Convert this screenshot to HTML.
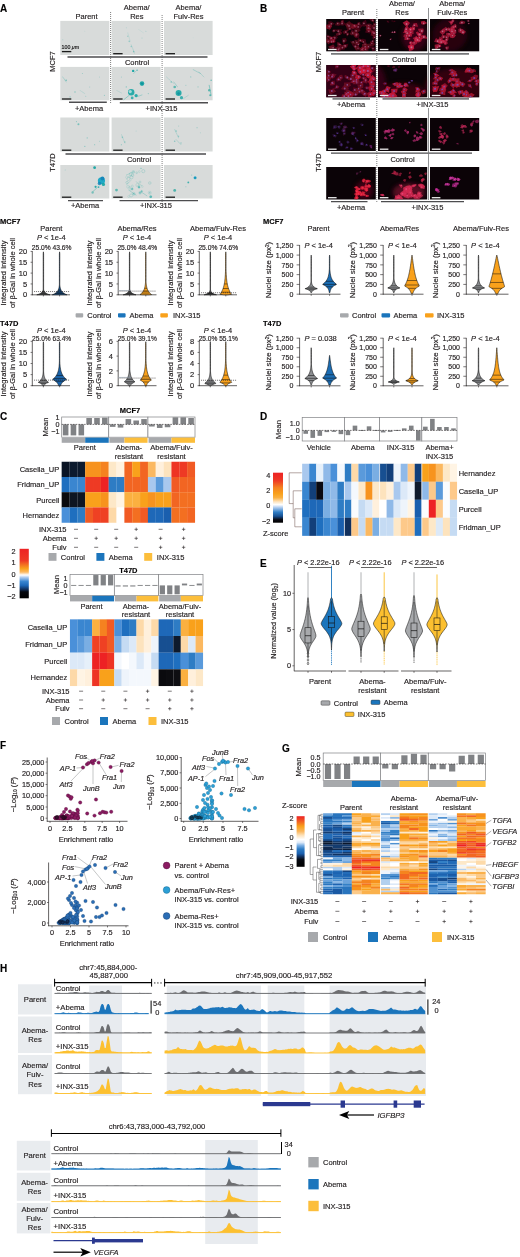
<!DOCTYPE html>
<html><head><meta charset="utf-8"><title>Figure</title>
<style>html,body{margin:0;padding:0;background:#fff}svg{display:block}text{font-family:'Liberation Sans', sans-serif;stroke:#231f20;stroke-width:0.16px}</style>
</head><body>
<svg width="520" height="1257" viewBox="0 0 520 1257">
<defs>
<filter id="b5" x="-5%" y="-5%" width="110%" height="110%"><feGaussianBlur stdDeviation="0.45"/></filter>
<filter id="b30" x="-5%" y="-5%" width="110%" height="110%"><feGaussianBlur stdDeviation="2.2"/></filter>
<filter id="b7" x="-5%" y="-5%" width="110%" height="110%"><feGaussianBlur stdDeviation="0.6"/></filter>
<clipPath id="cb00"><rect x="326.2" y="19" width="49.6" height="32.3"/></clipPath>
<clipPath id="cb01"><rect x="378" y="19" width="49.2" height="32.3"/></clipPath>
<clipPath id="cb02"><rect x="430" y="19" width="49.2" height="32.3"/></clipPath>
<clipPath id="cb10"><rect x="326.2" y="65" width="49.6" height="32.3"/></clipPath>
<clipPath id="cb11"><rect x="378" y="65" width="49.2" height="32.3"/></clipPath>
<clipPath id="cb12"><rect x="430" y="65" width="49.2" height="32.3"/></clipPath>
<clipPath id="cb20"><rect x="326.2" y="118" width="49.6" height="33"/></clipPath>
<clipPath id="cb21"><rect x="378" y="118" width="49.2" height="33"/></clipPath>
<clipPath id="cb22"><rect x="430" y="118" width="49.2" height="33"/></clipPath>
<clipPath id="cb30"><rect x="326.2" y="167" width="49.6" height="32.5"/></clipPath>
<clipPath id="cb31"><rect x="378" y="167" width="49.2" height="32.5"/></clipPath>
<clipPath id="cb32"><rect x="430" y="167" width="49.2" height="32.5"/></clipPath>
<clipPath id="cball"><rect x="326.2" y="19" width="49.6" height="32.3"/><rect x="378" y="19" width="49.2" height="32.3"/><rect x="430" y="19" width="49.2" height="32.3"/><rect x="326.2" y="65" width="49.6" height="32.3"/><rect x="378" y="65" width="49.2" height="32.3"/><rect x="430" y="65" width="49.2" height="32.3"/><rect x="326.2" y="118" width="49.6" height="33"/><rect x="378" y="118" width="49.2" height="33"/><rect x="430" y="118" width="49.2" height="33"/><rect x="326.2" y="167" width="49.6" height="32.5"/><rect x="378" y="167" width="49.2" height="32.5"/><rect x="430" y="167" width="49.2" height="32.5"/></clipPath>
<linearGradient id="gC" x1="0" y1="0" x2="0" y2="1"><stop offset="0" stop-color="#ed2224"/><stop offset="0.24" stop-color="#ee3a24"/><stop offset="0.32" stop-color="#f36f21"/><stop offset="0.4" stop-color="#f9a11b"/><stop offset="0.47" stop-color="#fbb860"/><stop offset="0.53" stop-color="#ffffff"/><stop offset="0.58" stop-color="#a9c8ee"/><stop offset="0.66" stop-color="#3a86d0"/><stop offset="0.74" stop-color="#1e68b8"/><stop offset="0.82" stop-color="#12305c"/><stop offset="0.87" stop-color="#05080f"/><stop offset="1" stop-color="#000000"/></linearGradient>
<linearGradient id="gD" x1="0" y1="0" x2="0" y2="1"><stop offset="0" stop-color="#ed2224"/><stop offset="0.16" stop-color="#ee3a24"/><stop offset="0.3" stop-color="#f58220"/><stop offset="0.42" stop-color="#f9a11b"/><stop offset="0.5" stop-color="#fbb040"/><stop offset="0.58" stop-color="#fde3bd"/><stop offset="0.64" stop-color="#ffffff"/><stop offset="0.7" stop-color="#a9c8ee"/><stop offset="0.79" stop-color="#2e7cc4"/><stop offset="0.87" stop-color="#174f91"/><stop offset="0.94" stop-color="#0a0a12"/><stop offset="1" stop-color="#000000"/></linearGradient>
<linearGradient id="gG" x1="0" y1="0" x2="0" y2="1"><stop offset="0" stop-color="#ed2224"/><stop offset="0.08" stop-color="#f05023"/><stop offset="0.2" stop-color="#f9a11b"/><stop offset="0.3" stop-color="#fbb860"/><stop offset="0.38" stop-color="#fde3bd"/><stop offset="0.46" stop-color="#ffffff"/><stop offset="0.52" stop-color="#dce9f8"/><stop offset="0.58" stop-color="#7aaee3"/><stop offset="0.65" stop-color="#2e7cc4"/><stop offset="0.74" stop-color="#1a5fae"/><stop offset="0.8" stop-color="#12305c"/><stop offset="0.86" stop-color="#05080f"/><stop offset="1" stop-color="#000000"/></linearGradient></defs>
<rect width="520" height="1257" fill="#fff"/>
<text x="0" y="12" font-size="10" fill="#000" font-weight="bold">A</text>
<text x="86.6" y="18.5" font-size="7.5" fill="#231f20" text-anchor="middle">Parent</text>
<text x="136.8" y="9.5" font-size="7.5" fill="#231f20" text-anchor="middle">Abema/</text>
<text x="136.8" y="18.5" font-size="7.5" fill="#231f20" text-anchor="middle">Res</text>
<text x="188.5" y="9.5" font-size="7.5" fill="#231f20" text-anchor="middle">Abema/</text>
<text x="188.5" y="18.5" font-size="7.5" fill="#231f20" text-anchor="middle">Fulv-Res</text>
<g>
<rect x="60.3" y="20.9" width="49" height="34.1" fill="#d8dbda"/>
<rect x="111.6" y="20.9" width="49" height="34.1" fill="#d8dbda"/>
<rect x="164" y="20.9" width="48.6" height="34.1" fill="#d8dbda"/>
<rect x="60.3" y="66.9" width="49" height="33.4" fill="#d8dbda"/>
<rect x="111.6" y="66.9" width="49" height="33.4" fill="#d8dbda"/>
<rect x="164" y="66.9" width="48.6" height="33.4" fill="#d8dbda"/>
<rect x="60.3" y="117.5" width="49" height="34" fill="#d8dbda"/>
<rect x="111.6" y="117.5" width="49" height="34" fill="#d8dbda"/>
<rect x="164" y="117.5" width="48.6" height="34" fill="#d8dbda"/>
<rect x="60.3" y="165" width="49" height="33.5" fill="#d8dbda"/>
<rect x="111.6" y="165" width="49" height="33.5" fill="#d8dbda"/>
<rect x="164" y="165" width="48.6" height="33.5" fill="#d8dbda"/>
</g>
<g filter="url(#b5)">
<circle cx="62.75" cy="39.66" r="0.5" fill="#2aa9a0" opacity="0.3"/>
<circle cx="84.8" cy="31.13" r="0.4" fill="#2aa9a0" opacity="0.2"/>
<circle cx="127.77" cy="36.24" r="0.7" fill="#2aa9a0" opacity="0.35"/>
<circle cx="129.24" cy="41.36" r="0.8" fill="#2aa9a0" opacity="0.4"/>
<circle cx="131.2" cy="46.48" r="0.7" fill="#2aa9a0" opacity="0.4"/>
<circle cx="133.65" cy="51.59" r="0.8" fill="#2aa9a0" opacity="0.45"/>
<circle cx="145.9" cy="31.13" r="0.5" fill="#2aa9a0" opacity="0.3"/>
<circle cx="141.98" cy="37.95" r="0.5" fill="#2aa9a0" opacity="0.25"/>
<circle cx="126.3" cy="27.72" r="0.5" fill="#2aa9a0" opacity="0.25"/>
<circle cx="193.16" cy="37.95" r="0.4" fill="#2aa9a0" opacity="0.15"/>
<circle cx="66.18" cy="80.26" r="0.8" fill="#2aa9a0" opacity="0.6"/>
<circle cx="75" cy="91.95" r="0.7" fill="#2aa9a0" opacity="0.5"/>
<circle cx="82.35" cy="73.58" r="0.5" fill="#2aa9a0" opacity="0.4"/>
<circle cx="89.7" cy="86.94" r="0.5" fill="#2aa9a0" opacity="0.35"/>
<circle cx="99.5" cy="76.92" r="0.5" fill="#2aa9a0" opacity="0.3"/>
<circle cx="70.1" cy="96.96" r="0.6" fill="#2aa9a0" opacity="0.45"/>
<circle cx="104.4" cy="95.29" r="0.6" fill="#2aa9a0" opacity="0.4"/>
<circle cx="85.78" cy="96.29" r="0.5" fill="#2aa9a0" opacity="0.35"/>
<circle cx="133.16" cy="70.91" r="1.2" fill="#17a5a4" opacity="0.95"/>
<circle cx="137.08" cy="70.24" r="0.7" fill="#17a5a4" opacity="0.7"/>
<circle cx="141.98" cy="83.6" r="2.3" fill="#17a5a4" opacity="0.95"/>
<circle cx="141.98" cy="83.6" r="1.2" fill="#0f8c9c" opacity="0.8"/>
<circle cx="131.2" cy="92.28" r="3.2" fill="#17a5a4" opacity="0.9"/>
<circle cx="130.22" cy="91.62" r="1.6" fill="#d8eeee" opacity="0.7"/>
<circle cx="136.1" cy="95.62" r="1.6" fill="#17a5a4" opacity="0.9"/>
<circle cx="132.18" cy="97.96" r="1.4" fill="#17a5a4" opacity="0.8"/>
<circle cx="126.3" cy="86.94" r="0.6" fill="#2aa9a0" opacity="0.5"/>
<circle cx="148.35" cy="93.62" r="0.6" fill="#2aa9a0" opacity="0.4"/>
<circle cx="121.4" cy="76.92" r="0.5" fill="#2aa9a0" opacity="0.4"/>
<circle cx="178.58" cy="92.95" r="3" fill="#17a5a4" opacity="0.9"/>
<circle cx="178.58" cy="93.62" r="1.4" fill="#0f8c9c" opacity="0.7"/>
<circle cx="174.69" cy="86.94" r="1.3" fill="#2aa9a0" opacity="0.7"/>
<circle cx="181.5" cy="97.63" r="1.6" fill="#17a5a4" opacity="0.8"/>
<circle cx="171.29" cy="81.93" r="0.8" fill="#2aa9a0" opacity="0.5"/>
<circle cx="209.2" cy="90.28" r="1.2" fill="#2aa9a0" opacity="0.7"/>
<circle cx="210.17" cy="95.29" r="1" fill="#2aa9a0" opacity="0.7"/>
<circle cx="211.14" cy="80.26" r="0.8" fill="#2aa9a0" opacity="0.6"/>
<circle cx="190.73" cy="76.92" r="0.6" fill="#2aa9a0" opacity="0.4"/>
<circle cx="198.02" cy="86.94" r="0.6" fill="#2aa9a0" opacity="0.4"/>
<circle cx="185.87" cy="85.27" r="0.6" fill="#2aa9a0" opacity="0.35"/>
<circle cx="78.43" cy="124.3" r="1" fill="#2aa9a0" opacity="0.55"/>
<circle cx="76.47" cy="121.58" r="0.6" fill="#2aa9a0" opacity="0.4"/>
<circle cx="87.25" cy="137.9" r="0.7" fill="#2aa9a0" opacity="0.4"/>
<circle cx="84.8" cy="146.4" r="0.7" fill="#2aa9a0" opacity="0.4"/>
<circle cx="94.6" cy="144.7" r="0.6" fill="#2aa9a0" opacity="0.35"/>
<circle cx="99.5" cy="141.3" r="0.5" fill="#2aa9a0" opacity="0.3"/>
<circle cx="122.38" cy="137.22" r="0.8" fill="#2aa9a0" opacity="0.4"/>
<circle cx="124.83" cy="141.98" r="0.8" fill="#2aa9a0" opacity="0.4"/>
<circle cx="121.4" cy="144.7" r="0.6" fill="#2aa9a0" opacity="0.35"/>
<circle cx="136.1" cy="131.1" r="0.5" fill="#2aa9a0" opacity="0.2"/>
<circle cx="176.15" cy="131.1" r="0.8" fill="#2aa9a0" opacity="0.4"/>
<circle cx="178.58" cy="136.2" r="0.7" fill="#2aa9a0" opacity="0.4"/>
<circle cx="174.69" cy="141.3" r="0.8" fill="#2aa9a0" opacity="0.45"/>
<circle cx="181.01" cy="143" r="0.7" fill="#2aa9a0" opacity="0.4"/>
<circle cx="197.05" cy="127.7" r="0.6" fill="#2aa9a0" opacity="0.35"/>
<circle cx="178.58" cy="126" r="0.6" fill="#2aa9a0" opacity="0.3"/>
<circle cx="200.45" cy="132.8" r="0.5" fill="#2aa9a0" opacity="0.25"/>
<circle cx="101.46" cy="180.75" r="3.6" fill="#19a6c4" opacity="0.95"/>
<circle cx="102.44" cy="178.4" r="2" fill="#1283b8" opacity="0.9"/>
<circle cx="99.5" cy="183.43" r="1.8" fill="#1283b8" opacity="0.8"/>
<circle cx="103.42" cy="184.43" r="1.6" fill="#17a5a4" opacity="0.9"/>
<circle cx="94.6" cy="167.68" r="1.4" fill="#17a5a4" opacity="0.95"/>
<circle cx="95.58" cy="186.78" r="1.1" fill="#17a5a4" opacity="0.9"/>
<circle cx="98.52" cy="187.11" r="0.9" fill="#17a5a4" opacity="0.8"/>
<circle cx="92.64" cy="192.47" r="1.2" fill="#2aa9a0" opacity="0.5"/>
<circle cx="65.2" cy="170.03" r="0.5" fill="#2aa9a0" opacity="0.3"/>
<circle cx="116.5" cy="190.12" r="1.4" fill="#2aa9a0" opacity="0.7"/>
<circle cx="141" cy="168.35" r="0.7" fill="#2aa9a0" opacity="0.5"/>
<circle cx="137.38" cy="185.03" r="1.54" fill="none" stroke="#2aa9a0" stroke-width="0.45" opacity="0.34"/>
<circle cx="138.74" cy="185.77" r="0.95" fill="none" stroke="#2aa9a0" stroke-width="0.45" opacity="0.35"/>
<circle cx="141.73" cy="191.28" r="0.77" fill="#17a5a4" opacity="0.46"/>
<circle cx="141.73" cy="191.28" r="0.87" fill="none" stroke="#2aa9a0" stroke-width="0.45" opacity="0.42"/>
<circle cx="143.29" cy="171.15" r="1.59" fill="none" stroke="#2aa9a0" stroke-width="0.45" opacity="0.46"/>
<circle cx="142.32" cy="186.52" r="0.93" fill="none" stroke="#2aa9a0" stroke-width="0.45" opacity="0.22"/>
<circle cx="139.25" cy="171.62" r="0.95" fill="none" stroke="#2aa9a0" stroke-width="0.45" opacity="0.28"/>
<circle cx="127.04" cy="182.46" r="1.15" fill="none" stroke="#2aa9a0" stroke-width="0.45" opacity="0.43"/>
<circle cx="139.02" cy="187.18" r="1.05" fill="#17a5a4" opacity="0.58"/>
<circle cx="139.02" cy="187.18" r="1.17" fill="none" stroke="#2aa9a0" stroke-width="0.45" opacity="0.29"/>
<circle cx="150.74" cy="196.71" r="1.29" fill="#17a5a4" opacity="0.6"/>
<circle cx="150.74" cy="196.71" r="1.05" fill="none" stroke="#2aa9a0" stroke-width="0.45" opacity="0.28"/>
<circle cx="133.38" cy="171.91" r="1.41" fill="none" stroke="#2aa9a0" stroke-width="0.45" opacity="0.32"/>
<circle cx="149.77" cy="192.73" r="0.7" fill="#17a5a4" opacity="0.42"/>
<circle cx="149.77" cy="192.73" r="1.53" fill="none" stroke="#2aa9a0" stroke-width="0.45" opacity="0.34"/>
<circle cx="128.09" cy="186.89" r="1.42" fill="none" stroke="#2aa9a0" stroke-width="0.45" opacity="0.29"/>
<circle cx="128.44" cy="178.94" r="1.57" fill="none" stroke="#2aa9a0" stroke-width="0.45" opacity="0.41"/>
<circle cx="129.19" cy="176.63" r="0.88" fill="none" stroke="#2aa9a0" stroke-width="0.45" opacity="0.23"/>
<circle cx="140" cy="182.02" r="0.95" fill="none" stroke="#2aa9a0" stroke-width="0.45" opacity="0.4"/>
<circle cx="129.51" cy="187.28" r="0.89" fill="none" stroke="#2aa9a0" stroke-width="0.45" opacity="0.33"/>
<circle cx="131.52" cy="177.26" r="1.58" fill="none" stroke="#2aa9a0" stroke-width="0.45" opacity="0.42"/>
<circle cx="133.75" cy="193.74" r="0.85" fill="#17a5a4" opacity="0.49"/>
<circle cx="133.75" cy="193.74" r="1.48" fill="none" stroke="#2aa9a0" stroke-width="0.45" opacity="0.38"/>
<circle cx="128.76" cy="196.54" r="0.97" fill="none" stroke="#2aa9a0" stroke-width="0.45" opacity="0.28"/>
<circle cx="133.56" cy="171.99" r="0.87" fill="none" stroke="#2aa9a0" stroke-width="0.45" opacity="0.37"/>
<circle cx="132.25" cy="186.14" r="1.1" fill="none" stroke="#2aa9a0" stroke-width="0.45" opacity="0.33"/>
<circle cx="149.8" cy="182.99" r="1.26" fill="none" stroke="#2aa9a0" stroke-width="0.45" opacity="0.44"/>
<circle cx="130.78" cy="174.16" r="1.53" fill="none" stroke="#2aa9a0" stroke-width="0.45" opacity="0.42"/>
<circle cx="132.41" cy="175.11" r="1.39" fill="none" stroke="#2aa9a0" stroke-width="0.45" opacity="0.46"/>
<circle cx="131.12" cy="195.49" r="1.51" fill="none" stroke="#2aa9a0" stroke-width="0.45" opacity="0.37"/>
<circle cx="136.63" cy="172.81" r="0.83" fill="none" stroke="#2aa9a0" stroke-width="0.45" opacity="0.46"/>
<circle cx="132.14" cy="188.91" r="0.88" fill="#17a5a4" opacity="0.64"/>
<circle cx="132.14" cy="188.91" r="1.28" fill="none" stroke="#2aa9a0" stroke-width="0.45" opacity="0.29"/>
<circle cx="130.6" cy="189.33" r="0.86" fill="none" stroke="#2aa9a0" stroke-width="0.45" opacity="0.28"/>
<circle cx="140" cy="192.87" r="1.13" fill="#17a5a4" opacity="0.45"/>
<circle cx="140" cy="192.87" r="1.53" fill="none" stroke="#2aa9a0" stroke-width="0.45" opacity="0.27"/>
<circle cx="126.71" cy="177.24" r="1.16" fill="none" stroke="#2aa9a0" stroke-width="0.45" opacity="0.24"/>
<circle cx="195.1" cy="177.73" r="1.5" fill="#19a6c4" opacity="0.95"/>
<circle cx="195.1" cy="177.73" r="0.8" fill="#1283b8" opacity="0.9"/>
<circle cx="188.3" cy="182.42" r="0.9" fill="#17a5a4" opacity="0.8"/>
<circle cx="174.69" cy="190.46" r="1.4" fill="#2aa9a0" opacity="0.8"/>
<circle cx="191.7" cy="175.05" r="0.6" fill="#2aa9a0" opacity="0.4"/>
<circle cx="185.87" cy="186.78" r="0.5" fill="#2aa9a0" opacity="0.4"/>
<line x1="129.24" y1="95.29" x2="123.85" y2="99.63" stroke="#2aa9a0" stroke-width="0.8" opacity="0.5" stroke-linecap="round"/>
<line x1="136.1" y1="96.96" x2="141.98" y2="94.96" stroke="#2aa9a0" stroke-width="0.7" opacity="0.45" stroke-linecap="round"/>
<line x1="133.65" y1="73.58" x2="136.1" y2="70.91" stroke="#2aa9a0" stroke-width="0.6" opacity="0.4" stroke-linecap="round"/>
<line x1="116.5" y1="90.28" x2="121.4" y2="92.95" stroke="#2aa9a0" stroke-width="0.5" opacity="0.3" stroke-linecap="round"/>
<line x1="193.16" y1="69.57" x2="200.45" y2="73.58" stroke="#2aa9a0" stroke-width="0.7" opacity="0.4" stroke-linecap="round"/>
<line x1="198.99" y1="71.91" x2="203.85" y2="76.92" stroke="#2aa9a0" stroke-width="0.6" opacity="0.35" stroke-linecap="round"/>
<line x1="209.2" y1="85.27" x2="211.14" y2="95.29" stroke="#2aa9a0" stroke-width="0.9" opacity="0.5" stroke-linecap="round"/>
<line x1="166.43" y1="76.92" x2="173.72" y2="83.6" stroke="#2aa9a0" stroke-width="0.5" opacity="0.3" stroke-linecap="round"/>
<line x1="177.61" y1="86.94" x2="173.72" y2="81.93" stroke="#2aa9a0" stroke-width="0.7" opacity="0.4" stroke-linecap="round"/>
<line x1="183.44" y1="98.63" x2="188.3" y2="95.29" stroke="#2aa9a0" stroke-width="0.6" opacity="0.35" stroke-linecap="round"/>
<line x1="62.75" y1="76.92" x2="66.18" y2="81.93" stroke="#2aa9a0" stroke-width="0.6" opacity="0.4" stroke-linecap="round"/>
<line x1="79.9" y1="90.28" x2="84.8" y2="93.62" stroke="#2aa9a0" stroke-width="0.5" opacity="0.3" stroke-linecap="round"/>
<line x1="127.77" y1="32.84" x2="130.22" y2="41.36" stroke="#2aa9a0" stroke-width="0.5" opacity="0.22" stroke-linecap="round"/>
<line x1="131.2" y1="44.77" x2="134.63" y2="53.3" stroke="#2aa9a0" stroke-width="0.6" opacity="0.28" stroke-linecap="round"/>
<line x1="138.55" y1="29.42" x2="143.45" y2="32.84" stroke="#2aa9a0" stroke-width="0.4" opacity="0.18" stroke-linecap="round"/>
<line x1="174.69" y1="129.4" x2="178.58" y2="137.9" stroke="#2aa9a0" stroke-width="0.6" opacity="0.35" stroke-linecap="round"/>
<line x1="176.15" y1="139.6" x2="181.01" y2="144.7" stroke="#2aa9a0" stroke-width="0.6" opacity="0.35" stroke-linecap="round"/>
<line x1="121.4" y1="134.5" x2="124.83" y2="143" stroke="#2aa9a0" stroke-width="0.6" opacity="0.3" stroke-linecap="round"/>
<line x1="126.3" y1="175.05" x2="133.65" y2="171.7" stroke="#2aa9a0" stroke-width="0.6" opacity="0.35" stroke-linecap="round"/>
<line x1="136.1" y1="181.75" x2="141.98" y2="185.77" stroke="#2aa9a0" stroke-width="0.6" opacity="0.35" stroke-linecap="round"/>
<line x1="128.75" y1="190.12" x2="136.1" y2="195.15" stroke="#2aa9a0" stroke-width="0.7" opacity="0.4" stroke-linecap="round"/>
<line x1="141" y1="191.8" x2="146.88" y2="195.82" stroke="#2aa9a0" stroke-width="0.7" opacity="0.4" stroke-linecap="round"/>
<line x1="131.2" y1="180.07" x2="126.3" y2="185.1" stroke="#2aa9a0" stroke-width="0.6" opacity="0.3" stroke-linecap="round"/>
<line x1="92.64" y1="191.8" x2="97.05" y2="187.78" stroke="#2aa9a0" stroke-width="0.8" opacity="0.5" stroke-linecap="round"/>
</g>
<line x1="61.9" y1="51.6" x2="71.3" y2="51.6" stroke="#1a1a1a" stroke-width="1.3"/>
<line x1="113.2" y1="53.7" x2="122.6" y2="53.7" stroke="#1a1a1a" stroke-width="1.3"/>
<line x1="165.6" y1="53.7" x2="175" y2="53.7" stroke="#1a1a1a" stroke-width="1.3"/>
<line x1="61.9" y1="99" x2="71.3" y2="99" stroke="#1a1a1a" stroke-width="1.3"/>
<line x1="113.2" y1="99" x2="122.6" y2="99" stroke="#1a1a1a" stroke-width="1.3"/>
<line x1="165.6" y1="99" x2="175" y2="99" stroke="#1a1a1a" stroke-width="1.3"/>
<line x1="61.9" y1="150.2" x2="71.3" y2="150.2" stroke="#1a1a1a" stroke-width="1.3"/>
<line x1="113.2" y1="150.2" x2="122.6" y2="150.2" stroke="#1a1a1a" stroke-width="1.3"/>
<line x1="165.6" y1="150.2" x2="175" y2="150.2" stroke="#1a1a1a" stroke-width="1.3"/>
<line x1="61.9" y1="197.2" x2="71.3" y2="197.2" stroke="#1a1a1a" stroke-width="1.3"/>
<line x1="113.2" y1="197.2" x2="122.6" y2="197.2" stroke="#1a1a1a" stroke-width="1.3"/>
<line x1="165.6" y1="197.2" x2="175" y2="197.2" stroke="#1a1a1a" stroke-width="1.3"/>
<text x="61.5" y="49" font-size="5.3" fill="#111">100 <tspan font-style="italic">μ</tspan>m</text>
<line x1="110.6" y1="12" x2="110.6" y2="104" stroke="#333" stroke-width="0.7" stroke-dasharray="0.9 1.1"/>
<line x1="162.1" y1="15" x2="162.1" y2="203" stroke="#333" stroke-width="0.7" stroke-dasharray="0.9 1.1"/>
<line x1="67.5" y1="57" x2="207.5" y2="57" stroke="#4d4d4f" stroke-width="1.5"/>
<line x1="69" y1="102.3" x2="106.8" y2="102.3" stroke="#4d4d4f" stroke-width="1.4"/>
<line x1="119.8" y1="102.7" x2="208" y2="102.7" stroke="#4d4d4f" stroke-width="1.4"/>
<line x1="65.5" y1="154" x2="206" y2="154" stroke="#4d4d4f" stroke-width="1.4"/>
<line x1="68" y1="200.7" x2="103" y2="200.7" stroke="#4d4d4f" stroke-width="1.3"/>
<line x1="119.5" y1="200.7" x2="198" y2="200.7" stroke="#4d4d4f" stroke-width="1.3"/>
<text x="137" y="65" font-size="7.5" fill="#231f20" text-anchor="middle">Control</text>
<text x="89" y="111" font-size="7.5" fill="#231f20" text-anchor="middle">+Abema</text>
<text x="161.5" y="111" font-size="7.5" fill="#231f20" text-anchor="middle">+INX-315</text>
<text x="139" y="161.8" font-size="7.5" fill="#231f20" text-anchor="middle">Control</text>
<text x="85" y="208" font-size="7.5" fill="#231f20" text-anchor="middle">+Abema</text>
<text x="156" y="208" font-size="7.5" fill="#231f20" text-anchor="middle">+INX-315</text>
<text x="55" y="61.5" font-size="7.5" fill="#231f20" text-anchor="middle" transform="rotate(-90 55 61.5)">MCF7</text>
<text x="55" y="162.5" font-size="7.5" fill="#231f20" text-anchor="middle" transform="rotate(-90 55 162.5)">T47D</text>
<text x="260" y="12" font-size="10" fill="#000" font-weight="bold">B</text>
<text x="353" y="15.2" font-size="7.5" fill="#231f20" text-anchor="middle">Parent</text>
<text x="402" y="6.3" font-size="7.5" fill="#231f20" text-anchor="middle">Abema/</text>
<text x="402" y="15.2" font-size="7.5" fill="#231f20" text-anchor="middle">Res</text>
<text x="452.3" y="6.3" font-size="7.5" fill="#231f20" text-anchor="middle">Abema/</text>
<text x="452.3" y="15.2" font-size="7.5" fill="#231f20" text-anchor="middle">Fulv-Res</text>
<rect x="326.2" y="19" width="49.6" height="32.3" fill="#0b0307"/>
<rect x="378" y="19" width="49.2" height="32.3" fill="#0b0307"/>
<rect x="430" y="19" width="49.2" height="32.3" fill="#0b0307"/>
<rect x="326.2" y="65" width="49.6" height="32.3" fill="#0b0307"/>
<rect x="378" y="65" width="49.2" height="32.3" fill="#0b0307"/>
<rect x="430" y="65" width="49.2" height="32.3" fill="#0b0307"/>
<rect x="326.2" y="118" width="49.6" height="33" fill="#0b0307"/>
<rect x="378" y="118" width="49.2" height="33" fill="#0b0307"/>
<rect x="430" y="118" width="49.2" height="33" fill="#0b0307"/>
<rect x="326.2" y="167" width="49.6" height="32.5" fill="#0b0307"/>
<rect x="378" y="167" width="49.2" height="32.5" fill="#0b0307"/>
<rect x="430" y="167" width="49.2" height="32.5" fill="#0b0307"/>
<g filter="url(#b30)" clip-path="url(#cball)"><ellipse cx="414.41" cy="35.96" rx="12.79" ry="15.34" fill="#4a081a" opacity="0.7"/><ellipse cx="449.68" cy="35.15" rx="17.22" ry="16.15" fill="#3c0615" opacity="0.6"/><ellipse cx="351" cy="81.15" rx="34.72" ry="25.84" fill="#42071a" opacity="0.7"/><ellipse cx="402.6" cy="92.45" rx="22.14" ry="9.69" fill="#520919" opacity="0.6"/><ellipse cx="454.6" cy="86" rx="29.52" ry="17.76" fill="#480817" opacity="0.65"/><ellipse cx="363.9" cy="190.4" rx="8.93" ry="9.75" fill="#6a0a20" opacity="0.55"/><ellipse cx="408.75" cy="192.19" rx="15.99" ry="8.94" fill="#7a1230" opacity="0.7"/></g>
<g filter="url(#b7)">
<g clip-path="url(#cb00)">
<polygon points="354.5,39.56 357.9,40.62 358.56,41.36 360.73,43.99 357.33,44.14 354.75,45.23 354.61,42.49" fill="#6e0b20" opacity="0.69"/>
<circle cx="356.79" cy="42.65" r="0.93" fill="#b0688a" opacity="0.7"/>
<polygon points="332.62,39.14 332.47,41.81 328.53,39.47 328.84,36.76 331.47,37.15" fill="#6e0b20" opacity="0.71"/>
<circle cx="330.73" cy="39.01" r="0.82" fill="#b0688a" opacity="0.7"/>
<polygon points="371.71,28.02 371.24,31.2 367.93,31.33 367.39,29.12 369.08,26.36" fill="#6e0b20" opacity="0.54"/>
<circle cx="369.73" cy="28.85" r="0.8" fill="#b0688a" opacity="0.7"/>
<polygon points="340.65,45.06 342.96,48.45 340.7,49.68 337.54,52.18 335.3,48.87 338.48,44.57" fill="#6e0b20" opacity="0.58"/>
<circle cx="339.3" cy="48.49" r="0.97" fill="#b0688a" opacity="0.7"/>
<polygon points="365.88,19.81 366.78,23.06 365.38,26.78 361.7,26.32 361.59,22.84 363.13,21.59" fill="#6e0b20" opacity="0.52"/>
<circle cx="363.91" cy="23.36" r="0.91" fill="#b0688a" opacity="0.7"/>
<polygon points="372.85,24.64 373.41,22.43 375.54,23.13 377.57,23.5 376.88,25.62 374.36,26.2 371.74,26.39" fill="#6e0b20" opacity="0.64"/>
<circle cx="374.82" cy="24.64" r="0.7" fill="#b0688a" opacity="0.7"/>
<polygon points="349.38,27.27 347.34,27.26 344.12,24.13 346.07,22.98 349.38,20.96 351.75,23.14" fill="#6e0b20" opacity="0.62"/>
<circle cx="347.69" cy="24.76" r="0.94" fill="#b0688a" opacity="0.7"/>
<polygon points="369.53,23.5 371.94,24.53 371.34,26.88 368.75,27.55 366.93,26.83 364.94,25.54 367.24,23.8" fill="#6e0b20" opacity="0.71"/>
<circle cx="368.6" cy="25.49" r="0.84" fill="#b0688a" opacity="0.7"/>
<polygon points="327.69,38.8 325.67,37.36 325.57,36.13 327.65,34.54 329.11,35.56 330.21,36.88 329.38,37.84" fill="#6e0b20" opacity="0.53"/>
<circle cx="328.03" cy="36.4" r="0.77" fill="#b0688a" opacity="0.7"/>
<polygon points="344.33,44.33 347.11,45.09 346.05,47.46 342.81,48.36 341.31,45.35" fill="#6e0b20" opacity="0.51"/>
<circle cx="344.23" cy="45.86" r="0.77" fill="#b0688a" opacity="0.7"/>
<polygon points="358.55,22.88 360.14,23.5 362.44,25.84 360.11,28.77 357.63,28.82 356.4,27.12 354.63,25.71" fill="#6e0b20" opacity="0.58"/>
<circle cx="358.06" cy="26.89" r="0.9" fill="#b0688a" opacity="0.7"/>
<polygon points="366.32,48.8 364.78,46.65 365.91,44.07 370.2,43.5 371.59,44.99 370.11,47.64 369.04,48.95" fill="#6e0b20" opacity="0.63"/>
<circle cx="368.22" cy="46.56" r="0.9" fill="#b0688a" opacity="0.7"/>
<polygon points="353.17,33.52 353.81,29.44 357.6,27.94 360.83,30 357.52,33.11" fill="#6e0b20" opacity="0.66"/>
<circle cx="356.1" cy="30.84" r="0.96" fill="#b0688a" opacity="0.7"/>
<polygon points="332.18,38.17 333.98,35.46 335.87,35.59 338.12,37.27 336.15,39.79 332.25,40.71" fill="#6e0b20" opacity="0.51"/>
<circle cx="334.78" cy="37.87" r="0.91" fill="#b0688a" opacity="0.7"/>
<polygon points="373.1,42.37 375.52,43.9 373.24,46.38 369.13,45.79 370.06,44.03 369.99,41.51" fill="#6e0b20" opacity="0.64"/>
<circle cx="371.86" cy="43.43" r="0.76" fill="#b0688a" opacity="0.7"/>
<polygon points="346.9,40.88 343.14,44.31 342.21,41.21 342.3,38.51 345.96,37.98" fill="#6e0b20" opacity="0.64"/>
<circle cx="343.84" cy="40.92" r="0.93" fill="#b0688a" opacity="0.7"/>
<polygon points="348.71,29.78 347.08,32.58 343.97,34.5 342.41,31.66 344.6,30.15" fill="#6e0b20" opacity="0.65"/>
<circle cx="345.78" cy="32.15" r="0.95" fill="#b0688a" opacity="0.7"/>
<polygon points="356.45,33.74 351.85,35.62 349.7,34.28 351.85,29.36 354.1,31.95" fill="#6e0b20" opacity="0.69"/>
<circle cx="352.64" cy="32.98" r="0.85" fill="#b0688a" opacity="0.7"/>
<polygon points="371.98,40.18 374.28,39.33 374.37,41.57 373.23,43.96 370.96,42.63 370.99,41.21" fill="#6e0b20" opacity="0.59"/>
<circle cx="372.61" cy="41.31" r="0.73" fill="#b0688a" opacity="0.7"/>
<polygon points="333.05,40.14 332.93,41.93 330.94,43.17 328.57,41.15 329.88,39.52 331.91,38.93" fill="#6e0b20" opacity="0.67"/>
<circle cx="331.56" cy="40.56" r="0.84" fill="#b0688a" opacity="0.7"/>
<polygon points="340.64,32.39 337.42,32.52 335.49,30.17 337.95,28.89 342.35,29.58" fill="#6e0b20" opacity="0.53"/>
<circle cx="338.37" cy="31.27" r="0.91" fill="#b0688a" opacity="0.7"/>
<polygon points="344.29,44.22 348.5,43.69 347.63,46.25 346.52,48.01 344.28,47.87 342.68,45.34" fill="#6e0b20" opacity="0.59"/>
<circle cx="345.29" cy="45.92" r="0.97" fill="#b0688a" opacity="0.7"/>
<polygon points="355.09,43.98 357.36,42.32 358.65,43.15 359.64,44.3 358.54,46.7 356.98,45.3" fill="#6e0b20" opacity="0.61"/>
<circle cx="358.28" cy="44.47" r="0.82" fill="#b0688a" opacity="0.7"/>
<polygon points="345.09,32.29 349.43,32.79 349.07,34.58 346.97,36.62 346.23,34.33" fill="#6e0b20" opacity="0.7"/>
<circle cx="347.51" cy="34.26" r="0.72" fill="#b0688a" opacity="0.7"/>
<polygon points="340.71,21.64 341.16,20.41 343.49,19.55 343.84,21.21 343.73,22.59 342.04,23.59" fill="#6e0b20" opacity="0.71"/>
<circle cx="342.16" cy="21.64" r="0.7" fill="#b0688a" opacity="0.7"/>
<polygon points="347.31,28.63 347.92,27.81 349.81,25.38 351.59,26.76 353.02,29.23 350.51,29.78 346.94,31.28" fill="#6e0b20" opacity="0.63"/>
<circle cx="349.74" cy="28.7" r="0.91" fill="#b0688a" opacity="0.7"/>
<polygon points="339.88,44.58 338.83,45.55 337.01,45.79 337.08,44.09 336.9,41.68 340.01,42.71" fill="#6e0b20" opacity="0.59"/>
<circle cx="338.5" cy="44.11" r="0.72" fill="#b0688a" opacity="0.7"/>
<polygon points="340.69,21.9 342.17,20.68 345.24,23.19 343.41,25.79 338.61,24.91" fill="#6e0b20" opacity="0.57"/>
<circle cx="342.11" cy="23.44" r="0.85" fill="#b0688a" opacity="0.7"/>
<polygon points="337.96,21.41 340.46,22.68 339.26,25.89 334.64,25.26 336.11,22.46" fill="#6e0b20" opacity="0.61"/>
<circle cx="337.71" cy="23.6" r="0.78" fill="#b0688a" opacity="0.7"/>
<polygon points="361.81,48.74 361.96,44.07 367.17,43.81 368.15,47.22 365.09,49.94" fill="#6e0b20" opacity="0.71"/>
<circle cx="365.24" cy="46.89" r="0.96" fill="#b0688a" opacity="0.7"/>
<polygon points="339.35,46.09 337.66,44.37 338.67,42.45 341.39,44.17 343.34,46.33" fill="#6e0b20" opacity="0.68"/>
<circle cx="339.9" cy="44.48" r="0.8" fill="#b0688a" opacity="0.7"/>
<polygon points="371.6,21.59 369.08,19.1 372.88,18.97 374.46,20.1 373.63,22.61" fill="#6e0b20" opacity="0.71"/>
<circle cx="372.67" cy="20.24" r="0.85" fill="#b0688a" opacity="0.7"/>
<polygon points="344.55,49.76 341.34,49.95 340.77,47.72 339.82,45.35 343.56,46.37 346.05,46.87" fill="#6e0b20" opacity="0.55"/>
<circle cx="342.41" cy="47.66" r="0.83" fill="#b0688a" opacity="0.7"/>
<polygon points="345.53,25.08 348.51,23.83 352.49,23.24 352.81,28.1 349.48,28.55 346.6,28.8" fill="#6e0b20" opacity="0.61"/>
<circle cx="349.02" cy="25.88" r="0.94" fill="#b0688a" opacity="0.7"/>
<polygon points="333.27,39.29 335.27,41.64 333.2,43.44 330.11,42.67 329.03,39.84" fill="#6e0b20" opacity="0.68"/>
<circle cx="331.61" cy="41.87" r="0.96" fill="#b0688a" opacity="0.7"/>
<polygon points="354.8,32.25 359.09,33.17 359.57,35.69 358.67,37.9 356.03,38.21 353.56,36.56 354.56,35.2" fill="#6e0b20" opacity="0.52"/>
<circle cx="356.16" cy="35.61" r="0.84" fill="#b0688a" opacity="0.7"/>
<polygon points="362.91,42.98 360.27,41.68 362.63,38.62 366.1,39.79 365.78,43.1" fill="#6e0b20" opacity="0.55"/>
<circle cx="363.37" cy="41.9" r="0.78" fill="#b0688a" opacity="0.7"/>
<polygon points="341.15,49.35 340.19,51.7 338.07,52.41 336.25,50.18 336.62,46.63 340.37,46.31" fill="#6e0b20" opacity="0.56"/>
<circle cx="338.34" cy="49.44" r="0.85" fill="#b0688a" opacity="0.7"/>
<polygon points="366.73,44.78 364.49,46.3 362.41,44.34 364.23,42.45 366.58,42.53" fill="#6e0b20" opacity="0.63"/>
<circle cx="365.01" cy="44.12" r="0.71" fill="#b0688a" opacity="0.7"/>
<polygon points="334.06,46.88 331.72,48.53 329.73,49.13 328.16,46.23 330.9,45.64 333.5,44.69" fill="#6e0b20" opacity="0.71"/>
<circle cx="331.1" cy="47.18" r="0.79" fill="#b0688a" opacity="0.7"/>
<polygon points="355.8,45.83 357.17,45.63 359.35,46.69 361.07,48.63 358.76,50.06 356.68,50.65 354.61,49.18" fill="#6e0b20" opacity="0.62"/>
<circle cx="357.96" cy="48.33" r="0.76" fill="#b0688a" opacity="0.7"/>
<polygon points="369.69,33.51 365.17,32.6 365.98,30.06 369.69,28.83 372.06,30.5" fill="#6e0b20" opacity="0.58"/>
<circle cx="368.75" cy="31.06" r="0.93" fill="#b0688a" opacity="0.7"/>
<polygon points="371.45,46.37 375.48,47.2 375.07,48.32 375.66,50.42 372.15,51.13 371.85,49.52 369.85,47.58" fill="#6e0b20" opacity="0.52"/>
<circle cx="372.99" cy="48.49" r="0.71" fill="#b0688a" opacity="0.7"/>
<polygon points="374.48,30.76 370.94,27.9 371.81,25.08 375.46,26.21 375.49,29.04" fill="#6e0b20" opacity="0.67"/>
<circle cx="374.06" cy="27.91" r="0.91" fill="#b0688a" opacity="0.7"/>
<polygon points="340.54,35.05 339.13,35.16 336.53,36.36 335.54,33.57 338.21,32.84 339.36,30.96 342.51,32.65" fill="#6e0b20" opacity="0.71"/>
<circle cx="339.23" cy="33.95" r="0.8" fill="#b0688a" opacity="0.7"/>
<polygon points="351.7,27.49 353.11,25.33 355.07,23.58 356.51,25.41 357.73,26.67 357.05,29.57 355.26,28.71" fill="#6e0b20" opacity="0.56"/>
<circle cx="355.13" cy="26.39" r="0.82" fill="#b0688a" opacity="0.7"/>
<polygon points="360.12,24.4 359.09,25.16 356.16,24.92 357.06,22.89 358.77,21.63 360.44,22.34" fill="#6e0b20" opacity="0.64"/>
<circle cx="358.64" cy="23.9" r="0.74" fill="#b0688a" opacity="0.7"/>
<polygon points="331.1,21.34 334.85,23.7 333.02,24.65 330.63,26.17 328.59,25.05 328.03,21.5" fill="#6e0b20" opacity="0.56"/>
<circle cx="331.31" cy="23.82" r="0.89" fill="#b0688a" opacity="0.7"/>
<polygon points="352.17,41.37 353.78,40.67 355.03,42.36 355.1,44.34 352.14,44.52 350.1,41.6" fill="#6e0b20" opacity="0.62"/>
<circle cx="353.12" cy="41.94" r="0.73" fill="#b0688a" opacity="0.7"/>
<polygon points="333.19,43.94 335.21,46.57 337.17,47.8 334.38,49.59 330.6,48.96 329.07,46.71" fill="#6e0b20" opacity="0.57"/>
<circle cx="333.1" cy="47.68" r="0.86" fill="#b0688a" opacity="0.7"/>
<polygon points="332.27,30.02 333.54,29.07 335.68,29.22 337.43,30.19 335.04,31.84 333.86,32.5 332.19,31.94" fill="#6e0b20" opacity="0.54"/>
<circle cx="333.94" cy="30.75" r="0.84" fill="#b0688a" opacity="0.7"/>
<polygon points="351.72,44.29 355.78,44.75 359.26,46.32 356.47,49.66 353.83,47.4" fill="#6e0b20" opacity="0.59"/>
<circle cx="355.33" cy="46.56" r="0.96" fill="#b0688a" opacity="0.7"/>
<polygon points="363.57,41.55 360.96,41.76 358.1,42.06 357.61,39.04 358.59,38.28 361.74,39.17 362.77,40.28" fill="#8c0f28" opacity="0.55"/>
<circle cx="360.3" cy="40.53" r="0.82" fill="#b0688a" opacity="0.7"/>
<polygon points="361.86,46.95 364.34,47.11 366.53,49.24 362.28,50.94 360.21,49.32" fill="#8c0f28" opacity="0.53"/>
<circle cx="362.84" cy="48.57" r="0.8" fill="#b0688a" opacity="0.7"/>
<polygon points="364.08,51.17 360.15,52.11 359.37,48.84 361.96,46.84 364.31,49.37" fill="#8c0f28" opacity="0.51"/>
<circle cx="362.07" cy="49.54" r="0.76" fill="#b0688a" opacity="0.7"/>
<polygon points="375.33,34.23 373.44,33.74 370.85,33.38 370.82,31.87 371.58,29.95 373.09,30.22 374.58,31.99" fill="#8c0f28" opacity="0.67"/>
<circle cx="373.02" cy="32.18" r="0.85" fill="#b0688a" opacity="0.7"/>
<polygon points="358.72,34.7 355.94,37.68 353.49,35.3 353.52,33.77 355.97,32.67 358.66,32.88" fill="#8c0f28" opacity="0.51"/>
<circle cx="356.51" cy="34.43" r="0.96" fill="#b0688a" opacity="0.7"/>
<polygon points="375.39,38.34 372.75,39.1 372.47,37.42 373.68,34.67 375.77,36.7" fill="#8c0f28" opacity="0.6"/>
<circle cx="374.58" cy="37.43" r="0.69" fill="#b0688a" opacity="0.7"/>
<polygon points="364.29,49.25 365.24,47.12 367.11,46.36 368.34,48.71 368.6,50.49 366.29,51.3 363.41,50.49" fill="#8c0f28" opacity="0.52"/>
<circle cx="365.63" cy="49.32" r="0.76" fill="#b0688a" opacity="0.7"/>
<polygon points="368.08,31.45 365.57,29.31 366.31,25.03 369.94,26.26 371.55,29.72" fill="#8c0f28" opacity="0.64"/>
<circle cx="368.43" cy="28.14" r="0.96" fill="#b0688a" opacity="0.7"/>
<polygon points="351.67,23.59 355.44,24.48 357.85,25.19 356.25,27.43 352.96,29.41 351.16,27.15" fill="#8c0f28" opacity="0.65"/>
<circle cx="354.29" cy="25.77" r="0.83" fill="#b0688a" opacity="0.7"/>
<polygon points="372.96,36.2 370.45,35.29 371.88,32.58 373.73,30.19 375.44,30.86 377.5,33.72 376.23,35.49" fill="#8c0f28" opacity="0.57"/>
<circle cx="374.1" cy="33.23" r="0.92" fill="#b0688a" opacity="0.7"/>
<polygon points="335.01,38.72 335.55,42.07 333.23,42.92 332.14,41.78 332.04,39.21" fill="#a01230" opacity="0.69"/>
<circle cx="333.43" cy="41.23" r="0.76" fill="#b0688a" opacity="0.7"/>
<polygon points="325.42,39.8 327.66,38.1 329.27,40.16 331.11,40.84 330.13,42.15 328.86,44.41 325.95,41.99" fill="#a01230" opacity="0.59"/>
<circle cx="328.22" cy="41.39" r="0.81" fill="#b0688a" opacity="0.7"/>
<polygon points="328.9,35.67 331.58,36.73 335.2,36.69 333.09,38.18 332.26,39.39 330.7,39.43 329.96,38.51" fill="#a01230" opacity="0.62"/>
<circle cx="331.28" cy="38.2" r="0.83" fill="#b0688a" opacity="0.7"/>
<polygon points="327.54,24.39 330.85,24.49 332.17,26.14 329.94,29.69 326.17,28.58 324.93,25.44" fill="#a01230" opacity="0.73"/>
<circle cx="329.27" cy="26.47" r="0.95" fill="#b0688a" opacity="0.7"/>
</g>
<g clip-path="url(#cb01)">
<polygon points="415.8,32.35 417.57,31.41 420.12,33.69 420.93,35.46 418.63,36.78 416.9,34.71" fill="#c81a40" opacity="0.73"/>
<circle cx="418.59" cy="34.32" r="0.73" fill="#c88aa6" opacity="0.7"/>
<polygon points="419.29,38.17 422.06,38.15 421.23,41.56 418.88,42.41 415.96,42.46 415.15,39.61" fill="#c81a40" opacity="0.7"/>
<circle cx="419" cy="40.57" r="0.83" fill="#c88aa6" opacity="0.7"/>
<polygon points="424.27,20.82 427.08,23.11 424.08,24.78 421.4,24.13 420.73,21.42" fill="#c81a40" opacity="0.79"/>
<circle cx="423.69" cy="23.4" r="0.83" fill="#c88aa6" opacity="0.7"/>
<polygon points="407.67,35.15 409.74,36.16 407.89,37.14 405.89,38.09 403.36,36.86 403.84,34.55 406.72,33.78" fill="#c81a40" opacity="0.61"/>
<circle cx="406.49" cy="35.9" r="0.69" fill="#c88aa6" opacity="0.7"/>
<polygon points="408.39,37.47 410.89,39.04 407.75,39.93 404.47,40.07 404.63,37.43 407.17,36.7" fill="#c81a40" opacity="0.71"/>
<circle cx="407.53" cy="38.66" r="0.81" fill="#c88aa6" opacity="0.7"/>
<polygon points="411.83,27.21 413.07,24.13 413.75,23.27 416.9,22.95 418.08,26.74 414.83,26.52" fill="#c81a40" opacity="0.63"/>
<circle cx="414.31" cy="25.27" r="0.84" fill="#c88aa6" opacity="0.7"/>
<polygon points="415.63,42.33 413.84,40.86 414.74,38.44 418.67,38.78 417.66,41.56" fill="#c81a40" opacity="0.71"/>
<circle cx="415.95" cy="40.23" r="0.68" fill="#c88aa6" opacity="0.7"/>
<polygon points="413.18,49.97 409,51.35 408.65,47.16 411.31,43.89 414.33,45.56" fill="#c81a40" opacity="0.78"/>
<circle cx="411.42" cy="47.85" r="0.97" fill="#c88aa6" opacity="0.7"/>
<polygon points="407.05,35.17 404.15,32.86 405.28,31.59 408.12,31.23 411.52,32.67 409.15,36.31" fill="#c81a40" opacity="0.6"/>
<circle cx="407.34" cy="33.28" r="1" fill="#c88aa6" opacity="0.7"/>
<polygon points="408.11,31.87 406.1,32.68 402.67,32.98 405.15,29.87 406.9,30.28" fill="#c81a40" opacity="0.63"/>
<circle cx="405.89" cy="31.65" r="0.79" fill="#c88aa6" opacity="0.7"/>
<polygon points="411.29,27.12 412.37,29.25 411.56,30.63 408.83,30.09 408.72,28.55" fill="#c81a40" opacity="0.84"/>
<circle cx="410.57" cy="29.28" r="0.68" fill="#c88aa6" opacity="0.7"/>
<polygon points="413.87,26.66 415.17,27.13 414.88,28.7 415.01,30.16 413.41,29.93 411.76,29.55 412,27.29" fill="#c81a40" opacity="0.81"/>
<circle cx="413.7" cy="28.78" r="0.68" fill="#c88aa6" opacity="0.7"/>
<polygon points="410.61,35.19 408.69,34.86 408.67,32.67 409.43,30.59 410.55,31.07 413.19,31.52 413.92,33.61" fill="#c81a40" opacity="0.63"/>
<circle cx="410.73" cy="32.57" r="0.77" fill="#c88aa6" opacity="0.7"/>
<polygon points="412.66,37.93 415.1,37.01 416.15,35.67 418.1,37.53 418.76,39.55 417.36,41.08 414.39,39.97" fill="#c81a40" opacity="0.74"/>
<circle cx="416.36" cy="38.47" r="0.96" fill="#c88aa6" opacity="0.7"/>
<polygon points="408.66,28.99 410.43,27.21 413.05,28.54 413.96,31.26 412.17,31.9 409.51,32.71 406.93,31.04" fill="#c81a40" opacity="0.66"/>
<circle cx="410.46" cy="29.79" r="0.83" fill="#c88aa6" opacity="0.7"/>
<polygon points="407.4,25.85 408.81,28.04 407.44,31.14 403.95,32.09 404.58,28.87 405.28,26.88" fill="#c81a40" opacity="0.75"/>
<circle cx="406.17" cy="29.17" r="0.88" fill="#c88aa6" opacity="0.7"/>
<polygon points="407.29,33.81 410.6,33.31 412.17,35.07 411.59,36.8 408.88,36.75 407.46,35.81" fill="#c81a40" opacity="0.72"/>
<circle cx="409.3" cy="35.68" r="0.72" fill="#c88aa6" opacity="0.7"/>
<polygon points="417.49,33.32 420.56,32.71 421.52,33.87 421.84,36.67 418.8,36.14 417.65,34.86" fill="#c81a40" opacity="0.77"/>
<circle cx="419.62" cy="34.45" r="1" fill="#c88aa6" opacity="0.7"/>
<polygon points="404.58,24.99 402.59,22.76 406.86,20.14 410.03,22.88 408.32,25.16 406.49,26.8" fill="#c81a40" opacity="0.81"/>
<circle cx="406.57" cy="23.95" r="0.93" fill="#c88aa6" opacity="0.7"/>
<polygon points="420.06,39.11 417.99,38.14 418.04,36.43 419.78,35.76 421.25,38.07" fill="#c81a40" opacity="0.7"/>
<circle cx="419.44" cy="37.64" r="0.66" fill="#c88aa6" opacity="0.7"/>
<polygon points="411.24,41.07 412.17,41.88 412.31,44.2 410.72,45.01 408.97,43.57 409.31,41.82" fill="#c81a40" opacity="0.71"/>
<circle cx="410.58" cy="42.84" r="0.75" fill="#c88aa6" opacity="0.7"/>
<polygon points="418.83,31.74 417.98,28.75 423.24,28.61 423.83,30.77 422.53,33.86" fill="#c81a40" opacity="0.63"/>
<circle cx="421.83" cy="30.95" r="1" fill="#c88aa6" opacity="0.7"/>
<polygon points="414.41,48.47 411.49,49.48 408.27,47.86 407.57,45.76 410.92,44.56 413.22,45.67" fill="#c81a40" opacity="0.85"/>
<circle cx="411.48" cy="47.16" r="0.97" fill="#c88aa6" opacity="0.7"/>
<polygon points="417.94,41.17 415.72,41.36 415.19,38.67 416.61,36.56 419.53,38.76 420.52,39.95" fill="#c81a40" opacity="0.66"/>
<circle cx="417.52" cy="39.88" r="0.85" fill="#c88aa6" opacity="0.7"/>
<polygon points="427.8,38.75 423.85,38.39 420.41,39.47 421.19,35.96 422.78,35.06 425.37,35.27" fill="#c81a40" opacity="0.71"/>
<circle cx="423.81" cy="36.92" r="1.02" fill="#c88aa6" opacity="0.7"/>
<polygon points="416.15,40.51 417.35,43.47 414.04,45.49 410.6,42.68 413.43,41.48" fill="#c81a40" opacity="0.67"/>
<circle cx="414.09" cy="42.87" r="0.71" fill="#c88aa6" opacity="0.7"/>
<polygon points="392.53,31.41 393.32,31.84 393.29,33.1 392.04,32.95 390.44,32.48 391.53,31.88" fill="#7a1030" opacity="0.65"/>
<circle cx="392.33" cy="32.19" r="0.6" fill="#c88aa6" opacity="0.7"/>
<polygon points="389.74,39.6 389.89,38.73 391.89,37.89 391.8,39.18 391.02,40.5" fill="#7a1030" opacity="0.59"/>
<circle cx="390.35" cy="39.32" r="0.6" fill="#c88aa6" opacity="0.7"/>
<polygon points="396.06,33.09 394.53,33.02 393.05,32.53 394.31,31.58 395.23,31.54" fill="#7a1030" opacity="0.7"/>
<circle cx="394.38" cy="32.38" r="0.6" fill="#c88aa6" opacity="0.7"/>
<polygon points="394.64,32.89 393.83,33.52 393.18,32.35 393.55,31.82 394.5,31.09 395.62,31.31 395.7,32.9" fill="#7a1030" opacity="0.54"/>
<circle cx="394.55" cy="31.94" r="0.6" fill="#c88aa6" opacity="0.7"/>
<polygon points="393.83,20.84 394.85,20.66 395.73,21.47 394.66,22.02 393.06,22.18" fill="#6a0c24" opacity="0.54"/>
<polygon points="392.5,20.47 393.21,20.58 392.75,21.61 392.08,21.82 391.46,21.15 391.44,20.44" fill="#6a0c24" opacity="0.54"/>
<polygon points="386.34,20.82 388.35,20.66 388.8,21.62 389.54,22.14 388.25,22.72 387.7,22.57 387.12,21.92" fill="#6a0c24" opacity="0.58"/>
<polygon points="379.12,34.73 380.85,34.84 381.65,35.73 380.67,36.6 379.28,36.61" fill="#8a1030" opacity="0.62"/>
<circle cx="380.53" cy="35.7" r="0.6" fill="#c88aa6" opacity="0.7"/>
</g>
<g clip-path="url(#cb02)">
<polygon points="439.8,36.56 442.31,38.97 442.14,41.04 440.46,42.95 436.59,41.59 438.72,38.85" fill="#b81a3e" opacity="0.73"/>
<circle cx="440.2" cy="40.1" r="0.8" fill="#c88aa6" opacity="0.7"/>
<polygon points="441.36,36.15 442.3,34.57 444.96,35.54 445.11,36.57 444.6,38 443.06,38.56 440.93,39.56" fill="#b81a3e" opacity="0.68"/>
<circle cx="443.57" cy="36.93" r="0.8" fill="#c88aa6" opacity="0.7"/>
<polygon points="441.47,43.36 437.73,42.64 434.02,41.68 435.99,38.07 439.24,39.91" fill="#b81a3e" opacity="0.7"/>
<circle cx="437.61" cy="41.13" r="0.89" fill="#c88aa6" opacity="0.7"/>
<polygon points="434.71,46.91 434.67,44.66 438.37,43.97 440.88,45.89 438.44,47.72 435.81,49.96" fill="#b81a3e" opacity="0.76"/>
<circle cx="437.31" cy="47.07" r="0.8" fill="#c88aa6" opacity="0.7"/>
<polygon points="446.79,41.96 448.2,42.96 445.92,45.02 444.35,44.66 443.32,42.45 443.6,40.79" fill="#b81a3e" opacity="0.79"/>
<circle cx="445.16" cy="43" r="0.67" fill="#c88aa6" opacity="0.7"/>
<polygon points="446.07,40.35 445.28,41.19 445.28,44.17 443.57,43.29 442.14,41.54 441.43,39.96 443.46,39.88" fill="#b81a3e" opacity="0.72"/>
<circle cx="443.92" cy="41.48" r="0.74" fill="#c88aa6" opacity="0.7"/>
<polygon points="439.69,47.51 436.89,46.87 437.5,45.18 439.11,44.39 440.93,45.11 441.35,46.82" fill="#b81a3e" opacity="0.75"/>
<circle cx="439.36" cy="46.1" r="0.82" fill="#c88aa6" opacity="0.7"/>
<polygon points="446.59,46.52 449.12,46.56 448.33,49.46 446.53,50.1 445.23,47.95 445.15,47.04" fill="#b81a3e" opacity="0.59"/>
<circle cx="446.78" cy="48" r="0.67" fill="#c88aa6" opacity="0.7"/>
<polygon points="451.57,33.05 454.16,34.31 456.03,35.33 454.63,37.35 452.92,38.16 450.02,37.53 449.81,34.24" fill="#c01c40" opacity="0.79"/>
<circle cx="452.46" cy="35.58" r="0.7" fill="#c88aa6" opacity="0.7"/>
<polygon points="446.53,42.42 444.32,42.34 444.73,39.72 445.69,38.4 448.59,38.28 448.31,40.05" fill="#c01c40" opacity="0.7"/>
<circle cx="446.53" cy="39.71" r="0.77" fill="#c88aa6" opacity="0.7"/>
<polygon points="439.39,32.04 440.67,30.66 443.39,28.14 444.73,30.33 445.22,32.75 442.43,35.01" fill="#c01c40" opacity="0.71"/>
<circle cx="442.61" cy="31.3" r="0.9" fill="#c88aa6" opacity="0.7"/>
<polygon points="448.22,27.31 451.44,28.43 452.22,30.38 448.92,30.68 446.59,29.49" fill="#c01c40" opacity="0.56"/>
<circle cx="449.07" cy="29.25" r="0.72" fill="#c88aa6" opacity="0.7"/>
<polygon points="443.36,28.94 445.39,26.7 448.55,28.4 449.19,30.38 446.43,31.39 443.52,32.16" fill="#c01c40" opacity="0.59"/>
<circle cx="446.32" cy="29.31" r="0.88" fill="#c88aa6" opacity="0.7"/>
<polygon points="446.14,35.24 446.27,32.7 449.34,32.98 452.02,33.82 448.86,36.72" fill="#c01c40" opacity="0.71"/>
<circle cx="449.09" cy="34" r="0.67" fill="#c88aa6" opacity="0.7"/>
<polygon points="452.6,26 456.67,25.69 454.91,27.7 454.02,30.54 450.78,28.89 450.42,26.73" fill="#c01c40" opacity="0.78"/>
<circle cx="453.39" cy="27" r="0.79" fill="#c88aa6" opacity="0.7"/>
<polygon points="445.24,42.09 442.26,43.11 439.55,40.94 442.44,39.31 444.64,40.84" fill="#c01c40" opacity="0.76"/>
<circle cx="443.07" cy="41.38" r="0.81" fill="#c88aa6" opacity="0.7"/>
<polygon points="440.21,40.27 444.31,40.37 444.09,42.74 440.8,44.59 437.19,42.76" fill="#c01c40" opacity="0.71"/>
<circle cx="441.19" cy="42.1" r="0.84" fill="#c88aa6" opacity="0.7"/>
<polygon points="450.86,32.21 453.65,30.82 455.57,32.59 455.8,33.99 454.15,34.96 451.22,33.65" fill="#c01c40" opacity="0.62"/>
<circle cx="453.87" cy="33.09" r="0.65" fill="#c88aa6" opacity="0.7"/>
<polygon points="445.09,38.09 444.76,37.27 444.68,35.14 448.28,35.82 449.83,36.14 448.04,38.45 447.17,39.31" fill="#c01c40" opacity="0.59"/>
<circle cx="446.64" cy="37.2" r="0.71" fill="#c88aa6" opacity="0.7"/>
<polygon points="449.89,22.93 448.08,21.46 451.56,20.96 453.2,22.04 452.35,23.38 451.11,25.7" fill="#b81a3e" opacity="0.76"/>
<circle cx="451.34" cy="22.42" r="0.78" fill="#c88aa6" opacity="0.7"/>
<polygon points="464.84,23.43 462.14,24.24 459.17,23.92 459.62,21.77 461.8,20.49 465.41,21.86" fill="#b81a3e" opacity="0.63"/>
<circle cx="461.91" cy="22.61" r="0.88" fill="#c88aa6" opacity="0.7"/>
<polygon points="454.29,28.4 456.34,30.37 456.34,33.35 453.86,32.59 453.18,30.26" fill="#b81a3e" opacity="0.67"/>
<circle cx="455.22" cy="30.78" r="0.7" fill="#c88aa6" opacity="0.7"/>
<polygon points="459.63,30.36 462.61,29.12 465.94,31.74 463.64,34.57 460.92,33.31" fill="#b81a3e" opacity="0.78"/>
<circle cx="462.95" cy="32.26" r="0.9" fill="#c88aa6" opacity="0.7"/>
<polygon points="449.19,29.93 451.43,27.46 453.04,27.46 454.49,31.31 452.53,32.24 449.31,31.9" fill="#b81a3e" opacity="0.68"/>
<circle cx="451.87" cy="30.22" r="0.85" fill="#c88aa6" opacity="0.7"/>
<polygon points="461.01,33.11 458.34,32.28 458.27,29.26 460.6,27.7 462.24,29.74" fill="#b81a3e" opacity="0.6"/>
<circle cx="460.53" cy="30.11" r="0.82" fill="#c88aa6" opacity="0.7"/>
<polygon points="455.71,23.98 456.42,24.94 456.42,26.43 456.7,28.45 453.45,27.5 452.05,25.77 453.89,24.52" fill="#b81a3e" opacity="0.65"/>
<circle cx="455.41" cy="26.28" r="0.67" fill="#c88aa6" opacity="0.7"/>
<polygon points="454.98,31 453.16,33 450.83,33.42 449.02,30.65 450.58,29.54 452.38,29.73" fill="#b81a3e" opacity="0.79"/>
<circle cx="452.06" cy="31.44" r="0.79" fill="#c88aa6" opacity="0.7"/>
<polygon points="453.44,22.24 452.2,23.91 449.98,22.47 451.45,20.5 452.5,19.28 453.98,19.57 454.46,21.05" fill="#b81a3e" opacity="0.73"/>
<circle cx="452.85" cy="21.01" r="0.66" fill="#c88aa6" opacity="0.7"/>
<polygon points="467.5,22.99 468.66,22.71 470.28,22.97 469.45,24.25 468.17,24.56" fill="#7a1030" opacity="0.49"/>
<circle cx="468.75" cy="23.48" r="0.6" fill="#c88aa6" opacity="0.7"/>
<polygon points="469.17,19.67 469.54,20.22 469.99,21.5 468.45,22.02 467.25,21.78 466.45,20.44 467.61,19.72" fill="#7a1030" opacity="0.52"/>
<circle cx="468.29" cy="20.96" r="0.6" fill="#c88aa6" opacity="0.7"/>
</g>
<g clip-path="url(#cb10)">
<polygon points="363.19,87.98 358.52,88.38 357.06,84.83 360.14,84.48 363.45,84.1" fill="#8a0e2a" opacity="0.54"/>
<circle cx="360.64" cy="85.75" r="0.8" fill="#9a68c0" opacity="0.7"/>
<polygon points="369.15,70.3 370.23,69.76 373.25,71.2 372.46,73.37 371.46,75.13 368.13,74.7 366.89,72.95" fill="#8a0e2a" opacity="0.52"/>
<circle cx="370.55" cy="72.46" r="0.76" fill="#9a68c0" opacity="0.7"/>
<polygon points="346.45,86.15 349.29,88.12 346.96,91.26 344.2,90.15 340.82,89.09 342.29,87 343.83,85.27" fill="#8a0e2a" opacity="0.53"/>
<circle cx="344.69" cy="88.46" r="0.94" fill="#9a68c0" opacity="0.7"/>
<polygon points="363.52,80.51 362.23,78.95 361.07,78.03 363.03,76.4 364.25,76.4 367.27,77.53 366.3,80.06" fill="#8a0e2a" opacity="0.68"/>
<circle cx="363.76" cy="78.26" r="0.73" fill="#9a68c0" opacity="0.7"/>
<polygon points="364.3,87.8 366.18,86.07 369.73,86.64 369.53,89.68 366.14,89.18" fill="#8a0e2a" opacity="0.53"/>
<circle cx="366.91" cy="87.98" r="0.81" fill="#9a68c0" opacity="0.7"/>
<polygon points="332.04,80.22 334.08,82.69 335.02,83.46 333.77,84.57 332.2,85.6 329.8,84.41 331.42,82.26" fill="#8a0e2a" opacity="0.53"/>
<circle cx="332.92" cy="83.35" r="0.88" fill="#9a68c0" opacity="0.7"/>
<polygon points="350.01,74.76 353.69,72.37 355.65,74.44 354.91,77.06 350.46,76.69" fill="#8a0e2a" opacity="0.6"/>
<circle cx="352.64" cy="75.36" r="0.96" fill="#9a68c0" opacity="0.7"/>
<polygon points="345.81,78.79 344.4,77.1 344.84,74.85 348.06,76.29 349.76,77.29 348.27,78.99" fill="#8a0e2a" opacity="0.63"/>
<circle cx="347.31" cy="77.47" r="0.92" fill="#9a68c0" opacity="0.7"/>
<polygon points="366.35,96.58 364.32,95.88 362.37,95.01 362.33,94.08 363.73,93.53 366.53,93.31" fill="#8a0e2a" opacity="0.52"/>
<circle cx="363.97" cy="94.44" r="0.7" fill="#9a68c0" opacity="0.7"/>
<polygon points="365.69,97.01 363.66,95.14 360.68,93.52 363.12,91.92 364.83,91.48 366.97,92.48 367.44,94.26" fill="#8a0e2a" opacity="0.6"/>
<circle cx="364.72" cy="93.64" r="0.95" fill="#9a68c0" opacity="0.7"/>
<polygon points="362.66,72.14 360.99,73 360.49,71.46 360.88,69.66 361.77,69.22 364.69,70.1 364.11,72.16" fill="#8a0e2a" opacity="0.58"/>
<circle cx="361.97" cy="70.79" r="0.7" fill="#9a68c0" opacity="0.7"/>
<polygon points="358.49,89.42 360.33,89.59 362.98,90.98 364.28,92.56 359.99,93.48 356.79,93.37 355.26,91.07" fill="#8a0e2a" opacity="0.57"/>
<circle cx="359.55" cy="91.48" r="0.96" fill="#9a68c0" opacity="0.7"/>
<polygon points="333.92,88.97 335.28,86.78 336.29,84.38 339.55,86.54 338.2,88.47" fill="#8a0e2a" opacity="0.66"/>
<circle cx="336.77" cy="86.97" r="0.83" fill="#9a68c0" opacity="0.7"/>
<polygon points="361.17,75.18 360.87,72.05 364.76,72.6 367.15,75.36 363.79,76.58" fill="#8a0e2a" opacity="0.67"/>
<circle cx="363.19" cy="74.59" r="0.95" fill="#9a68c0" opacity="0.7"/>
<polygon points="352.33,83.33 349.6,82.41 352.23,80.23 354.44,79.71 355,81.74" fill="#8a0e2a" opacity="0.71"/>
<circle cx="353.08" cy="81.51" r="0.78" fill="#9a68c0" opacity="0.7"/>
<polygon points="338.22,67.96 335.25,68.51 334.92,65.53 338.64,63.76 338.8,66.32" fill="#8a0e2a" opacity="0.61"/>
<circle cx="337.15" cy="66.49" r="0.69" fill="#9a68c0" opacity="0.7"/>
<polygon points="368.25,86.57 370.4,83.01 373.83,84.1 373.74,86.88 371.82,87.83" fill="#8a0e2a" opacity="0.55"/>
<circle cx="372.16" cy="85.73" r="0.9" fill="#9a68c0" opacity="0.7"/>
<polygon points="360.87,63.84 365.56,64.94 365.18,68.59 363.53,70.94 361.46,69.01 358.26,67.35" fill="#8a0e2a" opacity="0.51"/>
<circle cx="362.24" cy="67.52" r="0.97" fill="#9a68c0" opacity="0.7"/>
<polygon points="333.38,87.95 336.11,91.54 334.09,92.86 330.23,94.85 328.98,92.18 328.26,89.14 331.26,89.39" fill="#8a0e2a" opacity="0.64"/>
<circle cx="331.78" cy="91" r="0.95" fill="#9a68c0" opacity="0.7"/>
<polygon points="357.25,80.22 356.46,82.29 353.89,84.67 351.98,82.53 352.04,79.4 354.87,78.95" fill="#8a0e2a" opacity="0.66"/>
<circle cx="354.02" cy="81.24" r="0.88" fill="#9a68c0" opacity="0.7"/>
<polygon points="366.32,67.9 366.98,65.94 368.65,65.09 370.96,65.16 369.23,68.5" fill="#8a0e2a" opacity="0.59"/>
<circle cx="368.37" cy="66.38" r="0.7" fill="#9a68c0" opacity="0.7"/>
<polygon points="357.08,88.21 358.56,90.76 356.24,91.65 354.03,91.03 352.04,91.23 353.16,89.41 353.29,87.14" fill="#8a0e2a" opacity="0.56"/>
<circle cx="354.8" cy="89.92" r="0.86" fill="#9a68c0" opacity="0.7"/>
<polygon points="368.35,81.71 366.65,83.64 363.31,82.13 364.01,78.44 366.48,79.25" fill="#8a0e2a" opacity="0.64"/>
<circle cx="365.65" cy="80.72" r="0.78" fill="#9a68c0" opacity="0.7"/>
<polygon points="366.25,68.19 361.59,70.07 358.28,67.61 359.95,66.1 361.65,63.66 365.84,65.98" fill="#8a0e2a" opacity="0.65"/>
<circle cx="362.24" cy="66.87" r="0.91" fill="#9a68c0" opacity="0.7"/>
<polygon points="362.4,66.81 363.34,68.44 363.42,70.42 360.88,70.62 360.16,69.54 359.65,68.3 359.62,66.84" fill="#8a0e2a" opacity="0.54"/>
<circle cx="360.96" cy="68.56" r="0.69" fill="#9a68c0" opacity="0.7"/>
<polygon points="330.96,77.15 328.85,78.89 328.91,80.25 326.29,79.3 325.31,77.95 325.22,76.13 328.17,75.12" fill="#8a0e2a" opacity="0.7"/>
<circle cx="327.84" cy="77.91" r="0.8" fill="#9a68c0" opacity="0.7"/>
<polygon points="354.48,80.28 350.28,80.4 347.39,79.54 349.34,77.87 351.55,76.28 354.84,77.01" fill="#8a0e2a" opacity="0.66"/>
<circle cx="350.86" cy="79.07" r="0.95" fill="#9a68c0" opacity="0.7"/>
<polygon points="357.86,95.02 355.31,96.18 351.96,94.74 353.33,90.94 358.81,92.24" fill="#8a0e2a" opacity="0.64"/>
<circle cx="355.7" cy="94.47" r="0.98" fill="#9a68c0" opacity="0.7"/>
<polygon points="329.96,73.51 327.97,75.22 325.06,71.79 327.5,69.47 329.56,70.71 331.4,71.7" fill="#8a0e2a" opacity="0.52"/>
<circle cx="328.84" cy="71.67" r="0.9" fill="#9a68c0" opacity="0.7"/>
<polygon points="356.29,71.4 357.27,73.29 356.83,75.33 355.08,74.94 352.54,75.04 354.34,72.74" fill="#8a0e2a" opacity="0.67"/>
<circle cx="355.3" cy="73.64" r="0.7" fill="#9a68c0" opacity="0.7"/>
<polygon points="335.01,82.08 334.91,84.92 331.96,85.6 329.91,85.54 330.72,82.28 332.04,81.55 334.37,80.5" fill="#8a0e2a" opacity="0.57"/>
<circle cx="332.18" cy="82.81" r="0.92" fill="#9a68c0" opacity="0.7"/>
<polygon points="358.43,84.81 354.15,84.3 354.07,81.21 358.87,78.64 360.4,82.67" fill="#8a0e2a" opacity="0.52"/>
<circle cx="356.78" cy="82.45" r="0.93" fill="#9a68c0" opacity="0.7"/>
<polygon points="342.3,74.63 343.31,78.27 341.27,79.67 337.28,79.43 338.92,76.91 339.53,75.01" fill="#8a0e2a" opacity="0.54"/>
<circle cx="340.76" cy="77.74" r="0.79" fill="#9a68c0" opacity="0.7"/>
<polygon points="336.9,74.47 334.18,76.98 332.27,76.52 330.2,75.68 331.4,73.62 333.73,73.39" fill="#8a0e2a" opacity="0.55"/>
<circle cx="332.79" cy="75.26" r="0.89" fill="#9a68c0" opacity="0.7"/>
<polygon points="349.99,82.24 351.13,85.71 348.19,87.35 343.96,86.58 343.99,82.52" fill="#8a0e2a" opacity="0.56"/>
<circle cx="347.28" cy="84.86" r="0.85" fill="#9a68c0" opacity="0.7"/>
<polygon points="355.27,75.16 353.01,74.17 351.03,73.21 352.67,70.55 354.76,69.97 355.9,71.69 357.36,73.3" fill="#8a0e2a" opacity="0.69"/>
<circle cx="354.43" cy="72.58" r="0.73" fill="#9a68c0" opacity="0.7"/>
<polygon points="374.25,88.23 372.63,89.6 369.77,86.64 369.44,84.32 372.84,81.9 375.07,84.62" fill="#8a0e2a" opacity="0.52"/>
<circle cx="371.71" cy="85.45" r="0.98" fill="#9a68c0" opacity="0.7"/>
<polygon points="358.3,90.57 360.69,88.3 363.09,89.4 365.4,91.8 362.3,93.2 360.78,91.64" fill="#8a0e2a" opacity="0.72"/>
<circle cx="362" cy="90.7" r="0.77" fill="#9a68c0" opacity="0.7"/>
<polygon points="329.9,75.95 328.62,77.14 326.2,78.06 325.93,75.64 327.36,73.53 331.31,73.93" fill="#8a0e2a" opacity="0.55"/>
<circle cx="328.64" cy="75.67" r="0.85" fill="#9a68c0" opacity="0.7"/>
<polygon points="359.81,89.98 357.31,91.39 356.41,88.19 358.26,87.01 361.37,87.05 360.31,88.83" fill="#8a0e2a" opacity="0.5"/>
<circle cx="358.61" cy="88.81" r="0.75" fill="#9a68c0" opacity="0.7"/>
<polygon points="326.04,79.99 325.71,77.96 328.66,76.38 331.34,78.36 330.32,80.5 327.22,82.19" fill="#8a0e2a" opacity="0.61"/>
<circle cx="328.68" cy="79.75" r="0.85" fill="#9a68c0" opacity="0.7"/>
<polygon points="333.35,73.95 335.32,76.98 332.57,78.78 330.23,77.83 330.95,75.48" fill="#8a0e2a" opacity="0.67"/>
<circle cx="332.04" cy="76.67" r="0.84" fill="#9a68c0" opacity="0.7"/>
<polygon points="351.56,94.34 348.18,96.3 345.05,94.88 345.22,91.72 348.15,89.62 350.52,90.81" fill="#8a0e2a" opacity="0.62"/>
<circle cx="348.11" cy="92.75" r="0.88" fill="#9a68c0" opacity="0.7"/>
<polygon points="360.58,81.35 364.25,80.52 363.41,83.1 362.61,85.43 359.33,84.36" fill="#8a0e2a" opacity="0.66"/>
<circle cx="361.41" cy="82.58" r="0.79" fill="#9a68c0" opacity="0.7"/>
<polygon points="336.82,81.65 336.06,79.23 338.11,77.12 339.98,76.29 340.57,79.29 341.49,81.31 339.16,80.95" fill="#8a0e2a" opacity="0.58"/>
<circle cx="338.56" cy="79.39" r="0.95" fill="#9a68c0" opacity="0.7"/>
<polygon points="375.76,85.07 374.73,86.99 372.67,88.88 370.57,87.16 371.32,84.05 374.14,82.94" fill="#8a0e2a" opacity="0.66"/>
<circle cx="373.29" cy="86.36" r="0.82" fill="#9a68c0" opacity="0.7"/>
<polygon points="375.08,69.57 373.8,72.14 368.6,69.54 370.48,67.36 373.81,66.65" fill="#8a0e2a" opacity="0.52"/>
<circle cx="372.18" cy="68.36" r="0.99" fill="#9a68c0" opacity="0.7"/>
<polygon points="354.52,80.49 355.14,78.32 359.1,78.62 358.33,82.94 355.29,82.35" fill="#8a0e2a" opacity="0.69"/>
<circle cx="356.36" cy="80.89" r="0.85" fill="#9a68c0" opacity="0.7"/>
<polygon points="367.5,80.44 365.88,81.17 363.92,81.24 364.56,80 365.04,78.18 366.44,78.45 367.67,79.36" fill="#8a0e2a" opacity="0.64"/>
<circle cx="365.68" cy="80" r="0.7" fill="#9a68c0" opacity="0.7"/>
<polygon points="354.47,79.81 354.42,78.47 356.89,77.24 358.16,79.78 356.58,81.6" fill="#8a0e2a" opacity="0.66"/>
<circle cx="356.55" cy="79.68" r="0.75" fill="#9a68c0" opacity="0.7"/>
<polygon points="366.16,68.51 364.48,65.5 366.44,64.49 368.93,64.68 370.59,65.12 370.42,68.53 368.87,69.9" fill="#d81838" opacity="0.66"/>
<circle cx="367.77" cy="66.16" r="0.92" fill="#9a68c0" opacity="0.7"/>
<polygon points="365.62,72.12 364.04,68.48 366.95,68.18 370.09,68.08 372.55,71.39 370.83,72.81 366.99,72.57" fill="#d81838" opacity="0.8"/>
<circle cx="367.86" cy="70.88" r="1.03" fill="#9a68c0" opacity="0.7"/>
<polygon points="355.77,74.5 359,74.97 361.04,76.72 360.35,78.59 357.65,79.19 354.87,77.87" fill="#d81838" opacity="0.75"/>
<circle cx="358.7" cy="76.89" r="0.81" fill="#9a68c0" opacity="0.7"/>
<polygon points="361.08,73.5 359.99,71.64 362.9,68.61 364.47,68.8 366,70.5 365.81,73.53" fill="#d81838" opacity="0.9"/>
<circle cx="363.79" cy="70.56" r="0.95" fill="#9a68c0" opacity="0.7"/>
<polygon points="352.74,69.4 349.79,66.54 352.34,64.87 356.92,64.2 355.21,67.25" fill="#d81838" opacity="0.83"/>
<circle cx="353.3" cy="66.63" r="1" fill="#9a68c0" opacity="0.7"/>
<polygon points="353.8,70.74 356.46,71.91 355.31,73.99 353.07,74.96 351.79,71.33" fill="#d81838" opacity="0.65"/>
<circle cx="354.12" cy="72.54" r="0.9" fill="#9a68c0" opacity="0.7"/>
<polygon points="367.68,66.77 363.21,68.04 361.98,66.62 362.95,64.13 365.64,63.12" fill="#d81838" opacity="0.71"/>
<circle cx="363.52" cy="66.11" r="0.89" fill="#9a68c0" opacity="0.7"/>
<polygon points="357.45,70.18 357.69,69.03 361.67,69.57 363.43,71.2 362.16,72.72 360.57,75.15 357.74,72.18" fill="#d81838" opacity="0.68"/>
<circle cx="360.19" cy="71.75" r="0.89" fill="#9a68c0" opacity="0.7"/>
<polygon points="364.74,75.13 366.2,72.39 370.47,73.01 371.23,76.46 368.39,78.62" fill="#d81838" opacity="0.79"/>
<circle cx="367.89" cy="75.15" r="0.91" fill="#9a68c0" opacity="0.7"/>
<polygon points="356.93,67.16 358.84,64.24 363.5,67.48 362.59,70.63 357.91,70.64" fill="#d81838" opacity="0.68"/>
<circle cx="359.83" cy="67.79" r="1.02" fill="#9a68c0" opacity="0.7"/>
<polygon points="352.6,69.86 352.76,67.96 353.8,67.24 357.47,67.38 356.38,69.57 354.01,70.3" fill="#d81838" opacity="0.84"/>
<circle cx="354.13" cy="69.1" r="0.8" fill="#9a68c0" opacity="0.7"/>
<polygon points="367.16,92.9 370.4,91.39 372.91,92.75 374.07,95.35 370.76,96.64 368.07,97.42" fill="#c81636" opacity="0.68"/>
<circle cx="370.42" cy="94.13" r="0.92" fill="#9a68c0" opacity="0.7"/>
<polygon points="374.46,76.98 375.46,78.78 373,79.92 369.05,80.72 369.55,77.83 372.57,74.66" fill="#c81636" opacity="0.84"/>
<circle cx="372.62" cy="78.3" r="0.93" fill="#9a68c0" opacity="0.7"/>
<polygon points="374.53,85.14 369.59,84.82 367.78,81.45 370.28,79.09 375.05,82.22" fill="#c81636" opacity="0.68"/>
<circle cx="371.49" cy="82.19" r="0.91" fill="#9a68c0" opacity="0.7"/>
<polygon points="373.4,89.38 377.73,91.04 375.58,93.76 373.85,96.2 370.42,93.73" fill="#c81636" opacity="0.78"/>
<circle cx="373.99" cy="92.99" r="0.86" fill="#9a68c0" opacity="0.7"/>
<polygon points="374.6,80.86 372.67,81.05 371.25,80.68 371.02,77.59 373.87,76.6 376.89,77.79 376.51,80.27" fill="#c81636" opacity="0.6"/>
<circle cx="373.8" cy="79.42" r="0.8" fill="#9a68c0" opacity="0.7"/>
<polygon points="371.73,91.06 369.62,91.86 368.16,87.35 371.31,85.62 373.87,87.33 374.96,90.6" fill="#c81636" opacity="0.7"/>
<circle cx="371.7" cy="88.82" r="0.86" fill="#9a68c0" opacity="0.7"/>
<polygon points="345.96,94.06 347.13,96.02 345.77,97.37 344.47,98.35 342.39,97.81 341.38,97.02 342.03,94.54" fill="#b01432" opacity="0.56"/>
<circle cx="344.23" cy="96.25" r="0.91" fill="#9a68c0" opacity="0.7"/>
<polygon points="347.04,92.82 350.39,93.54 348.21,95.21 346.01,95.85 344.49,94.53 344.45,91.59" fill="#b01432" opacity="0.64"/>
<circle cx="346.48" cy="94.23" r="0.9" fill="#9a68c0" opacity="0.7"/>
<polygon points="348.59,93.93 349.14,91.35 352.2,91.4 353.59,93.47 353.81,94.93 352.33,97.11 347.96,96.36" fill="#b01432" opacity="0.74"/>
<circle cx="350.54" cy="94.41" r="0.78" fill="#9a68c0" opacity="0.7"/>
<polygon points="347.61,99.75 346.81,96.79 345.61,93.77 348.62,94.5 350.02,95.65 350.65,98.86" fill="#b01432" opacity="0.71"/>
<circle cx="348.36" cy="96.08" r="0.86" fill="#9a68c0" opacity="0.7"/>
</g>
<g clip-path="url(#cb11)">
<polygon points="394.34,98.36 391.28,97.21 390.37,95.81 389.83,93.24 393.92,91.7 395.83,93.92 397.5,96.22" fill="#cc1a3a" opacity="0.8"/>
<circle cx="393.11" cy="94.82" r="1.02" fill="#6a5ad8" opacity="0.7"/>
<polygon points="393.91,88.81 397.65,88.74 397.04,92.73 394.52,92.42 391.54,94.04 391.1,88.94" fill="#cc1a3a" opacity="0.79"/>
<circle cx="394.07" cy="91.05" r="0.94" fill="#6a5ad8" opacity="0.7"/>
<polygon points="390.74,87.35 389.1,90.19 389.28,92.67 385.3,91.08 385.45,88.3 386.76,85.97" fill="#cc1a3a" opacity="0.82"/>
<circle cx="387.3" cy="89.28" r="0.95" fill="#6a5ad8" opacity="0.7"/>
<polygon points="416.54,92.86 417.55,91.66 418.93,90.85 420.91,93.07 420.9,94.69 418.5,97.07 415.27,95.5" fill="#cc1a3a" opacity="0.71"/>
<circle cx="418.33" cy="93.4" r="0.83" fill="#6a5ad8" opacity="0.7"/>
<polygon points="418.18,87.15 419.99,88.95 420.54,90.34 415.42,92.75 415.83,89.59 415.34,87.37" fill="#cc1a3a" opacity="0.81"/>
<circle cx="417.57" cy="89.08" r="0.96" fill="#6a5ad8" opacity="0.7"/>
<polygon points="417.49,92.52 419.3,94.08 420.69,95.12 419.67,96.7 417.17,97.37 415.58,96.06 415.37,93.64" fill="#cc1a3a" opacity="0.82"/>
<circle cx="418.08" cy="94.94" r="0.78" fill="#6a5ad8" opacity="0.7"/>
<polygon points="425.82,92.95 422.48,94.19 420.77,91.21 423.35,89.64 425.48,89.6" fill="#cc1a3a" opacity="0.63"/>
<circle cx="423.73" cy="91.38" r="0.8" fill="#6a5ad8" opacity="0.7"/>
<polygon points="392.11,99.35 387.95,98.76 388.3,96.38 388.49,95.2 388.99,93.78 392.04,95.21 392.62,96.03" fill="#cc1a3a" opacity="0.68"/>
<circle cx="390.32" cy="96.21" r="0.92" fill="#6a5ad8" opacity="0.7"/>
<polygon points="386.52,94.89 387.07,97.89 385.09,99.07 381.66,98.16 381.12,95.53 383.81,94.33" fill="#cc1a3a" opacity="0.67"/>
<circle cx="384.32" cy="96.64" r="0.9" fill="#6a5ad8" opacity="0.7"/>
<polygon points="390.53,97.88 391,94.83 392.3,93.86 394.32,93.29 394.71,95.38 393.37,97.7" fill="#cc1a3a" opacity="0.88"/>
<circle cx="392.7" cy="95.64" r="0.97" fill="#6a5ad8" opacity="0.7"/>
<polygon points="388.93,94.29 390.71,95.96 389.53,96.97 387.69,98.82 385.75,96.04 383.6,94.45 386.65,92.65" fill="#cc1a3a" opacity="0.68"/>
<circle cx="388.01" cy="95.68" r="1" fill="#6a5ad8" opacity="0.7"/>
<polygon points="386.5,89.08 386.12,92.95 383.16,94.99 381.6,90.92 383.28,89.82" fill="#cc1a3a" opacity="0.74"/>
<circle cx="384.4" cy="91.22" r="0.93" fill="#6a5ad8" opacity="0.7"/>
<polygon points="404.5,93.35 405.84,94.31 405.89,97.81 402,98.33 402.05,94.29" fill="#cc1a3a" opacity="0.79"/>
<circle cx="404.02" cy="94.83" r="1" fill="#6a5ad8" opacity="0.7"/>
<polygon points="389.54,92.93 392.92,93.82 392.13,96.69 388.5,97.17 388.1,94.81" fill="#cc1a3a" opacity="0.72"/>
<circle cx="389.59" cy="94.85" r="0.73" fill="#6a5ad8" opacity="0.7"/>
<polygon points="400.8,91.75 401.89,90.56 403.99,90 405.09,90.78 406.69,93.52 405.76,94.45 402.47,94.18" fill="#cc1a3a" opacity="0.76"/>
<circle cx="403.81" cy="91.75" r="0.74" fill="#6a5ad8" opacity="0.7"/>
<polygon points="379.24,90.89 383.53,90.63 384.99,93.71 382.95,95.71 378.76,93.59" fill="#cc1a3a" opacity="0.83"/>
<circle cx="381.77" cy="93.09" r="0.78" fill="#6a5ad8" opacity="0.7"/>
<polygon points="407.66,89.24 406.44,91.72 403.84,90.77 402.49,89.86 402.81,88.08 404.81,87.27" fill="#d01c40" opacity="0.73"/>
<circle cx="404.25" cy="89.36" r="0.72" fill="#6a5ad8" opacity="0.7"/>
<polygon points="404.35,82.76 406.8,82.78 408.25,85.16 408.72,86.61 404.95,86.81 404.09,85.47 404,84.72" fill="#d01c40" opacity="0.75"/>
<circle cx="406.08" cy="84.63" r="0.75" fill="#6a5ad8" opacity="0.7"/>
<polygon points="394.79,86.23 392.39,84.24 392.6,83.13 395.6,82.61 397.69,81.92 397.71,84.67" fill="#d01c40" opacity="0.73"/>
<circle cx="394.86" cy="83.81" r="0.71" fill="#6a5ad8" opacity="0.7"/>
<polygon points="406.55,85.49 405.99,86.77 404,86.56 403.03,85.84 403.5,85.04 403.93,83.99 405.8,83.56" fill="#d01c40" opacity="0.63"/>
<circle cx="404.55" cy="85.41" r="0.63" fill="#6a5ad8" opacity="0.7"/>
<polygon points="398.11,87.59 399.07,85.09 401.09,84.69 403.25,85.56 403.08,87.09 401.35,87.55" fill="#d01c40" opacity="0.83"/>
<circle cx="401.08" cy="86.34" r="0.68" fill="#6a5ad8" opacity="0.7"/>
<polygon points="397.8,84.21 399.61,85.9 399.68,87.92 396.73,88.62 395.68,85.29" fill="#d01c40" opacity="0.64"/>
<circle cx="397.78" cy="86.41" r="0.67" fill="#6a5ad8" opacity="0.7"/>
<polygon points="396.84,85.64 397.31,83.04 399.61,82.42 401.65,83.38 400.86,85.21 399.35,86.59" fill="#d01c40" opacity="0.67"/>
<circle cx="399.89" cy="84.45" r="0.64" fill="#6a5ad8" opacity="0.7"/>
<polygon points="393.56,68.94 396.76,68.18 397.53,69.82 396.21,72 392.83,70.95" fill="#7a2a70" opacity="0.61"/>
<circle cx="395.17" cy="70.22" r="0.6" fill="#5a4ad8" opacity="0.7"/>
<polygon points="387.26,84.2 384.51,85.52 382.49,83.43 384.49,82.03 387.03,82.66" fill="#8a1030" opacity="0.59"/>
<circle cx="385.17" cy="83.45" r="0.6" fill="#5a4ad8" opacity="0.7"/>
<polygon points="408.65,81.48 409.64,81.55 410.87,82.77 409.17,83.58 407.7,83.03" fill="#6a3a9a" opacity="0.62"/>
<circle cx="409.07" cy="82.56" r="0.6" fill="#6a5ad8" opacity="0.7"/>
<polygon points="412.58,79.93 413.01,80.72 412.53,81.19 412.31,81.63 411.17,81.36 410.54,80.79 410.87,80.05" fill="#6a3a9a" opacity="0.64"/>
<circle cx="411.96" cy="80.8" r="0.6" fill="#6a5ad8" opacity="0.7"/>
<polygon points="389.82,67.17 388.28,66.98 386.68,66.22 388.07,64.89 389.55,65.54" fill="#7a0e28" opacity="0.47"/>
<polygon points="398.38,66.01 399.87,65.73 400.43,65.88 399.72,67.36 399.04,68.52 398.58,67.93 397.49,66.94" fill="#7a0e28" opacity="0.46"/>
<polygon points="392.35,66.69 393.57,65.49 394.22,65.77 395.66,67.01 394.48,67.89 392.65,68.2 391.97,67.88" fill="#7a0e28" opacity="0.58"/>
</g>
<g clip-path="url(#cb12)">
<polygon points="441.78,94.46 438.66,93.41 441.31,90.41 445.37,91.48 445.32,95.13" fill="#c01836" opacity="0.69"/>
<circle cx="442.23" cy="92.88" r="0.93" fill="#6a5ad8" opacity="0.7"/>
<polygon points="437.21,91.94 432.16,90.45 432.64,88.1 435.89,85.32 436.1,88.92" fill="#c01836" opacity="0.64"/>
<circle cx="434.52" cy="88.96" r="0.94" fill="#6a5ad8" opacity="0.7"/>
<polygon points="446.48,87.61 444.07,88.7 441.38,85.5 443.18,83.91 445.02,83.04 447.83,85.76" fill="#c01836" opacity="0.63"/>
<circle cx="444.8" cy="85.95" r="0.8" fill="#6a5ad8" opacity="0.7"/>
<polygon points="438.13,76.88 440.11,76.43 443.16,78.03 441.28,80.73 438.77,79.22" fill="#c01836" opacity="0.82"/>
<circle cx="440.3" cy="78.4" r="0.75" fill="#6a5ad8" opacity="0.7"/>
<polygon points="438.6,81.13 437.45,82.69 434.1,81.51 435.04,79.45 436.64,78.06 439.06,78.33 441.07,79.51" fill="#c01836" opacity="0.61"/>
<circle cx="437.57" cy="79.9" r="0.84" fill="#6a5ad8" opacity="0.7"/>
<polygon points="437.23,82.22 438.16,84.27 436.24,85.45 433.89,84.01 435.48,82.15" fill="#c01836" opacity="0.62"/>
<circle cx="436.28" cy="83.54" r="0.75" fill="#6a5ad8" opacity="0.7"/>
<polygon points="438.12,89.26 437.22,91.43 432.95,92.3 433.2,88.29 431.93,86.54 435.87,86.41 439.27,86.02" fill="#c01836" opacity="0.83"/>
<circle cx="435.1" cy="88.68" r="1.02" fill="#6a5ad8" opacity="0.7"/>
<polygon points="442.83,91.66 442.64,88.23 441.38,86.77 445.19,85.86 446,87.76 446.24,89.79 445.69,91.82" fill="#c01836" opacity="0.69"/>
<circle cx="444.16" cy="88.57" r="0.84" fill="#6a5ad8" opacity="0.7"/>
<polygon points="432.98,79.36 434.03,77.28 434.98,74.45 436.13,75.59 437.64,77.34 437.06,78.31 435.96,79.41" fill="#c01836" opacity="0.69"/>
<circle cx="435.68" cy="77.48" r="0.76" fill="#6a5ad8" opacity="0.7"/>
<polygon points="436.24,73.17 439.64,75.39 436.84,76.9 434.39,75.29 433.26,73" fill="#c01836" opacity="0.84"/>
<circle cx="435.63" cy="74.49" r="0.8" fill="#6a5ad8" opacity="0.7"/>
<polygon points="432.5,84.69 432.38,82.56 435.53,80.85 436.25,83.14 435.53,84.61" fill="#c01836" opacity="0.69"/>
<circle cx="434.73" cy="83.22" r="0.76" fill="#6a5ad8" opacity="0.7"/>
<polygon points="445.99,85.47 446.28,87.08 443.41,90.01 441.7,88.62 441.37,84.65" fill="#c01836" opacity="0.73"/>
<circle cx="444.17" cy="87.1" r="1.03" fill="#6a5ad8" opacity="0.7"/>
<polygon points="439.82,87.67 444.95,87.05 445.48,89.4 443.12,91.97 438.91,90.75" fill="#c01836" opacity="0.66"/>
<circle cx="442.14" cy="89.45" r="0.91" fill="#6a5ad8" opacity="0.7"/>
<polygon points="454.93,81.56 454.73,78.46 459.49,78.33 459.38,81.38 457.84,82.88 456.25,84.13" fill="#bc1834" opacity="0.78"/>
<circle cx="457.11" cy="81.36" r="0.96" fill="#6a5ad8" opacity="0.7"/>
<polygon points="468.78,80.11 470.51,79.48 472.97,79.49 471.39,81.79 470.15,82.35 467.02,81.4" fill="#bc1834" opacity="0.66"/>
<circle cx="469.87" cy="80.52" r="0.71" fill="#6a5ad8" opacity="0.7"/>
<polygon points="450.61,94.15 451.1,93.03 451.09,91.94 453.35,91.47 454.62,91.8 454.46,93.37 453.3,95.39" fill="#bc1834" opacity="0.68"/>
<circle cx="452.86" cy="92.88" r="0.7" fill="#6a5ad8" opacity="0.7"/>
<polygon points="454.53,89.82 455.38,91.11 457.24,93.26 453.3,93.1 450.63,93.65 451.66,90.36 453.08,88.13" fill="#bc1834" opacity="0.81"/>
<circle cx="453.58" cy="90.93" r="0.92" fill="#6a5ad8" opacity="0.7"/>
<polygon points="466.18,93.91 468.14,96.61 465.26,97.32 462.02,95.96 462.21,93.55 461.23,91.59 465.79,91.56" fill="#bc1834" opacity="0.82"/>
<circle cx="464.08" cy="94" r="1.02" fill="#6a5ad8" opacity="0.7"/>
<polygon points="449.97,90.95 451.71,90.28 454.58,91.86 453.8,93.71 451.12,95.34 449.49,93.55 447.14,92.12" fill="#bc1834" opacity="0.85"/>
<circle cx="450.74" cy="92.08" r="0.8" fill="#6a5ad8" opacity="0.7"/>
<polygon points="470.68,84.05 471.41,85.68 472.1,88.47 469.78,87.36 468.43,86.81 467.85,85.33 467.66,84.18" fill="#bc1834" opacity="0.6"/>
<circle cx="470.15" cy="85.92" r="0.77" fill="#6a5ad8" opacity="0.7"/>
<polygon points="473.96,72.12 472.74,72.99 471.74,70.9 471.39,69.58 473.33,68.64 475.73,69.74 476.07,72.24" fill="#bc1834" opacity="0.62"/>
<circle cx="473.03" cy="70.87" r="0.74" fill="#6a5ad8" opacity="0.7"/>
<polygon points="459.27,85.9 456.7,88.03 454.74,86.38 453.13,84.75 456.17,82.58 458.78,83.24" fill="#bc1834" opacity="0.75"/>
<circle cx="456.2" cy="84.95" r="0.9" fill="#6a5ad8" opacity="0.7"/>
<polygon points="454.24,73.38 456.72,72.86 457.62,74.97 457.14,76.49 455.09,76.49 453.53,76.19" fill="#bc1834" opacity="0.69"/>
<circle cx="456.3" cy="75.15" r="0.84" fill="#6a5ad8" opacity="0.7"/>
<polygon points="469.53,72.01 465.92,72.65 464.45,72.34 465.36,69.72 467.54,67.25 469.72,69.51 470.48,71.52" fill="#bc1834" opacity="0.8"/>
<circle cx="467.63" cy="70.64" r="0.8" fill="#6a5ad8" opacity="0.7"/>
<polygon points="471.19,92.64 474.78,94.73 472.52,96.91 470.97,98.56 469.93,98.92 466.46,98.19 468.19,95.12" fill="#bc1834" opacity="0.75"/>
<circle cx="470.5" cy="96.73" r="0.99" fill="#6a5ad8" opacity="0.7"/>
<polygon points="455.73,86.74 454.4,83.8 457.22,80.58 460.52,84.35 460.08,87.3" fill="#bc1834" opacity="0.65"/>
<circle cx="457.61" cy="84.7" r="1" fill="#6a5ad8" opacity="0.7"/>
<polygon points="465.26,93.85 463.99,91.88 465.9,89.69 467.66,90.96 468.13,92.79 467.08,94.73" fill="#bc1834" opacity="0.82"/>
<circle cx="466.74" cy="92.33" r="0.89" fill="#6a5ad8" opacity="0.7"/>
<polygon points="471.93,73.35 468.33,72.48 465.43,71.02 466.61,68.45 469.9,67.48 471.89,68.88 473.62,71.99" fill="#bc1834" opacity="0.74"/>
<circle cx="469.45" cy="70.62" r="0.97" fill="#6a5ad8" opacity="0.7"/>
<polygon points="452.38,81.27 450.64,80.26 449.85,78.26 453.15,77.66 454.6,77.5 456.09,79.04 455.11,81.61" fill="#bc1834" opacity="0.81"/>
<circle cx="453.06" cy="79.03" r="0.81" fill="#6a5ad8" opacity="0.7"/>
<polygon points="461.65,82.95 460.79,84.9 459.48,83.83 458.4,82.41 459.64,80.59 461.14,81.82" fill="#bc1834" opacity="0.61"/>
<circle cx="460.53" cy="82.5" r="0.69" fill="#6a5ad8" opacity="0.7"/>
<polygon points="480.29,81.38 479.04,83.02 476.19,82.82 474.37,81.86 474.43,81.06 475.63,79.92 478.4,79.15" fill="#bc1834" opacity="0.78"/>
<circle cx="476.39" cy="81.04" r="0.75" fill="#6a5ad8" opacity="0.7"/>
<polygon points="465.63,84.06 463.04,87.37 460.63,85.66 457.55,83.11 462.6,81.78" fill="#bc1834" opacity="0.69"/>
<circle cx="462.34" cy="84.35" r="1.04" fill="#6a5ad8" opacity="0.7"/>
<polygon points="454.79,74.45 448.5,74.93 450.54,72.26 451.7,68.78 456.8,71.68" fill="#bc1834" opacity="0.72"/>
<circle cx="452.37" cy="72.61" r="1" fill="#6a5ad8" opacity="0.7"/>
<polygon points="462.96,93.01 459.18,95.06 457.34,91.46 459.6,90.58 463.22,89.97" fill="#bc1834" opacity="0.79"/>
<circle cx="460.44" cy="91.78" r="0.9" fill="#6a5ad8" opacity="0.7"/>
<polygon points="477.19,85.91 475.2,84.97 475.08,83.49 477.56,82.31 478.44,83.63" fill="#bc1834" opacity="0.71"/>
<circle cx="476.9" cy="83.86" r="0.79" fill="#6a5ad8" opacity="0.7"/>
<polygon points="448.69,79.36 450.32,77.02 451.94,80.48 451.38,81.8 448.15,83.55 447.32,81.04" fill="#bc1834" opacity="0.79"/>
<circle cx="449.71" cy="80.83" r="0.91" fill="#6a5ad8" opacity="0.7"/>
<polygon points="452.49,97.37 452.65,94.95 454.97,93.58 455.7,95.48 454.97,97.28" fill="#bc1834" opacity="0.76"/>
<circle cx="454.42" cy="95.67" r="0.79" fill="#6a5ad8" opacity="0.7"/>
<polygon points="478.33,75.51 476.71,79.6 474.76,79.67 471.18,80.62 470.47,77.19 472.65,76.39 475.02,74.48" fill="#bc1834" opacity="0.6"/>
<circle cx="474.24" cy="78.04" r="1.05" fill="#6a5ad8" opacity="0.7"/>
<polygon points="469.4,94.07 469.25,96.52 466.01,96.94 464.71,95.58 465.51,93.84 466.25,92.26 468.48,91.81" fill="#bc1834" opacity="0.7"/>
<circle cx="466.61" cy="94.73" r="0.73" fill="#6a5ad8" opacity="0.7"/>
<polygon points="454.28,84.21 455.55,85.63 453.45,88.45 451.59,86.78 450.16,85.41 450.99,82.37" fill="#bc1834" opacity="0.73"/>
<circle cx="453" cy="84.89" r="0.89" fill="#6a5ad8" opacity="0.7"/>
<polygon points="456.05,73.94 454.63,76.43 451.61,76.98 451.15,73.87 453.21,72.03" fill="#bc1834" opacity="0.73"/>
<circle cx="453.58" cy="75.24" r="0.75" fill="#6a5ad8" opacity="0.7"/>
<polygon points="438.25,67.55 440.16,66.39 440.68,68.05 439.92,68.88 439.56,70.88 437.65,69.04 437.79,68.07" fill="#a01430" opacity="0.53"/>
<circle cx="438.79" cy="68.22" r="0.6" fill="#6a5ad8" opacity="0.7"/>
<polygon points="449.41,71.43 448.35,70.28 449.78,69.42 451.6,68.71 452.5,69.68 451.69,71.12 451.23,71.52" fill="#a01430" opacity="0.67"/>
<circle cx="450.22" cy="70.15" r="0.61" fill="#6a5ad8" opacity="0.7"/>
<polygon points="438.19,70.13 438.76,71.02 437.92,72.82 435.17,73.17 435.62,71.55 435.83,70.08" fill="#a01430" opacity="0.56"/>
<circle cx="436.61" cy="71.08" r="0.6" fill="#6a5ad8" opacity="0.7"/>
<polygon points="438.51,69.05 437.61,69.8 436.45,69.73 435.18,69.96 435.34,67.82 436.58,66.9 438.86,67.78" fill="#a01430" opacity="0.66"/>
<circle cx="437.33" cy="68.63" r="0.6" fill="#6a5ad8" opacity="0.7"/>
</g>
<g clip-path="url(#cb20)">
<polygon points="359.97,123.76 361.8,123.46 363.87,124.3 363.39,125.69 362.22,126.05 361.24,126.13" fill="#46205e" opacity="0.47"/>
<circle cx="362.43" cy="125" r="0.6" fill="#5a48c0" opacity="0.7"/>
<polygon points="352.02,150.1 349.95,150.15 349.93,147.58 351.3,147.27 353.55,148.28" fill="#46205e" opacity="0.54"/>
<circle cx="351.17" cy="148.49" r="0.6" fill="#5a48c0" opacity="0.7"/>
<polygon points="367.33,144.13 368.16,146.12 365.21,146.35 365.29,144.75 366.16,143.48" fill="#46205e" opacity="0.55"/>
<circle cx="366.68" cy="144.69" r="0.6" fill="#5a48c0" opacity="0.7"/>
<polygon points="336.93,128.04 334.78,128.64 332.76,128.73 333.19,126.61 333.71,125.21 336.7,125.33" fill="#46205e" opacity="0.57"/>
<circle cx="334.68" cy="126.99" r="0.61" fill="#5a48c0" opacity="0.7"/>
<polygon points="333.27,136.83 332.35,134.32 334.95,134.46 336.86,135.77 335.45,137.44" fill="#46205e" opacity="0.57"/>
<circle cx="334.64" cy="135.5" r="0.6" fill="#5a48c0" opacity="0.7"/>
<polygon points="347.28,148.84 345.05,148.75 345.38,146.94 346.5,146.15 348.26,146.41 348.52,147.68" fill="#46205e" opacity="0.48"/>
<circle cx="347.03" cy="147.38" r="0.6" fill="#5a48c0" opacity="0.7"/>
<polygon points="354.84,138.02 355.87,136.62 356.37,137.63 357.33,138.95 356.34,140.02 355.03,139.27" fill="#46205e" opacity="0.58"/>
<circle cx="355.56" cy="138.13" r="0.6" fill="#5a48c0" opacity="0.7"/>
<polygon points="336.33,131.84 338.32,132.37 339.53,133.32 337.23,134.13 335.86,133.47" fill="#46205e" opacity="0.51"/>
<circle cx="337.35" cy="133.3" r="0.6" fill="#5a48c0" opacity="0.7"/>
<polygon points="347.47,140.61 349.3,141.22 349.64,142.75 347.56,143.93 346.57,142.68 346.18,141.71" fill="#46205e" opacity="0.46"/>
<circle cx="347.94" cy="142.05" r="0.6" fill="#5a48c0" opacity="0.7"/>
<polygon points="340.02,128.7 338.55,128.5 336.9,126.5 338.12,125.83 340.09,125.51 340.63,126.6" fill="#46205e" opacity="0.59"/>
<circle cx="338.85" cy="126.84" r="0.63" fill="#5a48c0" opacity="0.7"/>
<polygon points="361.05,141.77 363.12,142.02 363.36,143.67 362.01,145.3 360.55,144.87 360.13,143.17" fill="#46205e" opacity="0.56"/>
<circle cx="361.47" cy="143.49" r="0.6" fill="#5a48c0" opacity="0.7"/>
<polygon points="343.28,144.57 342.11,146 340.32,145.47 339.21,145.1 340.08,143.26 341.17,142.52 342.66,143.72" fill="#46205e" opacity="0.55"/>
<circle cx="341.46" cy="144.05" r="0.6" fill="#5a48c0" opacity="0.7"/>
<polygon points="361.78,142.81 363.46,142.77 363.62,144.09 364.14,145.62 361.52,145.07 360.51,145.14 360.46,143.09" fill="#46205e" opacity="0.6"/>
<circle cx="362.01" cy="144.07" r="0.6" fill="#5a48c0" opacity="0.7"/>
<polygon points="338.71,141.29 340.71,140.46 340.89,142.57 339.89,143.6 338.41,142.39" fill="#46205e" opacity="0.48"/>
<circle cx="339.33" cy="141.84" r="0.6" fill="#5a48c0" opacity="0.7"/>
<polygon points="355.47,128.21 353.67,129.1 352.93,128.59 352.18,127.53 352.99,127.09 353.84,126.65 354.78,127.04" fill="#46205e" opacity="0.57"/>
<circle cx="353.69" cy="127.98" r="0.6" fill="#5a48c0" opacity="0.7"/>
<polygon points="353.08,135.33 351.77,134.86 350.68,133.2 352.8,133.01 353.6,132.81 354.2,134.41 354.44,136.02" fill="#46205e" opacity="0.59"/>
<circle cx="352.78" cy="134.21" r="0.6" fill="#5a48c0" opacity="0.7"/>
<polygon points="359.39,141.03 358.01,141.6 356.85,142.72 355.85,140.89 355.66,139.54 357.65,138.83 358.07,139.71" fill="#46205e" opacity="0.58"/>
<circle cx="357.51" cy="140.59" r="0.6" fill="#5a48c0" opacity="0.7"/>
<polygon points="342.67,145.85 341.8,146.68 340.36,146.28 339.28,145.16 340.27,144.35 341.21,143.84 342.8,144.39" fill="#46205e" opacity="0.43"/>
<circle cx="341.36" cy="145.02" r="0.6" fill="#5a48c0" opacity="0.7"/>
<polygon points="363.99,134.53 366.16,133.49 366.64,134.98 366.81,136.24 365.14,135.74" fill="#46205e" opacity="0.52"/>
<circle cx="365.73" cy="135.42" r="0.6" fill="#5a48c0" opacity="0.7"/>
<polygon points="341.14,130.67 342.5,128.17 344.55,128.56 345.13,130.25 344.84,131 343.81,132.46 342.26,132.27" fill="#46205e" opacity="0.52"/>
<circle cx="344.04" cy="130.51" r="0.64" fill="#5a48c0" opacity="0.7"/>
<polygon points="345.81,131.55 343.55,132.18 342.25,130.43 343.68,128.96 345.66,129.33" fill="#702458" opacity="0.42"/>
<circle cx="343.77" cy="130.97" r="0.6" fill="#5a48c0" opacity="0.7"/>
<polygon points="342.87,126.22 344.58,125.5 346.6,125.64 347.57,127.79 344.92,128.86 343.28,129.12" fill="#702458" opacity="0.5"/>
<circle cx="345.03" cy="127.2" r="0.6" fill="#5a48c0" opacity="0.7"/>
<polygon points="340.61,125.19 339.24,122.99 342.29,122.29 342.81,123.42 342.29,124.42" fill="#702458" opacity="0.41"/>
<circle cx="341.37" cy="123.74" r="0.6" fill="#5a48c0" opacity="0.7"/>
<polygon points="351.7,134.71 350.73,133.62 351.78,131.62 352.73,131.7 355.36,131.75 355.39,133.53 353.77,133.64" fill="#702458" opacity="0.54"/>
<circle cx="352.93" cy="132.91" r="0.63" fill="#5a48c0" opacity="0.7"/>
<polygon points="343.48,132.42 345.08,132.04 346.04,133.67 345.71,134.24 343.77,135.53 342.82,135.31 342.99,133.51" fill="#702458" opacity="0.41"/>
<circle cx="344.12" cy="133.61" r="0.6" fill="#5a48c0" opacity="0.7"/>
<polygon points="370.67,147.02 369.56,146.42 369.54,144.65 371.86,145.36 372.24,146.76" fill="#8a2a8a" opacity="0.6"/>
<polygon points="370.93,146.52 372.04,147.21 372.25,148.41 370.54,148.01 370.29,147.5" fill="#8a2a8a" opacity="0.68"/>
</g>
<g clip-path="url(#cb21)">
<polygon points="387.37,132.93 387.41,130.78 388.17,128.89 390.95,129.89 389.73,132.8" fill="#b82c72" opacity="0.8"/>
<polygon points="391.93,139.3 390.21,138.95 390.94,137.15 392.13,137.08 393.72,137.59" fill="#b82c72" opacity="0.83"/>
<polygon points="386.53,139.62 385.66,138.91 384.41,138.9 384.09,137.15 385.64,136.2 386.9,137.8 387.63,138.39" fill="#b82c72" opacity="0.76"/>
<polygon points="392.33,128.32 394.16,129.2 394.93,129.54 394.42,131.06 391.92,131.69 390.64,130.4" fill="#b82c72" opacity="0.81"/>
<polygon points="388.26,135.82 389.44,134.8 390.63,133.65 391.36,135.11 391.29,135.87 390.63,136.91 389.89,136.45" fill="#b82c72" opacity="0.84"/>
<polygon points="388.87,131.8 386.56,132.16 385.36,132.01 384.48,131.85 384.75,129.84 386.31,130.12 388.34,130.07" fill="#b82c72" opacity="0.83"/>
<polygon points="388.12,132.23 386.33,132.1 384.66,131.23 385.92,130.19 388,130.47" fill="#b82c72" opacity="0.77"/>
<polygon points="391.53,133.52 393.17,132.62 394.41,134.04 393.86,135.3 391.01,134.96" fill="#b82c72" opacity="0.63"/>
<polygon points="385.95,133.13 384.52,134.07 383.89,132.54 383.41,130.75 384.81,131.18 387.17,131.16 386.49,132.77" fill="#b82c72" opacity="0.64"/>
<polygon points="409.04,131.33 409.01,132.38 407.9,134.43 406.64,133.62 406.59,132.23 407.46,130.86" fill="#b82c72" opacity="0.72"/>
<polygon points="403.93,130.24 405.92,129.01 406.6,130.6 406.94,131.27 406.01,132.1 404.62,131.44" fill="#b82c72" opacity="0.66"/>
<polygon points="408.05,131.27 409.14,131.69 408.72,132.87 407,132.97 406.51,132.37 407.03,131.61" fill="#b82c72" opacity="0.58"/>
<polygon points="415.65,137.01 413.97,137.45 413.46,135.84 414.33,134.38 415.77,134.83 416.04,135.39" fill="#b82c72" opacity="0.8"/>
<polygon points="419.28,137.41 419.8,139.28 417.68,140.93 416.15,140.7 415.85,137.75 416.86,136.3" fill="#b82c72" opacity="0.8"/>
<polygon points="414.53,139.04 415.41,139.55 416.32,140.36 415.6,141.5 413.17,141.8 412.36,140.39 413.46,139.75" fill="#b82c72" opacity="0.68"/>
<polygon points="421.08,135.31 420.1,134.57 419.01,133.48 421.24,132.11 423.02,133.28 422.48,134.79" fill="#b82c72" opacity="0.74"/>
<polygon points="421.47,136.64 421.06,137.81 419.92,138.57 419.05,137.96 418.89,137.04 419.26,136.2 419.92,135.75" fill="#b82c72" opacity="0.82"/>
<polygon points="416.24,133.26 415.96,132.11 415.79,131.12 417.97,131.68 418.25,132.16 418.38,133.71 417.31,133.54" fill="#b82c72" opacity="0.71"/>
<polygon points="422.62,138.09 420.36,138.96 419.5,137.31 420.22,136.41 421.68,136.42" fill="#b82c72" opacity="0.63"/>
<polygon points="424.93,130 424.39,130.99 423.47,131.78 422.26,131.18 422.22,130.01 422.37,128.5 423.92,128.82" fill="#b82c72" opacity="0.78"/>
<polygon points="421.84,127.46 422.99,128.64 422.99,130.08 421.67,129.78 420.34,128.74" fill="#b82c72" opacity="0.75"/>
<polygon points="421.73,123.51 422.03,124.13 422.87,124.94 421.69,126.2 420.19,125.39 420.29,124.43" fill="#b82c72" opacity="0.62"/>
<polygon points="409.02,123.37 408.99,122.64 409.01,121.99 410.34,121.84 410.58,122.44 410.35,123.26" fill="#b82c72" opacity="0.6"/>
</g>
<g clip-path="url(#cb22)">
<polygon points="439.2,136.8 441.41,134.9 442.85,134.93 444.16,137.35 442.31,137.99 441.08,137.91" fill="#c02858" opacity="0.84"/>
<polygon points="440.73,128.8 439.68,128.48 438.92,127.07 440.75,125.81 441.71,127.05 442.16,128.46" fill="#c02858" opacity="0.7"/>
<polygon points="445.72,136.58 446.29,135.65 448.48,135.85 447.89,136.74 447.86,137.88 446.64,138.96 445.67,137.26" fill="#c02858" opacity="0.64"/>
<polygon points="441.82,131.83 439.43,132.72 438.37,131.49 438.53,130.03 440.35,130.48" fill="#c02858" opacity="0.68"/>
<polygon points="438.06,138.02 438.58,137 439.55,136.54 441.92,137.58 439.62,138.8 438.87,138.66" fill="#c02858" opacity="0.74"/>
<polygon points="448.03,135.42 448.49,136.26 448.63,137.83 446.37,136.7 445.45,136.01 446.73,133.91" fill="#c02858" opacity="0.69"/>
<polygon points="441.19,135.3 439.58,134.8 439.07,133.6 441.4,132.97 442.51,132.75 442.28,134.63" fill="#c02858" opacity="0.73"/>
<polygon points="440.74,136.54 440.98,135.53 441.47,134.22 442.53,134.67 443.24,135.5 442.74,136.05" fill="#c02858" opacity="0.67"/>
<polygon points="443.76,135.25 443.02,133.46 443.76,132.72 444.92,132.05 445.71,133.07 445.81,133.91 444.99,134.64" fill="#c02858" opacity="0.7"/>
<polygon points="444.5,139.2 446.08,139.23 446.91,140.77 446.02,141.23 444.6,142.37 442.74,140.73" fill="#c02858" opacity="0.84"/>
<polygon points="438.03,140.91 438.96,139.71 441.39,140.94 442.19,141.47 440.89,143.18 439.6,142.23" fill="#c02858" opacity="0.76"/>
<polygon points="440.73,136.02 443.83,135.4 444.13,136.74 443.62,138.43 442.13,139.08 440.98,136.98" fill="#c02858" opacity="0.69"/>
<polygon points="442.55,141.57 444.82,141.17 445.34,143.03 443.72,144.67 441.95,142.53" fill="#c02858" opacity="0.63"/>
<polygon points="467.39,127.32 465.12,127.78 462.67,127.1 463.51,125.04 465.41,125.04" fill="#c02858" opacity="0.79"/>
<polygon points="463.78,131.51 464.8,132.06 464.32,133.27 462.73,133.81 462.43,132.32" fill="#c02858" opacity="0.68"/>
<polygon points="460.56,125.5 462.11,123.98 464.23,125.86 462.4,127.86 460.84,126.55" fill="#c02858" opacity="0.61"/>
<polygon points="471.19,129.52 472.46,129.68 473.17,130.99 471.65,132.27 470.12,131.3 469.6,130.08 469.96,129.67" fill="#c02858" opacity="0.58"/>
<polygon points="463.95,129.81 464.01,131.02 463.86,131.86 462.14,131.48 461.11,130.59 461.89,130.36 463.08,129.31" fill="#c02858" opacity="0.64"/>
<polygon points="463.44,127.38 463,128.39 460.64,128.07 460.11,127.26 461.9,126.18 463.51,125.43 463.77,126.92" fill="#c02858" opacity="0.75"/>
<polygon points="469.54,129.96 471.59,130.2 472.73,131.57 471.93,132.24 469.75,132.89 469.28,132.07 469.62,131.19" fill="#c02858" opacity="0.58"/>
<polygon points="471.15,125.98 469.89,124.06 471.89,122.32 473.98,122.69 472.47,124.63" fill="#c02858" opacity="0.74"/>
<polygon points="472.97,125.86 471.58,126.65 470.33,125.56 470.1,124.81 471.78,124.41 472.81,124.36" fill="#b82c72" opacity="0.68"/>
<polygon points="475.78,122.99 474.81,121.83 475.46,120.2 477.88,119.6 479.1,121.09 478.69,122.36 477.69,123.2" fill="#b82c72" opacity="0.61"/>
<polygon points="472.71,120.97 474.22,120.11 474.48,121.23 474.04,122.26 472.09,122.26" fill="#b82c72" opacity="0.66"/>
<polygon points="457.36,144.33 456.87,144.23 455.98,143.45 456.98,143.27 458.12,142.67 458.54,143.66 458.74,144.4" fill="#b82c72" opacity="0.57"/>
</g>
<g clip-path="url(#cb30)">
<polygon points="365.31,191.14 365.29,189.96 366.4,188.84 368.29,190.84 366.42,191.25" fill="#e41e3a" opacity="0.81"/>
<circle cx="366.53" cy="190.62" r="0.6" fill="#f04a66" opacity="0.7"/>
<polygon points="356.72,192.52 355.13,190.66 355.6,189.55 357.96,188.97 357.87,191.59" fill="#e41e3a" opacity="0.92"/>
<circle cx="356.29" cy="190.83" r="0.6" fill="#f04a66" opacity="0.7"/>
<polygon points="355.83,195.72 355.99,193.05 355.31,191.45 358.5,192.06 359.48,192.63 360.17,193.92 358.38,195.4" fill="#e41e3a" opacity="0.84"/>
<circle cx="357.66" cy="193.19" r="0.69" fill="#f04a66" opacity="0.7"/>
<polygon points="356.39,196.75 358.79,197.2 358.2,198.67 356.13,199.38 355.83,198.02" fill="#e41e3a" opacity="0.87"/>
<circle cx="356.73" cy="197.77" r="0.6" fill="#f04a66" opacity="0.7"/>
<polygon points="363.7,194.14 361.46,193.18 362.08,191.14 364.9,191.69 365.52,193.1" fill="#e41e3a" opacity="0.76"/>
<circle cx="363.43" cy="193.09" r="0.6" fill="#f04a66" opacity="0.7"/>
<polygon points="364.21,190.56 365.85,189.65 366.33,188.34 367.82,189.3 368.4,189.76 367.89,191.09 366.53,191.64" fill="#e41e3a" opacity="0.78"/>
<circle cx="366.6" cy="189.84" r="0.6" fill="#f04a66" opacity="0.7"/>
<polygon points="361.68,192.29 361.83,193.14 360.49,193.83 359.05,193.71 358.28,191.22 360.49,190.63" fill="#e41e3a" opacity="0.73"/>
<circle cx="360.43" cy="192.63" r="0.6" fill="#f04a66" opacity="0.7"/>
<polygon points="360.85,188.52 360.2,190.09 359.13,190.24 357.56,189.94 357.24,188.19 358.08,187.7 359.44,188.14" fill="#e41e3a" opacity="0.91"/>
<circle cx="359.15" cy="188.94" r="0.6" fill="#f04a66" opacity="0.7"/>
<polygon points="356.09,199.92 354.02,198.17 355.59,195.77 358.11,196.23 357.85,198.26" fill="#e41e3a" opacity="0.87"/>
<circle cx="356.57" cy="197.81" r="0.6" fill="#f04a66" opacity="0.7"/>
<polygon points="356.51,188.52 358.6,190.51 359.49,192.48 356.56,194.26 355.46,191.43" fill="#e41e3a" opacity="0.86"/>
<circle cx="356.87" cy="191.39" r="0.73" fill="#f04a66" opacity="0.7"/>
<polygon points="363.39,194.74 362.26,196.34 359.74,195.97 360.11,194.45 360.76,193.2 362.77,192.41" fill="#e41e3a" opacity="0.84"/>
<circle cx="361.61" cy="194.3" r="0.7" fill="#f04a66" opacity="0.7"/>
<polygon points="361.43,195.09 358.67,195.12 357.29,194.59 356.33,192.46 359.32,191.09 360.41,192.66" fill="#e41e3a" opacity="0.89"/>
<circle cx="358.4" cy="193.82" r="0.73" fill="#f04a66" opacity="0.7"/>
<polygon points="358.46,187.01 357.95,189.52 355.32,188.59 353.99,187.52 356.18,186.04" fill="#e41e3a" opacity="0.88"/>
<circle cx="356.16" cy="187.31" r="0.6" fill="#f04a66" opacity="0.7"/>
<polygon points="364.91,195.64 366.25,194.7 368.73,194.89 368.65,196.72 366.29,197.04" fill="#e41e3a" opacity="0.8"/>
<circle cx="366.45" cy="195.76" r="0.6" fill="#f04a66" opacity="0.7"/>
<polygon points="353.93,194.01 355.59,192.81 357.24,192.83 358.95,194.1 357.74,195.36 356.05,196.24" fill="#e41e3a" opacity="0.79"/>
<circle cx="356.65" cy="194.17" r="0.6" fill="#f04a66" opacity="0.7"/>
<polygon points="362.3,194.02 363.95,193.6 365.99,194.54 364.48,196 362.74,195.46" fill="#e41e3a" opacity="0.88"/>
<circle cx="363.91" cy="194.77" r="0.6" fill="#f04a66" opacity="0.7"/>
<polygon points="364.04,186.94 364.63,185.41 365.51,183.76 367.66,185.2 367.02,186.7 366.56,187.62" fill="#e41e3a" opacity="0.67"/>
<circle cx="365.98" cy="186.29" r="0.7" fill="#f04a66" opacity="0.7"/>
<polygon points="368.79,179.86 370.26,180.14 371.12,181.26 369.54,182.56 367.57,182.4 366.42,181.76 365.65,179.9" fill="#e41e3a" opacity="0.72"/>
<circle cx="368.17" cy="181.1" r="0.62" fill="#f04a66" opacity="0.7"/>
<polygon points="365.52,186.89 368.6,187.83 367.7,189.55 366.76,189.92 364.42,190.31 363.85,188.28" fill="#e41e3a" opacity="0.88"/>
<circle cx="366.07" cy="188.82" r="0.6" fill="#f04a66" opacity="0.7"/>
<polygon points="368.47,183.84 370.7,185.24 371.01,186.95 369.61,187.84 368.15,186.68 367.92,185.63" fill="#e41e3a" opacity="0.94"/>
<circle cx="369.41" cy="185.83" r="0.62" fill="#f04a66" opacity="0.7"/>
<polygon points="362.32,179.43 363.9,178.47 365.43,179.27 364.79,181.51 364.5,182.51 363.04,182.4 361.77,181.03" fill="#e41e3a" opacity="0.81"/>
<circle cx="363.47" cy="181.08" r="0.65" fill="#f04a66" opacity="0.7"/>
<polygon points="365.03,187.57 363.2,189.84 361.67,189.71 360.64,188.91 360.11,186.95 361.27,186.1 363.18,187.12" fill="#e41e3a" opacity="0.71"/>
<circle cx="362.35" cy="187.83" r="0.62" fill="#f04a66" opacity="0.7"/>
<polygon points="360.6,188.31 361.7,186.71 362.58,185.79 364.47,186.79 364.1,187.86 364.38,189.3 362.35,189.32" fill="#e41e3a" opacity="0.72"/>
<circle cx="362.7" cy="187.74" r="0.6" fill="#f04a66" opacity="0.7"/>
<polygon points="368.96,188.07 366.77,187.35 365.87,185.65 368.27,184.72 370.21,186.06" fill="#e41e3a" opacity="0.69"/>
<circle cx="367.94" cy="186.35" r="0.6" fill="#f04a66" opacity="0.7"/>
<polygon points="364.18,180.2 367.53,179.67 368.59,180.34 367.77,181.9 367.15,183.75 364.9,183.15 365.49,181.57" fill="#e41e3a" opacity="0.68"/>
<circle cx="366.94" cy="181.67" r="0.65" fill="#f04a66" opacity="0.7"/>
<polygon points="359.34,172.6 359.71,171.62 360.57,171.09 361.37,171.48 360.51,172.41" fill="#7a2660" opacity="0.66"/>
<polygon points="357.4,172.58 358.65,172.6 358.24,173.44 358.08,174.22 356.64,174.79 356.05,174.4 355.9,172.78" fill="#7a2660" opacity="0.5"/>
</g>
<g clip-path="url(#cb31)">
<polygon points="400.27,198.02 398.15,199.72 395.5,200.78 394.14,199.66 394.92,197.17 395.44,195.33 397.79,196.83" fill="#d22850" opacity="0.79"/>
<circle cx="397.02" cy="197.86" r="0.79" fill="#e85080" opacity="0.7"/>
<polygon points="413.38,193.73 414.31,195.57 411.22,198.04 408.11,195.93 409.97,193.32" fill="#d22850" opacity="0.63"/>
<circle cx="411.37" cy="195.22" r="0.84" fill="#e85080" opacity="0.7"/>
<polygon points="420.15,196.44 419.83,197.42 419.69,200.07 415.58,199.58 413.54,198.36 415.25,194.75 417.86,194.84" fill="#d22850" opacity="0.66"/>
<circle cx="417.04" cy="197.27" r="0.86" fill="#e85080" opacity="0.7"/>
<polygon points="407.12,194 404.6,193.87 403.76,190.53 405.47,189.64 407.82,189.64 408.72,190.53 409.2,191.99" fill="#d22850" opacity="0.82"/>
<circle cx="406.35" cy="190.85" r="0.81" fill="#e85080" opacity="0.7"/>
<polygon points="410.76,190.66 407.83,188.68 408.11,186.74 408.71,184.39 411.75,185.88 412.01,187.58" fill="#d22850" opacity="0.66"/>
<circle cx="409.97" cy="187.06" r="0.88" fill="#e85080" opacity="0.7"/>
<polygon points="407.92,185.45 412.65,187.45 411.28,192.15 406.37,191.13 406.38,188.95" fill="#d22850" opacity="0.8"/>
<circle cx="409.02" cy="189.01" r="0.98" fill="#e85080" opacity="0.7"/>
<polygon points="407.54,196.36 403.98,195.7 401.53,193.63 403.06,192.02 405.32,193.35" fill="#d22850" opacity="0.71"/>
<circle cx="404.27" cy="194.55" r="0.85" fill="#e85080" opacity="0.7"/>
<polygon points="401.7,184.58 402.75,186.11 401.4,188.16 400.09,186.68 398.68,184.45" fill="#d22850" opacity="0.7"/>
<circle cx="401.21" cy="185.54" r="0.76" fill="#e85080" opacity="0.7"/>
<polygon points="407.74,189.01 410.83,188.73 412.65,190.4 411.62,193.5 410.16,194 407.57,193.63 406.42,190.49" fill="#d22850" opacity="0.69"/>
<circle cx="410.15" cy="191.41" r="0.84" fill="#e85080" opacity="0.7"/>
<polygon points="406.9,192.9 406.1,194.15 403.92,195.26 401.06,192.75 403.7,191.84 404.65,190.44" fill="#d22850" opacity="0.71"/>
<circle cx="404.03" cy="192.76" r="0.73" fill="#e85080" opacity="0.7"/>
<polygon points="404.04,189.33 406.85,188.7 409.82,188.67 409.63,191 407.36,192.9 404.94,192.3 402.14,191.73" fill="#d22850" opacity="0.67"/>
<circle cx="406.26" cy="190.17" r="0.97" fill="#e85080" opacity="0.7"/>
<polygon points="398.24,194.36 401.35,195.96 403.39,199.17 399.75,199.48 397.37,198.35" fill="#d22850" opacity="0.87"/>
<circle cx="399.41" cy="197.28" r="0.88" fill="#e85080" opacity="0.7"/>
<polygon points="406.45,194.06 404.85,196.79 403.21,196.19 400.54,194.63 401.86,191.97 403.49,192.58 405.05,192.8" fill="#d22850" opacity="0.8"/>
<circle cx="404.02" cy="193.72" r="0.75" fill="#e85080" opacity="0.7"/>
<polygon points="398.03,199.01 396.36,199.35 394.94,196.08 398.46,194.82 401.25,196.14" fill="#d22850" opacity="0.75"/>
<circle cx="397.98" cy="197.32" r="0.8" fill="#e85080" opacity="0.7"/>
<polygon points="406.45,192.59 406.17,194.26 406.12,196.64 402.92,195.86 402.07,194.11 404,191.16" fill="#d22850" opacity="0.68"/>
<circle cx="404.51" cy="193.72" r="0.87" fill="#e85080" opacity="0.7"/>
<polygon points="417.73,184.44 420.19,183.38 423.79,185.08 422.03,187.31 420.01,187.17 418.4,186.34" fill="#d22850" opacity="0.7"/>
<circle cx="420.19" cy="185.31" r="0.76" fill="#e85080" opacity="0.7"/>
<polygon points="407.7,191.12 411.27,190.3 412.71,192.38 413.49,193.29 411.83,195.25 407.86,194.95 407.85,192.88" fill="#d22850" opacity="0.77"/>
<circle cx="410.15" cy="192.74" r="0.78" fill="#e85080" opacity="0.7"/>
<polygon points="411.7,185.06 413.36,184.48 416.46,183.92 416.24,185.74 415.05,186.51 413.58,187.33 411.14,186.8" fill="#d22850" opacity="0.89"/>
<circle cx="414" cy="185.73" r="0.66" fill="#e85080" opacity="0.7"/>
<polygon points="418.54,185.48 421.62,183.54 423.9,184.87 425.22,186.81 423.85,187.79 420.41,188.43 419.96,187.35" fill="#d22850" opacity="0.69"/>
<circle cx="421.71" cy="186.23" r="0.7" fill="#e85080" opacity="0.7"/>
<polygon points="405.21,195.11 406.58,193.98 408.79,194.17 410.97,196.8 408.25,198.38 403.6,196.92" fill="#d22850" opacity="0.81"/>
<circle cx="407.24" cy="195.61" r="0.88" fill="#e85080" opacity="0.7"/>
<polygon points="417.37,197.37 413.56,197.42 410.95,196.19 413.81,194.41 416,193.81" fill="#d22850" opacity="0.87"/>
<circle cx="414.43" cy="195.51" r="0.76" fill="#e85080" opacity="0.7"/>
<polygon points="405.2,190.7 405.17,193.68 405.36,195.09 402.11,196.23 400.57,194.8 399.83,193.31 401.82,191.54" fill="#d22850" opacity="0.86"/>
<circle cx="402.4" cy="193.81" r="0.96" fill="#e85080" opacity="0.7"/>
<polygon points="420.25,184.43 421.94,184.23 425.05,186.49 424.48,189.2 421.15,188.55 420.37,187.38" fill="#d22850" opacity="0.69"/>
<circle cx="421.83" cy="187.16" r="0.79" fill="#e85080" opacity="0.7"/>
<polygon points="417.12,196.6 417.59,194.93 418.66,193.01 421.55,193.9 423.22,195.84 420.61,198" fill="#d22850" opacity="0.67"/>
<circle cx="420.09" cy="195.23" r="0.74" fill="#e85080" opacity="0.7"/>
<polygon points="403.6,190.91 403.05,187.74 407.28,185.52 409.71,186.97 408.75,190.13 407.12,191.36" fill="#d22850" opacity="0.88"/>
<circle cx="406.18" cy="189.1" r="1.01" fill="#e85080" opacity="0.7"/>
<polygon points="420.35,194.38 420.36,196.71 416.79,194.94 416.95,193.94 417.69,191.74 419.15,191.52 421.88,192.64" fill="#d22850" opacity="0.84"/>
<circle cx="419.16" cy="193.83" r="0.76" fill="#e85080" opacity="0.7"/>
<polygon points="409.02,172.47 409.91,171.44 410.85,172.27 410.23,173.63 409.33,173.9 408.77,173.2" fill="#b82246" opacity="0.68"/>
<polygon points="400.33,174.14 398.83,173.55 400.25,172.46 401.72,172.98 402.35,174.16" fill="#b82246" opacity="0.56"/>
<polygon points="398.96,174.39 400.35,173.32 401.06,174.38 400.9,176.16 398.54,175.97" fill="#b82246" opacity="0.58"/>
<polygon points="396.06,175.4 393.47,174.03 395.67,172.35 398.31,172.49 398.6,175.27" fill="#b82246" opacity="0.75"/>
<polygon points="396.45,171.79 395.43,173.58 393.38,172.79 393.5,171.38 395.16,171.1" fill="#b82246" opacity="0.62"/>
<polygon points="410.76,175.42 411.82,177.52 409.57,178.98 408.19,177 408.62,175.88" fill="#b82246" opacity="0.72"/>
<polygon points="393.58,171.92 393.62,170.03 395.46,171.32 396.4,172.89 394.55,172.86" fill="#b82246" opacity="0.6"/>
<polygon points="392.4,172.68 394.12,172.33 395.45,172.97 394.73,174.37 393.24,174.18 391.09,173.85" fill="#b82246" opacity="0.79"/>
<polygon points="403.18,179.94 404.14,178.92 406.38,179.44 405.09,181.95 402.97,180.74" fill="#b82246" opacity="0.61"/>
<polygon points="423.69,178.21 425.48,179.04 424.15,180.7 422.75,181.44 421.29,179.83 421.56,178.84" fill="#c02448" opacity="0.6"/>
<polygon points="423.44,185.16 424.9,186.18 423.68,186.81 421.4,186.9 422.35,185.21" fill="#c02448" opacity="0.65"/>
<polygon points="418.91,176.38 418.94,175.47 420.68,174.21 421.33,174.23 422.85,175.17 422.53,176.8 421.05,176.65" fill="#c02448" opacity="0.62"/>
<polygon points="420.68,180.73 420.91,179.8 422.46,178.66 423.18,180.06 422.9,181.35 422.95,182.43 421.25,182.11" fill="#c02448" opacity="0.69"/>
<polygon points="423.07,180.42 421.57,180.85 420.76,179.66 422.01,178.78 423.21,177.65 424.21,179.4" fill="#c02448" opacity="0.76"/>
<polygon points="424.3,173.01 426.23,172.36 426.83,173.43 426.28,174.44 425.33,175.62 424.5,173.95" fill="#c02448" opacity="0.65"/>
<polygon points="384.05,194.53 383.14,196 381.6,196.11 380.35,195.59 380.06,194.19 382.11,193.66" fill="#e03060" opacity="0.77"/>
<polygon points="383.24,196.47 381.99,195.73 381.47,194.58 383.07,194.26 383.92,194.4 384.67,195.5" fill="#e03060" opacity="0.7"/>
</g>
<g clip-path="url(#cb32)">
<polygon points="457.46,185.46 456.13,187.52 451.85,186.84 452.54,183.46 455.77,183.17" fill="#c82c98" opacity="0.67"/>
<circle cx="454.75" cy="185.58" r="0.66" fill="#e060c0" opacity="0.7"/>
<polygon points="449.86,178.19 449.21,177.04 451.53,176.76 452.78,176.54 454.49,177.67 453.24,179.14 451.55,178.93" fill="#c82c98" opacity="0.87"/>
<circle cx="451.59" cy="177.76" r="0.61" fill="#e060c0" opacity="0.7"/>
<polygon points="455.2,180.66 454.19,179.05 454.79,178.4 455.49,177.83 456.65,178.5 456.91,179.58" fill="#c82c98" opacity="0.7"/>
<circle cx="455.54" cy="178.63" r="0.6" fill="#e060c0" opacity="0.7"/>
<polygon points="454.11,178.31 454.97,177.22 456.9,179.2 455.96,180.1 455.23,180.96 452.37,180.43 452.91,178.85" fill="#c82c98" opacity="0.75"/>
<circle cx="454.55" cy="179.37" r="0.6" fill="#e060c0" opacity="0.7"/>
<polygon points="447.52,182.84 450.27,184.05 449.09,185.79 446.56,185.42 446.58,183.61" fill="#c82c98" opacity="0.81"/>
<circle cx="447.47" cy="184.03" r="0.6" fill="#e060c0" opacity="0.7"/>
<polygon points="456.52,185.22 454.82,183.91 454.55,182.42 457.43,182.29 459.14,182.85 458.62,184.53" fill="#c82c98" opacity="0.67"/>
<circle cx="457.08" cy="183.5" r="0.6" fill="#e060c0" opacity="0.7"/>
<polygon points="456.55,179.48 457.48,177.49 459.6,178.38 460.64,179.26 459.17,180.94 457.41,181.07" fill="#c82c98" opacity="0.89"/>
<circle cx="458.38" cy="179.05" r="0.6" fill="#e060c0" opacity="0.7"/>
<polygon points="447.09,184.1 446.24,185.7 444.26,185.17 445.27,183.18 446.61,183.07" fill="#c82c98" opacity="0.8"/>
<circle cx="445.83" cy="184.1" r="0.6" fill="#e060c0" opacity="0.7"/>
<polygon points="451.59,179.93 448.78,179.89 449,178.5 449.29,177.21 450.37,176.23 451.27,177.45 451.81,178.14" fill="#c82c98" opacity="0.73"/>
<circle cx="450.37" cy="178.14" r="0.6" fill="#e060c0" opacity="0.7"/>
<polygon points="437.19,190.35 439.03,190.9 440.15,191.52 439.29,192.45 437.31,193.03 437.56,191.62" fill="#c82c98" opacity="0.7"/>
<polygon points="435.38,188.35 437.91,188.77 437.52,189.89 437.46,190.9 437.21,192.11 435.59,190.75 435.03,189.88" fill="#c82c98" opacity="0.77"/>
<polygon points="435.44,190.89 435.48,188.79 436.86,187.97 438.15,189.19 439.79,189.78 438.55,190.96 437.42,191.2" fill="#c82c98" opacity="0.84"/>
</g>
</g>
<line x1="328" y1="49.5" x2="336.6" y2="49.5" stroke="#ececec" stroke-width="1.3"/>
<line x1="379.8" y1="49.5" x2="388.4" y2="49.5" stroke="#ececec" stroke-width="1.3"/>
<line x1="431.8" y1="49.5" x2="440.4" y2="49.5" stroke="#ececec" stroke-width="1.3"/>
<line x1="328" y1="95.5" x2="336.6" y2="95.5" stroke="#ececec" stroke-width="1.3"/>
<line x1="379.8" y1="95.5" x2="388.4" y2="95.5" stroke="#ececec" stroke-width="1.3"/>
<line x1="431.8" y1="95.5" x2="440.4" y2="95.5" stroke="#ececec" stroke-width="1.3"/>
<line x1="328" y1="149.2" x2="336.6" y2="149.2" stroke="#ececec" stroke-width="1.3"/>
<line x1="379.8" y1="149.2" x2="388.4" y2="149.2" stroke="#ececec" stroke-width="1.3"/>
<line x1="431.8" y1="149.2" x2="440.4" y2="149.2" stroke="#ececec" stroke-width="1.3"/>
<line x1="328" y1="197.7" x2="336.6" y2="197.7" stroke="#ececec" stroke-width="1.3"/>
<line x1="379.8" y1="197.7" x2="388.4" y2="197.7" stroke="#ececec" stroke-width="1.3"/>
<line x1="431.8" y1="197.7" x2="440.4" y2="197.7" stroke="#ececec" stroke-width="1.3"/>
<line x1="331" y1="53.8" x2="469" y2="53.8" stroke="#77787b" stroke-width="1.7"/>
<line x1="332.5" y1="98.8" x2="370" y2="98.8" stroke="#77787b" stroke-width="1.7"/>
<line x1="382.5" y1="98.8" x2="469" y2="98.8" stroke="#77787b" stroke-width="1.7"/>
<line x1="331" y1="153.2" x2="472" y2="153.2" stroke="#4d4d4f" stroke-width="1.2"/>
<line x1="331" y1="201.6" x2="367.5" y2="201.6" stroke="#4d4d4f" stroke-width="1.2"/>
<line x1="381" y1="201.6" x2="464" y2="201.6" stroke="#4d4d4f" stroke-width="1.2"/>
<line x1="376.8" y1="9" x2="376.8" y2="203" stroke="#333" stroke-width="0.7" stroke-dasharray="0.9 1.1"/>
<line x1="428.5" y1="8" x2="428.5" y2="100" stroke="#77787b" stroke-width="0.8"/>
<line x1="428.5" y1="108" x2="428.5" y2="200" stroke="#77787b" stroke-width="0.8"/>
<text x="404" y="61.8" font-size="7.5" fill="#231f20" text-anchor="middle">Control</text>
<text x="351" y="107.3" font-size="7.5" fill="#231f20" text-anchor="middle">+Abema</text>
<text x="432.5" y="107.3" font-size="7.5" fill="#231f20" text-anchor="middle">+INX-315</text>
<text x="402.5" y="162" font-size="7.5" fill="#231f20" text-anchor="middle">Control</text>
<text x="351" y="209.5" font-size="7.5" fill="#231f20" text-anchor="middle">+Abema</text>
<text x="427.5" y="209.5" font-size="7.5" fill="#231f20" text-anchor="middle">+INX-315</text>
<text x="320.8" y="62" font-size="7.5" fill="#231f20" text-anchor="middle" transform="rotate(-90 320.8 62)">MCF7</text>
<text x="320.8" y="162.6" font-size="7.5" fill="#231f20" text-anchor="middle" transform="rotate(-90 320.8 162.6)">T47D</text>
<text x="0" y="224" font-size="7.5" fill="#000" font-weight="bold">MCF7</text>
<text x="0" y="326.3" font-size="7.5" fill="#000" font-weight="bold">T47D</text>
<text x="51.3" y="231.3" font-size="7.5" fill="#231f20" text-anchor="middle">Parent</text>
<text x="51.3" y="239.6" font-size="7.5" fill="#231f20" text-anchor="middle"><tspan font-style="italic">P</tspan> &lt; 1e-4</text>
<text x="51.6" y="249.9" font-size="6.7" fill="#231f20" text-anchor="middle">25.0% 43.6%</text>
<line x1="32.3" y1="251.1" x2="32.3" y2="295.15" stroke="#231f20" stroke-width="0.7"/>
<line x1="30.6" y1="251.4" x2="32.3" y2="251.4" stroke="#231f20" stroke-width="0.6"/>
<text x="27.1" y="254.05" font-size="7.5" fill="#231f20" text-anchor="end">20</text>
<line x1="30.6" y1="262.25" x2="32.3" y2="262.25" stroke="#231f20" stroke-width="0.6"/>
<text x="27.1" y="264.9" font-size="7.5" fill="#231f20" text-anchor="end">15</text>
<line x1="30.6" y1="273.1" x2="32.3" y2="273.1" stroke="#231f20" stroke-width="0.6"/>
<text x="27.1" y="275.75" font-size="7.5" fill="#231f20" text-anchor="end">10</text>
<line x1="30.6" y1="283.95" x2="32.3" y2="283.95" stroke="#231f20" stroke-width="0.6"/>
<text x="27.1" y="286.6" font-size="7.5" fill="#231f20" text-anchor="end">5</text>
<line x1="30.6" y1="294.8" x2="32.3" y2="294.8" stroke="#231f20" stroke-width="0.6"/>
<text x="27.1" y="297.45" font-size="7.5" fill="#231f20" text-anchor="end">0</text>
<line x1="31.95" y1="294.8" x2="70" y2="294.8" stroke="#231f20" stroke-width="0.7"/>
<line x1="43.4" y1="294.8" x2="43.4" y2="296.4" stroke="#231f20" stroke-width="0.6"/>
<line x1="59.6" y1="294.8" x2="59.6" y2="296.4" stroke="#231f20" stroke-width="0.6"/>
<text x="6" y="273" font-size="7.7" fill="#231f20" text-anchor="middle" transform="rotate(-90 6 273)">Integrated intensity</text>
<text x="15" y="273" font-size="7.5" fill="#231f20" text-anchor="middle" transform="rotate(-90 15 273)">of β-Gal in whole cell</text>
<text x="137" y="231.3" font-size="7.5" fill="#231f20" text-anchor="middle">Abema/Res</text>
<text x="137" y="239.6" font-size="7.5" fill="#231f20" text-anchor="middle"><tspan font-style="italic">P</tspan> &lt; 1e-4</text>
<text x="137.3" y="249.9" font-size="6.7" fill="#231f20" text-anchor="middle">25.0% 48.4%</text>
<line x1="118.2" y1="251.1" x2="118.2" y2="295.15" stroke="#231f20" stroke-width="0.7"/>
<line x1="116.5" y1="251.4" x2="118.2" y2="251.4" stroke="#231f20" stroke-width="0.6"/>
<text x="113" y="254.05" font-size="7.5" fill="#231f20" text-anchor="end">20</text>
<line x1="116.5" y1="262.25" x2="118.2" y2="262.25" stroke="#231f20" stroke-width="0.6"/>
<text x="113" y="264.9" font-size="7.5" fill="#231f20" text-anchor="end">15</text>
<line x1="116.5" y1="273.1" x2="118.2" y2="273.1" stroke="#231f20" stroke-width="0.6"/>
<text x="113" y="275.75" font-size="7.5" fill="#231f20" text-anchor="end">10</text>
<line x1="116.5" y1="283.95" x2="118.2" y2="283.95" stroke="#231f20" stroke-width="0.6"/>
<text x="113" y="286.6" font-size="7.5" fill="#231f20" text-anchor="end">5</text>
<line x1="116.5" y1="294.8" x2="118.2" y2="294.8" stroke="#231f20" stroke-width="0.6"/>
<text x="113" y="297.45" font-size="7.5" fill="#231f20" text-anchor="end">0</text>
<line x1="117.85" y1="294.8" x2="156.5" y2="294.8" stroke="#231f20" stroke-width="0.7"/>
<line x1="129.6" y1="294.8" x2="129.6" y2="296.4" stroke="#231f20" stroke-width="0.6"/>
<line x1="145.8" y1="294.8" x2="145.8" y2="296.4" stroke="#231f20" stroke-width="0.6"/>
<text x="91.9" y="273" font-size="7.7" fill="#231f20" text-anchor="middle" transform="rotate(-90 91.9 273)">Integrated intensity</text>
<text x="100.9" y="273" font-size="7.5" fill="#231f20" text-anchor="middle" transform="rotate(-90 100.9 273)">of β-Gal in whole cell</text>
<text x="218" y="231.3" font-size="7.5" fill="#231f20" text-anchor="middle">Abema/Fulv-Res</text>
<text x="218" y="239.6" font-size="7.5" fill="#231f20" text-anchor="middle"><tspan font-style="italic">P</tspan> &lt; 1e-4</text>
<text x="218.3" y="249.9" font-size="6.7" fill="#231f20" text-anchor="middle">25.0% 74.6%</text>
<line x1="199.3" y1="251.1" x2="199.3" y2="295.15" stroke="#231f20" stroke-width="0.7"/>
<line x1="197.6" y1="251.4" x2="199.3" y2="251.4" stroke="#231f20" stroke-width="0.6"/>
<text x="194.1" y="254.05" font-size="7.5" fill="#231f20" text-anchor="end">20</text>
<line x1="197.6" y1="262.25" x2="199.3" y2="262.25" stroke="#231f20" stroke-width="0.6"/>
<text x="194.1" y="264.9" font-size="7.5" fill="#231f20" text-anchor="end">15</text>
<line x1="197.6" y1="273.1" x2="199.3" y2="273.1" stroke="#231f20" stroke-width="0.6"/>
<text x="194.1" y="275.75" font-size="7.5" fill="#231f20" text-anchor="end">10</text>
<line x1="197.6" y1="283.95" x2="199.3" y2="283.95" stroke="#231f20" stroke-width="0.6"/>
<text x="194.1" y="286.6" font-size="7.5" fill="#231f20" text-anchor="end">5</text>
<line x1="197.6" y1="294.8" x2="199.3" y2="294.8" stroke="#231f20" stroke-width="0.6"/>
<text x="194.1" y="297.45" font-size="7.5" fill="#231f20" text-anchor="end">0</text>
<line x1="198.95" y1="294.8" x2="237" y2="294.8" stroke="#231f20" stroke-width="0.7"/>
<line x1="210.3" y1="294.8" x2="210.3" y2="296.4" stroke="#231f20" stroke-width="0.6"/>
<line x1="225.8" y1="294.8" x2="225.8" y2="296.4" stroke="#231f20" stroke-width="0.6"/>
<text x="173" y="273" font-size="7.7" fill="#231f20" text-anchor="middle" transform="rotate(-90 173 273)">Integrated intensity</text>
<text x="182" y="273" font-size="7.5" fill="#231f20" text-anchor="middle" transform="rotate(-90 182 273)">of β-Gal in whole cell</text>
<path d="M36.8 294.8 L37.05 294.74 L37.61 294.59 L38.38 294.36 L39.23 294.05 L40.08 293.68 L40.85 293.25 L41.52 292.76 L42.06 292.2 L42.48 291.59 L42.79 290.91 L43.01 290.19 L43.16 289.4 L43.18 288.57 L43.18 287.68 L43.18 286.74 L43.18 285.74 L43.18 284.7 L43.18 283.61 L43.18 282.46 L43.18 281.27 L43.18 280.03 L43.18 278.74 L43.18 277.4 L43.18 276.01 L43.18 274.58 L43.18 273.1 L43.18 271.57 L43.18 270 L43.18 268.39 L43.18 266.72 L43.18 265.02 L43.18 263.27 L43.18 261.47 L43.18 259.63 L43.18 257.75 L43.18 255.82 L43.18 253.85 L43.4 251.83 L43.4 251.83 L43.62 253.85 L43.62 255.82 L43.62 257.75 L43.62 259.63 L43.62 261.47 L43.62 263.27 L43.62 265.02 L43.62 266.72 L43.62 268.39 L43.62 270 L43.62 271.57 L43.62 273.1 L43.62 274.58 L43.62 276.01 L43.62 277.4 L43.62 278.74 L43.62 280.03 L43.62 281.27 L43.62 282.46 L43.62 283.61 L43.62 284.7 L43.62 285.74 L43.62 286.74 L43.62 287.68 L43.62 288.57 L43.64 289.4 L43.79 290.19 L44.01 290.91 L44.32 291.59 L44.74 292.2 L45.28 292.76 L45.95 293.25 L46.72 293.68 L47.57 294.05 L48.42 294.36 L49.19 294.59 L49.75 294.74 L50 294.8Z" fill="#58595b" stroke="#0d0d0d" stroke-width="0.55" stroke-linejoin="round"/>
<line x1="39.53" y1="293.93" x2="47.27" y2="293.93" stroke="#0d0d0d" stroke-width="0.5"/>
<line x1="41.13" y1="293.06" x2="45.67" y2="293.06" stroke="#0d0d0d" stroke-width="0.5"/>
<line x1="42.38" y1="291.76" x2="44.42" y2="291.76" stroke="#0d0d0d" stroke-width="0.5"/>
<path d="M52.3 294.8 L52.45 294.74 L52.82 294.59 L53.33 294.36 L53.94 294.05 L54.61 293.68 L55.3 293.25 L55.97 292.76 L56.6 292.2 L57.16 291.59 L57.66 290.91 L58.09 290.19 L58.44 289.4 L58.73 288.57 L58.96 287.68 L59.13 286.74 L59.27 285.74 L59.37 284.7 L59.38 283.61 L59.38 282.46 L59.38 281.27 L59.38 280.03 L59.38 278.74 L59.38 277.4 L59.38 276.01 L59.38 274.58 L59.38 273.1 L59.38 271.57 L59.38 270 L59.38 268.39 L59.38 266.72 L59.38 265.02 L59.38 263.27 L59.38 261.47 L59.38 259.63 L59.38 257.75 L59.38 255.82 L59.38 253.85 L59.6 251.83 L59.6 251.83 L59.82 253.85 L59.82 255.82 L59.82 257.75 L59.82 259.63 L59.82 261.47 L59.82 263.27 L59.82 265.02 L59.82 266.72 L59.82 268.39 L59.82 270 L59.82 271.57 L59.82 273.1 L59.82 274.58 L59.82 276.01 L59.82 277.4 L59.82 278.74 L59.82 280.03 L59.82 281.27 L59.82 282.46 L59.82 283.61 L59.83 284.7 L59.93 285.74 L60.07 286.74 L60.24 287.68 L60.47 288.57 L60.76 289.4 L61.11 290.19 L61.54 290.91 L62.04 291.59 L62.6 292.2 L63.23 292.76 L63.9 293.25 L64.59 293.68 L65.26 294.05 L65.87 294.36 L66.38 294.59 L66.75 294.74 L66.9 294.8Z" fill="#174f86" stroke="#0d0d0d" stroke-width="0.55" stroke-linejoin="round"/>
<line x1="54.92" y1="293.5" x2="64.28" y2="293.5" stroke="#0d0d0d" stroke-width="0.5"/>
<line x1="56.6" y1="292.2" x2="62.6" y2="292.2" stroke="#0d0d0d" stroke-width="0.5"/>
<line x1="58.17" y1="290.03" x2="61.03" y2="290.03" stroke="#0d0d0d" stroke-width="0.5"/>
<line x1="34" y1="291.55" x2="69.5" y2="291.55" stroke="#231f20" stroke-width="0.6" stroke-dasharray="1.1 0.9"/>
<path d="M123.2 294.8 L123.42 294.74 L123.94 294.59 L124.65 294.36 L125.44 294.05 L126.23 293.68 L126.98 293.25 L127.63 292.76 L128.17 292.2 L128.6 291.59 L128.92 290.91 L129.15 290.19 L129.31 289.4 L129.38 288.57 L129.38 287.68 L129.38 286.74 L129.38 285.74 L129.38 284.7 L129.38 283.61 L129.38 282.46 L129.38 281.27 L129.38 280.03 L129.38 278.74 L129.38 277.4 L129.38 276.01 L129.38 274.58 L129.38 273.1 L129.38 271.57 L129.38 270 L129.38 268.39 L129.38 266.72 L129.38 265.02 L129.38 263.27 L129.38 261.47 L129.38 259.63 L129.38 257.75 L129.38 255.82 L129.38 253.85 L129.6 251.83 L129.6 251.83 L129.82 253.85 L129.82 255.82 L129.82 257.75 L129.82 259.63 L129.82 261.47 L129.82 263.27 L129.82 265.02 L129.82 266.72 L129.82 268.39 L129.82 270 L129.82 271.57 L129.82 273.1 L129.82 274.58 L129.82 276.01 L129.82 277.4 L129.82 278.74 L129.82 280.03 L129.82 281.27 L129.82 282.46 L129.82 283.61 L129.82 284.7 L129.82 285.74 L129.82 286.74 L129.82 287.68 L129.82 288.57 L129.89 289.4 L130.05 290.19 L130.28 290.91 L130.6 291.59 L131.03 292.2 L131.57 292.76 L132.22 293.25 L132.97 293.68 L133.76 294.05 L134.55 294.36 L135.26 294.59 L135.78 294.74 L136 294.8Z" fill="#58595b" stroke="#0d0d0d" stroke-width="0.55" stroke-linejoin="round"/>
<line x1="125.72" y1="293.93" x2="133.48" y2="293.93" stroke="#0d0d0d" stroke-width="0.5"/>
<line x1="127.25" y1="293.06" x2="131.95" y2="293.06" stroke="#0d0d0d" stroke-width="0.5"/>
<line x1="128.49" y1="291.76" x2="130.71" y2="291.76" stroke="#0d0d0d" stroke-width="0.5"/>
<path d="M142.82 294.8 L142.2 294.74 L140.04 294.59 L140.31 294.36 L140.7 294.05 L141.14 293.68 L141.6 293.25 L142.08 292.76 L142.55 292.2 L143 291.59 L143.42 290.91 L143.8 290.19 L144.15 289.4 L144.45 288.57 L144.71 287.68 L144.94 286.74 L145.12 285.74 L145.27 284.7 L145.4 283.61 L145.49 282.46 L145.57 281.27 L145.58 280.03 L145.58 278.74 L145.58 277.4 L145.58 276.01 L145.58 274.58 L145.58 273.1 L145.58 271.57 L145.58 270 L145.58 268.39 L145.58 266.72 L145.58 265.02 L145.58 263.27 L145.58 261.47 L145.58 259.63 L145.58 257.75 L145.58 255.82 L145.58 253.85 L145.8 251.83 L145.8 251.83 L146.02 253.85 L146.02 255.82 L146.02 257.75 L146.02 259.63 L146.02 261.47 L146.02 263.27 L146.02 265.02 L146.02 266.72 L146.02 268.39 L146.02 270 L146.02 271.57 L146.02 273.1 L146.02 274.58 L146.02 276.01 L146.02 277.4 L146.02 278.74 L146.02 280.03 L146.03 281.27 L146.11 282.46 L146.2 283.61 L146.33 284.7 L146.48 285.74 L146.66 286.74 L146.89 287.68 L147.15 288.57 L147.45 289.4 L147.8 290.19 L148.18 290.91 L148.6 291.59 L149.05 292.2 L149.52 292.76 L150 293.25 L150.46 293.68 L150.9 294.05 L151.29 294.36 L151.56 294.59 L149.4 294.74 L148.78 294.8Z" fill="#f9a11b" stroke="#0d0d0d" stroke-width="0.55" stroke-linejoin="round"/>
<line x1="141.79" y1="293.06" x2="149.81" y2="293.06" stroke="#0d0d0d" stroke-width="0.5"/>
<line x1="143.3" y1="291.11" x2="148.3" y2="291.11" stroke="#0d0d0d" stroke-width="0.5"/>
<line x1="144.54" y1="288.29" x2="147.06" y2="288.29" stroke="#0d0d0d" stroke-width="0.5"/>
<line x1="118.2" y1="290.57" x2="131" y2="290.57" stroke="#9aa7b5" stroke-width="0.6"/>
<line x1="119.5" y1="291.11" x2="156" y2="291.11" stroke="#231f20" stroke-width="0.6" stroke-dasharray="1.1 0.9"/>
<path d="M204.1 294.8 L204.35 294.74 L204.92 294.59 L205.67 294.36 L206.51 294.05 L207.33 293.68 L208.06 293.25 L208.69 292.76 L209.18 292.2 L209.55 291.59 L209.82 290.91 L210 290.19 L210.08 289.4 L210.08 288.57 L210.08 287.68 L210.08 286.74 L210.08 285.74 L210.08 284.7 L210.08 283.61 L210.08 282.46 L210.08 281.27 L210.08 280.03 L210.08 278.74 L210.08 277.4 L210.08 276.01 L210.08 274.58 L210.08 273.1 L210.08 271.57 L210.08 270 L210.08 268.39 L210.08 266.72 L210.08 265.02 L210.08 263.27 L210.08 261.47 L210.08 259.63 L210.08 257.75 L210.08 255.82 L210.08 253.85 L210.3 251.83 L210.3 251.83 L210.52 253.85 L210.52 255.82 L210.52 257.75 L210.52 259.63 L210.52 261.47 L210.52 263.27 L210.52 265.02 L210.52 266.72 L210.52 268.39 L210.52 270 L210.52 271.57 L210.52 273.1 L210.52 274.58 L210.52 276.01 L210.52 277.4 L210.52 278.74 L210.52 280.03 L210.52 281.27 L210.52 282.46 L210.52 283.61 L210.52 284.7 L210.52 285.74 L210.52 286.74 L210.52 287.68 L210.52 288.57 L210.52 289.4 L210.6 290.19 L210.78 290.91 L211.05 291.59 L211.42 292.2 L211.91 292.76 L212.54 293.25 L213.27 293.68 L214.09 294.05 L214.93 294.36 L215.68 294.59 L216.25 294.74 L216.5 294.8Z" fill="#58595b" stroke="#0d0d0d" stroke-width="0.55" stroke-linejoin="round"/>
<line x1="206.26" y1="294.15" x2="214.34" y2="294.15" stroke="#0d0d0d" stroke-width="0.5"/>
<line x1="207.67" y1="293.5" x2="212.93" y2="293.5" stroke="#0d0d0d" stroke-width="0.5"/>
<line x1="208.81" y1="292.63" x2="211.79" y2="292.63" stroke="#0d0d0d" stroke-width="0.5"/>
<path d="M223.67 294.8 L223.34 294.74 L222.3 294.59 L220.01 294.36 L220.23 294.05 L220.48 293.68 L220.77 293.25 L221.08 292.76 L221.4 292.2 L221.74 291.59 L222.07 290.91 L222.4 290.19 L222.73 289.4 L223.04 288.57 L223.34 287.68 L223.62 286.74 L223.88 285.74 L224.12 284.7 L224.34 283.61 L224.54 282.46 L224.72 281.27 L224.87 280.03 L225.02 278.74 L225.14 277.4 L225.25 276.01 L225.34 274.58 L225.42 273.1 L225.49 271.57 L225.54 270 L225.58 268.39 L225.58 266.72 L225.58 265.02 L225.58 263.27 L225.58 261.47 L225.58 259.63 L225.58 257.75 L225.58 255.82 L225.58 253.85 L225.8 251.83 L225.8 251.83 L226.02 253.85 L226.02 255.82 L226.02 257.75 L226.02 259.63 L226.02 261.47 L226.02 263.27 L226.02 265.02 L226.02 266.72 L226.02 268.39 L226.06 270 L226.11 271.57 L226.18 273.1 L226.26 274.58 L226.35 276.01 L226.46 277.4 L226.58 278.74 L226.73 280.03 L226.88 281.27 L227.06 282.46 L227.26 283.61 L227.48 284.7 L227.72 285.74 L227.98 286.74 L228.26 287.68 L228.56 288.57 L228.87 289.4 L229.2 290.19 L229.53 290.91 L229.86 291.59 L230.2 292.2 L230.52 292.76 L230.83 293.25 L231.12 293.68 L231.37 294.05 L231.59 294.36 L229.3 294.59 L228.26 294.74 L227.93 294.8Z" fill="#f9a11b" stroke="#0d0d0d" stroke-width="0.55" stroke-linejoin="round"/>
<line x1="221.41" y1="292.2" x2="230.19" y2="292.2" stroke="#0d0d0d" stroke-width="0.5"/>
<line x1="223.06" y1="288.51" x2="228.54" y2="288.51" stroke="#0d0d0d" stroke-width="0.5"/>
<line x1="224.27" y1="283.95" x2="227.33" y2="283.95" stroke="#0d0d0d" stroke-width="0.5"/>
<line x1="201" y1="292.74" x2="236.5" y2="292.74" stroke="#231f20" stroke-width="0.6" stroke-dasharray="1.1 0.9"/>
<rect x="75.6" y="313.2" width="7.6" height="4.2" fill="#a7a9ac" rx="0.8"/>
<text x="87.3" y="317.9" font-size="7.5" fill="#231f20">Control</text>
<rect x="118" y="313.2" width="7.6" height="4.2" fill="#1b75bc" rx="0.8"/>
<text x="129.6" y="317.9" font-size="7.5" fill="#231f20">Abema</text>
<rect x="160.3" y="313.2" width="7.6" height="4.2" fill="#f9a11b" rx="0.8"/>
<text x="173" y="317.9" font-size="7.5" fill="#231f20">INX-315</text>
<text x="51.3" y="332.6" font-size="7.5" fill="#231f20" text-anchor="middle"><tspan font-style="italic">P</tspan> &lt; 1e-4</text>
<text x="51.6" y="340.6" font-size="6.6" fill="#231f20" text-anchor="middle">25.0% 63.4%</text>
<line x1="32.3" y1="341" x2="32.3" y2="386.05" stroke="#231f20" stroke-width="0.7"/>
<line x1="30.6" y1="341.3" x2="32.3" y2="341.3" stroke="#231f20" stroke-width="0.6"/>
<text x="27.1" y="343.95" font-size="7.5" fill="#231f20" text-anchor="end">20</text>
<line x1="30.6" y1="352.4" x2="32.3" y2="352.4" stroke="#231f20" stroke-width="0.6"/>
<text x="27.1" y="355.05" font-size="7.5" fill="#231f20" text-anchor="end">15</text>
<line x1="30.6" y1="363.5" x2="32.3" y2="363.5" stroke="#231f20" stroke-width="0.6"/>
<text x="27.1" y="366.15" font-size="7.5" fill="#231f20" text-anchor="end">10</text>
<line x1="30.6" y1="374.6" x2="32.3" y2="374.6" stroke="#231f20" stroke-width="0.6"/>
<text x="27.1" y="377.25" font-size="7.5" fill="#231f20" text-anchor="end">5</text>
<line x1="30.6" y1="385.7" x2="32.3" y2="385.7" stroke="#231f20" stroke-width="0.6"/>
<text x="27.1" y="388.35" font-size="7.5" fill="#231f20" text-anchor="end">0</text>
<line x1="31.95" y1="385.7" x2="70" y2="385.7" stroke="#231f20" stroke-width="0.7"/>
<line x1="43.4" y1="385.7" x2="43.4" y2="387.3" stroke="#231f20" stroke-width="0.6"/>
<line x1="59.6" y1="385.7" x2="59.6" y2="387.3" stroke="#231f20" stroke-width="0.6"/>
<text x="6" y="364" font-size="7.7" fill="#231f20" text-anchor="middle" transform="rotate(-90 6 364)">Integrated intensity</text>
<text x="15" y="364" font-size="7.5" fill="#231f20" text-anchor="middle" transform="rotate(-90 15 364)">of β-Gal in whole cell</text>
<text x="137" y="332.6" font-size="7.5" fill="#231f20" text-anchor="middle"><tspan font-style="italic">P</tspan> &lt; 1e-4</text>
<text x="137.3" y="340.6" font-size="6.6" fill="#231f20" text-anchor="middle">25.0% 39.1%</text>
<line x1="118.2" y1="341" x2="118.2" y2="386.05" stroke="#231f20" stroke-width="0.7"/>
<line x1="116.5" y1="341.3" x2="118.2" y2="341.3" stroke="#231f20" stroke-width="0.6"/>
<text x="113" y="343.95" font-size="7.5" fill="#231f20" text-anchor="end">6</text>
<line x1="116.5" y1="356.1" x2="118.2" y2="356.1" stroke="#231f20" stroke-width="0.6"/>
<text x="113" y="358.75" font-size="7.5" fill="#231f20" text-anchor="end">4</text>
<line x1="116.5" y1="370.9" x2="118.2" y2="370.9" stroke="#231f20" stroke-width="0.6"/>
<text x="113" y="373.55" font-size="7.5" fill="#231f20" text-anchor="end">2</text>
<line x1="116.5" y1="385.7" x2="118.2" y2="385.7" stroke="#231f20" stroke-width="0.6"/>
<text x="113" y="388.35" font-size="7.5" fill="#231f20" text-anchor="end">0</text>
<line x1="117.85" y1="385.7" x2="156.5" y2="385.7" stroke="#231f20" stroke-width="0.7"/>
<line x1="129.6" y1="385.7" x2="129.6" y2="387.3" stroke="#231f20" stroke-width="0.6"/>
<line x1="145.8" y1="385.7" x2="145.8" y2="387.3" stroke="#231f20" stroke-width="0.6"/>
<text x="91.9" y="364" font-size="7.7" fill="#231f20" text-anchor="middle" transform="rotate(-90 91.9 364)">Integrated intensity</text>
<text x="100.9" y="364" font-size="7.5" fill="#231f20" text-anchor="middle" transform="rotate(-90 100.9 364)">of β-Gal in whole cell</text>
<text x="218" y="332.6" font-size="7.5" fill="#231f20" text-anchor="middle"><tspan font-style="italic">P</tspan> &lt; 1e-4</text>
<text x="218.3" y="340.6" font-size="6.6" fill="#231f20" text-anchor="middle">25.0% 55.1%</text>
<line x1="199.3" y1="341" x2="199.3" y2="386.05" stroke="#231f20" stroke-width="0.7"/>
<line x1="197.6" y1="341.3" x2="199.3" y2="341.3" stroke="#231f20" stroke-width="0.6"/>
<text x="194.1" y="343.95" font-size="7.5" fill="#231f20" text-anchor="end">8</text>
<line x1="197.6" y1="352.4" x2="199.3" y2="352.4" stroke="#231f20" stroke-width="0.6"/>
<text x="194.1" y="355.05" font-size="7.5" fill="#231f20" text-anchor="end">6</text>
<line x1="197.6" y1="363.5" x2="199.3" y2="363.5" stroke="#231f20" stroke-width="0.6"/>
<text x="194.1" y="366.15" font-size="7.5" fill="#231f20" text-anchor="end">4</text>
<line x1="197.6" y1="374.6" x2="199.3" y2="374.6" stroke="#231f20" stroke-width="0.6"/>
<text x="194.1" y="377.25" font-size="7.5" fill="#231f20" text-anchor="end">2</text>
<line x1="197.6" y1="385.7" x2="199.3" y2="385.7" stroke="#231f20" stroke-width="0.6"/>
<text x="194.1" y="388.35" font-size="7.5" fill="#231f20" text-anchor="end">0</text>
<line x1="198.95" y1="385.7" x2="237" y2="385.7" stroke="#231f20" stroke-width="0.7"/>
<line x1="210.3" y1="385.7" x2="210.3" y2="387.3" stroke="#231f20" stroke-width="0.6"/>
<line x1="225.8" y1="385.7" x2="225.8" y2="387.3" stroke="#231f20" stroke-width="0.6"/>
<text x="173" y="364" font-size="7.7" fill="#231f20" text-anchor="middle" transform="rotate(-90 173 364)">Integrated intensity</text>
<text x="182" y="364" font-size="7.5" fill="#231f20" text-anchor="middle" transform="rotate(-90 182 364)">of β-Gal in whole cell</text>
<path d="M42.79 385.7 L42.76 385.64 L42.7 385.48 L42.58 385.24 L42.4 384.94 L42.13 384.56 L41.71 384.11 L41.06 383.61 L40.02 383.04 L38.34 382.41 L39.12 381.72 L39.97 380.98 L40.71 380.18 L41.32 379.32 L41.81 378.41 L42.21 377.45 L42.52 376.44 L42.77 375.37 L42.95 374.25 L43.08 373.08 L43.18 371.86 L43.18 370.59 L43.18 369.27 L43.18 367.9 L43.18 366.48 L43.18 365.01 L43.18 363.5 L43.18 361.94 L43.18 360.33 L43.18 358.68 L43.18 356.98 L43.18 355.23 L43.18 353.44 L43.18 351.6 L43.18 349.72 L43.18 347.79 L43.18 345.82 L43.18 343.8 L43.4 341.74 L43.4 341.74 L43.62 343.8 L43.62 345.82 L43.62 347.79 L43.62 349.72 L43.62 351.6 L43.62 353.44 L43.62 355.23 L43.62 356.98 L43.62 358.68 L43.62 360.33 L43.62 361.94 L43.62 363.5 L43.62 365.01 L43.62 366.48 L43.62 367.9 L43.62 369.27 L43.62 370.59 L43.62 371.86 L43.72 373.08 L43.85 374.25 L44.03 375.37 L44.28 376.44 L44.59 377.45 L44.99 378.41 L45.48 379.32 L46.09 380.18 L46.83 380.98 L47.68 381.72 L48.46 382.41 L46.78 383.04 L45.74 383.61 L45.09 384.11 L44.67 384.56 L44.4 384.94 L44.22 385.24 L44.1 385.48 L44.04 385.64 L44.01 385.7Z" fill="#8c8e91" stroke="#0d0d0d" stroke-width="0.55" stroke-linejoin="round"/>
<line x1="40.85" y1="383.48" x2="45.95" y2="383.48" stroke="#0d0d0d" stroke-width="0.5"/>
<line x1="38.54" y1="382.15" x2="48.26" y2="382.15" stroke="#0d0d0d" stroke-width="0.5"/>
<line x1="40.55" y1="380.37" x2="46.25" y2="380.37" stroke="#0d0d0d" stroke-width="0.5"/>
<path d="M58.63 385.7 L58.61 385.64 L58.55 385.48 L58.47 385.24 L58.35 384.94 L58.19 384.56 L57.98 384.11 L57.69 383.61 L57.31 383.04 L56.79 382.41 L56.1 381.72 L55.15 380.98 L53.84 380.18 L52.62 379.32 L53.76 378.41 L54.76 377.45 L55.64 376.44 L56.39 375.37 L57.02 374.25 L57.55 373.08 L57.98 371.86 L58.34 370.59 L58.63 369.27 L58.86 367.9 L59.04 366.48 L59.18 365.01 L59.29 363.5 L59.37 361.94 L59.38 360.33 L59.38 358.68 L59.38 356.98 L59.38 355.23 L59.38 353.44 L59.38 351.6 L59.38 349.72 L59.38 347.79 L59.38 345.82 L59.38 343.8 L59.6 341.74 L59.6 341.74 L59.82 343.8 L59.82 345.82 L59.82 347.79 L59.82 349.72 L59.82 351.6 L59.82 353.44 L59.82 355.23 L59.82 356.98 L59.82 358.68 L59.82 360.33 L59.83 361.94 L59.91 363.5 L60.02 365.01 L60.16 366.48 L60.34 367.9 L60.57 369.27 L60.86 370.59 L61.22 371.86 L61.65 373.08 L62.18 374.25 L62.81 375.37 L63.56 376.44 L64.44 377.45 L65.44 378.41 L66.58 379.32 L65.36 380.18 L64.05 380.98 L63.1 381.72 L62.41 382.41 L61.89 383.04 L61.51 383.61 L61.22 384.11 L61.01 384.56 L60.85 384.94 L60.73 385.24 L60.65 385.48 L60.59 385.64 L60.57 385.7Z" fill="#1b63a8" stroke="#0d0d0d" stroke-width="0.55" stroke-linejoin="round"/>
<line x1="55.53" y1="381.26" x2="63.67" y2="381.26" stroke="#0d0d0d" stroke-width="0.5"/>
<line x1="53.55" y1="378.6" x2="65.65" y2="378.6" stroke="#0d0d0d" stroke-width="0.5"/>
<line x1="56.31" y1="375.49" x2="62.89" y2="375.49" stroke="#0d0d0d" stroke-width="0.5"/>
<line x1="34" y1="380.15" x2="69.5" y2="380.15" stroke="#231f20" stroke-width="0.6" stroke-dasharray="1.1 0.9"/>
<path d="M128.84 385.7 L128.82 385.64 L128.75 385.48 L128.63 385.24 L128.45 384.93 L128.19 384.56 L127.81 384.11 L127.25 383.6 L126.4 383.03 L125.1 382.41 L124.38 381.72 L125.25 380.97 L126.03 380.17 L126.71 379.31 L127.29 378.4 L127.77 377.44 L128.18 376.42 L128.51 375.35 L128.77 374.23 L128.98 373.06 L129.14 371.83 L129.26 370.56 L129.36 369.24 L129.38 367.87 L129.38 366.45 L129.38 364.98 L129.38 363.46 L129.38 361.9 L129.38 360.29 L129.38 358.63 L129.38 356.93 L129.38 355.18 L129.38 353.38 L129.38 351.54 L129.38 349.66 L129.38 347.73 L129.38 345.75 L129.38 343.73 L129.6 341.67 L129.6 341.67 L129.82 343.73 L129.82 345.75 L129.82 347.73 L129.82 349.66 L129.82 351.54 L129.82 353.38 L129.82 355.18 L129.82 356.93 L129.82 358.63 L129.82 360.29 L129.82 361.9 L129.82 363.46 L129.82 364.98 L129.82 366.45 L129.82 367.87 L129.84 369.24 L129.94 370.56 L130.06 371.83 L130.22 373.06 L130.43 374.23 L130.69 375.35 L131.02 376.42 L131.43 377.44 L131.91 378.4 L132.49 379.31 L133.17 380.17 L133.95 380.97 L134.82 381.72 L134.1 382.41 L132.8 383.03 L131.95 383.6 L131.39 384.11 L131.01 384.56 L130.75 384.93 L130.57 385.24 L130.45 385.48 L130.38 385.64 L130.36 385.7Z" fill="#8c8e91" stroke="#0d0d0d" stroke-width="0.55" stroke-linejoin="round"/>
<line x1="126.53" y1="383.11" x2="132.67" y2="383.11" stroke="#0d0d0d" stroke-width="0.5"/>
<line x1="124.49" y1="381.63" x2="134.71" y2="381.63" stroke="#0d0d0d" stroke-width="0.5"/>
<line x1="126.64" y1="379.41" x2="132.56" y2="379.41" stroke="#0d0d0d" stroke-width="0.5"/>
<path d="M145.14 385.7 L145.13 385.64 L145.08 385.48 L145.02 385.24 L144.92 384.93 L144.78 384.56 L144.59 384.11 L144.32 383.6 L143.96 383.03 L143.46 382.41 L142.74 381.72 L141.72 380.97 L140.24 380.17 L140.9 379.31 L141.56 378.4 L142.16 377.44 L142.71 376.42 L143.19 375.35 L143.62 374.23 L143.99 373.06 L144.31 371.83 L144.58 370.56 L144.81 369.24 L145.01 367.87 L145.17 366.45 L145.3 364.98 L145.41 363.46 L145.49 361.9 L145.56 360.29 L145.58 358.63 L145.58 356.93 L145.58 355.18 L145.58 353.38 L145.58 351.54 L145.58 349.66 L145.58 347.73 L145.58 345.75 L145.58 343.73 L145.8 341.67 L145.8 341.67 L146.02 343.73 L146.02 345.75 L146.02 347.73 L146.02 349.66 L146.02 351.54 L146.02 353.38 L146.02 355.18 L146.02 356.93 L146.02 358.63 L146.04 360.29 L146.11 361.9 L146.19 363.46 L146.3 364.98 L146.43 366.45 L146.59 367.87 L146.79 369.24 L147.02 370.56 L147.29 371.83 L147.61 373.06 L147.98 374.23 L148.41 375.35 L148.89 376.42 L149.44 377.44 L150.04 378.4 L150.7 379.31 L151.36 380.17 L149.88 380.97 L148.86 381.72 L148.14 382.41 L147.64 383.03 L147.28 383.6 L147.01 384.11 L146.82 384.56 L146.68 384.93 L146.58 385.24 L146.52 385.48 L146.47 385.64 L146.46 385.7Z" fill="#f9a11b" stroke="#0d0d0d" stroke-width="0.55" stroke-linejoin="round"/>
<line x1="143.06" y1="382" x2="148.54" y2="382" stroke="#0d0d0d" stroke-width="0.5"/>
<line x1="140.82" y1="379.41" x2="150.78" y2="379.41" stroke="#0d0d0d" stroke-width="0.5"/>
<line x1="142.87" y1="376.08" x2="148.73" y2="376.08" stroke="#0d0d0d" stroke-width="0.5"/>
<line x1="118.2" y1="377.41" x2="131" y2="377.41" stroke="#9aa7b5" stroke-width="0.6"/>
<line x1="119.5" y1="378.08" x2="156" y2="378.08" stroke="#231f20" stroke-width="0.6" stroke-dasharray="1.1 0.9"/>
<path d="M209.49 385.7 L209.44 385.64 L209.31 385.48 L209.07 385.24 L208.68 384.93 L208.02 384.55 L206.89 384.11 L204.91 383.6 L205 383.03 L205.85 382.4 L206.63 381.71 L207.31 380.96 L207.91 380.16 L208.42 379.3 L208.84 378.39 L209.18 377.42 L209.46 376.4 L209.67 375.33 L209.84 374.2 L209.97 373.03 L210.06 371.8 L210.08 370.53 L210.08 369.2 L210.08 367.83 L210.08 366.41 L210.08 364.93 L210.08 363.42 L210.08 361.85 L210.08 360.24 L210.08 358.58 L210.08 356.87 L210.08 355.12 L210.08 353.32 L210.08 351.47 L210.08 349.58 L210.08 347.65 L210.08 345.67 L210.08 343.65 L210.3 341.58 L210.3 341.58 L210.52 343.65 L210.52 345.67 L210.52 347.65 L210.52 349.58 L210.52 351.47 L210.52 353.32 L210.52 355.12 L210.52 356.87 L210.52 358.58 L210.52 360.24 L210.52 361.85 L210.52 363.42 L210.52 364.93 L210.52 366.41 L210.52 367.83 L210.52 369.2 L210.52 370.53 L210.54 371.8 L210.63 373.03 L210.76 374.2 L210.93 375.33 L211.14 376.4 L211.42 377.42 L211.76 378.39 L212.18 379.3 L212.69 380.16 L213.29 380.96 L213.97 381.71 L214.75 382.4 L215.6 383.03 L215.69 383.6 L213.71 384.11 L212.58 384.55 L211.92 384.93 L211.53 385.24 L211.29 385.48 L211.16 385.64 L211.11 385.7Z" fill="#8c8e91" stroke="#0d0d0d" stroke-width="0.55" stroke-linejoin="round"/>
<line x1="206.66" y1="384.03" x2="213.94" y2="384.03" stroke="#0d0d0d" stroke-width="0.5"/>
<line x1="205.16" y1="382.93" x2="215.44" y2="382.93" stroke="#0d0d0d" stroke-width="0.5"/>
<line x1="207.3" y1="380.98" x2="213.3" y2="380.98" stroke="#0d0d0d" stroke-width="0.5"/>
<path d="M224.99 385.7 L224.96 385.64 L224.87 385.48 L224.73 385.24 L224.51 384.93 L224.18 384.55 L223.69 384.11 L222.93 383.6 L221.76 383.03 L219.9 382.4 L220.35 381.71 L220.9 380.96 L221.44 380.16 L221.95 379.3 L222.42 378.39 L222.86 377.42 L223.26 376.4 L223.63 375.33 L223.95 374.2 L224.24 373.03 L224.49 371.8 L224.71 370.53 L224.9 369.2 L225.06 367.83 L225.2 366.41 L225.31 364.93 L225.41 363.42 L225.49 361.85 L225.55 360.24 L225.58 358.58 L225.58 356.87 L225.58 355.12 L225.58 353.32 L225.58 351.47 L225.58 349.58 L225.58 347.65 L225.58 345.67 L225.58 343.65 L225.8 341.58 L225.8 341.58 L226.02 343.65 L226.02 345.67 L226.02 347.65 L226.02 349.58 L226.02 351.47 L226.02 353.32 L226.02 355.12 L226.02 356.87 L226.02 358.58 L226.05 360.24 L226.11 361.85 L226.19 363.42 L226.29 364.93 L226.4 366.41 L226.54 367.83 L226.7 369.2 L226.89 370.53 L227.11 371.8 L227.36 373.03 L227.65 374.2 L227.97 375.33 L228.34 376.4 L228.74 377.42 L229.18 378.39 L229.65 379.3 L230.16 380.16 L230.7 380.96 L231.25 381.71 L231.7 382.4 L229.84 383.03 L228.67 383.6 L227.91 384.11 L227.42 384.55 L227.09 384.93 L226.87 385.24 L226.73 385.48 L226.64 385.64 L226.61 385.7Z" fill="#f9a11b" stroke="#0d0d0d" stroke-width="0.55" stroke-linejoin="round"/>
<line x1="221.5" y1="382.93" x2="230.1" y2="382.93" stroke="#0d0d0d" stroke-width="0.5"/>
<line x1="221.78" y1="379.59" x2="229.82" y2="379.59" stroke="#0d0d0d" stroke-width="0.5"/>
<line x1="223.68" y1="375.15" x2="227.92" y2="375.15" stroke="#0d0d0d" stroke-width="0.5"/>
<line x1="201" y1="380.26" x2="236.5" y2="380.26" stroke="#231f20" stroke-width="0.6" stroke-dasharray="1.1 0.9"/>
<text x="263" y="224" font-size="7.5" fill="#000" font-weight="bold">MCF7</text>
<text x="263" y="326.3" font-size="7.5" fill="#000" font-weight="bold">T47D</text>
<text x="318.5" y="231.3" font-size="7.5" fill="#231f20" text-anchor="middle">Parent</text>
<text x="304.4" y="247.7" font-size="7.5" fill="#231f20"><tspan font-style="italic">P</tspan> &lt; 1e-4</text>
<line x1="299.6" y1="245" x2="299.6" y2="294.55" stroke="#231f20" stroke-width="0.7"/>
<line x1="296.6" y1="245.3" x2="299.6" y2="245.3" stroke="#231f20" stroke-width="0.6"/>
<text x="293.3" y="247.95" font-size="7" fill="#231f20" text-anchor="end">1,250</text>
<line x1="296.6" y1="255.08" x2="299.6" y2="255.08" stroke="#231f20" stroke-width="0.6"/>
<text x="293.3" y="257.73" font-size="7" fill="#231f20" text-anchor="end">1,000</text>
<line x1="296.6" y1="264.86" x2="299.6" y2="264.86" stroke="#231f20" stroke-width="0.6"/>
<text x="293.3" y="267.51" font-size="7" fill="#231f20" text-anchor="end">750</text>
<line x1="296.6" y1="274.64" x2="299.6" y2="274.64" stroke="#231f20" stroke-width="0.6"/>
<text x="293.3" y="277.29" font-size="7" fill="#231f20" text-anchor="end">500</text>
<line x1="296.6" y1="284.42" x2="299.6" y2="284.42" stroke="#231f20" stroke-width="0.6"/>
<text x="293.3" y="287.07" font-size="7" fill="#231f20" text-anchor="end">250</text>
<line x1="296.6" y1="294.2" x2="299.6" y2="294.2" stroke="#231f20" stroke-width="0.6"/>
<text x="293.3" y="296.85" font-size="7" fill="#231f20" text-anchor="end">0</text>
<line x1="299.25" y1="294.2" x2="340.5" y2="294.2" stroke="#231f20" stroke-width="0.7"/>
<line x1="311.2" y1="294.2" x2="311.2" y2="295.8" stroke="#231f20" stroke-width="0.6"/>
<line x1="329.6" y1="294.2" x2="329.6" y2="295.8" stroke="#231f20" stroke-width="0.6"/>
<text x="271.3" y="270.05" font-size="7.9" fill="#231f20" text-anchor="middle" transform="rotate(-90 271.3 270.05)">Nuclei size (px<tspan font-size="4.8" dy="-2.8">2</tspan><tspan dy="2.8">)</tspan></text>
<text x="399.5" y="231.3" font-size="7.5" fill="#231f20" text-anchor="middle">Abema/Res</text>
<text x="388" y="247.7" font-size="7.5" fill="#231f20"><tspan font-style="italic">P</tspan> &lt; 1e-4</text>
<line x1="383.2" y1="245" x2="383.2" y2="294.55" stroke="#231f20" stroke-width="0.7"/>
<line x1="380.2" y1="245.3" x2="383.2" y2="245.3" stroke="#231f20" stroke-width="0.6"/>
<text x="376.9" y="247.95" font-size="7" fill="#231f20" text-anchor="end">1,250</text>
<line x1="380.2" y1="255.08" x2="383.2" y2="255.08" stroke="#231f20" stroke-width="0.6"/>
<text x="376.9" y="257.73" font-size="7" fill="#231f20" text-anchor="end">1,000</text>
<line x1="380.2" y1="264.86" x2="383.2" y2="264.86" stroke="#231f20" stroke-width="0.6"/>
<text x="376.9" y="267.51" font-size="7" fill="#231f20" text-anchor="end">750</text>
<line x1="380.2" y1="274.64" x2="383.2" y2="274.64" stroke="#231f20" stroke-width="0.6"/>
<text x="376.9" y="277.29" font-size="7" fill="#231f20" text-anchor="end">500</text>
<line x1="380.2" y1="284.42" x2="383.2" y2="284.42" stroke="#231f20" stroke-width="0.6"/>
<text x="376.9" y="287.07" font-size="7" fill="#231f20" text-anchor="end">250</text>
<line x1="380.2" y1="294.2" x2="383.2" y2="294.2" stroke="#231f20" stroke-width="0.6"/>
<text x="376.9" y="296.85" font-size="7" fill="#231f20" text-anchor="end">0</text>
<line x1="382.85" y1="294.2" x2="423.5" y2="294.2" stroke="#231f20" stroke-width="0.7"/>
<line x1="393.8" y1="294.2" x2="393.8" y2="295.8" stroke="#231f20" stroke-width="0.6"/>
<line x1="412" y1="294.2" x2="412" y2="295.8" stroke="#231f20" stroke-width="0.6"/>
<text x="354.9" y="270.05" font-size="7.9" fill="#231f20" text-anchor="middle" transform="rotate(-90 354.9 270.05)">Nuclei size (px<tspan font-size="4.8" dy="-2.8">2</tspan><tspan dy="2.8">)</tspan></text>
<text x="481" y="231.3" font-size="7.5" fill="#231f20" text-anchor="middle">Abema/Fulv-Res</text>
<text x="471.1" y="247.7" font-size="7.5" fill="#231f20"><tspan font-style="italic">P</tspan> &lt; 1e-4</text>
<line x1="466.3" y1="245" x2="466.3" y2="294.55" stroke="#231f20" stroke-width="0.7"/>
<line x1="463.3" y1="245.3" x2="466.3" y2="245.3" stroke="#231f20" stroke-width="0.6"/>
<text x="460" y="247.95" font-size="7" fill="#231f20" text-anchor="end">1,250</text>
<line x1="463.3" y1="255.08" x2="466.3" y2="255.08" stroke="#231f20" stroke-width="0.6"/>
<text x="460" y="257.73" font-size="7" fill="#231f20" text-anchor="end">1,000</text>
<line x1="463.3" y1="264.86" x2="466.3" y2="264.86" stroke="#231f20" stroke-width="0.6"/>
<text x="460" y="267.51" font-size="7" fill="#231f20" text-anchor="end">750</text>
<line x1="463.3" y1="274.64" x2="466.3" y2="274.64" stroke="#231f20" stroke-width="0.6"/>
<text x="460" y="277.29" font-size="7" fill="#231f20" text-anchor="end">500</text>
<line x1="463.3" y1="284.42" x2="466.3" y2="284.42" stroke="#231f20" stroke-width="0.6"/>
<text x="460" y="287.07" font-size="7" fill="#231f20" text-anchor="end">250</text>
<line x1="463.3" y1="294.2" x2="466.3" y2="294.2" stroke="#231f20" stroke-width="0.6"/>
<text x="460" y="296.85" font-size="7" fill="#231f20" text-anchor="end">0</text>
<line x1="465.95" y1="294.2" x2="508.5" y2="294.2" stroke="#231f20" stroke-width="0.7"/>
<line x1="478.5" y1="294.2" x2="478.5" y2="295.8" stroke="#231f20" stroke-width="0.6"/>
<line x1="496.8" y1="294.2" x2="496.8" y2="295.8" stroke="#231f20" stroke-width="0.6"/>
<text x="438" y="270.05" font-size="7.9" fill="#231f20" text-anchor="middle" transform="rotate(-90 438 270.05)">Nuclei size (px<tspan font-size="4.8" dy="-2.8">2</tspan><tspan dy="2.8">)</tspan></text>
<text x="304.4" y="340.6" font-size="7.5" fill="#231f20"><tspan font-style="italic">P</tspan> = 0.038</text>
<line x1="299.6" y1="337.9" x2="299.6" y2="386.15" stroke="#231f20" stroke-width="0.7"/>
<line x1="296.6" y1="338.2" x2="299.6" y2="338.2" stroke="#231f20" stroke-width="0.6"/>
<text x="293.3" y="340.85" font-size="7" fill="#231f20" text-anchor="end">1,250</text>
<line x1="296.6" y1="347.72" x2="299.6" y2="347.72" stroke="#231f20" stroke-width="0.6"/>
<text x="293.3" y="350.37" font-size="7" fill="#231f20" text-anchor="end">1,000</text>
<line x1="296.6" y1="357.24" x2="299.6" y2="357.24" stroke="#231f20" stroke-width="0.6"/>
<text x="293.3" y="359.89" font-size="7" fill="#231f20" text-anchor="end">750</text>
<line x1="296.6" y1="366.76" x2="299.6" y2="366.76" stroke="#231f20" stroke-width="0.6"/>
<text x="293.3" y="369.41" font-size="7" fill="#231f20" text-anchor="end">500</text>
<line x1="296.6" y1="376.28" x2="299.6" y2="376.28" stroke="#231f20" stroke-width="0.6"/>
<text x="293.3" y="378.93" font-size="7" fill="#231f20" text-anchor="end">250</text>
<line x1="296.6" y1="385.8" x2="299.6" y2="385.8" stroke="#231f20" stroke-width="0.6"/>
<text x="293.3" y="388.45" font-size="7" fill="#231f20" text-anchor="end">0</text>
<line x1="299.25" y1="385.8" x2="340.5" y2="385.8" stroke="#231f20" stroke-width="0.7"/>
<line x1="311.2" y1="385.8" x2="311.2" y2="387.4" stroke="#231f20" stroke-width="0.6"/>
<line x1="329.6" y1="385.8" x2="329.6" y2="387.4" stroke="#231f20" stroke-width="0.6"/>
<text x="271.3" y="362.3" font-size="7.9" fill="#231f20" text-anchor="middle" transform="rotate(-90 271.3 362.3)">Nuclei size (px<tspan font-size="4.8" dy="-2.8">2</tspan><tspan dy="2.8">)</tspan></text>
<text x="388" y="340.6" font-size="7.5" fill="#231f20"><tspan font-style="italic">P</tspan> &lt; 1e-4</text>
<line x1="383.2" y1="337.9" x2="383.2" y2="386.15" stroke="#231f20" stroke-width="0.7"/>
<line x1="380.2" y1="338.2" x2="383.2" y2="338.2" stroke="#231f20" stroke-width="0.6"/>
<text x="376.9" y="340.85" font-size="7" fill="#231f20" text-anchor="end">1,250</text>
<line x1="380.2" y1="347.72" x2="383.2" y2="347.72" stroke="#231f20" stroke-width="0.6"/>
<text x="376.9" y="350.37" font-size="7" fill="#231f20" text-anchor="end">1,000</text>
<line x1="380.2" y1="357.24" x2="383.2" y2="357.24" stroke="#231f20" stroke-width="0.6"/>
<text x="376.9" y="359.89" font-size="7" fill="#231f20" text-anchor="end">750</text>
<line x1="380.2" y1="366.76" x2="383.2" y2="366.76" stroke="#231f20" stroke-width="0.6"/>
<text x="376.9" y="369.41" font-size="7" fill="#231f20" text-anchor="end">500</text>
<line x1="380.2" y1="376.28" x2="383.2" y2="376.28" stroke="#231f20" stroke-width="0.6"/>
<text x="376.9" y="378.93" font-size="7" fill="#231f20" text-anchor="end">250</text>
<line x1="380.2" y1="385.8" x2="383.2" y2="385.8" stroke="#231f20" stroke-width="0.6"/>
<text x="376.9" y="388.45" font-size="7" fill="#231f20" text-anchor="end">0</text>
<line x1="382.85" y1="385.8" x2="423.5" y2="385.8" stroke="#231f20" stroke-width="0.7"/>
<line x1="393.8" y1="385.8" x2="393.8" y2="387.4" stroke="#231f20" stroke-width="0.6"/>
<line x1="412" y1="385.8" x2="412" y2="387.4" stroke="#231f20" stroke-width="0.6"/>
<text x="354.9" y="362.3" font-size="7.9" fill="#231f20" text-anchor="middle" transform="rotate(-90 354.9 362.3)">Nuclei size (px<tspan font-size="4.8" dy="-2.8">2</tspan><tspan dy="2.8">)</tspan></text>
<text x="471.1" y="340.6" font-size="7.5" fill="#231f20"><tspan font-style="italic">P</tspan> &lt; 1e-4</text>
<line x1="466.3" y1="337.9" x2="466.3" y2="386.15" stroke="#231f20" stroke-width="0.7"/>
<line x1="463.3" y1="338.2" x2="466.3" y2="338.2" stroke="#231f20" stroke-width="0.6"/>
<text x="460" y="340.85" font-size="7" fill="#231f20" text-anchor="end">1,250</text>
<line x1="463.3" y1="347.72" x2="466.3" y2="347.72" stroke="#231f20" stroke-width="0.6"/>
<text x="460" y="350.37" font-size="7" fill="#231f20" text-anchor="end">1,000</text>
<line x1="463.3" y1="357.24" x2="466.3" y2="357.24" stroke="#231f20" stroke-width="0.6"/>
<text x="460" y="359.89" font-size="7" fill="#231f20" text-anchor="end">750</text>
<line x1="463.3" y1="366.76" x2="466.3" y2="366.76" stroke="#231f20" stroke-width="0.6"/>
<text x="460" y="369.41" font-size="7" fill="#231f20" text-anchor="end">500</text>
<line x1="463.3" y1="376.28" x2="466.3" y2="376.28" stroke="#231f20" stroke-width="0.6"/>
<text x="460" y="378.93" font-size="7" fill="#231f20" text-anchor="end">250</text>
<line x1="463.3" y1="385.8" x2="466.3" y2="385.8" stroke="#231f20" stroke-width="0.6"/>
<text x="460" y="388.45" font-size="7" fill="#231f20" text-anchor="end">0</text>
<line x1="465.95" y1="385.8" x2="508.5" y2="385.8" stroke="#231f20" stroke-width="0.7"/>
<line x1="478.5" y1="385.8" x2="478.5" y2="387.4" stroke="#231f20" stroke-width="0.6"/>
<line x1="496.8" y1="385.8" x2="496.8" y2="387.4" stroke="#231f20" stroke-width="0.6"/>
<text x="438" y="362.3" font-size="7.9" fill="#231f20" text-anchor="middle" transform="rotate(-90 438 362.3)">Nuclei size (px<tspan font-size="4.8" dy="-2.8">2</tspan><tspan dy="2.8">)</tspan></text>
<path d="M310.84 292.64 L310.82 292.58 L310.79 292.45 L310.72 292.25 L310.62 291.98 L310.46 291.66 L310.23 291.28 L309.87 290.85 L309.3 290.36 L308.38 289.83 L306.88 289.24 L305.24 288.6 L306.86 287.92 L308.11 287.19 L309.05 286.41 L309.73 285.59 L310.22 284.72 L310.56 283.81 L310.79 282.85 L310.94 281.85 L310.98 280.81 L310.98 279.72 L310.98 278.59 L310.98 277.42 L310.98 276.21 L310.98 274.96 L310.98 273.67 L310.98 272.33 L310.98 270.96 L310.98 269.55 L310.98 268.1 L310.98 266.6 L310.98 265.07 L310.98 263.5 L310.98 261.89 L310.98 260.25 L310.98 258.56 L310.98 256.84 L311.2 255.08 L311.2 255.08 L311.42 256.84 L311.42 258.56 L311.42 260.25 L311.42 261.89 L311.42 263.5 L311.42 265.07 L311.42 266.6 L311.42 268.1 L311.42 269.55 L311.42 270.96 L311.42 272.33 L311.42 273.67 L311.42 274.96 L311.42 276.21 L311.42 277.42 L311.42 278.59 L311.42 279.72 L311.42 280.81 L311.46 281.85 L311.61 282.85 L311.84 283.81 L312.18 284.72 L312.67 285.59 L313.35 286.41 L314.29 287.19 L315.54 287.92 L317.16 288.6 L315.52 289.24 L314.02 289.83 L313.1 290.36 L312.53 290.85 L312.17 291.28 L311.94 291.66 L311.78 291.98 L311.68 292.25 L311.61 292.45 L311.58 292.58 L311.56 292.64Z" fill="#8c8e91" stroke="#0d0d0d" stroke-width="0.55" stroke-linejoin="round"/>
<line x1="308.53" y1="289.9" x2="313.87" y2="289.9" stroke="#0d0d0d" stroke-width="0.5"/>
<line x1="304.9" y1="288.72" x2="317.5" y2="288.72" stroke="#0d0d0d" stroke-width="0.5"/>
<line x1="308.16" y1="287.16" x2="314.24" y2="287.16" stroke="#0d0d0d" stroke-width="0.5"/>
<path d="M329.24 292.64 L329.23 292.58 L329.22 292.45 L329.19 292.25 L329.15 291.98 L329.09 291.66 L329.01 291.28 L328.91 290.85 L328.78 290.36 L328.6 289.83 L328.36 289.24 L328.04 288.6 L327.59 287.92 L326.98 287.19 L326.12 286.41 L324.9 285.59 L323.15 284.72 L323.28 283.81 L324.45 282.85 L325.44 281.85 L326.27 280.81 L326.95 279.72 L327.52 278.59 L327.98 277.42 L328.35 276.21 L328.64 274.96 L328.87 273.67 L329.05 272.33 L329.19 270.96 L329.3 269.55 L329.38 268.1 L329.38 266.6 L329.38 265.07 L329.38 263.5 L329.38 261.89 L329.38 260.25 L329.38 258.56 L329.38 256.84 L329.6 255.08 L329.6 255.08 L329.82 256.84 L329.82 258.56 L329.82 260.25 L329.82 261.89 L329.82 263.5 L329.82 265.07 L329.82 266.6 L329.82 268.1 L329.9 269.55 L330.01 270.96 L330.15 272.33 L330.33 273.67 L330.56 274.96 L330.85 276.21 L331.22 277.42 L331.68 278.59 L332.25 279.72 L332.93 280.81 L333.76 281.85 L334.75 282.85 L335.92 283.81 L336.05 284.72 L334.3 285.59 L333.08 286.41 L332.22 287.19 L331.61 287.92 L331.16 288.6 L330.84 289.24 L330.6 289.83 L330.42 290.36 L330.29 290.85 L330.19 291.28 L330.11 291.66 L330.05 291.98 L330.01 292.25 L329.98 292.45 L329.97 292.58 L329.96 292.64Z" fill="#1b6db4" stroke="#0d0d0d" stroke-width="0.55" stroke-linejoin="round"/>
<line x1="326.54" y1="286.77" x2="332.66" y2="286.77" stroke="#0d0d0d" stroke-width="0.5"/>
<line x1="322.4" y1="284.42" x2="336.8" y2="284.42" stroke="#0d0d0d" stroke-width="0.5"/>
<line x1="325.9" y1="281.29" x2="333.3" y2="281.29" stroke="#0d0d0d" stroke-width="0.5"/>
<path d="M393.5 292.64 L393.49 292.58 L393.46 292.45 L393.42 292.25 L393.35 291.98 L393.24 291.66 L393.09 291.28 L392.86 290.85 L392.52 290.36 L392 289.83 L391.18 289.24 L389.87 288.6 L387.84 287.92 L389.16 287.19 L390.24 286.41 L391.11 285.59 L391.8 284.72 L392.33 283.81 L392.74 282.85 L393.05 281.85 L393.27 280.81 L393.44 279.72 L393.55 278.59 L393.58 277.42 L393.58 276.21 L393.58 274.96 L393.58 273.67 L393.58 272.33 L393.58 270.96 L393.58 269.55 L393.58 268.1 L393.58 266.6 L393.58 265.07 L393.58 263.5 L393.58 261.89 L393.58 260.25 L393.58 258.56 L393.58 256.84 L393.8 255.08 L393.8 255.08 L394.02 256.84 L394.02 258.56 L394.02 260.25 L394.02 261.89 L394.02 263.5 L394.02 265.07 L394.02 266.6 L394.02 268.1 L394.02 269.55 L394.02 270.96 L394.02 272.33 L394.02 273.67 L394.02 274.96 L394.02 276.21 L394.02 277.42 L394.05 278.59 L394.16 279.72 L394.33 280.81 L394.55 281.85 L394.86 282.85 L395.27 283.81 L395.8 284.72 L396.49 285.59 L397.36 286.41 L398.44 287.19 L399.76 287.92 L397.73 288.6 L396.42 289.24 L395.6 289.83 L395.08 290.36 L394.74 290.85 L394.51 291.28 L394.36 291.66 L394.25 291.98 L394.18 292.25 L394.14 292.45 L394.11 292.58 L394.1 292.64Z" fill="#8c8e91" stroke="#0d0d0d" stroke-width="0.55" stroke-linejoin="round"/>
<line x1="391.59" y1="289.51" x2="396.01" y2="289.51" stroke="#0d0d0d" stroke-width="0.5"/>
<line x1="387.8" y1="287.94" x2="399.8" y2="287.94" stroke="#0d0d0d" stroke-width="0.5"/>
<line x1="390.92" y1="285.79" x2="396.68" y2="285.79" stroke="#0d0d0d" stroke-width="0.5"/>
<path d="M411.08 293.42 L411.07 293.36 L411.03 293.23 L410.97 293.02 L410.89 292.75 L410.78 292.42 L410.64 292.04 L410.45 291.59 L410.22 291.1 L409.92 290.55 L409.54 289.95 L409.04 289.3 L408.39 288.6 L407.53 287.86 L406.41 287.06 L404.9 286.22 L404.81 285.34 L405.36 284.41 L405.87 283.43 L406.35 282.41 L406.81 281.34 L407.23 280.23 L407.62 279.08 L407.99 277.89 L408.34 276.65 L408.66 275.37 L408.97 274.05 L409.26 272.69 L409.54 271.29 L409.8 269.85 L410.06 268.37 L410.3 266.84 L410.54 265.28 L410.78 263.68 L411.02 262.04 L411.25 260.36 L411.48 258.64 L411.72 256.88 L412 255.08 L412 255.08 L412.28 256.88 L412.52 258.64 L412.75 260.36 L412.98 262.04 L413.22 263.68 L413.46 265.28 L413.7 266.84 L413.94 268.37 L414.2 269.85 L414.46 271.29 L414.74 272.69 L415.03 274.05 L415.34 275.37 L415.66 276.65 L416.01 277.89 L416.38 279.08 L416.77 280.23 L417.19 281.34 L417.65 282.41 L418.13 283.43 L418.64 284.41 L419.19 285.34 L419.1 286.22 L417.59 287.06 L416.47 287.86 L415.61 288.6 L414.96 289.3 L414.46 289.95 L414.08 290.55 L413.78 291.1 L413.55 291.59 L413.36 292.04 L413.22 292.42 L413.11 292.75 L413.03 293.02 L412.97 293.23 L412.93 293.36 L412.92 293.42Z" fill="#f9a11b" stroke="#0d0d0d" stroke-width="0.55" stroke-linejoin="round"/>
<line x1="408.1" y1="288.33" x2="415.9" y2="288.33" stroke="#0d0d0d" stroke-width="0.5"/>
<line x1="405.01" y1="285.01" x2="418.99" y2="285.01" stroke="#0d0d0d" stroke-width="0.5"/>
<line x1="407.13" y1="280.51" x2="416.87" y2="280.51" stroke="#0d0d0d" stroke-width="0.5"/>
<path d="M478.2 292.64 L478.19 292.58 L478.16 292.45 L478.12 292.25 L478.05 291.98 L477.94 291.66 L477.79 291.28 L477.56 290.85 L477.22 290.36 L476.7 289.83 L475.88 289.24 L474.57 288.6 L472.54 287.92 L473.86 287.19 L474.94 286.41 L475.81 285.59 L476.5 284.72 L477.03 283.81 L477.44 282.85 L477.75 281.85 L477.97 280.81 L478.14 279.72 L478.25 278.59 L478.28 277.42 L478.28 276.21 L478.28 274.96 L478.28 273.67 L478.28 272.33 L478.28 270.96 L478.28 269.55 L478.28 268.1 L478.28 266.6 L478.28 265.07 L478.28 263.5 L478.28 261.89 L478.28 260.25 L478.28 258.56 L478.28 256.84 L478.5 255.08 L478.5 255.08 L478.72 256.84 L478.72 258.56 L478.72 260.25 L478.72 261.89 L478.72 263.5 L478.72 265.07 L478.72 266.6 L478.72 268.1 L478.72 269.55 L478.72 270.96 L478.72 272.33 L478.72 273.67 L478.72 274.96 L478.72 276.21 L478.72 277.42 L478.75 278.59 L478.86 279.72 L479.03 280.81 L479.25 281.85 L479.56 282.85 L479.97 283.81 L480.5 284.72 L481.19 285.59 L482.06 286.41 L483.14 287.19 L484.46 287.92 L482.43 288.6 L481.12 289.24 L480.3 289.83 L479.78 290.36 L479.44 290.85 L479.21 291.28 L479.06 291.66 L478.95 291.98 L478.88 292.25 L478.84 292.45 L478.81 292.58 L478.8 292.64Z" fill="#8c8e91" stroke="#0d0d0d" stroke-width="0.55" stroke-linejoin="round"/>
<line x1="476.29" y1="289.51" x2="480.71" y2="289.51" stroke="#0d0d0d" stroke-width="0.5"/>
<line x1="472.5" y1="287.94" x2="484.5" y2="287.94" stroke="#0d0d0d" stroke-width="0.5"/>
<line x1="475.62" y1="285.79" x2="481.38" y2="285.79" stroke="#0d0d0d" stroke-width="0.5"/>
<path d="M495.72 293.81 L495.7 293.75 L495.66 293.62 L495.59 293.41 L495.49 293.14 L495.36 292.8 L495.19 292.41 L494.97 291.97 L494.69 291.46 L494.33 290.91 L493.87 290.31 L493.27 289.65 L492.49 288.95 L491.46 288.19 L490.1 287.39 L488.88 286.54 L489.19 285.65 L489.51 284.7 L489.83 283.72 L490.16 282.69 L490.49 281.61 L490.82 280.49 L491.15 279.33 L491.48 278.12 L491.81 276.87 L492.15 275.58 L492.48 274.25 L492.82 272.87 L493.16 271.46 L493.5 270 L493.84 268.5 L494.18 266.96 L494.53 265.38 L494.87 263.77 L495.22 262.11 L495.58 260.41 L495.94 258.67 L496.3 256.9 L496.8 255.08 L496.8 255.08 L497.3 256.9 L497.66 258.67 L498.02 260.41 L498.38 262.11 L498.73 263.77 L499.07 265.38 L499.42 266.96 L499.76 268.5 L500.1 270 L500.44 271.46 L500.78 272.87 L501.12 274.25 L501.45 275.58 L501.79 276.87 L502.12 278.12 L502.45 279.33 L502.78 280.49 L503.11 281.61 L503.44 282.69 L503.77 283.72 L504.09 284.7 L504.41 285.65 L504.72 286.54 L503.5 287.39 L502.14 288.19 L501.11 288.95 L500.33 289.65 L499.73 290.31 L499.27 290.91 L498.91 291.46 L498.63 291.97 L498.41 292.41 L498.24 292.8 L498.11 293.14 L498.01 293.41 L497.94 293.62 L497.9 293.75 L497.88 293.81Z" fill="#f9a11b" stroke="#0d0d0d" stroke-width="0.55" stroke-linejoin="round"/>
<line x1="491.67" y1="288.33" x2="501.93" y2="288.33" stroke="#0d0d0d" stroke-width="0.5"/>
<line x1="490.23" y1="282.46" x2="503.37" y2="282.46" stroke="#0d0d0d" stroke-width="0.5"/>
<line x1="492.58" y1="273.86" x2="501.02" y2="273.86" stroke="#0d0d0d" stroke-width="0.5"/>
<rect x="340" y="313.2" width="8.6" height="4.2" fill="#a7a9ac" rx="0.8"/>
<text x="352" y="317.9" font-size="7.5" fill="#231f20">Control</text>
<rect x="381.5" y="313.2" width="8.6" height="4.2" fill="#1b75bc" rx="0.8"/>
<text x="393.5" y="317.9" font-size="7.5" fill="#231f20">Abema</text>
<rect x="425" y="313.2" width="8.6" height="4.2" fill="#f9a11b" rx="0.8"/>
<text x="437" y="317.9" font-size="7.5" fill="#231f20">INX-315</text>
<path d="M310.76 384.66 L310.74 384.6 L310.72 384.47 L310.67 384.28 L310.61 384.02 L310.52 383.7 L310.4 383.33 L310.24 382.9 L310.02 382.42 L309.71 381.89 L309.28 381.32 L308.68 380.69 L307.81 380.02 L306.56 379.3 L304.84 378.54 L305.96 377.73 L306.93 376.87 L307.75 375.97 L308.45 375.03 L309.02 374.05 L309.5 373.02 L309.88 371.96 L310.19 370.85 L310.43 369.7 L310.62 368.51 L310.77 367.27 L310.88 366 L310.97 364.69 L310.98 363.34 L310.98 361.95 L310.98 360.52 L310.98 359.05 L310.98 357.55 L310.98 356 L310.98 354.42 L310.98 352.8 L310.98 351.15 L310.98 349.45 L311.2 347.72 L311.2 347.72 L311.42 349.45 L311.42 351.15 L311.42 352.8 L311.42 354.42 L311.42 356 L311.42 357.55 L311.42 359.05 L311.42 360.52 L311.42 361.95 L311.42 363.34 L311.43 364.69 L311.52 366 L311.63 367.27 L311.78 368.51 L311.97 369.7 L312.21 370.85 L312.52 371.96 L312.9 373.02 L313.38 374.05 L313.95 375.03 L314.65 375.97 L315.47 376.87 L316.44 377.73 L317.56 378.54 L315.84 379.3 L314.59 380.02 L313.72 380.69 L313.12 381.32 L312.69 381.89 L312.38 382.42 L312.16 382.9 L312 383.33 L311.88 383.7 L311.79 384.02 L311.73 384.28 L311.68 384.47 L311.66 384.6 L311.64 384.66Z" fill="#8c8e91" stroke="#0d0d0d" stroke-width="0.55" stroke-linejoin="round"/>
<line x1="308.42" y1="380.47" x2="313.98" y2="380.47" stroke="#0d0d0d" stroke-width="0.5"/>
<line x1="305.08" y1="378.37" x2="317.32" y2="378.37" stroke="#0d0d0d" stroke-width="0.5"/>
<line x1="308.11" y1="375.52" x2="314.29" y2="375.52" stroke="#0d0d0d" stroke-width="0.5"/>
<path d="M328.86 385.04 L328.85 385 L328.83 384.89 L328.78 384.73 L328.73 384.52 L328.65 384.27 L328.55 383.97 L328.43 383.62 L328.27 383.24 L328.07 382.82 L327.82 382.35 L327.5 381.85 L327.09 381.31 L326.57 380.73 L325.89 380.12 L325 379.46 L323.84 378.78 L322.72 378.06 L323.38 377.3 L324 376.51 L324.57 375.68 L325.09 374.82 L325.56 373.93 L326 373.01 L326.39 372.05 L326.75 371.06 L327.07 370.04 L327.37 368.98 L327.64 367.9 L327.88 366.78 L328.11 365.63 L328.32 364.45 L328.52 363.24 L328.7 362 L328.87 360.73 L329.04 359.42 L329.2 358.09 L329.36 356.73 L329.6 355.34 L329.6 355.34 L329.84 356.73 L330 358.09 L330.16 359.42 L330.33 360.73 L330.5 362 L330.68 363.24 L330.88 364.45 L331.09 365.63 L331.32 366.78 L331.56 367.9 L331.83 368.98 L332.13 370.04 L332.45 371.06 L332.81 372.05 L333.2 373.01 L333.64 373.93 L334.11 374.82 L334.63 375.68 L335.2 376.51 L335.82 377.3 L336.48 378.06 L335.36 378.78 L334.2 379.46 L333.31 380.12 L332.63 380.73 L332.11 381.31 L331.7 381.85 L331.38 382.35 L331.13 382.82 L330.93 383.24 L330.77 383.62 L330.65 383.97 L330.55 384.27 L330.47 384.52 L330.42 384.73 L330.37 384.89 L330.35 385 L330.34 385.04Z" fill="#1b6db4" stroke="#0d0d0d" stroke-width="0.55" stroke-linejoin="round"/>
<line x1="326.68" y1="380.85" x2="332.52" y2="380.85" stroke="#0d0d0d" stroke-width="0.5"/>
<line x1="322.6" y1="378.18" x2="336.6" y2="378.18" stroke="#0d0d0d" stroke-width="0.5"/>
<line x1="325.13" y1="374.76" x2="334.07" y2="374.76" stroke="#0d0d0d" stroke-width="0.5"/>
<path d="M393.26 384.28 L393.22 384.22 L393.14 384.09 L392.99 383.9 L392.74 383.64 L392.32 383.33 L391.63 382.96 L390.41 382.54 L388.24 382.06 L389.4 381.54 L390.84 380.97 L391.87 380.35 L392.58 379.69 L393.05 378.97 L393.36 378.22 L393.55 377.42 L393.58 376.57 L393.58 375.68 L393.58 374.75 L393.58 373.78 L393.58 372.76 L393.58 371.71 L393.58 370.61 L393.58 369.47 L393.58 368.29 L393.58 367.07 L393.58 365.81 L393.58 364.52 L393.58 363.18 L393.58 361.8 L393.58 360.39 L393.58 358.94 L393.58 357.45 L393.58 355.92 L393.58 354.35 L393.58 352.75 L393.58 351.11 L393.58 349.43 L393.8 347.72 L393.8 347.72 L394.02 349.43 L394.02 351.11 L394.02 352.75 L394.02 354.35 L394.02 355.92 L394.02 357.45 L394.02 358.94 L394.02 360.39 L394.02 361.8 L394.02 363.18 L394.02 364.52 L394.02 365.81 L394.02 367.07 L394.02 368.29 L394.02 369.47 L394.02 370.61 L394.02 371.71 L394.02 372.76 L394.02 373.78 L394.02 374.75 L394.02 375.68 L394.02 376.57 L394.05 377.42 L394.24 378.22 L394.55 378.97 L395.02 379.69 L395.73 380.35 L396.76 380.97 L398.2 381.54 L399.36 382.06 L397.19 382.54 L395.97 382.96 L395.28 383.33 L394.86 383.64 L394.61 383.9 L394.46 384.09 L394.38 384.22 L394.34 384.28Z" fill="#8c8e91" stroke="#0d0d0d" stroke-width="0.55" stroke-linejoin="round"/>
<line x1="390.51" y1="382.56" x2="397.09" y2="382.56" stroke="#0d0d0d" stroke-width="0.5"/>
<line x1="388.54" y1="381.8" x2="399.06" y2="381.8" stroke="#0d0d0d" stroke-width="0.5"/>
<line x1="391.08" y1="380.85" x2="396.52" y2="380.85" stroke="#0d0d0d" stroke-width="0.5"/>
<path d="M411.46 384.66 L411.44 384.6 L411.39 384.47 L411.3 384.28 L411.17 384.02 L410.98 383.7 L410.7 383.33 L410.28 382.9 L409.65 382.42 L408.67 381.89 L407.14 381.32 L405.81 380.69 L407.28 380.02 L408.47 379.3 L409.41 378.54 L410.13 377.73 L410.68 376.87 L411.08 375.97 L411.37 375.03 L411.58 374.05 L411.72 373.02 L411.78 371.96 L411.78 370.85 L411.78 369.7 L411.78 368.51 L411.78 367.27 L411.78 366 L411.78 364.69 L411.78 363.34 L411.78 361.95 L411.78 360.52 L411.78 359.05 L411.78 357.55 L411.78 356 L411.78 354.42 L411.78 352.8 L411.78 351.15 L411.78 349.45 L412 347.72 L412 347.72 L412.22 349.45 L412.22 351.15 L412.22 352.8 L412.22 354.42 L412.22 356 L412.22 357.55 L412.22 359.05 L412.22 360.52 L412.22 361.95 L412.22 363.34 L412.22 364.69 L412.22 366 L412.22 367.27 L412.22 368.51 L412.22 369.7 L412.22 370.85 L412.22 371.96 L412.28 373.02 L412.42 374.05 L412.63 375.03 L412.92 375.97 L413.32 376.87 L413.87 377.73 L414.59 378.54 L415.53 379.3 L416.72 380.02 L418.19 380.69 L416.86 381.32 L415.33 381.89 L414.35 382.42 L413.72 382.9 L413.3 383.33 L413.02 383.7 L412.83 384.02 L412.7 384.28 L412.61 384.47 L412.56 384.6 L412.54 384.66Z" fill="#f9a11b" stroke="#0d0d0d" stroke-width="0.55" stroke-linejoin="round"/>
<line x1="409.25" y1="382.18" x2="414.75" y2="382.18" stroke="#0d0d0d" stroke-width="0.5"/>
<line x1="405.89" y1="380.66" x2="418.11" y2="380.66" stroke="#0d0d0d" stroke-width="0.5"/>
<line x1="409.38" y1="378.56" x2="414.62" y2="378.56" stroke="#0d0d0d" stroke-width="0.5"/>
<path d="M477.78 384.66 L477.76 384.6 L477.7 384.47 L477.61 384.28 L477.46 384.02 L477.25 383.7 L476.94 383.33 L476.5 382.9 L475.86 382.42 L474.91 381.89 L473.47 381.32 L472.2 380.69 L473.32 380.02 L474.3 379.3 L475.14 378.54 L475.85 377.73 L476.43 376.87 L476.91 375.97 L477.29 375.03 L477.59 374.05 L477.83 373.02 L478.01 371.96 L478.14 370.85 L478.25 369.7 L478.28 368.51 L478.28 367.27 L478.28 366 L478.28 364.69 L478.28 363.34 L478.28 361.95 L478.28 360.52 L478.28 359.05 L478.28 357.55 L478.28 356 L478.28 354.42 L478.28 352.8 L478.28 351.15 L478.28 349.45 L478.5 347.72 L478.5 347.72 L478.72 349.45 L478.72 351.15 L478.72 352.8 L478.72 354.42 L478.72 356 L478.72 357.55 L478.72 359.05 L478.72 360.52 L478.72 361.95 L478.72 363.34 L478.72 364.69 L478.72 366 L478.72 367.27 L478.72 368.51 L478.75 369.7 L478.86 370.85 L478.99 371.96 L479.17 373.02 L479.41 374.05 L479.71 375.03 L480.09 375.97 L480.57 376.87 L481.15 377.73 L481.86 378.54 L482.7 379.3 L483.68 380.02 L484.8 380.69 L483.53 381.32 L482.09 381.89 L481.14 382.42 L480.5 382.9 L480.06 383.33 L479.75 383.7 L479.54 384.02 L479.39 384.28 L479.3 384.47 L479.24 384.6 L479.22 384.66Z" fill="#8c8e91" stroke="#0d0d0d" stroke-width="0.55" stroke-linejoin="round"/>
<line x1="475.47" y1="382.18" x2="481.53" y2="382.18" stroke="#0d0d0d" stroke-width="0.5"/>
<line x1="472.26" y1="380.66" x2="484.74" y2="380.66" stroke="#0d0d0d" stroke-width="0.5"/>
<line x1="475.47" y1="378.18" x2="481.53" y2="378.18" stroke="#0d0d0d" stroke-width="0.5"/>
<path d="M496.08 385.42 L496.07 385.37 L496.02 385.23 L495.95 385.03 L495.84 384.76 L495.7 384.44 L495.5 384.06 L495.23 383.62 L494.85 383.14 L494.33 382.6 L493.61 382.01 L492.58 381.37 L491.1 380.68 L489.53 379.95 L490.23 379.17 L490.88 378.34 L491.48 377.47 L492.03 376.56 L492.53 375.6 L492.98 374.59 L493.38 373.55 L493.74 372.46 L494.06 371.32 L494.35 370.15 L494.61 368.93 L494.84 367.68 L495.05 366.38 L495.24 365.04 L495.41 363.66 L495.58 362.24 L495.73 360.78 L495.87 359.29 L496.01 357.75 L496.14 356.17 L496.27 354.56 L496.4 352.91 L496.53 351.22 L496.58 349.49 L496.8 347.72 L496.8 347.72 L497.02 349.49 L497.07 351.22 L497.2 352.91 L497.33 354.56 L497.46 356.17 L497.59 357.75 L497.73 359.29 L497.87 360.78 L498.02 362.24 L498.19 363.66 L498.36 365.04 L498.55 366.38 L498.76 367.68 L498.99 368.93 L499.25 370.15 L499.54 371.32 L499.86 372.46 L500.22 373.55 L500.62 374.59 L501.07 375.6 L501.57 376.56 L502.12 377.47 L502.72 378.34 L503.37 379.17 L504.07 379.95 L502.5 380.68 L501.02 381.37 L499.99 382.01 L499.27 382.6 L498.75 383.14 L498.37 383.62 L498.1 384.06 L497.9 384.44 L497.76 384.76 L497.65 385.03 L497.58 385.23 L497.53 385.37 L497.52 385.42Z" fill="#f9a11b" stroke="#0d0d0d" stroke-width="0.55" stroke-linejoin="round"/>
<line x1="493.58" y1="381.99" x2="500.02" y2="381.99" stroke="#0d0d0d" stroke-width="0.5"/>
<line x1="490.1" y1="379.33" x2="503.5" y2="379.33" stroke="#0d0d0d" stroke-width="0.5"/>
<line x1="492.74" y1="375.14" x2="500.86" y2="375.14" stroke="#0d0d0d" stroke-width="0.5"/>
<text x="0" y="419.5" font-size="10" fill="#000" font-weight="bold">C</text>
<text x="130" y="413.3" font-size="7.5" fill="#000" text-anchor="middle" font-weight="bold">MCF7</text>
<rect x="61.7" y="417" width="47.05" height="20.2" fill="#fff" stroke="#808285" stroke-width="0.7"/>
<rect x="62.82" y="424.4" width="5.6" height="11" fill="#808285"/>
<rect x="70.66" y="424.4" width="5.6" height="11" fill="#808285"/>
<rect x="78.5" y="424.4" width="5.6" height="11" fill="#808285"/>
<rect x="86.34" y="418.01" width="5.6" height="6.39" fill="#808285"/>
<rect x="94.19" y="418.01" width="5.6" height="6.39" fill="#808285"/>
<rect x="102.03" y="417.65" width="5.6" height="6.74" fill="#808285"/>
<line x1="61.7" y1="424.4" x2="108.75" y2="424.4" stroke="#231f20" stroke-width="0.6" stroke-dasharray="1.6 1.2"/>
<rect x="108.75" y="417" width="39.21" height="20.2" fill="#fff" stroke="#808285" stroke-width="0.7"/>
<rect x="109.87" y="424.4" width="5.6" height="2.48" fill="#808285"/>
<rect x="117.71" y="424.4" width="5.6" height="3.19" fill="#808285"/>
<rect x="125.55" y="419.07" width="5.6" height="5.32" fill="#808285"/>
<rect x="133.39" y="420.5" width="5.6" height="3.91" fill="#808285"/>
<rect x="141.23" y="419.07" width="5.6" height="5.32" fill="#808285"/>
<line x1="108.75" y1="424.4" x2="147.95" y2="424.4" stroke="#231f20" stroke-width="0.6" stroke-dasharray="1.6 1.2"/>
<rect x="147.95" y="417" width="47.05" height="20.2" fill="#fff" stroke="#808285" stroke-width="0.7"/>
<rect x="149.07" y="424.4" width="5.6" height="2.13" fill="#808285"/>
<rect x="156.91" y="424.4" width="5.6" height="3.55" fill="#808285"/>
<rect x="164.76" y="424.4" width="5.6" height="2.84" fill="#808285"/>
<rect x="172.6" y="417.3" width="5.6" height="7.1" fill="#808285"/>
<rect x="180.44" y="417.3" width="5.6" height="7.1" fill="#808285"/>
<rect x="188.28" y="418.01" width="5.6" height="6.39" fill="#808285"/>
<line x1="147.95" y1="424.4" x2="195" y2="424.4" stroke="#231f20" stroke-width="0.6" stroke-dasharray="1.6 1.2"/>
<rect x="61.7" y="437.6" width="23.52" height="5.2" fill="#a7a9ac"/>
<rect x="85.22" y="437.6" width="23.52" height="5.2" fill="#1b75bc"/>
<rect x="109.35" y="437.6" width="15.08" height="5.2" fill="#a7a9ac"/>
<rect x="124.43" y="437.6" width="23.12" height="5.2" fill="#fcbe3b"/>
<rect x="148.55" y="437.6" width="22.92" height="5.2" fill="#a7a9ac"/>
<rect x="171.48" y="437.6" width="23.52" height="5.2" fill="#fcbe3b"/>
<text x="48" y="427" font-size="7.5" fill="#231f20" text-anchor="middle" transform="rotate(-90 48 427)">Mean</text>
<text x="59.5" y="420.2" font-size="7.2" fill="#231f20" text-anchor="end">1</text>
<text x="59.5" y="427" font-size="7.2" fill="#231f20" text-anchor="end">0</text>
<text x="59.5" y="434.2" font-size="7.2" fill="#231f20" text-anchor="end">−1</text>
<text x="84.8" y="450.2" font-size="7.5" fill="#231f20" text-anchor="middle">Parent</text>
<text x="129" y="450.2" font-size="7.5" fill="#231f20" text-anchor="middle">Abema-</text>
<text x="129" y="459" font-size="7.5" fill="#231f20" text-anchor="middle">resistant</text>
<text x="171.5" y="450.2" font-size="7.5" fill="#231f20" text-anchor="middle">Abema/Fulv-</text>
<text x="171.5" y="459" font-size="7.5" fill="#231f20" text-anchor="middle">resistant</text>
<rect x="61.65" y="461.75" width="7.94" height="15.33" fill="#0a1424"/>
<rect x="69.49" y="461.75" width="7.94" height="15.33" fill="#0c1a2e"/>
<rect x="77.33" y="461.75" width="7.94" height="15.33" fill="#0c1a2e"/>
<rect x="85.17" y="461.75" width="7.94" height="15.33" fill="#f7931e"/>
<rect x="93.01" y="461.75" width="7.94" height="15.33" fill="#f7931e"/>
<rect x="100.86" y="461.75" width="7.94" height="15.33" fill="#f58220"/>
<rect x="108.7" y="461.75" width="7.94" height="15.33" fill="#fde8c8"/>
<rect x="116.54" y="461.75" width="7.94" height="15.33" fill="#fff2e0"/>
<rect x="124.38" y="461.75" width="7.94" height="15.33" fill="#f26522"/>
<rect x="132.22" y="461.75" width="7.94" height="15.33" fill="#f9a11b"/>
<rect x="140.06" y="461.75" width="7.94" height="15.33" fill="#f26522"/>
<rect x="147.9" y="461.75" width="7.94" height="15.33" fill="#fbb860"/>
<rect x="155.74" y="461.75" width="7.94" height="15.33" fill="#fff0dc"/>
<rect x="163.59" y="461.75" width="7.94" height="15.33" fill="#fde3bd"/>
<rect x="171.43" y="461.75" width="7.94" height="15.33" fill="#ee3424"/>
<rect x="179.27" y="461.75" width="7.94" height="15.33" fill="#ee3a24"/>
<rect x="187.11" y="461.75" width="7.94" height="15.33" fill="#f15a24"/>
<rect x="61.65" y="476.98" width="7.94" height="15.33" fill="#1f6fbf"/>
<rect x="69.49" y="476.98" width="7.94" height="15.33" fill="#3a86d0"/>
<rect x="77.33" y="476.98" width="7.94" height="15.33" fill="#3a86d0"/>
<rect x="85.17" y="476.98" width="7.94" height="15.33" fill="#ee3a24"/>
<rect x="93.01" y="476.98" width="7.94" height="15.33" fill="#ee3a24"/>
<rect x="100.86" y="476.98" width="7.94" height="15.33" fill="#ed2224"/>
<rect x="108.7" y="476.98" width="7.94" height="15.33" fill="#2e7cc4"/>
<rect x="116.54" y="476.98" width="7.94" height="15.33" fill="#2e7cc4"/>
<rect x="124.38" y="476.98" width="7.94" height="15.33" fill="#f26522"/>
<rect x="132.22" y="476.98" width="7.94" height="15.33" fill="#f26522"/>
<rect x="140.06" y="476.98" width="7.94" height="15.33" fill="#f26522"/>
<rect x="147.9" y="476.98" width="7.94" height="15.33" fill="#a9c8ee"/>
<rect x="155.74" y="476.98" width="7.94" height="15.33" fill="#5a9adb"/>
<rect x="163.59" y="476.98" width="7.94" height="15.33" fill="#a9c8ee"/>
<rect x="171.43" y="476.98" width="7.94" height="15.33" fill="#f15a24"/>
<rect x="179.27" y="476.98" width="7.94" height="15.33" fill="#f26522"/>
<rect x="187.11" y="476.98" width="7.94" height="15.33" fill="#f26522"/>
<rect x="61.65" y="492.2" width="7.94" height="15.33" fill="#0a0a0e"/>
<rect x="69.49" y="492.2" width="7.94" height="15.33" fill="#0e1622"/>
<rect x="77.33" y="492.2" width="7.94" height="15.33" fill="#0e1622"/>
<rect x="85.17" y="492.2" width="7.94" height="15.33" fill="#f9a11b"/>
<rect x="93.01" y="492.2" width="7.94" height="15.33" fill="#f9a11b"/>
<rect x="100.86" y="492.2" width="7.94" height="15.33" fill="#f7931e"/>
<rect x="108.7" y="492.2" width="7.94" height="15.33" fill="#fde8c8"/>
<rect x="116.54" y="492.2" width="7.94" height="15.33" fill="#fff4e4"/>
<rect x="124.38" y="492.2" width="7.94" height="15.33" fill="#fbb040"/>
<rect x="132.22" y="492.2" width="7.94" height="15.33" fill="#fbb040"/>
<rect x="140.06" y="492.2" width="7.94" height="15.33" fill="#f9a11b"/>
<rect x="147.9" y="492.2" width="7.94" height="15.33" fill="#f7931e"/>
<rect x="155.74" y="492.2" width="7.94" height="15.33" fill="#f9a11b"/>
<rect x="163.59" y="492.2" width="7.94" height="15.33" fill="#f9a11b"/>
<rect x="171.43" y="492.2" width="7.94" height="15.33" fill="#f26522"/>
<rect x="179.27" y="492.2" width="7.94" height="15.33" fill="#f36f21"/>
<rect x="187.11" y="492.2" width="7.94" height="15.33" fill="#f36f21"/>
<rect x="61.65" y="507.43" width="7.94" height="15.33" fill="#4a90d9"/>
<rect x="69.49" y="507.43" width="7.94" height="15.33" fill="#1f6fbf"/>
<rect x="77.33" y="507.43" width="7.94" height="15.33" fill="#2e7cc4"/>
<rect x="85.17" y="507.43" width="7.94" height="15.33" fill="#f15a24"/>
<rect x="93.01" y="507.43" width="7.94" height="15.33" fill="#ef4123"/>
<rect x="100.86" y="507.43" width="7.94" height="15.33" fill="#ef4123"/>
<rect x="108.7" y="507.43" width="7.94" height="15.33" fill="#fdd9a8"/>
<rect x="116.54" y="507.43" width="7.94" height="15.33" fill="#ffffff"/>
<rect x="124.38" y="507.43" width="7.94" height="15.33" fill="#f15a24"/>
<rect x="132.22" y="507.43" width="7.94" height="15.33" fill="#f36f21"/>
<rect x="140.06" y="507.43" width="7.94" height="15.33" fill="#f15a24"/>
<rect x="147.9" y="507.43" width="7.94" height="15.33" fill="#1e68b8"/>
<rect x="155.74" y="507.43" width="7.94" height="15.33" fill="#1e68b8"/>
<rect x="163.59" y="507.43" width="7.94" height="15.33" fill="#1a5fae"/>
<rect x="171.43" y="507.43" width="7.94" height="15.33" fill="#f36f21"/>
<rect x="179.27" y="507.43" width="7.94" height="15.33" fill="#f36f21"/>
<rect x="187.11" y="507.43" width="7.94" height="15.33" fill="#f26522"/>
<text x="59.3" y="472.11" font-size="7.5" fill="#231f20" text-anchor="end">Casella_UP</text>
<text x="59.3" y="487.34" font-size="7.5" fill="#231f20" text-anchor="end">Fridman_UP</text>
<text x="59.3" y="502.56" font-size="7.5" fill="#231f20" text-anchor="end">Purcell</text>
<text x="59.3" y="517.79" font-size="7.5" fill="#231f20" text-anchor="end">Hernandez</text>
<text x="66.5" y="531.9" font-size="7.5" fill="#231f20" text-anchor="end">INX-315</text>
<line x1="74" y1="529.3" x2="78" y2="529.3" stroke="#231f20" stroke-width="0.6"/>
<line x1="94.2" y1="529.3" x2="98.2" y2="529.3" stroke="#231f20" stroke-width="0.6"/>
<line x1="114.2" y1="529.3" x2="118.2" y2="529.3" stroke="#231f20" stroke-width="0.6"/>
<line x1="134.5" y1="529.3" x2="137.9" y2="529.3" stroke="#231f20" stroke-width="0.6"/>
<line x1="136.2" y1="527.6" x2="136.2" y2="531" stroke="#231f20" stroke-width="0.6"/>
<line x1="158.6" y1="529.3" x2="162.6" y2="529.3" stroke="#231f20" stroke-width="0.6"/>
<line x1="181.9" y1="529.3" x2="185.3" y2="529.3" stroke="#231f20" stroke-width="0.6"/>
<line x1="183.6" y1="527.6" x2="183.6" y2="531" stroke="#231f20" stroke-width="0.6"/>
<text x="66.5" y="540.9" font-size="7.5" fill="#231f20" text-anchor="end">Abema</text>
<line x1="74" y1="538.3" x2="78" y2="538.3" stroke="#231f20" stroke-width="0.6"/>
<line x1="94.5" y1="538.3" x2="97.9" y2="538.3" stroke="#231f20" stroke-width="0.6"/>
<line x1="96.2" y1="536.6" x2="96.2" y2="540" stroke="#231f20" stroke-width="0.6"/>
<line x1="114.5" y1="538.3" x2="117.9" y2="538.3" stroke="#231f20" stroke-width="0.6"/>
<line x1="116.2" y1="536.6" x2="116.2" y2="540" stroke="#231f20" stroke-width="0.6"/>
<line x1="134.5" y1="538.3" x2="137.9" y2="538.3" stroke="#231f20" stroke-width="0.6"/>
<line x1="136.2" y1="536.6" x2="136.2" y2="540" stroke="#231f20" stroke-width="0.6"/>
<line x1="158.9" y1="538.3" x2="162.3" y2="538.3" stroke="#231f20" stroke-width="0.6"/>
<line x1="160.6" y1="536.6" x2="160.6" y2="540" stroke="#231f20" stroke-width="0.6"/>
<line x1="181.9" y1="538.3" x2="185.3" y2="538.3" stroke="#231f20" stroke-width="0.6"/>
<line x1="183.6" y1="536.6" x2="183.6" y2="540" stroke="#231f20" stroke-width="0.6"/>
<text x="66.5" y="549.9" font-size="7.5" fill="#231f20" text-anchor="end">Fulv</text>
<line x1="74" y1="547.3" x2="78" y2="547.3" stroke="#231f20" stroke-width="0.6"/>
<line x1="94.2" y1="547.3" x2="98.2" y2="547.3" stroke="#231f20" stroke-width="0.6"/>
<line x1="114.2" y1="547.3" x2="118.2" y2="547.3" stroke="#231f20" stroke-width="0.6"/>
<line x1="134.2" y1="547.3" x2="138.2" y2="547.3" stroke="#231f20" stroke-width="0.6"/>
<line x1="158.9" y1="547.3" x2="162.3" y2="547.3" stroke="#231f20" stroke-width="0.6"/>
<line x1="160.6" y1="545.6" x2="160.6" y2="549" stroke="#231f20" stroke-width="0.6"/>
<line x1="181.9" y1="547.3" x2="185.3" y2="547.3" stroke="#231f20" stroke-width="0.6"/>
<line x1="183.6" y1="545.6" x2="183.6" y2="549" stroke="#231f20" stroke-width="0.6"/>
<rect x="48.5" y="553" width="8" height="7.8" fill="#a7a9ac"/>
<text x="60.8" y="559.8" font-size="7.5" fill="#231f20">Control</text>
<rect x="96.4" y="553" width="8" height="7.8" fill="#1b75bc"/>
<text x="108.8" y="559.8" font-size="7.5" fill="#231f20">Abema</text>
<rect x="144.2" y="553" width="8" height="7.8" fill="#fcbe3b"/>
<text x="156.8" y="559.8" font-size="7.5" fill="#231f20">INX-315</text>
<rect x="19.6" y="548.8" width="9.2" height="49.5" fill="url(#gC)"/>
<text x="15.5" y="553.8" font-size="7.3" fill="#231f20" text-anchor="end">2</text>
<text x="15.5" y="565.1" font-size="7.3" fill="#231f20" text-anchor="end">1</text>
<text x="15.5" y="576.6" font-size="7.3" fill="#231f20" text-anchor="end">0</text>
<text x="15.5" y="588.1" font-size="7.3" fill="#231f20" text-anchor="end">−1</text>
<text x="15.5" y="599.4" font-size="7.3" fill="#231f20" text-anchor="end">−2</text>
<rect x="70" y="574.6" width="44.33" height="20.8" fill="#fff" stroke="#808285" stroke-width="0.7"/>
<rect x="71.09" y="584.95" width="5.2" height="0.9" fill="#808285"/>
<rect x="78.48" y="584.95" width="5.2" height="0.9" fill="#808285"/>
<rect x="85.87" y="584.95" width="5.2" height="0.9" fill="#808285"/>
<rect x="93.26" y="575.04" width="5.2" height="10.36" fill="#808285"/>
<rect x="100.65" y="575.04" width="5.2" height="10.36" fill="#808285"/>
<rect x="108.04" y="575.04" width="5.2" height="10.36" fill="#808285"/>
<rect x="114.33" y="574.6" width="44.33" height="20.8" fill="#fff" stroke="#808285" stroke-width="0.7"/>
<rect x="115.43" y="585.4" width="5.2" height="1.11" fill="#808285"/>
<rect x="122.82" y="585.4" width="5.2" height="1.11" fill="#808285"/>
<rect x="130.21" y="585.4" width="5.2" height="1.11" fill="#808285"/>
<rect x="137.59" y="584.95" width="5.2" height="0.9" fill="#808285"/>
<rect x="144.98" y="584.95" width="5.2" height="0.9" fill="#808285"/>
<rect x="152.37" y="584.95" width="5.2" height="0.9" fill="#808285"/>
<rect x="158.67" y="574.6" width="44.33" height="20.8" fill="#fff" stroke="#808285" stroke-width="0.7"/>
<rect x="159.76" y="585.4" width="5.2" height="8.88" fill="#808285"/>
<rect x="167.15" y="585.4" width="5.2" height="8.88" fill="#808285"/>
<rect x="174.54" y="585.4" width="5.2" height="8.88" fill="#808285"/>
<rect x="181.93" y="583.55" width="5.2" height="1.85" fill="#808285"/>
<rect x="189.32" y="584.95" width="5.2" height="0.9" fill="#808285"/>
<rect x="196.71" y="583.55" width="5.2" height="1.85" fill="#808285"/>
<rect x="70" y="595.8" width="22.17" height="5.6" fill="#a7a9ac"/>
<rect x="92.17" y="595.8" width="21.87" height="5.6" fill="#1b75bc"/>
<rect x="114.83" y="595.8" width="21.67" height="5.6" fill="#a7a9ac"/>
<rect x="136.5" y="595.8" width="21.87" height="5.6" fill="#fcbe3b"/>
<rect x="159.17" y="595.8" width="21.67" height="5.6" fill="#a7a9ac"/>
<rect x="180.83" y="595.8" width="22.17" height="5.6" fill="#fcbe3b"/>
<text x="128.3" y="573.3" font-size="7.5" fill="#000" text-anchor="middle" font-weight="bold">T47D</text>
<text x="58.6" y="584.5" font-size="7.5" fill="#231f20" text-anchor="middle" transform="rotate(-90 58.6 584.5)">Mean</text>
<text x="67.6" y="580.6" font-size="7.2" fill="#231f20" text-anchor="end">1</text>
<text x="67.6" y="588" font-size="7.2" fill="#231f20" text-anchor="end">0</text>
<text x="67.6" y="595.4" font-size="7.2" fill="#231f20" text-anchor="end">−1</text>
<text x="91.5" y="608.5" font-size="7.5" fill="#231f20" text-anchor="middle">Parent</text>
<text x="136" y="608.5" font-size="7.5" fill="#231f20" text-anchor="middle">Abema-</text>
<text x="136" y="617" font-size="7.5" fill="#231f20" text-anchor="middle">resistant</text>
<text x="180" y="608.5" font-size="7.5" fill="#231f20" text-anchor="middle">Abema/Fulv-</text>
<text x="180" y="617" font-size="7.5" fill="#231f20" text-anchor="middle">resistant</text>
<rect x="69.95" y="619.35" width="7.49" height="16.75" fill="#4a90d9"/>
<rect x="77.34" y="619.35" width="7.49" height="16.75" fill="#3a86d0"/>
<rect x="84.73" y="619.35" width="7.49" height="16.75" fill="#3a86d0"/>
<rect x="92.12" y="619.35" width="7.49" height="16.75" fill="#fbb040"/>
<rect x="99.51" y="619.35" width="7.49" height="16.75" fill="#f58220"/>
<rect x="106.89" y="619.35" width="7.49" height="16.75" fill="#f15a24"/>
<rect x="114.28" y="619.35" width="7.49" height="16.75" fill="#4a90d9"/>
<rect x="121.67" y="619.35" width="7.49" height="16.75" fill="#1f6fbf"/>
<rect x="129.06" y="619.35" width="7.49" height="16.75" fill="#2e7cc4"/>
<rect x="136.45" y="619.35" width="7.49" height="16.75" fill="#fdd9a8"/>
<rect x="143.84" y="619.35" width="7.49" height="16.75" fill="#fff0dc"/>
<rect x="151.23" y="619.35" width="7.49" height="16.75" fill="#fdd9a8"/>
<rect x="158.62" y="619.35" width="7.49" height="16.75" fill="#1e68b8"/>
<rect x="166.01" y="619.35" width="7.49" height="16.75" fill="#1e68b8"/>
<rect x="173.39" y="619.35" width="7.49" height="16.75" fill="#2e7cc4"/>
<rect x="180.78" y="619.35" width="7.49" height="16.75" fill="#fbb040"/>
<rect x="188.17" y="619.35" width="7.49" height="16.75" fill="#f9a11b"/>
<rect x="195.56" y="619.35" width="7.49" height="16.75" fill="#f9a11b"/>
<rect x="69.95" y="636" width="7.49" height="16.75" fill="#4a90d9"/>
<rect x="77.34" y="636" width="7.49" height="16.75" fill="#5a9adb"/>
<rect x="84.73" y="636" width="7.49" height="16.75" fill="#7aaee3"/>
<rect x="92.12" y="636" width="7.49" height="16.75" fill="#ef4123"/>
<rect x="99.51" y="636" width="7.49" height="16.75" fill="#ef4123"/>
<rect x="106.89" y="636" width="7.49" height="16.75" fill="#f15a24"/>
<rect x="114.28" y="636" width="7.49" height="16.75" fill="#7aaee3"/>
<rect x="121.67" y="636" width="7.49" height="16.75" fill="#c5dbf3"/>
<rect x="129.06" y="636" width="7.49" height="16.75" fill="#dce9f8"/>
<rect x="136.45" y="636" width="7.49" height="16.75" fill="#fde3bd"/>
<rect x="143.84" y="636" width="7.49" height="16.75" fill="#fff0dc"/>
<rect x="151.23" y="636" width="7.49" height="16.75" fill="#eef4fb"/>
<rect x="158.62" y="636" width="7.49" height="16.75" fill="#174f91"/>
<rect x="166.01" y="636" width="7.49" height="16.75" fill="#174f91"/>
<rect x="173.39" y="636" width="7.49" height="16.75" fill="#0e1a2c"/>
<rect x="180.78" y="636" width="7.49" height="16.75" fill="#fdd9a8"/>
<rect x="188.17" y="636" width="7.49" height="16.75" fill="#dce9f8"/>
<rect x="195.56" y="636" width="7.49" height="16.75" fill="#fbb860"/>
<rect x="69.95" y="652.65" width="7.49" height="16.75" fill="#dce9f8"/>
<rect x="77.34" y="652.65" width="7.49" height="16.75" fill="#dce9f8"/>
<rect x="84.73" y="652.65" width="7.49" height="16.75" fill="#e6f0fa"/>
<rect x="92.12" y="652.65" width="7.49" height="16.75" fill="#ed2224"/>
<rect x="99.51" y="652.65" width="7.49" height="16.75" fill="#ed2224"/>
<rect x="106.89" y="652.65" width="7.49" height="16.75" fill="#ee3424"/>
<rect x="114.28" y="652.65" width="7.49" height="16.75" fill="#f4f8fd"/>
<rect x="121.67" y="652.65" width="7.49" height="16.75" fill="#ffffff"/>
<rect x="129.06" y="652.65" width="7.49" height="16.75" fill="#f4f8fd"/>
<rect x="136.45" y="652.65" width="7.49" height="16.75" fill="#dce9f8"/>
<rect x="143.84" y="652.65" width="7.49" height="16.75" fill="#f4f8fd"/>
<rect x="151.23" y="652.65" width="7.49" height="16.75" fill="#c5dbf3"/>
<rect x="158.62" y="652.65" width="7.49" height="16.75" fill="#1e68b8"/>
<rect x="166.01" y="652.65" width="7.49" height="16.75" fill="#1e68b8"/>
<rect x="173.39" y="652.65" width="7.49" height="16.75" fill="#1f6fbf"/>
<rect x="180.78" y="652.65" width="7.49" height="16.75" fill="#4a90d9"/>
<rect x="188.17" y="652.65" width="7.49" height="16.75" fill="#2e7cc4"/>
<rect x="195.56" y="652.65" width="7.49" height="16.75" fill="#5a9adb"/>
<rect x="69.95" y="669.3" width="7.49" height="16.75" fill="#fdd9a8"/>
<rect x="77.34" y="669.3" width="7.49" height="16.75" fill="#fff4e4"/>
<rect x="84.73" y="669.3" width="7.49" height="16.75" fill="#fff0dc"/>
<rect x="92.12" y="669.3" width="7.49" height="16.75" fill="#ee3424"/>
<rect x="99.51" y="669.3" width="7.49" height="16.75" fill="#f9a11b"/>
<rect x="106.89" y="669.3" width="7.49" height="16.75" fill="#f9a11b"/>
<rect x="114.28" y="669.3" width="7.49" height="16.75" fill="#c5dbf3"/>
<rect x="121.67" y="669.3" width="7.49" height="16.75" fill="#eef4fb"/>
<rect x="129.06" y="669.3" width="7.49" height="16.75" fill="#f4f8fd"/>
<rect x="136.45" y="669.3" width="7.49" height="16.75" fill="#f4f8fd"/>
<rect x="143.84" y="669.3" width="7.49" height="16.75" fill="#f4f8fd"/>
<rect x="151.23" y="669.3" width="7.49" height="16.75" fill="#fff4e4"/>
<rect x="158.62" y="669.3" width="7.49" height="16.75" fill="#0a0a0e"/>
<rect x="166.01" y="669.3" width="7.49" height="16.75" fill="#0c0c10"/>
<rect x="173.39" y="669.3" width="7.49" height="16.75" fill="#0e0e12"/>
<rect x="180.78" y="669.3" width="7.49" height="16.75" fill="#fbb040"/>
<rect x="188.17" y="669.3" width="7.49" height="16.75" fill="#fff0dc"/>
<rect x="195.56" y="669.3" width="7.49" height="16.75" fill="#fde8c8"/>
<text x="67.3" y="630.23" font-size="7.5" fill="#231f20" text-anchor="end">Casella_UP</text>
<text x="67.3" y="646.88" font-size="7.5" fill="#231f20" text-anchor="end">Fridman_UP</text>
<text x="67.3" y="663.53" font-size="7.5" fill="#231f20" text-anchor="end">Purcell</text>
<text x="67.3" y="680.18" font-size="7.5" fill="#231f20" text-anchor="end">Hernandez</text>
<text x="69.5" y="693.8" font-size="7.5" fill="#231f20" text-anchor="end">INX-315</text>
<line x1="79.08" y1="691.2" x2="83.08" y2="691.2" stroke="#231f20" stroke-width="0.6"/>
<line x1="101.25" y1="691.2" x2="105.25" y2="691.2" stroke="#231f20" stroke-width="0.6"/>
<line x1="123.42" y1="691.2" x2="127.42" y2="691.2" stroke="#231f20" stroke-width="0.6"/>
<line x1="145.88" y1="691.2" x2="149.28" y2="691.2" stroke="#231f20" stroke-width="0.6"/>
<line x1="147.58" y1="689.5" x2="147.58" y2="692.9" stroke="#231f20" stroke-width="0.6"/>
<line x1="167.75" y1="691.2" x2="171.75" y2="691.2" stroke="#231f20" stroke-width="0.6"/>
<line x1="190.22" y1="691.2" x2="193.62" y2="691.2" stroke="#231f20" stroke-width="0.6"/>
<line x1="191.92" y1="689.5" x2="191.92" y2="692.9" stroke="#231f20" stroke-width="0.6"/>
<text x="69.5" y="702.6" font-size="7.5" fill="#231f20" text-anchor="end">Abema</text>
<line x1="79.08" y1="700" x2="83.08" y2="700" stroke="#231f20" stroke-width="0.6"/>
<line x1="101.55" y1="700" x2="104.95" y2="700" stroke="#231f20" stroke-width="0.6"/>
<line x1="103.25" y1="698.3" x2="103.25" y2="701.7" stroke="#231f20" stroke-width="0.6"/>
<line x1="123.72" y1="700" x2="127.12" y2="700" stroke="#231f20" stroke-width="0.6"/>
<line x1="125.42" y1="698.3" x2="125.42" y2="701.7" stroke="#231f20" stroke-width="0.6"/>
<line x1="145.88" y1="700" x2="149.28" y2="700" stroke="#231f20" stroke-width="0.6"/>
<line x1="147.58" y1="698.3" x2="147.58" y2="701.7" stroke="#231f20" stroke-width="0.6"/>
<line x1="168.05" y1="700" x2="171.45" y2="700" stroke="#231f20" stroke-width="0.6"/>
<line x1="169.75" y1="698.3" x2="169.75" y2="701.7" stroke="#231f20" stroke-width="0.6"/>
<line x1="190.22" y1="700" x2="193.62" y2="700" stroke="#231f20" stroke-width="0.6"/>
<line x1="191.92" y1="698.3" x2="191.92" y2="701.7" stroke="#231f20" stroke-width="0.6"/>
<text x="69.5" y="711.3" font-size="7.5" fill="#231f20" text-anchor="end">Fulv</text>
<line x1="79.08" y1="708.7" x2="83.08" y2="708.7" stroke="#231f20" stroke-width="0.6"/>
<line x1="101.25" y1="708.7" x2="105.25" y2="708.7" stroke="#231f20" stroke-width="0.6"/>
<line x1="123.42" y1="708.7" x2="127.42" y2="708.7" stroke="#231f20" stroke-width="0.6"/>
<line x1="145.58" y1="708.7" x2="149.58" y2="708.7" stroke="#231f20" stroke-width="0.6"/>
<line x1="168.05" y1="708.7" x2="171.45" y2="708.7" stroke="#231f20" stroke-width="0.6"/>
<line x1="169.75" y1="707" x2="169.75" y2="710.4" stroke="#231f20" stroke-width="0.6"/>
<line x1="190.22" y1="708.7" x2="193.62" y2="708.7" stroke="#231f20" stroke-width="0.6"/>
<line x1="191.92" y1="707" x2="191.92" y2="710.4" stroke="#231f20" stroke-width="0.6"/>
<rect x="52" y="717" width="8" height="8" fill="#a7a9ac"/>
<text x="64.5" y="723.8" font-size="7.5" fill="#231f20">Control</text>
<rect x="100" y="717" width="8" height="8" fill="#1b75bc"/>
<text x="112.5" y="723.8" font-size="7.5" fill="#231f20">Abema</text>
<rect x="148.5" y="717" width="8" height="8" fill="#fcbe3b"/>
<text x="161" y="723.8" font-size="7.5" fill="#231f20">INX-315</text>
<text x="260" y="419.5" font-size="10" fill="#000" font-weight="bold">D</text>
<rect x="302.2" y="417.6" width="42.22" height="23.4" fill="#fff" stroke="#808285" stroke-width="0.7"/>
<rect x="303.42" y="430.4" width="4.6" height="3.4" fill="#808285"/>
<rect x="310.45" y="430.4" width="4.6" height="7.48" fill="#808285"/>
<rect x="317.49" y="430.4" width="4.6" height="5.44" fill="#808285"/>
<rect x="324.53" y="430.4" width="4.6" height="1.7" fill="#808285"/>
<rect x="331.56" y="430.4" width="4.6" height="1.5" fill="#808285"/>
<rect x="338.6" y="430.4" width="4.6" height="3.74" fill="#808285"/>
<line x1="302.2" y1="430.4" x2="344.42" y2="430.4" stroke="#231f20" stroke-width="0.6" stroke-dasharray="1.6 1.2"/>
<rect x="344.42" y="417.6" width="35.18" height="23.4" fill="#fff" stroke="#808285" stroke-width="0.7"/>
<rect x="345.64" y="430.4" width="4.6" height="4.76" fill="#808285"/>
<rect x="352.67" y="425.64" width="4.6" height="4.76" fill="#808285"/>
<rect x="359.71" y="429.95" width="4.6" height="0.9" fill="#808285"/>
<rect x="366.75" y="426.32" width="4.6" height="4.08" fill="#808285"/>
<rect x="373.78" y="429.95" width="4.6" height="0.9" fill="#808285"/>
<line x1="344.42" y1="430.4" x2="379.6" y2="430.4" stroke="#231f20" stroke-width="0.6" stroke-dasharray="1.6 1.2"/>
<rect x="379.6" y="417.6" width="42.22" height="23.4" fill="#fff" stroke="#808285" stroke-width="0.7"/>
<rect x="380.82" y="430.4" width="4.6" height="2.04" fill="#808285"/>
<rect x="387.85" y="430.4" width="4.6" height="1.5" fill="#808285"/>
<rect x="394.89" y="429.95" width="4.6" height="0.9" fill="#808285"/>
<rect x="401.93" y="428.36" width="4.6" height="2.04" fill="#808285"/>
<rect x="408.96" y="425.64" width="4.6" height="4.76" fill="#808285"/>
<rect x="416" y="430.4" width="4.6" height="10.2" fill="#808285"/>
<line x1="379.6" y1="430.4" x2="421.82" y2="430.4" stroke="#231f20" stroke-width="0.6" stroke-dasharray="1.6 1.2"/>
<rect x="421.82" y="417.6" width="35.18" height="23.4" fill="#fff" stroke="#808285" stroke-width="0.7"/>
<rect x="423.04" y="426.66" width="4.6" height="3.74" fill="#808285"/>
<rect x="430.07" y="418.84" width="4.6" height="11.56" fill="#808285"/>
<rect x="437.11" y="427" width="4.6" height="3.4" fill="#808285"/>
<rect x="444.15" y="427" width="4.6" height="3.4" fill="#808285"/>
<rect x="451.18" y="428.36" width="4.6" height="2.04" fill="#808285"/>
<line x1="421.82" y1="430.4" x2="457" y2="430.4" stroke="#231f20" stroke-width="0.6" stroke-dasharray="1.6 1.2"/>
<text x="281" y="429.5" font-size="7.5" fill="#231f20" text-anchor="middle" transform="rotate(-90 281 429.5)">Mean</text>
<text x="299.8" y="426.3" font-size="7.2" fill="#231f20" text-anchor="end">1.0</text>
<text x="299.8" y="433.1" font-size="7.2" fill="#231f20" text-anchor="end">0</text>
<text x="299.8" y="440" font-size="7.2" fill="#231f20" text-anchor="end">−1.0</text>
<text x="318.8" y="450" font-size="7.5" fill="#231f20" text-anchor="middle">Vehicle</text>
<text x="362.9" y="450" font-size="7.5" fill="#231f20" text-anchor="middle">Abema</text>
<text x="400.6" y="450" font-size="7.5" fill="#231f20" text-anchor="middle">INX-315</text>
<text x="439.5" y="450" font-size="7.5" fill="#231f20" text-anchor="middle">Abema+</text>
<text x="439.5" y="459" font-size="7.5" fill="#231f20" text-anchor="middle">INX-315</text>
<rect x="302.15" y="463.75" width="7.14" height="18.1" fill="#a9c8ee"/>
<rect x="309.19" y="463.75" width="7.14" height="18.1" fill="#3a86d0"/>
<rect x="316.22" y="463.75" width="7.14" height="18.1" fill="#e6f0fa"/>
<rect x="323.26" y="463.75" width="7.14" height="18.1" fill="#8fb9e8"/>
<rect x="330.3" y="463.75" width="7.14" height="18.1" fill="#4a90d9"/>
<rect x="337.33" y="463.75" width="7.14" height="18.1" fill="#f4f8fd"/>
<rect x="344.37" y="463.75" width="7.14" height="18.1" fill="#2e7cc4"/>
<rect x="351.4" y="463.75" width="7.14" height="18.1" fill="#fdd9a8"/>
<rect x="358.44" y="463.75" width="7.14" height="18.1" fill="#5a9adb"/>
<rect x="365.48" y="463.75" width="7.14" height="18.1" fill="#4a90d9"/>
<rect x="372.51" y="463.75" width="7.14" height="18.1" fill="#7aaee3"/>
<rect x="379.55" y="463.75" width="7.14" height="18.1" fill="#174f91"/>
<rect x="386.59" y="463.75" width="7.14" height="18.1" fill="#123f7a"/>
<rect x="393.62" y="463.75" width="7.14" height="18.1" fill="#eef4fb"/>
<rect x="400.66" y="463.75" width="7.14" height="18.1" fill="#8fb9e8"/>
<rect x="407.7" y="463.75" width="7.14" height="18.1" fill="#fdc98a"/>
<rect x="414.73" y="463.75" width="7.14" height="18.1" fill="#123f7a"/>
<rect x="421.77" y="463.75" width="7.14" height="18.1" fill="#f9a11b"/>
<rect x="428.8" y="463.75" width="7.14" height="18.1" fill="#f7931e"/>
<rect x="435.84" y="463.75" width="7.14" height="18.1" fill="#fbb860"/>
<rect x="442.88" y="463.75" width="7.14" height="18.1" fill="#fde8c8"/>
<rect x="449.91" y="463.75" width="7.14" height="18.1" fill="#fff4e4"/>
<rect x="302.15" y="481.75" width="7.14" height="18.1" fill="#3a86d0"/>
<rect x="309.19" y="481.75" width="7.14" height="18.1" fill="#123f7a"/>
<rect x="316.22" y="481.75" width="7.14" height="18.1" fill="#0a0a12"/>
<rect x="323.26" y="481.75" width="7.14" height="18.1" fill="#7aaee3"/>
<rect x="330.3" y="481.75" width="7.14" height="18.1" fill="#8fb9e8"/>
<rect x="337.33" y="481.75" width="7.14" height="18.1" fill="#2e7cc4"/>
<rect x="344.37" y="481.75" width="7.14" height="18.1" fill="#a9c8ee"/>
<rect x="351.4" y="481.75" width="7.14" height="18.1" fill="#f4f8fd"/>
<rect x="358.44" y="481.75" width="7.14" height="18.1" fill="#fde8c8"/>
<rect x="365.48" y="481.75" width="7.14" height="18.1" fill="#f7931e"/>
<rect x="372.51" y="481.75" width="7.14" height="18.1" fill="#fde8c8"/>
<rect x="379.55" y="481.75" width="7.14" height="18.1" fill="#fde3bd"/>
<rect x="386.59" y="481.75" width="7.14" height="18.1" fill="#fff0dc"/>
<rect x="393.62" y="481.75" width="7.14" height="18.1" fill="#a9c8ee"/>
<rect x="400.66" y="481.75" width="7.14" height="18.1" fill="#dce9f8"/>
<rect x="407.7" y="481.75" width="7.14" height="18.1" fill="#eef4fb"/>
<rect x="414.73" y="481.75" width="7.14" height="18.1" fill="#0e1a2c"/>
<rect x="421.77" y="481.75" width="7.14" height="18.1" fill="#8fb9e8"/>
<rect x="428.8" y="481.75" width="7.14" height="18.1" fill="#fdc98a"/>
<rect x="435.84" y="481.75" width="7.14" height="18.1" fill="#5a9adb"/>
<rect x="442.88" y="481.75" width="7.14" height="18.1" fill="#fafcfe"/>
<rect x="449.91" y="481.75" width="7.14" height="18.1" fill="#fdc98a"/>
<rect x="302.15" y="499.75" width="7.14" height="18.1" fill="#1f6fbf"/>
<rect x="309.19" y="499.75" width="7.14" height="18.1" fill="#1e68b8"/>
<rect x="316.22" y="499.75" width="7.14" height="18.1" fill="#1e68b8"/>
<rect x="323.26" y="499.75" width="7.14" height="18.1" fill="#7aaee3"/>
<rect x="330.3" y="499.75" width="7.14" height="18.1" fill="#8fb9e8"/>
<rect x="337.33" y="499.75" width="7.14" height="18.1" fill="#2e7cc4"/>
<rect x="344.37" y="499.75" width="7.14" height="18.1" fill="#2e7cc4"/>
<rect x="351.4" y="499.75" width="7.14" height="18.1" fill="#fafcfe"/>
<rect x="358.44" y="499.75" width="7.14" height="18.1" fill="#c5dbf3"/>
<rect x="365.48" y="499.75" width="7.14" height="18.1" fill="#dce9f8"/>
<rect x="372.51" y="499.75" width="7.14" height="18.1" fill="#fff0dc"/>
<rect x="379.55" y="499.75" width="7.14" height="18.1" fill="#ffffff"/>
<rect x="386.59" y="499.75" width="7.14" height="18.1" fill="#8fb9e8"/>
<rect x="393.62" y="499.75" width="7.14" height="18.1" fill="#dce9f8"/>
<rect x="400.66" y="499.75" width="7.14" height="18.1" fill="#eef4fb"/>
<rect x="407.7" y="499.75" width="7.14" height="18.1" fill="#fff4e4"/>
<rect x="414.73" y="499.75" width="7.14" height="18.1" fill="#1a5fae"/>
<rect x="421.77" y="499.75" width="7.14" height="18.1" fill="#fafcfe"/>
<rect x="428.8" y="499.75" width="7.14" height="18.1" fill="#ed2224"/>
<rect x="435.84" y="499.75" width="7.14" height="18.1" fill="#fdc98a"/>
<rect x="442.88" y="499.75" width="7.14" height="18.1" fill="#fafcfe"/>
<rect x="449.91" y="499.75" width="7.14" height="18.1" fill="#c5dbf3"/>
<rect x="302.15" y="517.75" width="7.14" height="18.1" fill="#3a86d0"/>
<rect x="309.19" y="517.75" width="7.14" height="18.1" fill="#123f7a"/>
<rect x="316.22" y="517.75" width="7.14" height="18.1" fill="#1f6fbf"/>
<rect x="323.26" y="517.75" width="7.14" height="18.1" fill="#3a86d0"/>
<rect x="330.3" y="517.75" width="7.14" height="18.1" fill="#4a90d9"/>
<rect x="337.33" y="517.75" width="7.14" height="18.1" fill="#1a5fae"/>
<rect x="344.37" y="517.75" width="7.14" height="18.1" fill="#12305c"/>
<rect x="351.4" y="517.75" width="7.14" height="18.1" fill="#fdc98a"/>
<rect x="358.44" y="517.75" width="7.14" height="18.1" fill="#c5dbf3"/>
<rect x="365.48" y="517.75" width="7.14" height="18.1" fill="#fbb860"/>
<rect x="372.51" y="517.75" width="7.14" height="18.1" fill="#7aaee3"/>
<rect x="379.55" y="517.75" width="7.14" height="18.1" fill="#c5dbf3"/>
<rect x="386.59" y="517.75" width="7.14" height="18.1" fill="#c5dbf3"/>
<rect x="393.62" y="517.75" width="7.14" height="18.1" fill="#fde8c8"/>
<rect x="400.66" y="517.75" width="7.14" height="18.1" fill="#fdc98a"/>
<rect x="407.7" y="517.75" width="7.14" height="18.1" fill="#fdc98a"/>
<rect x="414.73" y="517.75" width="7.14" height="18.1" fill="#1f6fbf"/>
<rect x="421.77" y="517.75" width="7.14" height="18.1" fill="#fdc98a"/>
<rect x="428.8" y="517.75" width="7.14" height="18.1" fill="#fde8c8"/>
<rect x="435.84" y="517.75" width="7.14" height="18.1" fill="#dce9f8"/>
<rect x="442.88" y="517.75" width="7.14" height="18.1" fill="#fde3bd"/>
<rect x="449.91" y="517.75" width="7.14" height="18.1" fill="#c5dbf3"/>
<line x1="344.42" y1="463.5" x2="344.42" y2="536" stroke="#fff" stroke-width="0.7"/>
<line x1="379.6" y1="463.5" x2="379.6" y2="536" stroke="#fff" stroke-width="0.7"/>
<line x1="421.82" y1="463.5" x2="421.82" y2="536" stroke="#fff" stroke-width="0.7"/>
<text x="458.7" y="475.5" font-size="7.5" fill="#231f20">Hernandez</text>
<text x="458.7" y="493.5" font-size="7.5" fill="#231f20">Casella_UP</text>
<text x="458.7" y="511.5" font-size="7.5" fill="#231f20">Purcell</text>
<text x="458.7" y="529.5" font-size="7.5" fill="#231f20">Fridman_UP</text>
<rect x="273" y="472.7" width="10" height="50" fill="url(#gD)"/>
<text x="270.3" y="477.8" font-size="7.3" fill="#231f20" text-anchor="end">4</text>
<text x="270.3" y="493.3" font-size="7.3" fill="#231f20" text-anchor="end">2</text>
<text x="270.3" y="508.4" font-size="7.3" fill="#231f20" text-anchor="end">0</text>
<text x="270.3" y="523.9" font-size="7.3" fill="#231f20" text-anchor="end">−2</text>
<text x="263" y="535.6" font-size="7.5" fill="#231f20">Z-score</text>
<path d="M301.7 472.8 H289.2 V503.6 H293.2 M293.2 490.8 V517.8 M293.2 490.8 H301.7 M293.2 517.8 H294.8 M294.8 508.8 V526.8 M294.8 508.8 H301.7 M294.8 526.8 H301.7" fill="none" stroke="#6b4f48" stroke-width="0.5"/>
<text x="260" y="566.5" font-size="10" fill="#000" font-weight="bold">E</text>
<line x1="294.2" y1="565" x2="294.2" y2="671.2" stroke="#231f20" stroke-width="0.7"/>
<line x1="292.4" y1="593.3" x2="294.2" y2="593.3" stroke="#231f20" stroke-width="0.6"/>
<text x="291" y="595.9" font-size="7.3" fill="#231f20" text-anchor="end">10</text>
<line x1="292.4" y1="629.55" x2="294.2" y2="629.55" stroke="#231f20" stroke-width="0.6"/>
<text x="291" y="632.15" font-size="7.3" fill="#231f20" text-anchor="end">5</text>
<line x1="292.4" y1="665.8" x2="294.2" y2="665.8" stroke="#231f20" stroke-width="0.6"/>
<text x="291" y="668.4" font-size="7.3" fill="#231f20" text-anchor="end">0</text>
<line x1="294.2" y1="671" x2="346" y2="671" stroke="#231f20" stroke-width="0.7"/>
<line x1="348.5" y1="671" x2="398.5" y2="671" stroke="#231f20" stroke-width="0.7"/>
<line x1="401" y1="671" x2="451.5" y2="671" stroke="#231f20" stroke-width="0.7"/>
<text x="276.3" y="621" font-size="7.3" fill="#231f20" text-anchor="middle" transform="rotate(-90 276.3 621)">Normalized value (log<tspan font-size="4.8" dy="1.6">2</tspan><tspan dy="-1.6">)</tspan></text>
<line x1="308" y1="671" x2="308" y2="672.8" stroke="#231f20" stroke-width="0.6"/>
<line x1="331.5" y1="671" x2="331.5" y2="672.8" stroke="#231f20" stroke-width="0.6"/>
<line x1="361" y1="671" x2="361" y2="672.8" stroke="#231f20" stroke-width="0.6"/>
<line x1="384.2" y1="671" x2="384.2" y2="672.8" stroke="#231f20" stroke-width="0.6"/>
<line x1="414" y1="671" x2="414" y2="672.8" stroke="#231f20" stroke-width="0.6"/>
<line x1="437" y1="671" x2="437" y2="672.8" stroke="#231f20" stroke-width="0.6"/>
<line x1="308" y1="572.27" x2="308" y2="598.15" stroke="#a7a9ac" stroke-width="0.9"/>
<line x1="308" y1="656.6" x2="308" y2="665.07" stroke="#444" stroke-width="0.8" stroke-dasharray="1.2 0.6"/>
<path d="M308 657.1 L307.82 655.61 L307.72 654.13 L307.56 652.64 L307.33 651.15 L307 649.67 L306.57 648.18 L306 646.7 L305.29 645.21 L304.44 643.72 L303.49 642.24 L302.47 640.75 L301.47 639.26 L300.62 637.78 L300.07 636.29 L300.16 634.81 L300.56 633.32 L301.04 631.83 L301.56 630.35 L302.08 628.86 L302.6 627.38 L303.1 625.89 L303.57 624.4 L304.03 622.92 L304.45 621.43 L304.84 619.94 L305.19 618.46 L305.52 616.97 L305.82 615.48 L306.08 614 L306.32 612.51 L306.54 611.03 L306.73 609.54 L306.9 608.05 L307.04 606.57 L307.18 605.08 L307.29 603.59 L307.39 602.11 L307.48 600.62 L307.55 599.14 L308 597.65 L308 597.65 L308.45 599.14 L308.52 600.62 L308.61 602.11 L308.71 603.59 L308.82 605.08 L308.96 606.57 L309.1 608.05 L309.27 609.54 L309.46 611.03 L309.68 612.51 L309.92 614 L310.18 615.48 L310.48 616.97 L310.81 618.46 L311.16 619.94 L311.55 621.43 L311.97 622.92 L312.43 624.4 L312.9 625.89 L313.4 627.38 L313.92 628.86 L314.44 630.35 L314.96 631.83 L315.44 633.32 L315.84 634.81 L315.93 636.29 L315.38 637.78 L314.53 639.26 L313.53 640.75 L312.51 642.24 L311.56 643.72 L310.71 645.21 L310 646.7 L309.43 648.18 L309 649.67 L308.67 651.15 L308.44 652.64 L308.28 654.13 L308.18 655.61 L308 657.1Z" fill="#a7a9ac" stroke="#111" stroke-width="0.55" stroke-linejoin="round"/>
<line x1="308" y1="605.62" x2="308" y2="627.74" stroke="#111" stroke-width="0.5"/>
<line x1="308" y1="642.96" x2="308" y2="652.75" stroke="#111" stroke-width="0.5"/>
<rect x="305" y="627.74" width="6" height="15.23" fill="none" stroke="#111" stroke-width="0.55"/>
<line x1="305" y1="635.71" x2="311" y2="635.71" stroke="#111" stroke-width="0.7"/>
<line x1="331.5" y1="565.75" x2="331.5" y2="598.15" stroke="#1b75bc" stroke-width="0.9"/>
<line x1="331.5" y1="649.35" x2="331.5" y2="665.07" stroke="#1b75bc" stroke-width="0.8" stroke-dasharray="1.2 0.6"/>
<path d="M331.5 649.85 L331.43 648.54 L331.39 647.24 L331.33 645.93 L331.25 644.63 L331.14 643.32 L330.98 642.02 L330.76 640.71 L330.47 639.41 L330.09 638.1 L329.62 636.8 L329.03 635.5 L328.31 634.19 L327.48 632.88 L326.53 631.58 L325.5 630.27 L324.42 628.97 L323.36 627.66 L322.38 626.36 L321.6 625.05 L321.14 623.75 L321.41 622.44 L322.06 621.14 L322.81 619.83 L323.59 618.53 L324.37 617.22 L325.12 615.92 L325.84 614.62 L326.5 613.31 L327.12 612 L327.67 610.7 L328.18 609.39 L328.63 608.09 L329.03 606.78 L329.38 605.48 L329.69 604.17 L329.97 602.87 L330.2 601.56 L330.4 600.26 L330.58 598.95 L331.5 597.65 L331.5 597.65 L332.42 598.95 L332.6 600.26 L332.8 601.56 L333.03 602.87 L333.31 604.17 L333.62 605.48 L333.97 606.78 L334.37 608.09 L334.82 609.39 L335.33 610.7 L335.88 612 L336.5 613.31 L337.16 614.62 L337.88 615.92 L338.63 617.22 L339.41 618.53 L340.19 619.83 L340.94 621.14 L341.59 622.44 L341.86 623.75 L341.4 625.05 L340.62 626.36 L339.64 627.66 L338.58 628.97 L337.5 630.27 L336.47 631.58 L335.52 632.88 L334.69 634.19 L333.97 635.5 L333.38 636.8 L332.91 638.1 L332.53 639.41 L332.24 640.71 L332.02 642.02 L331.86 643.32 L331.75 644.63 L331.67 645.93 L331.61 647.24 L331.57 648.54 L331.5 649.85Z" fill="#1b75bc" stroke="#111" stroke-width="0.55" stroke-linejoin="round"/>
<line x1="331.5" y1="600.55" x2="331.5" y2="616.5" stroke="#111" stroke-width="0.5"/>
<line x1="331.5" y1="627.74" x2="331.5" y2="641.15" stroke="#111" stroke-width="0.5"/>
<rect x="328.5" y="616.5" width="6" height="11.24" fill="none" stroke="#111" stroke-width="0.55"/>
<line x1="328.5" y1="623.02" x2="334.5" y2="623.02" stroke="#111" stroke-width="0.7"/>
<line x1="361" y1="572.27" x2="361" y2="594.52" stroke="#a7a9ac" stroke-width="0.9"/>
<line x1="361" y1="655.88" x2="361" y2="662.9" stroke="#444" stroke-width="0.8" stroke-dasharray="1.2 0.6"/>
<path d="M361 656.38 L360.89 654.82 L360.82 653.26 L360.73 651.7 L360.6 650.14 L360.41 648.58 L360.16 647.02 L359.82 645.46 L359.37 643.9 L358.81 642.35 L358.13 640.79 L357.32 639.23 L356.4 637.67 L355.39 636.11 L354.36 634.55 L353.35 632.99 L352.49 631.43 L351.87 629.88 L351.79 628.32 L352.27 626.76 L352.88 625.2 L353.53 623.64 L354.2 622.08 L354.85 620.52 L355.48 618.96 L356.08 617.41 L356.64 615.85 L357.15 614.29 L357.62 612.73 L358.05 611.17 L358.43 609.61 L358.77 608.05 L359.07 606.5 L359.34 604.94 L359.58 603.38 L359.79 601.82 L359.97 600.26 L360.12 598.7 L360.26 597.14 L360.37 595.58 L361 594.02 L361 594.02 L361.63 595.58 L361.74 597.14 L361.88 598.7 L362.03 600.26 L362.21 601.82 L362.42 603.38 L362.66 604.94 L362.93 606.5 L363.23 608.05 L363.57 609.61 L363.95 611.17 L364.38 612.73 L364.85 614.29 L365.36 615.85 L365.92 617.41 L366.52 618.96 L367.15 620.52 L367.8 622.08 L368.47 623.64 L369.12 625.2 L369.73 626.76 L370.21 628.32 L370.13 629.88 L369.51 631.43 L368.65 632.99 L367.64 634.55 L366.61 636.11 L365.6 637.67 L364.68 639.23 L363.87 640.79 L363.19 642.35 L362.63 643.9 L362.18 645.46 L361.84 647.02 L361.59 648.58 L361.4 650.14 L361.27 651.7 L361.18 653.26 L361.11 654.82 L361 656.38Z" fill="#a7a9ac" stroke="#111" stroke-width="0.55" stroke-linejoin="round"/>
<line x1="361" y1="600.55" x2="361" y2="621.21" stroke="#111" stroke-width="0.5"/>
<line x1="361" y1="636.44" x2="361" y2="650.57" stroke="#111" stroke-width="0.5"/>
<rect x="358" y="621.21" width="6" height="15.23" fill="none" stroke="#111" stroke-width="0.55"/>
<line x1="358" y1="628.82" x2="364" y2="628.82" stroke="#111" stroke-width="0.7"/>
<line x1="384.2" y1="572.27" x2="384.2" y2="597.42" stroke="#fbc02d" stroke-width="0.9"/>
<line x1="384.2" y1="650.8" x2="384.2" y2="665.07" stroke="#fbc02d" stroke-width="0.8" stroke-dasharray="1.2 0.6"/>
<path d="M384.2 651.3 L384.11 649.94 L384.07 648.58 L384.01 647.22 L383.92 645.86 L383.79 644.5 L383.62 643.14 L383.39 641.78 L383.09 640.42 L382.7 639.07 L382.21 637.71 L381.61 636.35 L380.89 634.99 L380.05 633.63 L379.1 632.27 L378.07 630.91 L376.98 629.55 L375.91 628.19 L374.9 626.83 L374.07 625.47 L373.51 624.11 L373.58 622.75 L374.22 621.39 L374.99 620.03 L375.81 618.67 L376.63 617.32 L377.43 615.96 L378.19 614.6 L378.9 613.24 L379.56 611.88 L380.15 610.52 L380.69 609.16 L381.17 607.8 L381.6 606.44 L381.97 605.08 L382.3 603.72 L382.59 602.36 L382.84 601 L383.05 599.64 L383.24 598.28 L384.2 596.92 L384.2 596.92 L385.16 598.28 L385.35 599.64 L385.56 601 L385.81 602.36 L386.1 603.72 L386.43 605.08 L386.8 606.44 L387.23 607.8 L387.71 609.16 L388.25 610.52 L388.84 611.88 L389.5 613.24 L390.21 614.6 L390.97 615.96 L391.77 617.32 L392.59 618.67 L393.41 620.03 L394.18 621.39 L394.82 622.75 L394.89 624.11 L394.33 625.47 L393.5 626.83 L392.49 628.19 L391.42 629.55 L390.33 630.91 L389.3 632.27 L388.35 633.63 L387.51 634.99 L386.79 636.35 L386.19 637.71 L385.7 639.07 L385.31 640.42 L385.01 641.78 L384.78 643.14 L384.61 644.5 L384.48 645.86 L384.39 647.22 L384.33 648.58 L384.29 649.94 L384.2 651.3Z" fill="#fcc030" stroke="#111" stroke-width="0.55" stroke-linejoin="round"/>
<line x1="384.2" y1="600.55" x2="384.2" y2="616.86" stroke="#111" stroke-width="0.5"/>
<line x1="384.2" y1="629.55" x2="384.2" y2="644.05" stroke="#111" stroke-width="0.5"/>
<rect x="381.2" y="616.86" width="6" height="12.69" fill="none" stroke="#111" stroke-width="0.55"/>
<line x1="381.2" y1="623.39" x2="387.2" y2="623.39" stroke="#111" stroke-width="0.7"/>
<line x1="414" y1="572.27" x2="414" y2="595.97" stroke="#a7a9ac" stroke-width="0.9"/>
<line x1="414" y1="656.6" x2="414" y2="662.9" stroke="#444" stroke-width="0.8" stroke-dasharray="1.2 0.6"/>
<path d="M414 657.1 L413.91 655.56 L413.86 654.02 L413.78 652.48 L413.67 650.94 L413.5 649.4 L413.26 647.86 L412.94 646.32 L412.52 644.77 L411.97 643.23 L411.29 641.69 L410.49 640.15 L409.57 638.61 L408.58 637.07 L407.56 635.53 L406.61 633.99 L405.85 632.45 L405.42 630.91 L405.68 629.37 L406.19 627.83 L406.77 626.29 L407.37 624.75 L407.98 623.21 L408.57 621.67 L409.13 620.12 L409.67 618.58 L410.16 617.04 L410.61 615.5 L411.03 613.96 L411.4 612.42 L411.74 610.88 L412.04 609.34 L412.3 607.8 L412.54 606.26 L412.75 604.72 L412.93 603.18 L413.09 601.64 L413.22 600.1 L413.34 598.56 L413.44 597.02 L414 595.47 L414 595.47 L414.56 597.02 L414.66 598.56 L414.78 600.1 L414.91 601.64 L415.07 603.18 L415.25 604.72 L415.46 606.26 L415.7 607.8 L415.96 609.34 L416.26 610.88 L416.6 612.42 L416.97 613.96 L417.39 615.5 L417.84 617.04 L418.33 618.58 L418.87 620.12 L419.43 621.67 L420.02 623.21 L420.63 624.75 L421.23 626.29 L421.81 627.83 L422.32 629.37 L422.58 630.91 L422.15 632.45 L421.39 633.99 L420.44 635.53 L419.42 637.07 L418.43 638.61 L417.51 640.15 L416.71 641.69 L416.03 643.23 L415.48 644.77 L415.06 646.32 L414.74 647.86 L414.5 649.4 L414.33 650.94 L414.22 652.48 L414.14 654.02 L414.09 655.56 L414 657.1Z" fill="#a7a9ac" stroke="#111" stroke-width="0.55" stroke-linejoin="round"/>
<line x1="414" y1="602" x2="414" y2="623.02" stroke="#111" stroke-width="0.5"/>
<line x1="414" y1="637.52" x2="414" y2="651.3" stroke="#111" stroke-width="0.5"/>
<rect x="411" y="623.02" width="6" height="14.5" fill="none" stroke="#111" stroke-width="0.55"/>
<line x1="411" y1="630.64" x2="417" y2="630.64" stroke="#111" stroke-width="0.7"/>
<line x1="437" y1="574.45" x2="437" y2="598.15" stroke="#fbc02d" stroke-width="0.9"/>
<line x1="437" y1="651.52" x2="437" y2="665.07" stroke="#fbc02d" stroke-width="0.8" stroke-dasharray="1.2 0.6"/>
<path d="M437 652.02 L436.93 650.67 L436.9 649.31 L436.84 647.95 L436.76 646.59 L436.65 645.23 L436.5 643.87 L436.28 642.51 L436 641.15 L435.64 639.79 L435.17 638.43 L434.59 637.07 L433.89 635.71 L433.07 634.35 L432.15 632.99 L431.13 631.63 L430.07 630.27 L429.02 628.92 L428.06 627.56 L427.29 626.2 L426.84 624.84 L427.11 623.48 L427.76 622.12 L428.51 620.76 L429.29 619.4 L430.06 618.04 L430.8 616.68 L431.51 615.32 L432.17 613.96 L432.77 612.6 L433.32 611.24 L433.81 609.88 L434.25 608.52 L434.64 607.17 L434.98 605.81 L435.28 604.45 L435.55 603.09 L435.77 601.73 L435.97 600.37 L436.13 599.01 L437 597.65 L437 597.65 L437.87 599.01 L438.03 600.37 L438.23 601.73 L438.45 603.09 L438.72 604.45 L439.02 605.81 L439.36 607.17 L439.75 608.52 L440.19 609.88 L440.68 611.24 L441.23 612.6 L441.83 613.96 L442.49 615.32 L443.2 616.68 L443.94 618.04 L444.71 619.4 L445.49 620.76 L446.24 622.12 L446.89 623.48 L447.16 624.84 L446.71 626.2 L445.94 627.56 L444.98 628.92 L443.93 630.27 L442.87 631.63 L441.85 632.99 L440.93 634.35 L440.11 635.71 L439.41 637.07 L438.83 638.43 L438.36 639.79 L438 641.15 L437.72 642.51 L437.5 643.87 L437.35 645.23 L437.24 646.59 L437.16 647.95 L437.1 649.31 L437.07 650.67 L437 652.02Z" fill="#fcc030" stroke="#111" stroke-width="0.55" stroke-linejoin="round"/>
<line x1="437" y1="601.27" x2="437" y2="617.95" stroke="#111" stroke-width="0.5"/>
<line x1="437" y1="630.64" x2="437" y2="644.77" stroke="#111" stroke-width="0.5"/>
<rect x="434" y="617.95" width="6" height="12.69" fill="none" stroke="#111" stroke-width="0.55"/>
<line x1="434" y1="624.47" x2="440" y2="624.47" stroke="#111" stroke-width="0.7"/>
<circle cx="308" cy="653.5" r="0.9" fill="none" stroke="#333" stroke-width="0.4"/>
<circle cx="308" cy="656.5" r="0.9" fill="none" stroke="#333" stroke-width="0.4"/>
<circle cx="308" cy="660" r="0.9" fill="none" stroke="#333" stroke-width="0.4"/>
<circle cx="308" cy="663.5" r="0.9" fill="none" stroke="#333" stroke-width="0.4"/>
<text x="297" y="564.5" font-size="7.4" fill="#231f20"><tspan font-style="italic">P</tspan> &lt; 2.22e-16</text>
<line x1="308" y1="567.5" x2="331.5" y2="567.5" stroke="#231f20" stroke-width="0.7"/>
<text x="349" y="564.5" font-size="7.4" fill="#231f20"><tspan font-style="italic">P</tspan> &lt; 2.22e-16</text>
<line x1="361" y1="567.5" x2="384.2" y2="567.5" stroke="#231f20" stroke-width="0.7"/>
<text x="401.5" y="564.5" font-size="7.4" fill="#231f20"><tspan font-style="italic">P</tspan> &lt; 2.22e-16</text>
<line x1="414" y1="567.5" x2="437" y2="567.5" stroke="#231f20" stroke-width="0.7"/>
<text x="320" y="683.5" font-size="7.5" fill="#231f20" text-anchor="middle">Parent</text>
<text x="372.5" y="683.5" font-size="7.5" fill="#231f20" text-anchor="middle">Abema-</text>
<text x="372.5" y="692.8" font-size="7.5" fill="#231f20" text-anchor="middle">resistant</text>
<text x="425.3" y="683.5" font-size="7.5" fill="#231f20" text-anchor="middle">Abema/Fulv-</text>
<text x="425.3" y="692.8" font-size="7.5" fill="#231f20" text-anchor="middle">resistant</text>
<rect x="321" y="700.8" width="9" height="4.4" fill="#a7a9ac" stroke="#333" stroke-width="0.45" rx="1"/>
<text x="333.8" y="705.7" font-size="7.5" fill="#231f20">Control</text>
<rect x="371" y="700.1" width="9" height="4.4" fill="#1b75bc" stroke="#333" stroke-width="0.45" rx="1"/>
<text x="383.8" y="705" font-size="7.5" fill="#231f20">Abema</text>
<rect x="345" y="712.1" width="9" height="4.4" fill="#fcc030" stroke="#333" stroke-width="0.45" rx="1"/>
<text x="357.8" y="717" font-size="7.5" fill="#231f20">INX-315</text>
<text x="0" y="749" font-size="10" fill="#000" font-weight="bold">F</text>
<line x1="47.2" y1="757.5" x2="47.2" y2="821.65" stroke="#231f20" stroke-width="0.7"/>
<line x1="46.85" y1="821.3" x2="127.5" y2="821.3" stroke="#231f20" stroke-width="0.7"/>
<line x1="45.6" y1="762" x2="47.2" y2="762" stroke="#231f20" stroke-width="0.6"/>
<text x="44.4" y="764.6" font-size="7.3" fill="#231f20" text-anchor="end">25,000</text>
<line x1="45.6" y1="773.2" x2="47.2" y2="773.2" stroke="#231f20" stroke-width="0.6"/>
<text x="44.4" y="775.8" font-size="7.3" fill="#231f20" text-anchor="end">20,000</text>
<line x1="45.6" y1="784.5" x2="47.2" y2="784.5" stroke="#231f20" stroke-width="0.6"/>
<text x="44.4" y="787.1" font-size="7.3" fill="#231f20" text-anchor="end">15,000</text>
<line x1="45.6" y1="795.7" x2="47.2" y2="795.7" stroke="#231f20" stroke-width="0.6"/>
<text x="44.4" y="798.3" font-size="7.3" fill="#231f20" text-anchor="end">10,000</text>
<line x1="45.6" y1="807" x2="47.2" y2="807" stroke="#231f20" stroke-width="0.6"/>
<text x="44.4" y="809.6" font-size="7.3" fill="#231f20" text-anchor="end">5,000</text>
<line x1="45.6" y1="818.2" x2="47.2" y2="818.2" stroke="#231f20" stroke-width="0.6"/>
<text x="44.4" y="820.8" font-size="7.3" fill="#231f20" text-anchor="end">0</text>
<line x1="50" y1="821.3" x2="50" y2="822.9" stroke="#231f20" stroke-width="0.6"/>
<text x="50" y="830.6" font-size="7.3" fill="#231f20" text-anchor="middle">0</text>
<line x1="67.4" y1="821.3" x2="67.4" y2="822.9" stroke="#231f20" stroke-width="0.6"/>
<text x="67.4" y="830.6" font-size="7.3" fill="#231f20" text-anchor="middle">2.5</text>
<line x1="84.8" y1="821.3" x2="84.8" y2="822.9" stroke="#231f20" stroke-width="0.6"/>
<text x="84.8" y="830.6" font-size="7.3" fill="#231f20" text-anchor="middle">5</text>
<line x1="102.2" y1="821.3" x2="102.2" y2="822.9" stroke="#231f20" stroke-width="0.6"/>
<text x="102.2" y="830.6" font-size="7.3" fill="#231f20" text-anchor="middle">7.5</text>
<line x1="119.6" y1="821.3" x2="119.6" y2="822.9" stroke="#231f20" stroke-width="0.6"/>
<text x="119.6" y="830.6" font-size="7.3" fill="#231f20" text-anchor="middle">10</text>
<text x="86" y="841.5" font-size="7.5" fill="#231f20" text-anchor="middle">Enrichment ratio</text>
<text x="15.5" y="794.5" font-size="7.8" fill="#231f20" text-anchor="middle" transform="rotate(-90 15.5 794.5)">−Log<tspan font-size="4.8" dy="1.6">10</tspan><tspan dy="-1.6"> (</tspan><tspan font-style="italic">P</tspan>)</text>
<line x1="76.5" y1="768" x2="82.5" y2="767.5" stroke="#8a8c8e" stroke-width="0.5"/>
<line x1="86.5" y1="757.5" x2="91" y2="761.2" stroke="#8a8c8e" stroke-width="0.5"/>
<line x1="100" y1="758" x2="95.2" y2="760.4" stroke="#8a8c8e" stroke-width="0.5"/>
<line x1="71" y1="781" x2="87" y2="764.5" stroke="#8a8c8e" stroke-width="0.5"/>
<line x1="93" y1="784" x2="93" y2="763.5" stroke="#8a8c8e" stroke-width="0.5"/>
<line x1="106" y1="774.5" x2="99" y2="763" stroke="#8a8c8e" stroke-width="0.5"/>
<line x1="118.5" y1="765.3" x2="111.5" y2="767" stroke="#8a8c8e" stroke-width="0.5"/>
<line x1="121.3" y1="782" x2="121.5" y2="772" stroke="#8a8c8e" stroke-width="0.5"/>
<circle cx="59.74" cy="818.09" r="1.7" fill="#8b1c62" stroke="#4f0f38" stroke-width="0.3"/>
<circle cx="68" cy="818.19" r="1.7" fill="#8b1c62" stroke="#4f0f38" stroke-width="0.3"/>
<circle cx="61.75" cy="816.73" r="1.7" fill="#8b1c62" stroke="#4f0f38" stroke-width="0.3"/>
<circle cx="62.93" cy="817.84" r="1.7" fill="#8b1c62" stroke="#4f0f38" stroke-width="0.3"/>
<circle cx="66.58" cy="817.04" r="1.7" fill="#8b1c62" stroke="#4f0f38" stroke-width="0.3"/>
<circle cx="75.7" cy="813.91" r="1.7" fill="#8b1c62" stroke="#4f0f38" stroke-width="0.3"/>
<circle cx="66.81" cy="816.43" r="1.7" fill="#8b1c62" stroke="#4f0f38" stroke-width="0.3"/>
<circle cx="66.19" cy="818.2" r="1.7" fill="#8b1c62" stroke="#4f0f38" stroke-width="0.3"/>
<circle cx="74.28" cy="814.66" r="1.7" fill="#8b1c62" stroke="#4f0f38" stroke-width="0.3"/>
<circle cx="74.33" cy="813.69" r="1.7" fill="#8b1c62" stroke="#4f0f38" stroke-width="0.3"/>
<circle cx="57.93" cy="817.73" r="1.7" fill="#8b1c62" stroke="#4f0f38" stroke-width="0.3"/>
<circle cx="63.03" cy="818.07" r="1.7" fill="#8b1c62" stroke="#4f0f38" stroke-width="0.3"/>
<circle cx="64.86" cy="817.95" r="1.7" fill="#8b1c62" stroke="#4f0f38" stroke-width="0.3"/>
<circle cx="67.08" cy="815.5" r="1.7" fill="#8b1c62" stroke="#4f0f38" stroke-width="0.3"/>
<circle cx="67.08" cy="815.78" r="1.7" fill="#8b1c62" stroke="#4f0f38" stroke-width="0.3"/>
<circle cx="67.53" cy="818.08" r="1.7" fill="#8b1c62" stroke="#4f0f38" stroke-width="0.3"/>
<circle cx="75.8" cy="817.67" r="1.7" fill="#8b1c62" stroke="#4f0f38" stroke-width="0.3"/>
<circle cx="71.28" cy="818.11" r="1.7" fill="#8b1c62" stroke="#4f0f38" stroke-width="0.3"/>
<circle cx="57.75" cy="817.76" r="1.7" fill="#8b1c62" stroke="#4f0f38" stroke-width="0.3"/>
<circle cx="55.3" cy="817.95" r="1.7" fill="#8b1c62" stroke="#4f0f38" stroke-width="0.3"/>
<circle cx="62.7" cy="817.63" r="1.7" fill="#8b1c62" stroke="#4f0f38" stroke-width="0.3"/>
<circle cx="62.43" cy="818.17" r="1.7" fill="#8b1c62" stroke="#4f0f38" stroke-width="0.3"/>
<circle cx="73.32" cy="816.98" r="1.7" fill="#8b1c62" stroke="#4f0f38" stroke-width="0.3"/>
<circle cx="65.35" cy="817.35" r="1.7" fill="#8b1c62" stroke="#4f0f38" stroke-width="0.3"/>
<circle cx="66.49" cy="815.47" r="1.7" fill="#8b1c62" stroke="#4f0f38" stroke-width="0.3"/>
<circle cx="64.87" cy="816.99" r="1.7" fill="#8b1c62" stroke="#4f0f38" stroke-width="0.3"/>
<circle cx="61.24" cy="816.92" r="1.7" fill="#8b1c62" stroke="#4f0f38" stroke-width="0.3"/>
<circle cx="65.24" cy="818.2" r="1.7" fill="#8b1c62" stroke="#4f0f38" stroke-width="0.3"/>
<circle cx="62.74" cy="818.2" r="1.7" fill="#8b1c62" stroke="#4f0f38" stroke-width="0.3"/>
<circle cx="68.49" cy="818.19" r="1.7" fill="#8b1c62" stroke="#4f0f38" stroke-width="0.3"/>
<circle cx="67.5" cy="816.68" r="1.7" fill="#8b1c62" stroke="#4f0f38" stroke-width="0.3"/>
<circle cx="60.25" cy="817.64" r="1.7" fill="#8b1c62" stroke="#4f0f38" stroke-width="0.3"/>
<circle cx="60.59" cy="817.83" r="1.7" fill="#8b1c62" stroke="#4f0f38" stroke-width="0.3"/>
<circle cx="62.02" cy="818.08" r="1.7" fill="#8b1c62" stroke="#4f0f38" stroke-width="0.3"/>
<circle cx="61.67" cy="818.1" r="1.7" fill="#8b1c62" stroke="#4f0f38" stroke-width="0.3"/>
<circle cx="59.99" cy="818.2" r="1.7" fill="#8b1c62" stroke="#4f0f38" stroke-width="0.3"/>
<circle cx="67.79" cy="817.92" r="1.7" fill="#8b1c62" stroke="#4f0f38" stroke-width="0.3"/>
<circle cx="55.32" cy="818.19" r="1.7" fill="#8b1c62" stroke="#4f0f38" stroke-width="0.3"/>
<circle cx="59.89" cy="817.74" r="1.7" fill="#8b1c62" stroke="#4f0f38" stroke-width="0.3"/>
<circle cx="59.65" cy="818.11" r="1.7" fill="#8b1c62" stroke="#4f0f38" stroke-width="0.3"/>
<circle cx="72.6" cy="813.77" r="1.7" fill="#8b1c62" stroke="#4f0f38" stroke-width="0.3"/>
<circle cx="60.29" cy="817.77" r="1.7" fill="#8b1c62" stroke="#4f0f38" stroke-width="0.3"/>
<circle cx="74.42" cy="817.92" r="1.7" fill="#8b1c62" stroke="#4f0f38" stroke-width="0.3"/>
<circle cx="58.24" cy="818.18" r="1.7" fill="#8b1c62" stroke="#4f0f38" stroke-width="0.3"/>
<circle cx="60.74" cy="817.44" r="1.7" fill="#8b1c62" stroke="#4f0f38" stroke-width="0.3"/>
<circle cx="74.98" cy="817.45" r="1.7" fill="#8b1c62" stroke="#4f0f38" stroke-width="0.3"/>
<circle cx="60.11" cy="817.56" r="1.7" fill="#8b1c62" stroke="#4f0f38" stroke-width="0.3"/>
<circle cx="61.45" cy="818" r="1.7" fill="#8b1c62" stroke="#4f0f38" stroke-width="0.3"/>
<circle cx="63.36" cy="816.56" r="1.7" fill="#8b1c62" stroke="#4f0f38" stroke-width="0.3"/>
<circle cx="77.4" cy="809.68" r="1.7" fill="#8b1c62" stroke="#4f0f38" stroke-width="0.3"/>
<circle cx="71.89" cy="815.15" r="1.7" fill="#8b1c62" stroke="#4f0f38" stroke-width="0.3"/>
<circle cx="77.84" cy="815.87" r="1.7" fill="#8b1c62" stroke="#4f0f38" stroke-width="0.3"/>
<circle cx="61.7" cy="818.14" r="1.7" fill="#8b1c62" stroke="#4f0f38" stroke-width="0.3"/>
<circle cx="56.91" cy="818.17" r="1.7" fill="#8b1c62" stroke="#4f0f38" stroke-width="0.3"/>
<circle cx="77.84" cy="818.2" r="1.7" fill="#8b1c62" stroke="#4f0f38" stroke-width="0.3"/>
<circle cx="68.24" cy="817.92" r="1.7" fill="#8b1c62" stroke="#4f0f38" stroke-width="0.3"/>
<circle cx="68.86" cy="817.6" r="1.7" fill="#8b1c62" stroke="#4f0f38" stroke-width="0.3"/>
<circle cx="77.84" cy="817.27" r="1.7" fill="#8b1c62" stroke="#4f0f38" stroke-width="0.3"/>
<circle cx="63.66" cy="817.99" r="1.7" fill="#8b1c62" stroke="#4f0f38" stroke-width="0.3"/>
<circle cx="59.22" cy="817.64" r="1.7" fill="#8b1c62" stroke="#4f0f38" stroke-width="0.3"/>
<circle cx="77.84" cy="818.19" r="1.7" fill="#8b1c62" stroke="#4f0f38" stroke-width="0.3"/>
<circle cx="61.76" cy="817.84" r="1.7" fill="#8b1c62" stroke="#4f0f38" stroke-width="0.3"/>
<circle cx="63.26" cy="817.09" r="1.7" fill="#8b1c62" stroke="#4f0f38" stroke-width="0.3"/>
<circle cx="64.77" cy="818.01" r="1.7" fill="#8b1c62" stroke="#4f0f38" stroke-width="0.3"/>
<circle cx="60.88" cy="817.81" r="1.7" fill="#8b1c62" stroke="#4f0f38" stroke-width="0.3"/>
<circle cx="63.02" cy="818.04" r="1.7" fill="#8b1c62" stroke="#4f0f38" stroke-width="0.3"/>
<circle cx="58.01" cy="817.89" r="1.7" fill="#8b1c62" stroke="#4f0f38" stroke-width="0.3"/>
<circle cx="63.42" cy="818.16" r="1.7" fill="#8b1c62" stroke="#4f0f38" stroke-width="0.3"/>
<circle cx="61.7" cy="817.34" r="1.7" fill="#8b1c62" stroke="#4f0f38" stroke-width="0.3"/>
<circle cx="59.55" cy="817.87" r="1.7" fill="#8b1c62" stroke="#4f0f38" stroke-width="0.3"/>
<circle cx="63.62" cy="817.76" r="1.7" fill="#8b1c62" stroke="#4f0f38" stroke-width="0.3"/>
<circle cx="68.96" cy="816.3" r="1.7" fill="#8b1c62" stroke="#4f0f38" stroke-width="0.3"/>
<circle cx="64.19" cy="817.63" r="1.7" fill="#8b1c62" stroke="#4f0f38" stroke-width="0.3"/>
<circle cx="67.14" cy="817.68" r="1.7" fill="#8b1c62" stroke="#4f0f38" stroke-width="0.3"/>
<circle cx="59.45" cy="817.41" r="1.7" fill="#8b1c62" stroke="#4f0f38" stroke-width="0.3"/>
<circle cx="56.07" cy="817.99" r="1.7" fill="#8b1c62" stroke="#4f0f38" stroke-width="0.3"/>
<circle cx="60.7" cy="818.19" r="1.7" fill="#8b1c62" stroke="#4f0f38" stroke-width="0.3"/>
<circle cx="77.84" cy="810.6" r="1.7" fill="#8b1c62" stroke="#4f0f38" stroke-width="0.3"/>
<circle cx="77.77" cy="813.23" r="1.7" fill="#8b1c62" stroke="#4f0f38" stroke-width="0.3"/>
<circle cx="65.51" cy="817.35" r="1.7" fill="#8b1c62" stroke="#4f0f38" stroke-width="0.3"/>
<circle cx="68" cy="795.5" r="1.7" fill="#8b1c62" stroke="#4f0f38" stroke-width="0.3"/>
<circle cx="69.5" cy="796.5" r="1.7" fill="#8b1c62" stroke="#4f0f38" stroke-width="0.3"/>
<circle cx="70.8" cy="798.8" r="1.7" fill="#8b1c62" stroke="#4f0f38" stroke-width="0.3"/>
<circle cx="71.5" cy="797.2" r="1.7" fill="#8b1c62" stroke="#4f0f38" stroke-width="0.3"/>
<circle cx="80.2" cy="802.5" r="1.7" fill="#8b1c62" stroke="#4f0f38" stroke-width="0.3"/>
<circle cx="96" cy="799.5" r="1.7" fill="#8b1c62" stroke="#4f0f38" stroke-width="0.3"/>
<circle cx="87.2" cy="813.5" r="1.7" fill="#8b1c62" stroke="#4f0f38" stroke-width="0.3"/>
<circle cx="94.5" cy="815.6" r="1.7" fill="#8b1c62" stroke="#4f0f38" stroke-width="0.3"/>
<circle cx="100" cy="813.2" r="1.7" fill="#8b1c62" stroke="#4f0f38" stroke-width="0.3"/>
<circle cx="102.6" cy="811.8" r="1.7" fill="#8b1c62" stroke="#4f0f38" stroke-width="0.3"/>
<circle cx="104.5" cy="812.3" r="1.7" fill="#8b1c62" stroke="#4f0f38" stroke-width="0.3"/>
<circle cx="106.3" cy="812.6" r="1.7" fill="#8b1c62" stroke="#4f0f38" stroke-width="0.3"/>
<circle cx="111.2" cy="811.8" r="1.7" fill="#8b1c62" stroke="#4f0f38" stroke-width="0.3"/>
<circle cx="76" cy="815.5" r="1.7" fill="#8b1c62" stroke="#4f0f38" stroke-width="0.3"/>
<circle cx="73" cy="813.2" r="1.7" fill="#8b1c62" stroke="#4f0f38" stroke-width="0.3"/>
<circle cx="70" cy="811.5" r="1.7" fill="#8b1c62" stroke="#4f0f38" stroke-width="0.3"/>
<circle cx="66" cy="809" r="1.7" fill="#8b1c62" stroke="#4f0f38" stroke-width="0.3"/>
<circle cx="64" cy="812" r="1.7" fill="#8b1c62" stroke="#4f0f38" stroke-width="0.3"/>
<circle cx="72" cy="816" r="1.7" fill="#8b1c62" stroke="#4f0f38" stroke-width="0.3"/>
<circle cx="75" cy="817.5" r="1.7" fill="#8b1c62" stroke="#4f0f38" stroke-width="0.3"/>
<circle cx="62" cy="815" r="1.7" fill="#8b1c62" stroke="#4f0f38" stroke-width="0.3"/>
<circle cx="83" cy="767.5" r="1.7" fill="#8b1c62" stroke="#4f0f38" stroke-width="0.3"/>
<circle cx="87" cy="764.2" r="1.7" fill="#8b1c62" stroke="#4f0f38" stroke-width="0.3"/>
<circle cx="88.6" cy="763" r="1.7" fill="#8b1c62" stroke="#4f0f38" stroke-width="0.3"/>
<circle cx="91.4" cy="762" r="1.7" fill="#8b1c62" stroke="#4f0f38" stroke-width="0.3"/>
<circle cx="93" cy="763.3" r="1.7" fill="#8b1c62" stroke="#4f0f38" stroke-width="0.3"/>
<circle cx="94.6" cy="760.4" r="1.7" fill="#8b1c62" stroke="#4f0f38" stroke-width="0.3"/>
<circle cx="92.2" cy="761" r="1.7" fill="#8b1c62" stroke="#4f0f38" stroke-width="0.3"/>
<circle cx="98.6" cy="762.6" r="1.7" fill="#8b1c62" stroke="#4f0f38" stroke-width="0.3"/>
<circle cx="110.6" cy="767" r="1.7" fill="#8b1c62" stroke="#4f0f38" stroke-width="0.3"/>
<circle cx="121.6" cy="771" r="1.7" fill="#8b1c62" stroke="#4f0f38" stroke-width="0.3"/>
<circle cx="56.31" cy="817.97" r="1.3" fill="#3a1030" stroke="#1a0a16" stroke-width="0.3"/>
<circle cx="63.81" cy="818.13" r="1.3" fill="#3a1030" stroke="#1a0a16" stroke-width="0.3"/>
<circle cx="57.16" cy="818.04" r="1.3" fill="#3a1030" stroke="#1a0a16" stroke-width="0.3"/>
<circle cx="64.84" cy="817.91" r="1.3" fill="#3a1030" stroke="#1a0a16" stroke-width="0.3"/>
<circle cx="56.49" cy="816.85" r="1.3" fill="#3a1030" stroke="#1a0a16" stroke-width="0.3"/>
<circle cx="57.45" cy="816.85" r="1.3" fill="#3a1030" stroke="#1a0a16" stroke-width="0.3"/>
<circle cx="62.83" cy="816.86" r="1.3" fill="#3a1030" stroke="#1a0a16" stroke-width="0.3"/>
<circle cx="65.54" cy="817.27" r="1.3" fill="#3a1030" stroke="#1a0a16" stroke-width="0.3"/>
<circle cx="64.05" cy="818.14" r="1.3" fill="#3a1030" stroke="#1a0a16" stroke-width="0.3"/>
<circle cx="63.74" cy="817.38" r="1.3" fill="#3a1030" stroke="#1a0a16" stroke-width="0.3"/>
<circle cx="63.23" cy="818.03" r="1.3" fill="#3a1030" stroke="#1a0a16" stroke-width="0.3"/>
<circle cx="63.56" cy="816.7" r="1.3" fill="#3a1030" stroke="#1a0a16" stroke-width="0.3"/>
<circle cx="56.86" cy="817.68" r="1.3" fill="#3a1030" stroke="#1a0a16" stroke-width="0.3"/>
<circle cx="61.76" cy="816.88" r="1.3" fill="#3a1030" stroke="#1a0a16" stroke-width="0.3"/>
<text x="75" y="758.7" font-size="7.3" fill="#231f20" font-style="italic">Fos</text>
<text x="99.8" y="758.7" font-size="7.3" fill="#231f20" font-style="italic">Fra2</text>
<text x="59.8" y="770.8" font-size="7.3" fill="#231f20" font-style="italic">AP-1</text>
<text x="119.5" y="766.8" font-size="7.3" fill="#231f20" font-style="italic">Fra2</text>
<text x="59.5" y="786.8" font-size="7.3" fill="#231f20" font-style="italic">Atf3</text>
<text x="83" y="790.6" font-size="7.3" fill="#231f20" font-style="italic">JunB</text>
<text x="102" y="779.8" font-size="7.3" fill="#231f20" font-style="italic">Fra1</text>
<text x="113" y="788.6" font-size="7.3" fill="#231f20" font-style="italic">Jun</text>
<line x1="181.2" y1="757" x2="181.2" y2="821.65" stroke="#231f20" stroke-width="0.7"/>
<line x1="180.85" y1="821.3" x2="258.5" y2="821.3" stroke="#231f20" stroke-width="0.7"/>
<line x1="179.6" y1="757.5" x2="181.2" y2="757.5" stroke="#231f20" stroke-width="0.6"/>
<text x="178.4" y="760.1" font-size="7.3" fill="#231f20" text-anchor="end">10,000</text>
<line x1="179.6" y1="772.8" x2="181.2" y2="772.8" stroke="#231f20" stroke-width="0.6"/>
<text x="178.4" y="775.4" font-size="7.3" fill="#231f20" text-anchor="end">7,500</text>
<line x1="179.6" y1="788" x2="181.2" y2="788" stroke="#231f20" stroke-width="0.6"/>
<text x="178.4" y="790.6" font-size="7.3" fill="#231f20" text-anchor="end">5,000</text>
<line x1="179.6" y1="803.3" x2="181.2" y2="803.3" stroke="#231f20" stroke-width="0.6"/>
<text x="178.4" y="805.9" font-size="7.3" fill="#231f20" text-anchor="end">2,500</text>
<line x1="179.6" y1="818.5" x2="181.2" y2="818.5" stroke="#231f20" stroke-width="0.6"/>
<text x="178.4" y="821.1" font-size="7.3" fill="#231f20" text-anchor="end">0</text>
<line x1="183.7" y1="821.3" x2="183.7" y2="822.9" stroke="#231f20" stroke-width="0.6"/>
<text x="183.7" y="830.6" font-size="7.3" fill="#231f20" text-anchor="middle">0</text>
<line x1="203.3" y1="821.3" x2="203.3" y2="822.9" stroke="#231f20" stroke-width="0.6"/>
<text x="203.3" y="830.6" font-size="7.3" fill="#231f20" text-anchor="middle">2.5</text>
<line x1="223" y1="821.3" x2="223" y2="822.9" stroke="#231f20" stroke-width="0.6"/>
<text x="223" y="830.6" font-size="7.3" fill="#231f20" text-anchor="middle">5</text>
<line x1="242.6" y1="821.3" x2="242.6" y2="822.9" stroke="#231f20" stroke-width="0.6"/>
<text x="242.6" y="830.6" font-size="7.3" fill="#231f20" text-anchor="middle">7.5</text>
<text x="216" y="841.5" font-size="7.5" fill="#231f20" text-anchor="middle">Enrichment ratio</text>
<text x="152.3" y="792" font-size="7.8" fill="#231f20" text-anchor="middle" transform="rotate(-90 152.3 792)">−Log<tspan font-size="4.8" dy="1.6">10</tspan><tspan dy="-1.6"> (</tspan><tspan font-style="italic">P</tspan>)</text>
<line x1="213.5" y1="758" x2="219" y2="763.5" stroke="#8a8c8e" stroke-width="0.5"/>
<line x1="222" y1="753.5" x2="223" y2="760.5" stroke="#8a8c8e" stroke-width="0.5"/>
<line x1="233" y1="761.5" x2="229" y2="762" stroke="#8a8c8e" stroke-width="0.5"/>
<line x1="206.5" y1="766.5" x2="214" y2="768" stroke="#8a8c8e" stroke-width="0.5"/>
<line x1="205.5" y1="776.5" x2="215" y2="769" stroke="#8a8c8e" stroke-width="0.5"/>
<line x1="226" y1="775" x2="225.5" y2="763.5" stroke="#8a8c8e" stroke-width="0.5"/>
<line x1="237.7" y1="786" x2="237.5" y2="767.5" stroke="#8a8c8e" stroke-width="0.5"/>
<line x1="252.5" y1="775" x2="248.8" y2="769.5" stroke="#8a8c8e" stroke-width="0.5"/>
<circle cx="196.95" cy="818.31" r="1.7" fill="#2b9fd6" stroke="#155f86" stroke-width="0.3"/>
<circle cx="207.03" cy="816.7" r="1.7" fill="#2b9fd6" stroke="#155f86" stroke-width="0.3"/>
<circle cx="197.89" cy="818.03" r="1.7" fill="#2b9fd6" stroke="#155f86" stroke-width="0.3"/>
<circle cx="199.28" cy="817.24" r="1.7" fill="#2b9fd6" stroke="#155f86" stroke-width="0.3"/>
<circle cx="211.96" cy="807.24" r="1.7" fill="#2b9fd6" stroke="#155f86" stroke-width="0.3"/>
<circle cx="191.24" cy="817.87" r="1.7" fill="#2b9fd6" stroke="#155f86" stroke-width="0.3"/>
<circle cx="205.24" cy="816.12" r="1.7" fill="#2b9fd6" stroke="#155f86" stroke-width="0.3"/>
<circle cx="211.96" cy="818.17" r="1.7" fill="#2b9fd6" stroke="#155f86" stroke-width="0.3"/>
<circle cx="211.96" cy="814.94" r="1.7" fill="#2b9fd6" stroke="#155f86" stroke-width="0.3"/>
<circle cx="203.87" cy="817.94" r="1.7" fill="#2b9fd6" stroke="#155f86" stroke-width="0.3"/>
<circle cx="193.55" cy="818.33" r="1.7" fill="#2b9fd6" stroke="#155f86" stroke-width="0.3"/>
<circle cx="192.6" cy="816.99" r="1.7" fill="#2b9fd6" stroke="#155f86" stroke-width="0.3"/>
<circle cx="193.79" cy="818.18" r="1.7" fill="#2b9fd6" stroke="#155f86" stroke-width="0.3"/>
<circle cx="211.96" cy="817.33" r="1.7" fill="#2b9fd6" stroke="#155f86" stroke-width="0.3"/>
<circle cx="199.93" cy="818.37" r="1.7" fill="#2b9fd6" stroke="#155f86" stroke-width="0.3"/>
<circle cx="198.03" cy="815.77" r="1.7" fill="#2b9fd6" stroke="#155f86" stroke-width="0.3"/>
<circle cx="199.72" cy="817.35" r="1.7" fill="#2b9fd6" stroke="#155f86" stroke-width="0.3"/>
<circle cx="201.69" cy="814.65" r="1.7" fill="#2b9fd6" stroke="#155f86" stroke-width="0.3"/>
<circle cx="209.21" cy="809.87" r="1.7" fill="#2b9fd6" stroke="#155f86" stroke-width="0.3"/>
<circle cx="211.96" cy="817.66" r="1.7" fill="#2b9fd6" stroke="#155f86" stroke-width="0.3"/>
<circle cx="192.15" cy="817.87" r="1.7" fill="#2b9fd6" stroke="#155f86" stroke-width="0.3"/>
<circle cx="196.91" cy="818.3" r="1.7" fill="#2b9fd6" stroke="#155f86" stroke-width="0.3"/>
<circle cx="191.45" cy="817.61" r="1.7" fill="#2b9fd6" stroke="#155f86" stroke-width="0.3"/>
<circle cx="208.16" cy="807.19" r="1.7" fill="#2b9fd6" stroke="#155f86" stroke-width="0.3"/>
<circle cx="196.86" cy="816.51" r="1.7" fill="#2b9fd6" stroke="#155f86" stroke-width="0.3"/>
<circle cx="207.04" cy="817.05" r="1.7" fill="#2b9fd6" stroke="#155f86" stroke-width="0.3"/>
<circle cx="203.56" cy="818.5" r="1.7" fill="#2b9fd6" stroke="#155f86" stroke-width="0.3"/>
<circle cx="197.16" cy="817.65" r="1.7" fill="#2b9fd6" stroke="#155f86" stroke-width="0.3"/>
<circle cx="193.74" cy="816.51" r="1.7" fill="#2b9fd6" stroke="#155f86" stroke-width="0.3"/>
<circle cx="197.69" cy="818.46" r="1.7" fill="#2b9fd6" stroke="#155f86" stroke-width="0.3"/>
<circle cx="193.93" cy="818.48" r="1.7" fill="#2b9fd6" stroke="#155f86" stroke-width="0.3"/>
<circle cx="194.86" cy="817" r="1.7" fill="#2b9fd6" stroke="#155f86" stroke-width="0.3"/>
<circle cx="194.25" cy="817.54" r="1.7" fill="#2b9fd6" stroke="#155f86" stroke-width="0.3"/>
<circle cx="206.14" cy="811.58" r="1.7" fill="#2b9fd6" stroke="#155f86" stroke-width="0.3"/>
<circle cx="200.81" cy="817" r="1.7" fill="#2b9fd6" stroke="#155f86" stroke-width="0.3"/>
<circle cx="195.09" cy="817.27" r="1.7" fill="#2b9fd6" stroke="#155f86" stroke-width="0.3"/>
<circle cx="201.32" cy="815.61" r="1.7" fill="#2b9fd6" stroke="#155f86" stroke-width="0.3"/>
<circle cx="202.34" cy="811.88" r="1.7" fill="#2b9fd6" stroke="#155f86" stroke-width="0.3"/>
<circle cx="202.58" cy="810.96" r="1.7" fill="#2b9fd6" stroke="#155f86" stroke-width="0.3"/>
<circle cx="194.99" cy="817.12" r="1.7" fill="#2b9fd6" stroke="#155f86" stroke-width="0.3"/>
<circle cx="203.16" cy="814.89" r="1.7" fill="#2b9fd6" stroke="#155f86" stroke-width="0.3"/>
<circle cx="199.6" cy="818.37" r="1.7" fill="#2b9fd6" stroke="#155f86" stroke-width="0.3"/>
<circle cx="208.53" cy="810.22" r="1.7" fill="#2b9fd6" stroke="#155f86" stroke-width="0.3"/>
<circle cx="198.17" cy="817.9" r="1.7" fill="#2b9fd6" stroke="#155f86" stroke-width="0.3"/>
<circle cx="200.39" cy="814.73" r="1.7" fill="#2b9fd6" stroke="#155f86" stroke-width="0.3"/>
<circle cx="197.9" cy="817.86" r="1.7" fill="#2b9fd6" stroke="#155f86" stroke-width="0.3"/>
<circle cx="202.64" cy="817.6" r="1.7" fill="#2b9fd6" stroke="#155f86" stroke-width="0.3"/>
<circle cx="205.72" cy="817.8" r="1.7" fill="#2b9fd6" stroke="#155f86" stroke-width="0.3"/>
<circle cx="211.96" cy="817.98" r="1.7" fill="#2b9fd6" stroke="#155f86" stroke-width="0.3"/>
<circle cx="195.02" cy="817.01" r="1.7" fill="#2b9fd6" stroke="#155f86" stroke-width="0.3"/>
<circle cx="211.96" cy="811.76" r="1.7" fill="#2b9fd6" stroke="#155f86" stroke-width="0.3"/>
<circle cx="194.58" cy="818.43" r="1.7" fill="#2b9fd6" stroke="#155f86" stroke-width="0.3"/>
<circle cx="201.1" cy="818.28" r="1.7" fill="#2b9fd6" stroke="#155f86" stroke-width="0.3"/>
<circle cx="190.99" cy="818.5" r="1.7" fill="#2b9fd6" stroke="#155f86" stroke-width="0.3"/>
<circle cx="211.79" cy="812.78" r="1.7" fill="#2b9fd6" stroke="#155f86" stroke-width="0.3"/>
<circle cx="203.27" cy="809.46" r="1.7" fill="#2b9fd6" stroke="#155f86" stroke-width="0.3"/>
<circle cx="203.83" cy="811.22" r="1.7" fill="#2b9fd6" stroke="#155f86" stroke-width="0.3"/>
<circle cx="199.85" cy="815.41" r="1.7" fill="#2b9fd6" stroke="#155f86" stroke-width="0.3"/>
<circle cx="204.61" cy="815.85" r="1.7" fill="#2b9fd6" stroke="#155f86" stroke-width="0.3"/>
<circle cx="199.74" cy="816.98" r="1.7" fill="#2b9fd6" stroke="#155f86" stroke-width="0.3"/>
<circle cx="192.22" cy="817.92" r="1.7" fill="#2b9fd6" stroke="#155f86" stroke-width="0.3"/>
<circle cx="198.85" cy="813.56" r="1.7" fill="#2b9fd6" stroke="#155f86" stroke-width="0.3"/>
<circle cx="211.96" cy="818.47" r="1.7" fill="#2b9fd6" stroke="#155f86" stroke-width="0.3"/>
<circle cx="198.27" cy="818.48" r="1.7" fill="#2b9fd6" stroke="#155f86" stroke-width="0.3"/>
<circle cx="208.47" cy="817.17" r="1.7" fill="#2b9fd6" stroke="#155f86" stroke-width="0.3"/>
<circle cx="211.96" cy="818.24" r="1.7" fill="#2b9fd6" stroke="#155f86" stroke-width="0.3"/>
<circle cx="211.96" cy="800.41" r="1.7" fill="#2b9fd6" stroke="#155f86" stroke-width="0.3"/>
<circle cx="211.96" cy="816.46" r="1.7" fill="#2b9fd6" stroke="#155f86" stroke-width="0.3"/>
<circle cx="210.09" cy="808.54" r="1.7" fill="#2b9fd6" stroke="#155f86" stroke-width="0.3"/>
<circle cx="200.12" cy="818.49" r="1.7" fill="#2b9fd6" stroke="#155f86" stroke-width="0.3"/>
<circle cx="195.06" cy="818.45" r="1.7" fill="#2b9fd6" stroke="#155f86" stroke-width="0.3"/>
<circle cx="200.2" cy="816.83" r="1.7" fill="#2b9fd6" stroke="#155f86" stroke-width="0.3"/>
<circle cx="197.86" cy="818.16" r="1.7" fill="#2b9fd6" stroke="#155f86" stroke-width="0.3"/>
<circle cx="198.65" cy="817.79" r="1.7" fill="#2b9fd6" stroke="#155f86" stroke-width="0.3"/>
<circle cx="205.04" cy="817.2" r="1.7" fill="#2b9fd6" stroke="#155f86" stroke-width="0.3"/>
<circle cx="201.21" cy="818.22" r="1.7" fill="#2b9fd6" stroke="#155f86" stroke-width="0.3"/>
<circle cx="204.79" cy="816.47" r="1.7" fill="#2b9fd6" stroke="#155f86" stroke-width="0.3"/>
<circle cx="196.29" cy="818.43" r="1.7" fill="#2b9fd6" stroke="#155f86" stroke-width="0.3"/>
<circle cx="198.99" cy="818.5" r="1.7" fill="#2b9fd6" stroke="#155f86" stroke-width="0.3"/>
<circle cx="195.55" cy="817.84" r="1.7" fill="#2b9fd6" stroke="#155f86" stroke-width="0.3"/>
<circle cx="199.3" cy="815.83" r="1.7" fill="#2b9fd6" stroke="#155f86" stroke-width="0.3"/>
<circle cx="193.36" cy="818.24" r="1.7" fill="#2b9fd6" stroke="#155f86" stroke-width="0.3"/>
<circle cx="196.99" cy="817.71" r="1.7" fill="#2b9fd6" stroke="#155f86" stroke-width="0.3"/>
<circle cx="192.46" cy="818.34" r="1.7" fill="#2b9fd6" stroke="#155f86" stroke-width="0.3"/>
<circle cx="204.54" cy="812.03" r="1.7" fill="#2b9fd6" stroke="#155f86" stroke-width="0.3"/>
<circle cx="195.16" cy="818.29" r="1.7" fill="#2b9fd6" stroke="#155f86" stroke-width="0.3"/>
<circle cx="196.7" cy="816.03" r="1.7" fill="#2b9fd6" stroke="#155f86" stroke-width="0.3"/>
<circle cx="202.85" cy="818.45" r="1.7" fill="#2b9fd6" stroke="#155f86" stroke-width="0.3"/>
<circle cx="207.54" cy="804.63" r="1.7" fill="#2b9fd6" stroke="#155f86" stroke-width="0.3"/>
<circle cx="198.97" cy="813.94" r="1.7" fill="#2b9fd6" stroke="#155f86" stroke-width="0.3"/>
<circle cx="195.32" cy="815.82" r="1.7" fill="#2b9fd6" stroke="#155f86" stroke-width="0.3"/>
<circle cx="194.62" cy="816.66" r="1.7" fill="#2b9fd6" stroke="#155f86" stroke-width="0.3"/>
<circle cx="194.24" cy="818.28" r="1.7" fill="#2b9fd6" stroke="#155f86" stroke-width="0.3"/>
<circle cx="190.45" cy="818.04" r="1.7" fill="#2b9fd6" stroke="#155f86" stroke-width="0.3"/>
<circle cx="211.96" cy="800.56" r="1.7" fill="#2b9fd6" stroke="#155f86" stroke-width="0.3"/>
<circle cx="197.74" cy="818.32" r="1.7" fill="#2b9fd6" stroke="#155f86" stroke-width="0.3"/>
<circle cx="208.19" cy="817.63" r="1.7" fill="#2b9fd6" stroke="#155f86" stroke-width="0.3"/>
<circle cx="190.79" cy="818.16" r="1.7" fill="#2b9fd6" stroke="#155f86" stroke-width="0.3"/>
<circle cx="204.99" cy="816.15" r="1.7" fill="#2b9fd6" stroke="#155f86" stroke-width="0.3"/>
<circle cx="190.72" cy="818.5" r="1.7" fill="#2b9fd6" stroke="#155f86" stroke-width="0.3"/>
<circle cx="198.76" cy="816.23" r="1.7" fill="#2b9fd6" stroke="#155f86" stroke-width="0.3"/>
<circle cx="195.06" cy="816.52" r="1.7" fill="#2b9fd6" stroke="#155f86" stroke-width="0.3"/>
<circle cx="211.96" cy="802.68" r="1.7" fill="#2b9fd6" stroke="#155f86" stroke-width="0.3"/>
<circle cx="195.41" cy="816.95" r="1.7" fill="#2b9fd6" stroke="#155f86" stroke-width="0.3"/>
<circle cx="197.44" cy="818.49" r="1.7" fill="#2b9fd6" stroke="#155f86" stroke-width="0.3"/>
<circle cx="205.5" cy="785" r="1.7" fill="#2b9fd6" stroke="#155f86" stroke-width="0.3"/>
<circle cx="207" cy="788" r="1.7" fill="#2b9fd6" stroke="#155f86" stroke-width="0.3"/>
<circle cx="210" cy="790" r="1.7" fill="#2b9fd6" stroke="#155f86" stroke-width="0.3"/>
<circle cx="213" cy="786" r="1.7" fill="#2b9fd6" stroke="#155f86" stroke-width="0.3"/>
<circle cx="208" cy="793" r="1.7" fill="#2b9fd6" stroke="#155f86" stroke-width="0.3"/>
<circle cx="204" cy="795" r="1.7" fill="#2b9fd6" stroke="#155f86" stroke-width="0.3"/>
<circle cx="221.5" cy="793.5" r="1.7" fill="#2b9fd6" stroke="#155f86" stroke-width="0.3"/>
<circle cx="231" cy="795" r="1.7" fill="#2b9fd6" stroke="#155f86" stroke-width="0.3"/>
<circle cx="203" cy="800" r="1.7" fill="#2b9fd6" stroke="#155f86" stroke-width="0.3"/>
<circle cx="205" cy="803" r="1.7" fill="#2b9fd6" stroke="#155f86" stroke-width="0.3"/>
<circle cx="197" cy="807" r="1.7" fill="#2b9fd6" stroke="#155f86" stroke-width="0.3"/>
<circle cx="212" cy="804" r="1.7" fill="#2b9fd6" stroke="#155f86" stroke-width="0.3"/>
<circle cx="213" cy="812" r="1.7" fill="#2b9fd6" stroke="#155f86" stroke-width="0.3"/>
<circle cx="218" cy="813" r="1.7" fill="#2b9fd6" stroke="#155f86" stroke-width="0.3"/>
<circle cx="210" cy="817" r="1.7" fill="#2b9fd6" stroke="#155f86" stroke-width="0.3"/>
<circle cx="222" cy="818" r="1.7" fill="#2b9fd6" stroke="#155f86" stroke-width="0.3"/>
<circle cx="244.5" cy="809" r="1.7" fill="#2b9fd6" stroke="#155f86" stroke-width="0.3"/>
<circle cx="249" cy="810.3" r="1.7" fill="#2b9fd6" stroke="#155f86" stroke-width="0.3"/>
<circle cx="255" cy="808" r="1.7" fill="#2b9fd6" stroke="#155f86" stroke-width="0.3"/>
<circle cx="206.3" cy="783.5" r="1.7" fill="#2b9fd6" stroke="#155f86" stroke-width="0.3"/>
<circle cx="209" cy="786.5" r="1.7" fill="#2b9fd6" stroke="#155f86" stroke-width="0.3"/>
<circle cx="214.5" cy="781" r="1.7" fill="#2b9fd6" stroke="#155f86" stroke-width="0.3"/>
<circle cx="211" cy="797" r="1.7" fill="#2b9fd6" stroke="#155f86" stroke-width="0.3"/>
<circle cx="207.5" cy="799" r="1.7" fill="#2b9fd6" stroke="#155f86" stroke-width="0.3"/>
<circle cx="204.5" cy="808" r="1.7" fill="#2b9fd6" stroke="#155f86" stroke-width="0.3"/>
<circle cx="216" cy="809" r="1.7" fill="#2b9fd6" stroke="#155f86" stroke-width="0.3"/>
<circle cx="219.5" cy="815.5" r="1.7" fill="#2b9fd6" stroke="#155f86" stroke-width="0.3"/>
<circle cx="208" cy="813" r="1.7" fill="#2b9fd6" stroke="#155f86" stroke-width="0.3"/>
<circle cx="215" cy="768.5" r="1.7" fill="#2b9fd6" stroke="#155f86" stroke-width="0.3"/>
<circle cx="219" cy="764" r="1.7" fill="#2b9fd6" stroke="#155f86" stroke-width="0.3"/>
<circle cx="222" cy="762" r="1.7" fill="#2b9fd6" stroke="#155f86" stroke-width="0.3"/>
<circle cx="224" cy="761.5" r="1.7" fill="#2b9fd6" stroke="#155f86" stroke-width="0.3"/>
<circle cx="225.5" cy="762.5" r="1.7" fill="#2b9fd6" stroke="#155f86" stroke-width="0.3"/>
<circle cx="223" cy="760.8" r="1.7" fill="#2b9fd6" stroke="#155f86" stroke-width="0.3"/>
<circle cx="228" cy="762" r="1.7" fill="#2b9fd6" stroke="#155f86" stroke-width="0.3"/>
<circle cx="237.5" cy="766" r="1.7" fill="#2b9fd6" stroke="#155f86" stroke-width="0.3"/>
<circle cx="248" cy="768.5" r="1.7" fill="#2b9fd6" stroke="#155f86" stroke-width="0.3"/>
<circle cx="195.15" cy="816.4" r="1.3" fill="#15405a" stroke="#0a1a26" stroke-width="0.3"/>
<circle cx="191.92" cy="817.25" r="1.3" fill="#15405a" stroke="#0a1a26" stroke-width="0.3"/>
<circle cx="191.98" cy="818.32" r="1.3" fill="#15405a" stroke="#0a1a26" stroke-width="0.3"/>
<circle cx="197.9" cy="817.97" r="1.3" fill="#15405a" stroke="#0a1a26" stroke-width="0.3"/>
<circle cx="191.3" cy="818.16" r="1.3" fill="#15405a" stroke="#0a1a26" stroke-width="0.3"/>
<circle cx="197.85" cy="817.21" r="1.3" fill="#15405a" stroke="#0a1a26" stroke-width="0.3"/>
<circle cx="190.89" cy="817.99" r="1.3" fill="#15405a" stroke="#0a1a26" stroke-width="0.3"/>
<circle cx="201.4" cy="818.02" r="1.3" fill="#15405a" stroke="#0a1a26" stroke-width="0.3"/>
<circle cx="196.95" cy="817.58" r="1.3" fill="#15405a" stroke="#0a1a26" stroke-width="0.3"/>
<circle cx="199.35" cy="817.17" r="1.3" fill="#15405a" stroke="#0a1a26" stroke-width="0.3"/>
<circle cx="199.43" cy="817.32" r="1.3" fill="#15405a" stroke="#0a1a26" stroke-width="0.3"/>
<circle cx="192.83" cy="818.11" r="1.3" fill="#15405a" stroke="#0a1a26" stroke-width="0.3"/>
<circle cx="191.63" cy="816.68" r="1.3" fill="#15405a" stroke="#0a1a26" stroke-width="0.3"/>
<circle cx="192" cy="818.45" r="1.3" fill="#15405a" stroke="#0a1a26" stroke-width="0.3"/>
<text x="212" y="754.6" font-size="7.3" fill="#231f20" font-style="italic">JunB</text>
<text x="202" y="760.8" font-size="7.3" fill="#231f20" font-style="italic">Fos</text>
<text x="233" y="762.8" font-size="7.3" fill="#231f20" font-style="italic">Fra2</text>
<text x="192" y="769.8" font-size="7.3" fill="#231f20" font-style="italic">Atf3</text>
<text x="188" y="780.6" font-size="7.3" fill="#231f20" font-style="italic">AP-1</text>
<text x="219" y="780.8" font-size="7.3" fill="#231f20" font-style="italic">Fra1</text>
<text x="230" y="791.8" font-size="7.3" fill="#231f20" font-style="italic">Fra2</text>
<text x="252" y="779.8" font-size="7.3" fill="#231f20" font-style="italic">Jun</text>
<line x1="48.6" y1="862.5" x2="48.6" y2="926.15" stroke="#231f20" stroke-width="0.7"/>
<line x1="48.25" y1="925.8" x2="128.5" y2="925.8" stroke="#231f20" stroke-width="0.7"/>
<line x1="47" y1="882" x2="48.6" y2="882" stroke="#231f20" stroke-width="0.6"/>
<text x="45.8" y="884.6" font-size="7.3" fill="#231f20" text-anchor="end">4,000</text>
<line x1="47" y1="902.5" x2="48.6" y2="902.5" stroke="#231f20" stroke-width="0.6"/>
<text x="45.8" y="905.1" font-size="7.3" fill="#231f20" text-anchor="end">2,000</text>
<line x1="47" y1="923" x2="48.6" y2="923" stroke="#231f20" stroke-width="0.6"/>
<text x="45.8" y="925.6" font-size="7.3" fill="#231f20" text-anchor="end">0</text>
<line x1="52" y1="925.8" x2="52" y2="927.4" stroke="#231f20" stroke-width="0.6"/>
<text x="52" y="935.1" font-size="7.3" fill="#231f20" text-anchor="middle">0</text>
<line x1="70.5" y1="925.8" x2="70.5" y2="927.4" stroke="#231f20" stroke-width="0.6"/>
<text x="70.5" y="935.1" font-size="7.3" fill="#231f20" text-anchor="middle">2.5</text>
<line x1="89" y1="925.8" x2="89" y2="927.4" stroke="#231f20" stroke-width="0.6"/>
<text x="89" y="935.1" font-size="7.3" fill="#231f20" text-anchor="middle">5</text>
<line x1="107.5" y1="925.8" x2="107.5" y2="927.4" stroke="#231f20" stroke-width="0.6"/>
<text x="107.5" y="935.1" font-size="7.3" fill="#231f20" text-anchor="middle">7.5</text>
<line x1="126" y1="925.8" x2="126" y2="927.4" stroke="#231f20" stroke-width="0.6"/>
<text x="126" y="935.1" font-size="7.3" fill="#231f20" text-anchor="middle">10</text>
<text x="87" y="945.8" font-size="7.5" fill="#231f20" text-anchor="middle">Enrichment ratio</text>
<text x="15.5" y="896" font-size="7.8" fill="#231f20" text-anchor="middle" transform="rotate(-90 15.5 896)">−Log<tspan font-size="4.8" dy="1.6">10</tspan><tspan dy="-1.6"> (</tspan><tspan font-style="italic">P</tspan>)</text>
<line x1="77.5" y1="857.5" x2="88.5" y2="865.5" stroke="#8a8c8e" stroke-width="0.5"/>
<line x1="92" y1="859" x2="89.5" y2="865.5" stroke="#8a8c8e" stroke-width="0.5"/>
<line x1="74.5" y1="866.5" x2="84" y2="868.5" stroke="#8a8c8e" stroke-width="0.5"/>
<line x1="113" y1="864" x2="106.5" y2="867.5" stroke="#8a8c8e" stroke-width="0.5"/>
<line x1="72.5" y1="876" x2="80.5" y2="875" stroke="#8a8c8e" stroke-width="0.5"/>
<line x1="87.5" y1="883.5" x2="84" y2="872.5" stroke="#8a8c8e" stroke-width="0.5"/>
<line x1="105.5" y1="884.5" x2="91" y2="867" stroke="#8a8c8e" stroke-width="0.5"/>
<line x1="121" y1="876" x2="116" y2="872.5" stroke="#8a8c8e" stroke-width="0.5"/>
<circle cx="67.17" cy="918.35" r="1.7" fill="#2a6db5" stroke="#173f6e" stroke-width="0.3"/>
<circle cx="71.76" cy="916.11" r="1.7" fill="#2a6db5" stroke="#173f6e" stroke-width="0.3"/>
<circle cx="75.59" cy="916.9" r="1.7" fill="#2a6db5" stroke="#173f6e" stroke-width="0.3"/>
<circle cx="66.99" cy="918.4" r="1.7" fill="#2a6db5" stroke="#173f6e" stroke-width="0.3"/>
<circle cx="74.62" cy="922.48" r="1.7" fill="#2a6db5" stroke="#173f6e" stroke-width="0.3"/>
<circle cx="68.51" cy="918.79" r="1.7" fill="#2a6db5" stroke="#173f6e" stroke-width="0.3"/>
<circle cx="61.83" cy="922.45" r="1.7" fill="#2a6db5" stroke="#173f6e" stroke-width="0.3"/>
<circle cx="59.86" cy="922.16" r="1.7" fill="#2a6db5" stroke="#173f6e" stroke-width="0.3"/>
<circle cx="65.37" cy="921.23" r="1.7" fill="#2a6db5" stroke="#173f6e" stroke-width="0.3"/>
<circle cx="63.41" cy="919.29" r="1.7" fill="#2a6db5" stroke="#173f6e" stroke-width="0.3"/>
<circle cx="64.72" cy="922.98" r="1.7" fill="#2a6db5" stroke="#173f6e" stroke-width="0.3"/>
<circle cx="64.28" cy="919.23" r="1.7" fill="#2a6db5" stroke="#173f6e" stroke-width="0.3"/>
<circle cx="77.16" cy="919.85" r="1.7" fill="#2a6db5" stroke="#173f6e" stroke-width="0.3"/>
<circle cx="77.16" cy="910.86" r="1.7" fill="#2a6db5" stroke="#173f6e" stroke-width="0.3"/>
<circle cx="76.03" cy="906.38" r="1.7" fill="#2a6db5" stroke="#173f6e" stroke-width="0.3"/>
<circle cx="64.18" cy="920.88" r="1.7" fill="#2a6db5" stroke="#173f6e" stroke-width="0.3"/>
<circle cx="63.51" cy="921.57" r="1.7" fill="#2a6db5" stroke="#173f6e" stroke-width="0.3"/>
<circle cx="63.79" cy="922.61" r="1.7" fill="#2a6db5" stroke="#173f6e" stroke-width="0.3"/>
<circle cx="77.16" cy="921.63" r="1.7" fill="#2a6db5" stroke="#173f6e" stroke-width="0.3"/>
<circle cx="62.42" cy="922.57" r="1.7" fill="#2a6db5" stroke="#173f6e" stroke-width="0.3"/>
<circle cx="77.16" cy="902.73" r="1.7" fill="#2a6db5" stroke="#173f6e" stroke-width="0.3"/>
<circle cx="66.04" cy="922.54" r="1.7" fill="#2a6db5" stroke="#173f6e" stroke-width="0.3"/>
<circle cx="66.81" cy="921.27" r="1.7" fill="#2a6db5" stroke="#173f6e" stroke-width="0.3"/>
<circle cx="59.89" cy="922.89" r="1.7" fill="#2a6db5" stroke="#173f6e" stroke-width="0.3"/>
<circle cx="64.39" cy="920.19" r="1.7" fill="#2a6db5" stroke="#173f6e" stroke-width="0.3"/>
<circle cx="64.92" cy="919.93" r="1.7" fill="#2a6db5" stroke="#173f6e" stroke-width="0.3"/>
<circle cx="68.43" cy="922.84" r="1.7" fill="#2a6db5" stroke="#173f6e" stroke-width="0.3"/>
<circle cx="74.55" cy="906.97" r="1.7" fill="#2a6db5" stroke="#173f6e" stroke-width="0.3"/>
<circle cx="60.44" cy="922.82" r="1.7" fill="#2a6db5" stroke="#173f6e" stroke-width="0.3"/>
<circle cx="59.69" cy="922.99" r="1.7" fill="#2a6db5" stroke="#173f6e" stroke-width="0.3"/>
<circle cx="65.08" cy="919.88" r="1.7" fill="#2a6db5" stroke="#173f6e" stroke-width="0.3"/>
<circle cx="66.47" cy="922.99" r="1.7" fill="#2a6db5" stroke="#173f6e" stroke-width="0.3"/>
<circle cx="65.67" cy="920.65" r="1.7" fill="#2a6db5" stroke="#173f6e" stroke-width="0.3"/>
<circle cx="64.69" cy="920.42" r="1.7" fill="#2a6db5" stroke="#173f6e" stroke-width="0.3"/>
<circle cx="75.95" cy="910.24" r="1.7" fill="#2a6db5" stroke="#173f6e" stroke-width="0.3"/>
<circle cx="68.5" cy="922.83" r="1.7" fill="#2a6db5" stroke="#173f6e" stroke-width="0.3"/>
<circle cx="66.61" cy="917.51" r="1.7" fill="#2a6db5" stroke="#173f6e" stroke-width="0.3"/>
<circle cx="77.16" cy="919.92" r="1.7" fill="#2a6db5" stroke="#173f6e" stroke-width="0.3"/>
<circle cx="67.92" cy="922.81" r="1.7" fill="#2a6db5" stroke="#173f6e" stroke-width="0.3"/>
<circle cx="68.59" cy="922.14" r="1.7" fill="#2a6db5" stroke="#173f6e" stroke-width="0.3"/>
<circle cx="65.28" cy="922.08" r="1.7" fill="#2a6db5" stroke="#173f6e" stroke-width="0.3"/>
<circle cx="63.85" cy="922.42" r="1.7" fill="#2a6db5" stroke="#173f6e" stroke-width="0.3"/>
<circle cx="77.16" cy="922.99" r="1.7" fill="#2a6db5" stroke="#173f6e" stroke-width="0.3"/>
<circle cx="69.65" cy="920.98" r="1.7" fill="#2a6db5" stroke="#173f6e" stroke-width="0.3"/>
<circle cx="61.08" cy="921.15" r="1.7" fill="#2a6db5" stroke="#173f6e" stroke-width="0.3"/>
<circle cx="58.6" cy="922.87" r="1.7" fill="#2a6db5" stroke="#173f6e" stroke-width="0.3"/>
<circle cx="69.35" cy="914.37" r="1.7" fill="#2a6db5" stroke="#173f6e" stroke-width="0.3"/>
<circle cx="69.81" cy="914.67" r="1.7" fill="#2a6db5" stroke="#173f6e" stroke-width="0.3"/>
<circle cx="62.79" cy="920.81" r="1.7" fill="#2a6db5" stroke="#173f6e" stroke-width="0.3"/>
<circle cx="65.06" cy="918.49" r="1.7" fill="#2a6db5" stroke="#173f6e" stroke-width="0.3"/>
<circle cx="77.03" cy="920.3" r="1.7" fill="#2a6db5" stroke="#173f6e" stroke-width="0.3"/>
<circle cx="65.07" cy="922.76" r="1.7" fill="#2a6db5" stroke="#173f6e" stroke-width="0.3"/>
<circle cx="64.28" cy="922.98" r="1.7" fill="#2a6db5" stroke="#173f6e" stroke-width="0.3"/>
<circle cx="68.86" cy="916.99" r="1.7" fill="#2a6db5" stroke="#173f6e" stroke-width="0.3"/>
<circle cx="77.16" cy="923" r="1.7" fill="#2a6db5" stroke="#173f6e" stroke-width="0.3"/>
<circle cx="62.26" cy="922.4" r="1.7" fill="#2a6db5" stroke="#173f6e" stroke-width="0.3"/>
<circle cx="62.84" cy="923" r="1.7" fill="#2a6db5" stroke="#173f6e" stroke-width="0.3"/>
<circle cx="74.37" cy="922.77" r="1.7" fill="#2a6db5" stroke="#173f6e" stroke-width="0.3"/>
<circle cx="63.75" cy="920.4" r="1.7" fill="#2a6db5" stroke="#173f6e" stroke-width="0.3"/>
<circle cx="77.16" cy="920.42" r="1.7" fill="#2a6db5" stroke="#173f6e" stroke-width="0.3"/>
<circle cx="61.85" cy="920.36" r="1.7" fill="#2a6db5" stroke="#173f6e" stroke-width="0.3"/>
<circle cx="65.06" cy="922.93" r="1.7" fill="#2a6db5" stroke="#173f6e" stroke-width="0.3"/>
<circle cx="62.34" cy="920.51" r="1.7" fill="#2a6db5" stroke="#173f6e" stroke-width="0.3"/>
<circle cx="62.74" cy="920.14" r="1.7" fill="#2a6db5" stroke="#173f6e" stroke-width="0.3"/>
<circle cx="63.8" cy="919.39" r="1.7" fill="#2a6db5" stroke="#173f6e" stroke-width="0.3"/>
<circle cx="67.11" cy="922.46" r="1.7" fill="#2a6db5" stroke="#173f6e" stroke-width="0.3"/>
<circle cx="61.25" cy="921.75" r="1.7" fill="#2a6db5" stroke="#173f6e" stroke-width="0.3"/>
<circle cx="77.09" cy="919.08" r="1.7" fill="#2a6db5" stroke="#173f6e" stroke-width="0.3"/>
<circle cx="68.46" cy="920.88" r="1.7" fill="#2a6db5" stroke="#173f6e" stroke-width="0.3"/>
<circle cx="73.15" cy="918.36" r="1.7" fill="#2a6db5" stroke="#173f6e" stroke-width="0.3"/>
<circle cx="73.03" cy="922.22" r="1.7" fill="#2a6db5" stroke="#173f6e" stroke-width="0.3"/>
<circle cx="77.16" cy="907.17" r="1.7" fill="#2a6db5" stroke="#173f6e" stroke-width="0.3"/>
<circle cx="68.93" cy="922.95" r="1.7" fill="#2a6db5" stroke="#173f6e" stroke-width="0.3"/>
<circle cx="68.5" cy="922.88" r="1.7" fill="#2a6db5" stroke="#173f6e" stroke-width="0.3"/>
<circle cx="69.43" cy="920.87" r="1.7" fill="#2a6db5" stroke="#173f6e" stroke-width="0.3"/>
<circle cx="65.71" cy="922.41" r="1.7" fill="#2a6db5" stroke="#173f6e" stroke-width="0.3"/>
<circle cx="73.98" cy="907.93" r="1.7" fill="#2a6db5" stroke="#173f6e" stroke-width="0.3"/>
<circle cx="64.97" cy="921.92" r="1.7" fill="#2a6db5" stroke="#173f6e" stroke-width="0.3"/>
<circle cx="72.19" cy="917.98" r="1.7" fill="#2a6db5" stroke="#173f6e" stroke-width="0.3"/>
<circle cx="66.68" cy="921.38" r="1.7" fill="#2a6db5" stroke="#173f6e" stroke-width="0.3"/>
<circle cx="68.25" cy="920.17" r="1.7" fill="#2a6db5" stroke="#173f6e" stroke-width="0.3"/>
<circle cx="61.13" cy="921.41" r="1.7" fill="#2a6db5" stroke="#173f6e" stroke-width="0.3"/>
<circle cx="75.72" cy="905.01" r="1.7" fill="#2a6db5" stroke="#173f6e" stroke-width="0.3"/>
<circle cx="65.86" cy="921.46" r="1.7" fill="#2a6db5" stroke="#173f6e" stroke-width="0.3"/>
<circle cx="77.16" cy="907.38" r="1.7" fill="#2a6db5" stroke="#173f6e" stroke-width="0.3"/>
<circle cx="71.89" cy="922.1" r="1.7" fill="#2a6db5" stroke="#173f6e" stroke-width="0.3"/>
<circle cx="67.77" cy="922.13" r="1.7" fill="#2a6db5" stroke="#173f6e" stroke-width="0.3"/>
<circle cx="77.16" cy="916.45" r="1.7" fill="#2a6db5" stroke="#173f6e" stroke-width="0.3"/>
<circle cx="63.3" cy="922.59" r="1.7" fill="#2a6db5" stroke="#173f6e" stroke-width="0.3"/>
<circle cx="69.24" cy="922.96" r="1.7" fill="#2a6db5" stroke="#173f6e" stroke-width="0.3"/>
<circle cx="65.08" cy="923" r="1.7" fill="#2a6db5" stroke="#173f6e" stroke-width="0.3"/>
<circle cx="74.35" cy="918.85" r="1.7" fill="#2a6db5" stroke="#173f6e" stroke-width="0.3"/>
<circle cx="77.16" cy="908.53" r="1.7" fill="#2a6db5" stroke="#173f6e" stroke-width="0.3"/>
<circle cx="77.16" cy="913.78" r="1.7" fill="#2a6db5" stroke="#173f6e" stroke-width="0.3"/>
<circle cx="65.25" cy="918.96" r="1.7" fill="#2a6db5" stroke="#173f6e" stroke-width="0.3"/>
<circle cx="64.96" cy="919.76" r="1.7" fill="#2a6db5" stroke="#173f6e" stroke-width="0.3"/>
<circle cx="68.93" cy="923" r="1.7" fill="#2a6db5" stroke="#173f6e" stroke-width="0.3"/>
<circle cx="73.01" cy="922.17" r="1.7" fill="#2a6db5" stroke="#173f6e" stroke-width="0.3"/>
<circle cx="65.29" cy="922.17" r="1.7" fill="#2a6db5" stroke="#173f6e" stroke-width="0.3"/>
<circle cx="72.57" cy="920.79" r="1.7" fill="#2a6db5" stroke="#173f6e" stroke-width="0.3"/>
<circle cx="70.21" cy="921.26" r="1.7" fill="#2a6db5" stroke="#173f6e" stroke-width="0.3"/>
<circle cx="67.28" cy="917.42" r="1.7" fill="#2a6db5" stroke="#173f6e" stroke-width="0.3"/>
<circle cx="74.27" cy="920.59" r="1.7" fill="#2a6db5" stroke="#173f6e" stroke-width="0.3"/>
<circle cx="77.16" cy="922.37" r="1.7" fill="#2a6db5" stroke="#173f6e" stroke-width="0.3"/>
<circle cx="66.38" cy="920.65" r="1.7" fill="#2a6db5" stroke="#173f6e" stroke-width="0.3"/>
<circle cx="68.31" cy="922.96" r="1.7" fill="#2a6db5" stroke="#173f6e" stroke-width="0.3"/>
<circle cx="62.89" cy="920.59" r="1.7" fill="#2a6db5" stroke="#173f6e" stroke-width="0.3"/>
<circle cx="68.29" cy="915.11" r="1.7" fill="#2a6db5" stroke="#173f6e" stroke-width="0.3"/>
<circle cx="72.05" cy="922.61" r="1.7" fill="#2a6db5" stroke="#173f6e" stroke-width="0.3"/>
<circle cx="60.91" cy="922.24" r="1.7" fill="#2a6db5" stroke="#173f6e" stroke-width="0.3"/>
<circle cx="73.5" cy="880" r="1.7" fill="#2a6db5" stroke="#173f6e" stroke-width="0.3"/>
<circle cx="80.5" cy="882" r="1.7" fill="#2a6db5" stroke="#173f6e" stroke-width="0.3"/>
<circle cx="76" cy="886" r="1.7" fill="#2a6db5" stroke="#173f6e" stroke-width="0.3"/>
<circle cx="72" cy="893" r="1.7" fill="#2a6db5" stroke="#173f6e" stroke-width="0.3"/>
<circle cx="70" cy="896" r="1.7" fill="#2a6db5" stroke="#173f6e" stroke-width="0.3"/>
<circle cx="74" cy="898" r="1.7" fill="#2a6db5" stroke="#173f6e" stroke-width="0.3"/>
<circle cx="69" cy="900" r="1.7" fill="#2a6db5" stroke="#173f6e" stroke-width="0.3"/>
<circle cx="75.5" cy="901.5" r="1.7" fill="#2a6db5" stroke="#173f6e" stroke-width="0.3"/>
<circle cx="72" cy="905" r="1.7" fill="#2a6db5" stroke="#173f6e" stroke-width="0.3"/>
<circle cx="79" cy="905.5" r="1.7" fill="#2a6db5" stroke="#173f6e" stroke-width="0.3"/>
<circle cx="85.5" cy="901" r="1.7" fill="#2a6db5" stroke="#173f6e" stroke-width="0.3"/>
<circle cx="93" cy="902" r="1.7" fill="#2a6db5" stroke="#173f6e" stroke-width="0.3"/>
<circle cx="97" cy="907.5" r="1.7" fill="#2a6db5" stroke="#173f6e" stroke-width="0.3"/>
<circle cx="115.5" cy="905" r="1.7" fill="#2a6db5" stroke="#173f6e" stroke-width="0.3"/>
<circle cx="123.5" cy="909" r="1.7" fill="#2a6db5" stroke="#173f6e" stroke-width="0.3"/>
<circle cx="106.5" cy="913" r="1.7" fill="#2a6db5" stroke="#173f6e" stroke-width="0.3"/>
<circle cx="102" cy="915.5" r="1.7" fill="#2a6db5" stroke="#173f6e" stroke-width="0.3"/>
<circle cx="99.5" cy="917" r="1.7" fill="#2a6db5" stroke="#173f6e" stroke-width="0.3"/>
<circle cx="96" cy="917" r="1.7" fill="#2a6db5" stroke="#173f6e" stroke-width="0.3"/>
<circle cx="83" cy="916" r="1.7" fill="#2a6db5" stroke="#173f6e" stroke-width="0.3"/>
<circle cx="84.5" cy="921" r="1.7" fill="#2a6db5" stroke="#173f6e" stroke-width="0.3"/>
<circle cx="91" cy="921.5" r="1.7" fill="#2a6db5" stroke="#173f6e" stroke-width="0.3"/>
<circle cx="78" cy="912" r="1.7" fill="#2a6db5" stroke="#173f6e" stroke-width="0.3"/>
<circle cx="76" cy="915" r="1.7" fill="#2a6db5" stroke="#173f6e" stroke-width="0.3"/>
<circle cx="73" cy="917" r="1.7" fill="#2a6db5" stroke="#173f6e" stroke-width="0.3"/>
<circle cx="70.5" cy="913" r="1.7" fill="#2a6db5" stroke="#173f6e" stroke-width="0.3"/>
<circle cx="67.5" cy="915.5" r="1.7" fill="#2a6db5" stroke="#173f6e" stroke-width="0.3"/>
<circle cx="71" cy="903" r="1.7" fill="#2a6db5" stroke="#173f6e" stroke-width="0.3"/>
<circle cx="68" cy="898.5" r="1.7" fill="#2a6db5" stroke="#173f6e" stroke-width="0.3"/>
<circle cx="81" cy="910" r="1.7" fill="#2a6db5" stroke="#173f6e" stroke-width="0.3"/>
<circle cx="81.5" cy="875" r="1.7" fill="#2a6db5" stroke="#173f6e" stroke-width="0.3"/>
<circle cx="83" cy="871.5" r="1.7" fill="#2a6db5" stroke="#173f6e" stroke-width="0.3"/>
<circle cx="85.5" cy="869.5" r="1.7" fill="#2a6db5" stroke="#173f6e" stroke-width="0.3"/>
<circle cx="88" cy="868" r="1.7" fill="#2a6db5" stroke="#173f6e" stroke-width="0.3"/>
<circle cx="89.5" cy="866.5" r="1.7" fill="#2a6db5" stroke="#173f6e" stroke-width="0.3"/>
<circle cx="87" cy="869" r="1.7" fill="#2a6db5" stroke="#173f6e" stroke-width="0.3"/>
<circle cx="95" cy="865" r="1.7" fill="#2a6db5" stroke="#173f6e" stroke-width="0.3"/>
<circle cx="105.5" cy="868" r="1.7" fill="#2a6db5" stroke="#173f6e" stroke-width="0.3"/>
<circle cx="115" cy="872" r="1.7" fill="#2a6db5" stroke="#173f6e" stroke-width="0.3"/>
<circle cx="62.34" cy="921.31" r="1.3" fill="#14305a" stroke="#0a1426" stroke-width="0.3"/>
<circle cx="68.09" cy="921.11" r="1.3" fill="#14305a" stroke="#0a1426" stroke-width="0.3"/>
<circle cx="66.31" cy="922.55" r="1.3" fill="#14305a" stroke="#0a1426" stroke-width="0.3"/>
<circle cx="59.28" cy="922.05" r="1.3" fill="#14305a" stroke="#0a1426" stroke-width="0.3"/>
<circle cx="61.89" cy="922.57" r="1.3" fill="#14305a" stroke="#0a1426" stroke-width="0.3"/>
<circle cx="67.69" cy="922.52" r="1.3" fill="#14305a" stroke="#0a1426" stroke-width="0.3"/>
<circle cx="67.18" cy="920.94" r="1.3" fill="#14305a" stroke="#0a1426" stroke-width="0.3"/>
<circle cx="59.9" cy="920.99" r="1.3" fill="#14305a" stroke="#0a1426" stroke-width="0.3"/>
<circle cx="62.77" cy="922.53" r="1.3" fill="#14305a" stroke="#0a1426" stroke-width="0.3"/>
<circle cx="60.59" cy="922.92" r="1.3" fill="#14305a" stroke="#0a1426" stroke-width="0.3"/>
<circle cx="63.83" cy="922.15" r="1.3" fill="#14305a" stroke="#0a1426" stroke-width="0.3"/>
<circle cx="67.48" cy="921.17" r="1.3" fill="#14305a" stroke="#0a1426" stroke-width="0.3"/>
<circle cx="59.25" cy="922.12" r="1.3" fill="#14305a" stroke="#0a1426" stroke-width="0.3"/>
<circle cx="62.69" cy="922.61" r="1.3" fill="#14305a" stroke="#0a1426" stroke-width="0.3"/>
<text x="62" y="859.6" font-size="7.3" fill="#231f20" font-style="italic">Fra1</text>
<text x="92" y="859.6" font-size="7.3" fill="#231f20" font-style="italic">Fra2</text>
<text x="62" y="869.6" font-size="7.3" fill="#231f20" font-style="italic">Fos</text>
<text x="113" y="866.6" font-size="7.3" fill="#231f20" font-style="italic">Fra2</text>
<text x="55" y="879.6" font-size="7.3" fill="#231f20" font-style="italic">AP-1</text>
<text x="83" y="889.8" font-size="7.3" fill="#231f20" font-style="italic">Atf3</text>
<text x="105" y="888.8" font-size="7.3" fill="#231f20" font-style="italic">JunB</text>
<text x="121" y="879.6" font-size="7.3" fill="#231f20" font-style="italic">Jun</text>
<circle cx="166.6" cy="865.5" r="3.4" fill="#8b1c62" stroke="#4f0f38" stroke-width="0.4"/>
<text x="174.5" y="868.1" font-size="7.55" fill="#231f20">Parent + Abema</text>
<text x="174.5" y="877.6" font-size="7.55" fill="#231f20">vs. control</text>
<circle cx="166.6" cy="890" r="3.4" fill="#2b9fd6" stroke="#155f86" stroke-width="0.4"/>
<text x="174.5" y="892.6" font-size="7.55" fill="#231f20">Abema/Fulv-Res+</text>
<text x="174.5" y="902.1" font-size="7.55" fill="#231f20">INX-315 vs. control</text>
<circle cx="166.6" cy="916" r="3.4" fill="#2a6db5" stroke="#173f6e" stroke-width="0.4"/>
<text x="174.5" y="918.6" font-size="7.55" fill="#231f20">Abema-Res+</text>
<text x="174.5" y="928.1" font-size="7.55" fill="#231f20">INX-315 vs. control</text>
<text x="282" y="751.5" font-size="10" fill="#000" font-weight="bold">G</text>
<rect x="323.2" y="753" width="57.32" height="27.6" fill="#fff" stroke="#808285" stroke-width="0.7"/>
<rect x="324.88" y="764" width="6.2" height="15" fill="#808285"/>
<rect x="334.43" y="764" width="6.2" height="15" fill="#808285"/>
<rect x="343.98" y="764" width="6.2" height="15" fill="#808285"/>
<rect x="353.54" y="756.5" width="6.2" height="7.5" fill="#808285"/>
<rect x="363.09" y="756.5" width="6.2" height="7.5" fill="#808285"/>
<rect x="372.64" y="756.5" width="6.2" height="7.5" fill="#808285"/>
<line x1="323.2" y1="764" x2="380.52" y2="764" stroke="#231f20" stroke-width="0.6" stroke-dasharray="1.6 1.2"/>
<rect x="380.52" y="753" width="47.76" height="27.6" fill="#fff" stroke="#808285" stroke-width="0.7"/>
<rect x="382.19" y="764" width="6.2" height="4.5" fill="#808285"/>
<rect x="391.75" y="764" width="6.2" height="5.25" fill="#808285"/>
<rect x="401.3" y="755.3" width="6.2" height="8.7" fill="#808285"/>
<rect x="410.85" y="753.8" width="6.2" height="10.2" fill="#808285"/>
<rect x="420.41" y="754.7" width="6.2" height="9.3" fill="#808285"/>
<line x1="380.52" y1="764" x2="428.28" y2="764" stroke="#231f20" stroke-width="0.6" stroke-dasharray="1.6 1.2"/>
<rect x="428.28" y="753" width="57.32" height="27.6" fill="#fff" stroke="#808285" stroke-width="0.7"/>
<rect x="429.96" y="764" width="6.2" height="5.25" fill="#808285"/>
<rect x="439.51" y="764" width="6.2" height="5.25" fill="#808285"/>
<rect x="449.06" y="764" width="6.2" height="7.5" fill="#808285"/>
<rect x="458.62" y="755.75" width="6.2" height="8.25" fill="#808285"/>
<rect x="468.17" y="754.7" width="6.2" height="9.3" fill="#808285"/>
<rect x="477.72" y="754.7" width="6.2" height="9.3" fill="#808285"/>
<line x1="428.28" y1="764" x2="485.6" y2="764" stroke="#231f20" stroke-width="0.6" stroke-dasharray="1.6 1.2"/>
<rect x="323.2" y="781" width="28.66" height="6" fill="#a7a9ac"/>
<rect x="351.86" y="781" width="28.66" height="6" fill="#1b75bc"/>
<rect x="381.12" y="781" width="18.51" height="6" fill="#a7a9ac"/>
<rect x="399.62" y="781" width="28.36" height="6" fill="#fcbe3b"/>
<rect x="428.88" y="781" width="28.06" height="6" fill="#a7a9ac"/>
<rect x="456.94" y="781" width="28.66" height="6" fill="#fcbe3b"/>
<text x="301" y="767" font-size="7.5" fill="#231f20" text-anchor="middle" transform="rotate(-90 301 767)">Mean</text>
<text x="320.6" y="760.2" font-size="7.2" fill="#231f20" text-anchor="end">0.5</text>
<text x="320.6" y="766.6" font-size="7.2" fill="#231f20" text-anchor="end">0.0</text>
<text x="320.6" y="772.9" font-size="7.2" fill="#231f20" text-anchor="end">−0.5</text>
<text x="320.6" y="779.2" font-size="7.2" fill="#231f20" text-anchor="end">−1.0</text>
<text x="282" y="807.5" font-size="7.5" fill="#231f20">Z-score</text>
<text x="351" y="809.5" font-size="7.5" fill="#231f20" text-anchor="middle">Parent</text>
<text x="404" y="801" font-size="7.5" fill="#231f20" text-anchor="middle">Abema-</text>
<text x="404" y="810" font-size="7.5" fill="#231f20" text-anchor="middle">resistant</text>
<text x="457" y="801" font-size="7.5" fill="#231f20" text-anchor="middle">Abema/Fulv-</text>
<text x="457" y="810" font-size="7.5" fill="#231f20" text-anchor="middle">resistant</text>
<path d="M323.1 842.74h9.65v1.92h-9.65zM342.3 842.74h9.65v1.92h-9.65z" fill="#0b172b"/>
<path d="M323.1 840.91h9.65v1.92h-9.65zM342.3 848.25h9.65v1.92h-9.65z" fill="#0d203c"/>
<path d="M332.7 842.74h9.65v1.92h-9.65zM323.1 846.41h9.65v1.92h-9.65zM323.1 848.25h9.65v1.92h-9.65zM332.7 848.25h9.65v1.92h-9.65z" fill="#10294e"/>
<path d="M342.3 831.72h9.65v1.92h-9.65zM342.3 840.91h9.65v1.92h-9.65zM342.3 846.41h9.65v1.92h-9.65zM332.7 853.76h9.65v1.92h-9.65zM342.3 853.76h9.65v1.92h-9.65z" fill="#12325f"/>
<path d="M342.3 828.05h9.65v1.92h-9.65zM323.1 831.72h9.65v1.92h-9.65zM332.7 840.91h9.65v1.92h-9.65zM323.1 844.58h9.65v1.92h-9.65zM332.7 844.58h9.65v1.92h-9.65zM342.3 844.58h9.65v1.92h-9.65zM332.7 846.41h9.65v1.92h-9.65zM342.3 851.92h9.65v1.92h-9.65zM447.3 877.63h9.65v1.92h-9.65z" fill="#143c70"/>
<path d="M332.7 824.38h9.65v1.92h-9.65zM332.7 831.72h9.65v1.92h-9.65zM323.1 839.07h9.65v1.92h-9.65zM342.3 839.07h9.65v1.92h-9.65zM323.1 850.09h9.65v1.92h-9.65zM323.1 853.76h9.65v1.92h-9.65zM428.2 861.11h9.65v1.92h-9.65zM428.2 868.45h9.65v1.92h-9.65zM342.3 870.29h9.65v1.92h-9.65z" fill="#164682"/>
<path d="M323.1 817.03h9.65v1.92h-9.65zM332.7 826.21h9.65v1.92h-9.65zM323.1 828.05h9.65v1.92h-9.65zM323.1 829.89h9.65v1.92h-9.65zM342.3 833.56h9.65v1.92h-9.65zM332.7 837.23h9.65v1.92h-9.65zM323.1 851.92h9.65v1.92h-9.65zM332.7 851.92h9.65v1.92h-9.65zM447.3 859.27h9.65v1.92h-9.65zM323.1 873.96h9.65v1.92h-9.65zM437.8 877.63h9.65v1.92h-9.65zM437.8 879.47h9.65v1.92h-9.65z" fill="#174f93"/>
<path d="M380.5 822.54h9.65v1.92h-9.65zM323.1 824.38h9.65v1.92h-9.65zM332.7 828.05h9.65v1.92h-9.65zM342.3 829.89h9.65v1.92h-9.65zM332.7 835.40h9.65v1.92h-9.65zM332.7 839.07h9.65v1.92h-9.65zM428.2 859.27h9.65v1.92h-9.65zM437.8 859.27h9.65v1.92h-9.65zM428.2 864.78h9.65v1.92h-9.65zM437.8 864.78h9.65v1.92h-9.65zM447.3 864.78h9.65v1.92h-9.65zM447.3 873.96h9.65v1.92h-9.65zM428.2 877.63h9.65v1.92h-9.65zM428.2 879.47h9.65v1.92h-9.65zM447.3 879.47h9.65v1.92h-9.65zM332.7 888.65h9.65v1.92h-9.65zM323.1 890.49h9.65v1.92h-9.65zM332.7 890.49h9.65v1.92h-9.65zM332.7 892.32h9.65v1.92h-9.65zM437.8 892.32h9.65v1.92h-9.65zM447.3 892.32h9.65v1.92h-9.65z" fill="#1959a4"/>
<path d="M323.1 826.21h9.65v1.92h-9.65zM332.7 829.89h9.65v1.92h-9.65zM332.7 833.56h9.65v1.92h-9.65zM342.3 837.23h9.65v1.92h-9.65zM342.3 850.09h9.65v1.92h-9.65zM323.1 855.60h9.65v1.92h-9.65zM332.7 855.60h9.65v1.92h-9.65zM342.3 855.60h9.65v1.92h-9.65zM437.8 862.94h9.65v1.92h-9.65zM428.2 866.61h9.65v1.92h-9.65zM437.8 868.45h9.65v1.92h-9.65zM447.3 868.45h9.65v1.92h-9.65zM332.7 872.12h9.65v1.92h-9.65zM342.3 873.96h9.65v1.92h-9.65zM428.2 873.96h9.65v1.92h-9.65zM437.8 873.96h9.65v1.92h-9.65zM428.2 875.80h9.65v1.92h-9.65zM342.3 877.63h9.65v1.92h-9.65zM447.3 881.31h9.65v1.92h-9.65zM332.7 883.14h9.65v1.92h-9.65zM323.1 888.65h9.65v1.92h-9.65z" fill="#1d63b1"/>
<path d="M332.7 817.03h9.65v1.92h-9.65zM342.3 817.03h9.65v1.92h-9.65zM380.5 820.71h9.65v1.92h-9.65zM342.3 826.21h9.65v1.92h-9.65zM323.1 833.56h9.65v1.92h-9.65zM323.1 835.40h9.65v1.92h-9.65zM342.3 835.40h9.65v1.92h-9.65zM323.1 837.23h9.65v1.92h-9.65zM390.0 837.23h9.65v1.92h-9.65zM332.7 850.09h9.65v1.92h-9.65zM447.3 861.11h9.65v1.92h-9.65zM428.2 862.94h9.65v1.92h-9.65zM447.3 862.94h9.65v1.92h-9.65zM332.7 870.29h9.65v1.92h-9.65zM323.1 872.12h9.65v1.92h-9.65zM342.3 872.12h9.65v1.92h-9.65zM437.8 872.12h9.65v1.92h-9.65zM447.3 872.12h9.65v1.92h-9.65zM332.7 873.96h9.65v1.92h-9.65zM332.7 875.80h9.65v1.92h-9.65zM342.3 875.80h9.65v1.92h-9.65zM447.3 875.80h9.65v1.92h-9.65zM428.2 884.98h9.65v1.92h-9.65zM437.8 888.65h9.65v1.92h-9.65zM323.1 892.32h9.65v1.92h-9.65z" fill="#236cb8"/>
<path d="M332.7 813.36h9.65v1.92h-9.65zM342.3 813.36h9.65v1.92h-9.65zM323.1 815.20h9.65v1.92h-9.65zM332.7 815.20h9.65v1.92h-9.65zM323.1 818.87h9.65v1.92h-9.65zM323.1 820.71h9.65v1.92h-9.65zM332.7 820.71h9.65v1.92h-9.65zM390.0 822.54h9.65v1.92h-9.65zM342.3 824.38h9.65v1.92h-9.65zM428.2 829.89h9.65v1.92h-9.65zM390.0 833.56h9.65v1.92h-9.65zM428.2 857.43h9.65v1.92h-9.65zM437.8 866.61h9.65v1.92h-9.65zM447.3 866.61h9.65v1.92h-9.65zM323.1 870.29h9.65v1.92h-9.65zM428.2 872.12h9.65v1.92h-9.65zM390.0 875.80h9.65v1.92h-9.65zM323.1 877.63h9.65v1.92h-9.65zM428.2 881.31h9.65v1.92h-9.65zM323.1 883.14h9.65v1.92h-9.65zM332.7 886.81h9.65v1.92h-9.65zM342.3 886.81h9.65v1.92h-9.65zM342.3 888.65h9.65v1.92h-9.65zM342.3 890.49h9.65v1.92h-9.65zM342.3 892.32h9.65v1.92h-9.65zM428.2 892.32h9.65v1.92h-9.65z" fill="#2975be"/>
<path d="M342.3 820.71h9.65v1.92h-9.65zM390.0 820.71h9.65v1.92h-9.65zM323.1 822.54h9.65v1.92h-9.65zM390.0 829.89h9.65v1.92h-9.65zM380.5 831.72h9.65v1.92h-9.65zM390.0 831.72h9.65v1.92h-9.65zM437.8 857.43h9.65v1.92h-9.65zM447.3 857.43h9.65v1.92h-9.65zM323.1 859.27h9.65v1.92h-9.65zM332.7 859.27h9.65v1.92h-9.65zM437.8 861.11h9.65v1.92h-9.65zM447.3 870.29h9.65v1.92h-9.65zM437.8 875.80h9.65v1.92h-9.65zM332.7 877.63h9.65v1.92h-9.65zM380.5 877.63h9.65v1.92h-9.65zM323.1 881.31h9.65v1.92h-9.65zM342.3 883.14h9.65v1.92h-9.65zM437.8 883.14h9.65v1.92h-9.65zM323.1 886.81h9.65v1.92h-9.65zM447.3 888.65h9.65v1.92h-9.65z" fill="#3380c6"/>
<path d="M342.3 815.20h9.65v1.92h-9.65zM437.8 817.03h9.65v1.92h-9.65zM332.7 818.87h9.65v1.92h-9.65zM447.3 822.54h9.65v1.92h-9.65zM380.5 833.56h9.65v1.92h-9.65zM380.5 837.23h9.65v1.92h-9.65zM380.5 839.07h9.65v1.92h-9.65zM390.0 842.74h9.65v1.92h-9.65zM380.5 873.96h9.65v1.92h-9.65zM390.0 873.96h9.65v1.92h-9.65zM380.5 875.80h9.65v1.92h-9.65zM390.0 877.63h9.65v1.92h-9.65zM332.7 879.47h9.65v1.92h-9.65zM437.8 881.31h9.65v1.92h-9.65zM342.3 884.98h9.65v1.92h-9.65zM428.2 886.81h9.65v1.92h-9.65zM447.3 886.81h9.65v1.92h-9.65zM428.2 888.65h9.65v1.92h-9.65zM428.2 890.49h9.65v1.92h-9.65zM437.8 890.49h9.65v1.92h-9.65zM447.3 890.49h9.65v1.92h-9.65z" fill="#4f91d1"/>
<path d="M323.1 813.36h9.65v1.92h-9.65zM342.3 818.87h9.65v1.92h-9.65zM428.2 818.87h9.65v1.92h-9.65zM447.3 818.87h9.65v1.92h-9.65zM332.7 822.54h9.65v1.92h-9.65zM380.5 824.38h9.65v1.92h-9.65zM380.5 826.21h9.65v1.92h-9.65zM447.3 829.89h9.65v1.92h-9.65zM380.5 835.40h9.65v1.92h-9.65zM437.8 835.40h9.65v1.92h-9.65zM380.5 846.41h9.65v1.92h-9.65zM380.5 855.60h9.65v1.92h-9.65zM332.7 857.43h9.65v1.92h-9.65zM323.1 861.11h9.65v1.92h-9.65zM342.3 861.11h9.65v1.92h-9.65zM428.2 870.29h9.65v1.92h-9.65zM437.8 870.29h9.65v1.92h-9.65zM323.1 875.80h9.65v1.92h-9.65zM323.1 879.47h9.65v1.92h-9.65zM342.3 879.47h9.65v1.92h-9.65zM342.3 881.31h9.65v1.92h-9.65zM428.2 883.14h9.65v1.92h-9.65zM447.3 883.14h9.65v1.92h-9.65zM332.7 884.98h9.65v1.92h-9.65zM437.8 884.98h9.65v1.92h-9.65zM437.8 886.81h9.65v1.92h-9.65z" fill="#6aa3dc"/>
<path d="M390.0 817.03h9.65v1.92h-9.65zM437.8 822.54h9.65v1.92h-9.65zM428.2 824.38h9.65v1.92h-9.65zM390.0 826.21h9.65v1.92h-9.65zM447.3 826.21h9.65v1.92h-9.65zM380.5 829.89h9.65v1.92h-9.65zM437.8 829.89h9.65v1.92h-9.65zM437.8 833.56h9.65v1.92h-9.65zM447.3 835.40h9.65v1.92h-9.65zM390.0 839.07h9.65v1.92h-9.65zM447.3 839.07h9.65v1.92h-9.65zM380.5 844.58h9.65v1.92h-9.65zM342.3 857.43h9.65v1.92h-9.65zM342.3 859.27h9.65v1.92h-9.65zM332.7 861.11h9.65v1.92h-9.65zM332.7 881.31h9.65v1.92h-9.65zM323.1 884.98h9.65v1.92h-9.65zM447.3 884.98h9.65v1.92h-9.65z" fill="#8ab8e6"/>
<path d="M380.5 813.36h9.65v1.92h-9.65zM428.2 813.36h9.65v1.92h-9.65zM447.3 817.03h9.65v1.92h-9.65zM342.3 822.54h9.65v1.92h-9.65zM428.2 822.54h9.65v1.92h-9.65zM390.0 824.38h9.65v1.92h-9.65zM437.8 824.38h9.65v1.92h-9.65zM428.2 826.21h9.65v1.92h-9.65zM437.8 826.21h9.65v1.92h-9.65zM380.5 828.05h9.65v1.92h-9.65zM390.0 828.05h9.65v1.92h-9.65zM428.2 831.72h9.65v1.92h-9.65zM447.3 831.72h9.65v1.92h-9.65zM428.2 835.40h9.65v1.92h-9.65zM447.3 837.23h9.65v1.92h-9.65zM437.8 839.07h9.65v1.92h-9.65zM380.5 840.91h9.65v1.92h-9.65zM380.5 850.09h9.65v1.92h-9.65zM390.0 855.60h9.65v1.92h-9.65zM323.1 866.61h9.65v1.92h-9.65zM332.7 866.61h9.65v1.92h-9.65zM332.7 868.45h9.65v1.92h-9.65zM456.9 868.45h9.65v1.92h-9.65zM390.0 872.12h9.65v1.92h-9.65zM380.5 879.47h9.65v1.92h-9.65zM380.5 881.31h9.65v1.92h-9.65zM380.5 883.14h9.65v1.92h-9.65zM380.5 886.81h9.65v1.92h-9.65zM380.5 890.49h9.65v1.92h-9.65zM390.0 890.49h9.65v1.92h-9.65z" fill="#b3d0ef"/>
<path d="M390.0 813.36h9.65v1.92h-9.65zM437.8 813.36h9.65v1.92h-9.65zM428.2 815.20h9.65v1.92h-9.65zM447.3 815.20h9.65v1.92h-9.65zM380.5 817.03h9.65v1.92h-9.65zM428.2 817.03h9.65v1.92h-9.65zM447.3 824.38h9.65v1.92h-9.65zM447.3 828.05h9.65v1.92h-9.65zM351.8 831.72h9.65v1.92h-9.65zM437.8 831.72h9.65v1.92h-9.65zM447.3 833.56h9.65v1.92h-9.65zM390.0 835.40h9.65v1.92h-9.65zM428.2 839.07h9.65v1.92h-9.65zM380.5 842.74h9.65v1.92h-9.65zM390.0 846.41h9.65v1.92h-9.65zM380.5 848.25h9.65v1.92h-9.65zM390.0 850.09h9.65v1.92h-9.65zM390.0 853.76h9.65v1.92h-9.65zM466.4 857.43h9.65v1.92h-9.65zM380.5 861.11h9.65v1.92h-9.65zM342.3 866.61h9.65v1.92h-9.65zM390.0 868.45h9.65v1.92h-9.65zM466.4 868.45h9.65v1.92h-9.65zM390.0 883.14h9.65v1.92h-9.65zM390.0 886.81h9.65v1.92h-9.65z" fill="#dce9f8"/>
<path d="M437.8 815.20h9.65v1.92h-9.65zM428.2 820.71h9.65v1.92h-9.65zM437.8 820.71h9.65v1.92h-9.65zM437.8 828.05h9.65v1.92h-9.65zM351.8 833.56h9.65v1.92h-9.65zM370.9 833.56h9.65v1.92h-9.65zM428.2 833.56h9.65v1.92h-9.65zM437.8 837.23h9.65v1.92h-9.65zM390.0 844.58h9.65v1.92h-9.65zM370.9 848.25h9.65v1.92h-9.65zM390.0 851.92h9.65v1.92h-9.65zM380.5 853.76h9.65v1.92h-9.65zM323.1 857.43h9.65v1.92h-9.65zM390.0 861.11h9.65v1.92h-9.65zM456.9 864.78h9.65v1.92h-9.65zM466.4 864.78h9.65v1.92h-9.65zM380.5 870.29h9.65v1.92h-9.65zM390.0 870.29h9.65v1.92h-9.65zM380.5 872.12h9.65v1.92h-9.65zM390.0 879.47h9.65v1.92h-9.65zM466.4 883.14h9.65v1.92h-9.65zM476.0 883.14h9.65v1.92h-9.65z" fill="#eef4fc"/>
<path d="M447.3 813.36h9.65v1.92h-9.65zM380.5 815.20h9.65v1.92h-9.65zM380.5 818.87h9.65v1.92h-9.65zM437.8 818.87h9.65v1.92h-9.65zM428.2 828.05h9.65v1.92h-9.65zM361.4 831.72h9.65v1.92h-9.65zM370.9 837.23h9.65v1.92h-9.65zM361.4 839.07h9.65v1.92h-9.65zM390.0 840.91h9.65v1.92h-9.65zM351.8 848.25h9.65v1.92h-9.65zM390.0 848.25h9.65v1.92h-9.65zM456.9 859.27h9.65v1.92h-9.65zM409.1 861.11h9.65v1.92h-9.65zM390.0 862.94h9.65v1.92h-9.65zM466.4 862.94h9.65v1.92h-9.65zM390.0 864.78h9.65v1.92h-9.65zM476.0 864.78h9.65v1.92h-9.65zM323.1 868.45h9.65v1.92h-9.65zM390.0 881.31h9.65v1.92h-9.65zM380.5 884.98h9.65v1.92h-9.65zM390.0 884.98h9.65v1.92h-9.65z" fill="#ffffff"/>
<path d="M390.0 818.87h9.65v1.92h-9.65zM447.3 820.71h9.65v1.92h-9.65zM361.4 826.21h9.65v1.92h-9.65zM418.7 831.72h9.65v1.92h-9.65zM351.8 837.23h9.65v1.92h-9.65zM428.2 837.23h9.65v1.92h-9.65zM361.4 846.41h9.65v1.92h-9.65zM361.4 848.25h9.65v1.92h-9.65zM380.5 851.92h9.65v1.92h-9.65zM456.9 857.43h9.65v1.92h-9.65zM466.4 859.27h9.65v1.92h-9.65zM323.1 862.94h9.65v1.92h-9.65zM332.7 862.94h9.65v1.92h-9.65zM380.5 862.94h9.65v1.92h-9.65zM380.5 864.78h9.65v1.92h-9.65zM456.9 866.61h9.65v1.92h-9.65zM476.0 866.61h9.65v1.92h-9.65zM342.3 868.45h9.65v1.92h-9.65zM466.4 870.29h9.65v1.92h-9.65zM466.4 875.80h9.65v1.92h-9.65zM456.9 883.14h9.65v1.92h-9.65zM456.9 890.49h9.65v1.92h-9.65z" fill="#fef3e4"/>
<path d="M390.0 815.20h9.65v1.92h-9.65zM361.4 822.54h9.65v1.92h-9.65zM361.4 828.05h9.65v1.92h-9.65zM399.6 831.72h9.65v1.92h-9.65zM409.1 831.72h9.65v1.92h-9.65zM361.4 833.56h9.65v1.92h-9.65zM361.4 837.23h9.65v1.92h-9.65zM351.8 839.07h9.65v1.92h-9.65zM370.9 840.91h9.65v1.92h-9.65zM437.8 846.41h9.65v1.92h-9.65zM447.3 846.41h9.65v1.92h-9.65zM409.1 848.25h9.65v1.92h-9.65zM418.7 848.25h9.65v1.92h-9.65zM476.0 857.43h9.65v1.92h-9.65zM476.0 859.27h9.65v1.92h-9.65zM399.6 861.11h9.65v1.92h-9.65zM418.7 861.11h9.65v1.92h-9.65zM456.9 861.11h9.65v1.92h-9.65zM466.4 861.11h9.65v1.92h-9.65zM456.9 862.94h9.65v1.92h-9.65zM323.1 864.78h9.65v1.92h-9.65zM380.5 868.45h9.65v1.92h-9.65zM456.9 870.29h9.65v1.92h-9.65zM476.0 870.29h9.65v1.92h-9.65zM456.9 873.96h9.65v1.92h-9.65zM456.9 875.80h9.65v1.92h-9.65zM361.4 877.63h9.65v1.92h-9.65zM466.4 881.31h9.65v1.92h-9.65zM390.0 888.65h9.65v1.92h-9.65z" fill="#fde8c8"/>
<path d="M476.0 818.87h9.65v1.92h-9.65zM351.8 826.21h9.65v1.92h-9.65zM370.9 828.05h9.65v1.92h-9.65zM370.9 831.72h9.65v1.92h-9.65zM370.9 835.40h9.65v1.92h-9.65zM370.9 839.07h9.65v1.92h-9.65zM361.4 840.91h9.65v1.92h-9.65zM418.7 840.91h9.65v1.92h-9.65zM399.6 842.74h9.65v1.92h-9.65zM409.1 842.74h9.65v1.92h-9.65zM437.8 842.74h9.65v1.92h-9.65zM351.8 846.41h9.65v1.92h-9.65zM370.9 846.41h9.65v1.92h-9.65zM428.2 846.41h9.65v1.92h-9.65zM447.3 853.76h9.65v1.92h-9.65zM476.0 861.11h9.65v1.92h-9.65zM342.3 862.94h9.65v1.92h-9.65zM476.0 862.94h9.65v1.92h-9.65zM332.7 864.78h9.65v1.92h-9.65zM342.3 864.78h9.65v1.92h-9.65zM409.1 864.78h9.65v1.92h-9.65zM380.5 866.61h9.65v1.92h-9.65zM390.0 866.61h9.65v1.92h-9.65zM466.4 866.61h9.65v1.92h-9.65zM476.0 868.45h9.65v1.92h-9.65zM370.9 873.96h9.65v1.92h-9.65zM466.4 873.96h9.65v1.92h-9.65zM370.9 877.63h9.65v1.92h-9.65zM466.4 877.63h9.65v1.92h-9.65zM476.0 879.47h9.65v1.92h-9.65zM456.9 881.31h9.65v1.92h-9.65zM466.4 890.49h9.65v1.92h-9.65z" fill="#fddaa9"/>
<path d="M370.9 813.36h9.65v1.92h-9.65zM351.8 817.03h9.65v1.92h-9.65zM370.9 817.03h9.65v1.92h-9.65zM351.8 818.87h9.65v1.92h-9.65zM466.4 820.71h9.65v1.92h-9.65zM370.9 826.21h9.65v1.92h-9.65zM476.0 829.89h9.65v1.92h-9.65zM351.8 840.91h9.65v1.92h-9.65zM399.6 840.91h9.65v1.92h-9.65zM409.1 840.91h9.65v1.92h-9.65zM447.3 840.91h9.65v1.92h-9.65zM399.6 846.41h9.65v1.92h-9.65zM361.4 851.92h9.65v1.92h-9.65zM399.6 851.92h9.65v1.92h-9.65zM428.2 851.92h9.65v1.92h-9.65zM437.8 851.92h9.65v1.92h-9.65zM428.2 853.76h9.65v1.92h-9.65zM437.8 853.76h9.65v1.92h-9.65zM447.3 855.60h9.65v1.92h-9.65zM390.0 857.43h9.65v1.92h-9.65zM418.7 857.43h9.65v1.92h-9.65zM380.5 859.27h9.65v1.92h-9.65zM399.6 866.61h9.65v1.92h-9.65zM409.1 866.61h9.65v1.92h-9.65zM418.7 866.61h9.65v1.92h-9.65zM351.8 873.96h9.65v1.92h-9.65zM361.4 873.96h9.65v1.92h-9.65zM476.0 873.96h9.65v1.92h-9.65zM476.0 875.80h9.65v1.92h-9.65zM351.8 877.63h9.65v1.92h-9.65zM476.0 886.81h9.65v1.92h-9.65zM351.8 890.49h9.65v1.92h-9.65zM476.0 890.49h9.65v1.92h-9.65zM351.8 892.32h9.65v1.92h-9.65z" fill="#fcca88"/>
<path d="M370.9 818.87h9.65v1.92h-9.65zM466.4 818.87h9.65v1.92h-9.65zM351.8 820.71h9.65v1.92h-9.65zM351.8 824.38h9.65v1.92h-9.65zM351.8 828.05h9.65v1.92h-9.65zM370.9 829.89h9.65v1.92h-9.65zM361.4 835.40h9.65v1.92h-9.65zM418.7 842.74h9.65v1.92h-9.65zM428.2 842.74h9.65v1.92h-9.65zM361.4 844.58h9.65v1.92h-9.65zM409.1 846.41h9.65v1.92h-9.65zM399.6 848.25h9.65v1.92h-9.65zM428.2 848.25h9.65v1.92h-9.65zM351.8 850.09h9.65v1.92h-9.65zM370.9 850.09h9.65v1.92h-9.65zM370.9 851.92h9.65v1.92h-9.65zM409.1 851.92h9.65v1.92h-9.65zM380.5 857.43h9.65v1.92h-9.65zM418.7 859.27h9.65v1.92h-9.65zM409.1 862.94h9.65v1.92h-9.65zM399.6 864.78h9.65v1.92h-9.65zM456.9 872.12h9.65v1.92h-9.65zM456.9 877.63h9.65v1.92h-9.65zM351.8 879.47h9.65v1.92h-9.65zM456.9 879.47h9.65v1.92h-9.65zM466.4 879.47h9.65v1.92h-9.65zM476.0 881.31h9.65v1.92h-9.65zM466.4 886.81h9.65v1.92h-9.65zM380.5 888.65h9.65v1.92h-9.65zM466.4 892.32h9.65v1.92h-9.65z" fill="#fbbb67"/>
<path d="M361.4 813.36h9.65v1.92h-9.65zM351.8 815.20h9.65v1.92h-9.65zM361.4 815.20h9.65v1.92h-9.65zM456.9 817.03h9.65v1.92h-9.65zM456.9 818.87h9.65v1.92h-9.65zM370.9 820.71h9.65v1.92h-9.65zM456.9 820.71h9.65v1.92h-9.65zM476.0 820.71h9.65v1.92h-9.65zM351.8 822.54h9.65v1.92h-9.65zM370.9 822.54h9.65v1.92h-9.65zM361.4 824.38h9.65v1.92h-9.65zM370.9 824.38h9.65v1.92h-9.65zM476.0 826.21h9.65v1.92h-9.65zM399.6 828.05h9.65v1.92h-9.65zM476.0 828.05h9.65v1.92h-9.65zM361.4 829.89h9.65v1.92h-9.65zM409.1 829.89h9.65v1.92h-9.65zM456.9 829.89h9.65v1.92h-9.65zM351.8 835.40h9.65v1.92h-9.65zM409.1 835.40h9.65v1.92h-9.65zM418.7 835.40h9.65v1.92h-9.65zM399.6 839.07h9.65v1.92h-9.65zM409.1 839.07h9.65v1.92h-9.65zM418.7 839.07h9.65v1.92h-9.65zM447.3 842.74h9.65v1.92h-9.65zM370.9 844.58h9.65v1.92h-9.65zM428.2 844.58h9.65v1.92h-9.65zM447.3 844.58h9.65v1.92h-9.65zM418.7 846.41h9.65v1.92h-9.65zM437.8 848.25h9.65v1.92h-9.65zM361.4 850.09h9.65v1.92h-9.65zM399.6 850.09h9.65v1.92h-9.65zM351.8 851.92h9.65v1.92h-9.65zM418.7 853.76h9.65v1.92h-9.65zM370.9 855.60h9.65v1.92h-9.65zM428.2 855.60h9.65v1.92h-9.65zM437.8 855.60h9.65v1.92h-9.65zM390.0 859.27h9.65v1.92h-9.65zM399.6 859.27h9.65v1.92h-9.65zM409.1 868.45h9.65v1.92h-9.65zM351.8 872.12h9.65v1.92h-9.65zM466.4 872.12h9.65v1.92h-9.65zM476.0 872.12h9.65v1.92h-9.65zM476.0 877.63h9.65v1.92h-9.65zM370.9 884.98h9.65v1.92h-9.65zM399.6 884.98h9.65v1.92h-9.65zM466.4 884.98h9.65v1.92h-9.65zM476.0 884.98h9.65v1.92h-9.65zM456.9 886.81h9.65v1.92h-9.65zM370.9 888.65h9.65v1.92h-9.65zM361.4 890.49h9.65v1.92h-9.65zM370.9 890.49h9.65v1.92h-9.65zM361.4 892.32h9.65v1.92h-9.65zM370.9 892.32h9.65v1.92h-9.65zM380.5 892.32h9.65v1.92h-9.65zM390.0 892.32h9.65v1.92h-9.65zM476.0 892.32h9.65v1.92h-9.65z" fill="#fab14c"/>
<path d="M466.4 813.36h9.65v1.92h-9.65zM370.9 815.20h9.65v1.92h-9.65zM466.4 817.03h9.65v1.92h-9.65zM399.6 820.71h9.65v1.92h-9.65zM418.7 820.71h9.65v1.92h-9.65zM456.9 826.21h9.65v1.92h-9.65zM466.4 826.21h9.65v1.92h-9.65zM456.9 828.05h9.65v1.92h-9.65zM466.4 828.05h9.65v1.92h-9.65zM351.8 829.89h9.65v1.92h-9.65zM399.6 829.89h9.65v1.92h-9.65zM409.1 833.56h9.65v1.92h-9.65zM418.7 833.56h9.65v1.92h-9.65zM351.8 842.74h9.65v1.92h-9.65zM351.8 844.58h9.65v1.92h-9.65zM418.7 851.92h9.65v1.92h-9.65zM447.3 851.92h9.65v1.92h-9.65zM409.1 855.60h9.65v1.92h-9.65zM399.6 857.43h9.65v1.92h-9.65zM409.1 857.43h9.65v1.92h-9.65zM409.1 859.27h9.65v1.92h-9.65zM361.4 862.94h9.65v1.92h-9.65zM399.6 862.94h9.65v1.92h-9.65zM418.7 864.78h9.65v1.92h-9.65zM399.6 868.45h9.65v1.92h-9.65zM399.6 881.31h9.65v1.92h-9.65zM409.1 881.31h9.65v1.92h-9.65zM418.7 881.31h9.65v1.92h-9.65zM351.8 883.14h9.65v1.92h-9.65zM370.9 883.14h9.65v1.92h-9.65zM456.9 884.98h9.65v1.92h-9.65zM361.4 886.81h9.65v1.92h-9.65zM418.7 886.81h9.65v1.92h-9.65zM456.9 888.65h9.65v1.92h-9.65zM456.9 892.32h9.65v1.92h-9.65z" fill="#faa934"/>
<path d="M351.8 813.36h9.65v1.92h-9.65zM399.6 813.36h9.65v1.92h-9.65zM409.1 815.20h9.65v1.92h-9.65zM418.7 815.20h9.65v1.92h-9.65zM361.4 817.03h9.65v1.92h-9.65zM476.0 817.03h9.65v1.92h-9.65zM361.4 818.87h9.65v1.92h-9.65zM361.4 820.71h9.65v1.92h-9.65zM399.6 822.54h9.65v1.92h-9.65zM409.1 822.54h9.65v1.92h-9.65zM456.9 824.38h9.65v1.92h-9.65zM409.1 826.21h9.65v1.92h-9.65zM418.7 826.21h9.65v1.92h-9.65zM418.7 828.05h9.65v1.92h-9.65zM418.7 829.89h9.65v1.92h-9.65zM466.4 829.89h9.65v1.92h-9.65zM399.6 833.56h9.65v1.92h-9.65zM399.6 835.40h9.65v1.92h-9.65zM456.9 835.40h9.65v1.92h-9.65zM399.6 837.23h9.65v1.92h-9.65zM456.9 839.07h9.65v1.92h-9.65zM437.8 840.91h9.65v1.92h-9.65zM361.4 842.74h9.65v1.92h-9.65zM370.9 842.74h9.65v1.92h-9.65zM409.1 844.58h9.65v1.92h-9.65zM437.8 844.58h9.65v1.92h-9.65zM447.3 848.25h9.65v1.92h-9.65zM409.1 850.09h9.65v1.92h-9.65zM428.2 850.09h9.65v1.92h-9.65zM447.3 850.09h9.65v1.92h-9.65zM399.6 853.76h9.65v1.92h-9.65zM418.7 862.94h9.65v1.92h-9.65zM351.8 870.29h9.65v1.92h-9.65zM409.1 870.29h9.65v1.92h-9.65zM418.7 870.29h9.65v1.92h-9.65zM370.9 875.80h9.65v1.92h-9.65zM399.6 879.47h9.65v1.92h-9.65zM418.7 879.47h9.65v1.92h-9.65zM418.7 884.98h9.65v1.92h-9.65zM409.1 886.81h9.65v1.92h-9.65zM361.4 888.65h9.65v1.92h-9.65zM409.1 890.49h9.65v1.92h-9.65zM418.7 890.49h9.65v1.92h-9.65z" fill="#f9a11b"/>
<path d="M409.1 813.36h9.65v1.92h-9.65zM418.7 813.36h9.65v1.92h-9.65zM456.9 813.36h9.65v1.92h-9.65zM476.0 813.36h9.65v1.92h-9.65zM399.6 815.20h9.65v1.92h-9.65zM476.0 815.20h9.65v1.92h-9.65zM409.1 817.03h9.65v1.92h-9.65zM409.1 820.71h9.65v1.92h-9.65zM418.7 822.54h9.65v1.92h-9.65zM466.4 822.54h9.65v1.92h-9.65zM476.0 822.54h9.65v1.92h-9.65zM418.7 824.38h9.65v1.92h-9.65zM476.0 824.38h9.65v1.92h-9.65zM456.9 831.72h9.65v1.92h-9.65zM418.7 837.23h9.65v1.92h-9.65zM476.0 837.23h9.65v1.92h-9.65zM466.4 839.07h9.65v1.92h-9.65zM428.2 840.91h9.65v1.92h-9.65zM399.6 844.58h9.65v1.92h-9.65zM418.7 844.58h9.65v1.92h-9.65zM418.7 850.09h9.65v1.92h-9.65zM351.8 853.76h9.65v1.92h-9.65zM361.4 853.76h9.65v1.92h-9.65zM409.1 853.76h9.65v1.92h-9.65zM456.9 853.76h9.65v1.92h-9.65zM361.4 855.60h9.65v1.92h-9.65zM399.6 855.60h9.65v1.92h-9.65zM418.7 868.45h9.65v1.92h-9.65zM361.4 870.29h9.65v1.92h-9.65zM370.9 870.29h9.65v1.92h-9.65zM370.9 872.12h9.65v1.92h-9.65zM418.7 873.96h9.65v1.92h-9.65zM351.8 875.80h9.65v1.92h-9.65zM361.4 875.80h9.65v1.92h-9.65zM409.1 875.80h9.65v1.92h-9.65zM370.9 879.47h9.65v1.92h-9.65zM409.1 879.47h9.65v1.92h-9.65zM370.9 881.31h9.65v1.92h-9.65zM361.4 884.98h9.65v1.92h-9.65zM351.8 886.81h9.65v1.92h-9.65zM351.8 888.65h9.65v1.92h-9.65zM399.6 890.49h9.65v1.92h-9.65z" fill="#f7921d"/>
<path d="M418.7 817.03h9.65v1.92h-9.65zM418.7 818.87h9.65v1.92h-9.65zM399.6 824.38h9.65v1.92h-9.65zM409.1 824.38h9.65v1.92h-9.65zM399.6 826.21h9.65v1.92h-9.65zM476.0 831.72h9.65v1.92h-9.65zM466.4 833.56h9.65v1.92h-9.65zM476.0 839.07h9.65v1.92h-9.65zM476.0 840.91h9.65v1.92h-9.65zM476.0 846.41h9.65v1.92h-9.65zM437.8 850.09h9.65v1.92h-9.65zM370.9 853.76h9.65v1.92h-9.65zM351.8 855.60h9.65v1.92h-9.65zM370.9 861.11h9.65v1.92h-9.65zM370.9 862.94h9.65v1.92h-9.65zM370.9 864.78h9.65v1.92h-9.65zM399.6 870.29h9.65v1.92h-9.65zM361.4 872.12h9.65v1.92h-9.65zM399.6 872.12h9.65v1.92h-9.65zM418.7 875.80h9.65v1.92h-9.65zM409.1 877.63h9.65v1.92h-9.65zM361.4 879.47h9.65v1.92h-9.65zM351.8 881.31h9.65v1.92h-9.65zM361.4 881.31h9.65v1.92h-9.65zM409.1 883.14h9.65v1.92h-9.65zM418.7 883.14h9.65v1.92h-9.65zM351.8 884.98h9.65v1.92h-9.65zM409.1 884.98h9.65v1.92h-9.65zM370.9 886.81h9.65v1.92h-9.65zM399.6 888.65h9.65v1.92h-9.65zM409.1 888.65h9.65v1.92h-9.65zM466.4 888.65h9.65v1.92h-9.65zM476.0 888.65h9.65v1.92h-9.65z" fill="#f5841f"/>
<path d="M456.9 815.20h9.65v1.92h-9.65zM399.6 817.03h9.65v1.92h-9.65zM456.9 822.54h9.65v1.92h-9.65zM466.4 824.38h9.65v1.92h-9.65zM476.0 835.40h9.65v1.92h-9.65zM409.1 837.23h9.65v1.92h-9.65zM456.9 837.23h9.65v1.92h-9.65zM466.4 837.23h9.65v1.92h-9.65zM476.0 850.09h9.65v1.92h-9.65zM476.0 853.76h9.65v1.92h-9.65zM370.9 857.43h9.65v1.92h-9.65zM361.4 861.11h9.65v1.92h-9.65zM351.8 862.94h9.65v1.92h-9.65zM361.4 864.78h9.65v1.92h-9.65zM409.1 873.96h9.65v1.92h-9.65zM361.4 883.14h9.65v1.92h-9.65zM399.6 883.14h9.65v1.92h-9.65zM418.7 888.65h9.65v1.92h-9.65zM409.1 892.32h9.65v1.92h-9.65zM418.7 892.32h9.65v1.92h-9.65z" fill="#f47520"/>
<path d="M466.4 815.20h9.65v1.92h-9.65zM409.1 818.87h9.65v1.92h-9.65zM409.1 828.05h9.65v1.92h-9.65zM456.9 833.56h9.65v1.92h-9.65zM466.4 835.40h9.65v1.92h-9.65zM466.4 842.74h9.65v1.92h-9.65zM466.4 846.41h9.65v1.92h-9.65zM456.9 848.25h9.65v1.92h-9.65zM456.9 850.09h9.65v1.92h-9.65zM466.4 850.09h9.65v1.92h-9.65zM476.0 851.92h9.65v1.92h-9.65zM466.4 853.76h9.65v1.92h-9.65zM418.7 855.60h9.65v1.92h-9.65zM456.9 855.60h9.65v1.92h-9.65zM466.4 855.60h9.65v1.92h-9.65zM351.8 857.43h9.65v1.92h-9.65zM361.4 857.43h9.65v1.92h-9.65zM351.8 868.45h9.65v1.92h-9.65zM409.1 872.12h9.65v1.92h-9.65zM418.7 872.12h9.65v1.92h-9.65zM399.6 873.96h9.65v1.92h-9.65zM399.6 875.80h9.65v1.92h-9.65zM399.6 877.63h9.65v1.92h-9.65zM418.7 877.63h9.65v1.92h-9.65zM399.6 886.81h9.65v1.92h-9.65z" fill="#f26721"/>
<path d="M399.6 818.87h9.65v1.92h-9.65zM466.4 831.72h9.65v1.92h-9.65zM476.0 833.56h9.65v1.92h-9.65zM456.9 840.91h9.65v1.92h-9.65zM466.4 844.58h9.65v1.92h-9.65zM456.9 846.41h9.65v1.92h-9.65zM466.4 851.92h9.65v1.92h-9.65zM476.0 855.60h9.65v1.92h-9.65zM351.8 861.11h9.65v1.92h-9.65zM351.8 864.78h9.65v1.92h-9.65zM370.9 868.45h9.65v1.92h-9.65zM399.6 892.32h9.65v1.92h-9.65z" fill="#f15922"/>
<path d="M466.4 840.91h9.65v1.92h-9.65zM456.9 842.74h9.65v1.92h-9.65zM476.0 848.25h9.65v1.92h-9.65zM456.9 851.92h9.65v1.92h-9.65zM351.8 859.27h9.65v1.92h-9.65zM361.4 868.45h9.65v1.92h-9.65z" fill="#f04823"/>
<path d="M476.0 842.74h9.65v1.92h-9.65zM466.4 848.25h9.65v1.92h-9.65zM361.4 859.27h9.65v1.92h-9.65zM370.9 859.27h9.65v1.92h-9.65zM361.4 866.61h9.65v1.92h-9.65z" fill="#ee3524"/>
<path d="M456.9 844.58h9.65v1.92h-9.65zM476.0 844.58h9.65v1.92h-9.65zM351.8 866.61h9.65v1.92h-9.65zM370.9 866.61h9.65v1.92h-9.65z" fill="#ed2224"/>
<line x1="380.52" y1="812.8" x2="380.52" y2="895" stroke="#fff" stroke-width="0.9"/>
<line x1="428.28" y1="812.8" x2="428.28" y2="895" stroke="#fff" stroke-width="0.9"/>
<rect x="296.6" y="816.2" width="8" height="50.6" fill="url(#gG)"/>
<text x="293.6" y="820.6" font-size="7.3" fill="#231f20" text-anchor="end">2</text>
<text x="293.6" y="830.4" font-size="7.3" fill="#231f20" text-anchor="end">1</text>
<text x="293.6" y="840.1" font-size="7.3" fill="#231f20" text-anchor="end">0</text>
<text x="293.6" y="849.8" font-size="7.3" fill="#231f20" text-anchor="end">−1</text>
<text x="293.6" y="859.3" font-size="7.3" fill="#231f20" text-anchor="end">−2</text>
<text x="293.6" y="868.6" font-size="7.3" fill="#231f20" text-anchor="end">−3</text>
<path d="M322.9 814.3H320.8V816.2H322.9M322.9 818.0H321.0V819.8H322.9M322.9 821.7H320.6V823.5H322.9M322.9 825.3H321.0V827.2H322.9M322.9 829.0H321.1V830.8H322.9M322.9 832.7H320.6V834.5H322.9M322.9 836.4H319.7V838.2H322.9M322.9 840.0H319.9V841.9H322.9M322.9 843.7H320.0V845.5H322.9M322.9 847.4H320.8V849.2H322.9M322.9 851.0H320.3V852.9H322.9M322.9 854.7H320.8V856.6H322.9M322.9 858.4H320.9V860.2H322.9M322.9 862.1H321.0V863.9H322.9M322.9 865.7H320.9V867.6H322.9M322.9 869.4H319.7V871.2H322.9M322.9 873.1H319.9V874.9H322.9M322.9 876.8H319.9V878.6H322.9M322.9 880.4H319.9V882.3H322.9M322.9 884.1H320.9V885.9H322.9M322.9 887.8H320.7V889.6H322.9M322.9 891.4H320.2V893.3H322.9M320.5 815.3H318.0V829.8H320.5M320.5 833.7H316.5V855.6H320.5M320.5 859.4H317.5V868.4H320.5M320.5 872.2H316.5V892.3H320.5M320.5 815.3H319.5V820.7H320.5M320.5 824.5H319.5V829.8H320.5M320.5 833.7H318.6V840.9H320.5M320.5 844.7H318.6V855.6H320.5M320.5 872.2H318.8V879.4H320.5M320.5 883.3H318.8V892.3H320.5M316.5 830H313.5V847.6H316.5 M316.5 867H313V880H316.5 M313.5 839H310.2V874.5H313" fill="none" stroke="#3a3a3c" stroke-width="0.45"/>
<text x="492.3" y="822.8" font-size="7.5" fill="#231f20" font-style="italic">TGFA</text>
<line x1="486" y1="823.5" x2="491.3" y2="820.2" stroke="#58595b" stroke-width="0.5"/>
<text x="492.3" y="833.6" font-size="7.5" fill="#231f20" font-style="italic">VEGFA</text>
<line x1="486" y1="835" x2="491.3" y2="831" stroke="#58595b" stroke-width="0.5"/>
<text x="492.3" y="845" font-size="7.5" fill="#231f20" font-style="italic">TGFB2</text>
<line x1="486" y1="846.3" x2="491.3" y2="842.4" stroke="#58595b" stroke-width="0.5"/>
<text x="492.3" y="867.2" font-size="7.5" fill="#231f20" font-style="italic">HBEGF</text>
<line x1="486" y1="865.3" x2="491.3" y2="864.6" stroke="#58595b" stroke-width="0.5"/>
<text x="492.3" y="878.8" font-size="7.5" fill="#231f20" font-style="italic">IGFBP3</text>
<line x1="486" y1="869.5" x2="491.3" y2="876.2" stroke="#58595b" stroke-width="0.5"/>
<text x="492.3" y="888.8" font-size="7.5" fill="#231f20" font-style="italic">TGFBI</text>
<line x1="486" y1="880" x2="491.3" y2="886.2" stroke="#58595b" stroke-width="0.5"/>
<text x="318.3" y="904.1" font-size="7.5" fill="#231f20" text-anchor="end">INX-315</text>
<line x1="335.4" y1="901.5" x2="339.4" y2="901.5" stroke="#231f20" stroke-width="0.6"/>
<line x1="362.1" y1="901.5" x2="366.1" y2="901.5" stroke="#231f20" stroke-width="0.6"/>
<line x1="388.8" y1="901.5" x2="392.8" y2="901.5" stroke="#231f20" stroke-width="0.6"/>
<line x1="415.8" y1="901.5" x2="419.2" y2="901.5" stroke="#231f20" stroke-width="0.6"/>
<line x1="417.5" y1="899.8" x2="417.5" y2="903.2" stroke="#231f20" stroke-width="0.6"/>
<line x1="442.2" y1="901.5" x2="446.2" y2="901.5" stroke="#231f20" stroke-width="0.6"/>
<line x1="469.2" y1="901.5" x2="472.6" y2="901.5" stroke="#231f20" stroke-width="0.6"/>
<line x1="470.9" y1="899.8" x2="470.9" y2="903.2" stroke="#231f20" stroke-width="0.6"/>
<text x="318.3" y="913.9" font-size="7.5" fill="#231f20" text-anchor="end">Abema</text>
<line x1="335.4" y1="911.3" x2="339.4" y2="911.3" stroke="#231f20" stroke-width="0.6"/>
<line x1="362.4" y1="911.3" x2="365.8" y2="911.3" stroke="#231f20" stroke-width="0.6"/>
<line x1="364.1" y1="909.6" x2="364.1" y2="913" stroke="#231f20" stroke-width="0.6"/>
<line x1="389.1" y1="911.3" x2="392.5" y2="911.3" stroke="#231f20" stroke-width="0.6"/>
<line x1="390.8" y1="909.6" x2="390.8" y2="913" stroke="#231f20" stroke-width="0.6"/>
<line x1="415.8" y1="911.3" x2="419.2" y2="911.3" stroke="#231f20" stroke-width="0.6"/>
<line x1="417.5" y1="909.6" x2="417.5" y2="913" stroke="#231f20" stroke-width="0.6"/>
<line x1="442.5" y1="911.3" x2="445.9" y2="911.3" stroke="#231f20" stroke-width="0.6"/>
<line x1="444.2" y1="909.6" x2="444.2" y2="913" stroke="#231f20" stroke-width="0.6"/>
<line x1="469.2" y1="911.3" x2="472.6" y2="911.3" stroke="#231f20" stroke-width="0.6"/>
<line x1="470.9" y1="909.6" x2="470.9" y2="913" stroke="#231f20" stroke-width="0.6"/>
<text x="318.3" y="924.1" font-size="7.5" fill="#231f20" text-anchor="end">Fulv</text>
<line x1="335.4" y1="921.5" x2="339.4" y2="921.5" stroke="#231f20" stroke-width="0.6"/>
<line x1="362.1" y1="921.5" x2="366.1" y2="921.5" stroke="#231f20" stroke-width="0.6"/>
<line x1="388.8" y1="921.5" x2="392.8" y2="921.5" stroke="#231f20" stroke-width="0.6"/>
<line x1="415.5" y1="921.5" x2="419.5" y2="921.5" stroke="#231f20" stroke-width="0.6"/>
<line x1="442.5" y1="921.5" x2="445.9" y2="921.5" stroke="#231f20" stroke-width="0.6"/>
<line x1="444.2" y1="919.8" x2="444.2" y2="923.2" stroke="#231f20" stroke-width="0.6"/>
<line x1="469.2" y1="921.5" x2="472.6" y2="921.5" stroke="#231f20" stroke-width="0.6"/>
<line x1="470.9" y1="919.8" x2="470.9" y2="923.2" stroke="#231f20" stroke-width="0.6"/>
<rect x="308" y="932" width="10" height="10" fill="#a7a9ac"/>
<text x="323" y="939.8" font-size="7.5" fill="#231f20">Control</text>
<rect x="368" y="932" width="10" height="10" fill="#1b75bc"/>
<text x="383" y="939.8" font-size="7.5" fill="#231f20">Abema</text>
<rect x="432" y="932" width="10" height="10" fill="#fcbe3b"/>
<text x="447" y="939.8" font-size="7.5" fill="#231f20">INX-315</text>
<text x="0" y="971.5" font-size="10" fill="#000" font-weight="bold">H</text>
<rect x="89.2" y="985.5" width="32.8" height="110.5" fill="#e8ebef"/>
<rect x="166.8" y="985.5" width="94.2" height="110.5" fill="#e8ebef"/>
<rect x="267.7" y="985.5" width="36.6" height="110.5" fill="#e8ebef"/>
<rect x="329.6" y="985.5" width="96.4" height="110.5" fill="#e8ebef"/>
<rect x="18" y="984.3" width="34" height="30.2" fill="#e9ecef"/>
<text x="35" y="1002.1" font-size="7.6" fill="#231f20" text-anchor="middle">Parent</text>
<rect x="18" y="1016.5" width="34" height="36.5" fill="#e9ecef"/>
<text x="35" y="1032.85" font-size="7.6" fill="#231f20" text-anchor="middle">Abema-</text>
<text x="35" y="1042.05" font-size="7.6" fill="#231f20" text-anchor="middle">Res</text>
<rect x="18" y="1055" width="34" height="39.2" fill="#e9ecef"/>
<text x="35" y="1068.1" font-size="7.6" fill="#231f20" text-anchor="middle">Abema/</text>
<text x="35" y="1077.3" font-size="7.6" fill="#231f20" text-anchor="middle">Fulv-</text>
<text x="35" y="1086.5" font-size="7.6" fill="#231f20" text-anchor="middle">Res</text>
<line x1="54.5" y1="982.6" x2="151.7" y2="982.6" stroke="#000" stroke-width="1.1"/>
<line x1="54.6" y1="978.8" x2="54.6" y2="986.6" stroke="#000" stroke-width="1"/>
<line x1="151.6" y1="978.8" x2="151.6" y2="986.6" stroke="#000" stroke-width="1"/>
<line x1="164.5" y1="982.6" x2="425.4" y2="982.6" stroke="#000" stroke-width="1.1"/>
<line x1="164.6" y1="978.8" x2="164.6" y2="986.6" stroke="#000" stroke-width="1"/>
<line x1="425.2" y1="978.8" x2="425.2" y2="986.6" stroke="#000" stroke-width="1"/>
<circle cx="154.8" cy="982.9" r="0.65" fill="#111"/>
<circle cx="157.9" cy="982.9" r="0.65" fill="#111"/>
<circle cx="161" cy="982.9" r="0.65" fill="#111"/>
<text x="108.2" y="969.8" font-size="7.7" fill="#231f20" text-anchor="middle">chr7:45,884,000-</text>
<text x="108.7" y="978.3" font-size="7.7" fill="#231f20" text-anchor="middle">45,887,000</text>
<text x="284" y="977.8" font-size="7.7" fill="#231f20" text-anchor="middle">chr7:45,909,000-45,917,552</text>
<line x1="151.1" y1="1000.6" x2="151.1" y2="1013.6" stroke="#000" stroke-width="1"/>
<text x="153.1" y="1005.6" font-size="7.4" fill="#231f20">54</text>
<text x="155.2" y="1014.7" font-size="7.4" fill="#231f20">0</text>
<line x1="427.9" y1="999.4" x2="427.9" y2="1014.7" stroke="#000" stroke-width="1"/>
<text x="432.2" y="1004" font-size="7.4" fill="#231f20">24</text>
<text x="434.4" y="1013.1" font-size="7.4" fill="#231f20">0</text>
<path d="M54.6 993.4 L54.6 993.1 L55.6 993.1 L56.6 992.9 L57.6 992.8 L58.6 992.7 L59.6 992.8 L60.6 992.9 L61.6 993.0 L62.6 993.1 L63.6 993.2 L64.6 993.1 L65.6 993.1 L66.6 993.1 L67.6 993.0 L68.6 992.8 L69.6 992.6 L70.6 992.5 L71.6 992.5 L72.6 992.4 L73.6 992.2 L74.6 992.0 L75.6 991.9 L76.6 992.1 L77.6 992.3 L78.6 992.6 L79.6 992.7 L80.6 992.7 L81.6 992.8 L82.6 992.7 L83.6 992.6 L84.6 992.2 L85.6 992.3 L86.6 992.5 L87.6 992.6 L88.6 992.6 L89.6 992.7 L90.6 992.8 L91.6 993.0 L92.6 992.9 L93.6 992.8 L94.6 992.5 L95.6 992.2 L96.6 991.7 L97.6 991.9 L98.6 992.1 L99.6 992.1 L100.6 991.3 L101.6 990.9 L102.6 990.9 L103.7 991.4 L104.7 992.1 L105.7 992.0 L106.7 990.8 L107.7 990.1 L108.7 990.1 L109.7 991.0 L110.7 992.3 L111.7 992.8 L112.7 992.8 L113.7 992.8 L114.7 992.8 L115.7 992.9 L116.7 993.0 L117.7 993.1 L118.7 993.1 L119.7 993.1 L120.7 993.2 L121.7 993.1 L122.7 993.1 L123.7 993.1 L124.7 993.1 L125.7 993.1 L126.7 993.1 L127.7 993.1 L128.7 993.1 L129.7 993.1 L130.7 993.1 L131.7 993.0 L132.7 993.0 L133.7 993.1 L134.7 993.1 L135.7 993.1 L136.7 993.1 L137.7 993.0 L138.7 992.9 L139.7 992.8 L140.7 993.1 L141.7 993.1 L142.7 993.1 L143.7 993.1 L144.7 993.0 L145.7 993.2 L146.7 993.1 L147.7 993.1 L148.7 993.1 L149.7 993.2 L150.7 993.1 L151.7 993.1 L151.7 993.4Z" fill="#6d6e71"/>
<line x1="54.6" y1="993.4" x2="151.7" y2="993.4" stroke="#6d6e71" stroke-width="0.9"/>
<path d="M54.6 1013.7 L54.6 1013.3 L55.6 1013.4 L56.6 1013.3 L57.6 1013.3 L58.6 1013.3 L59.6 1013.2 L60.6 1013.2 L61.6 1012.8 L62.6 1012.6 L63.6 1012.3 L64.6 1012.8 L65.6 1013.1 L66.6 1013.2 L67.6 1013.0 L68.6 1012.8 L69.6 1012.9 L70.6 1013.1 L71.6 1013.3 L72.6 1013.3 L73.6 1013.3 L74.6 1013.2 L75.6 1013.2 L76.6 1013.0 L77.6 1012.5 L78.6 1012.3 L79.6 1012.4 L80.6 1012.5 L81.6 1012.8 L82.6 1013.0 L83.6 1013.2 L84.6 1013.2 L85.6 1012.9 L86.6 1012.9 L87.6 1012.7 L88.6 1012.8 L89.6 1013.0 L90.6 1013.2 L91.6 1013.1 L92.6 1012.7 L93.6 1012.2 L94.6 1011.9 L95.6 1011.7 L96.6 1011.5 L97.6 1011.9 L98.6 1011.9 L99.6 1010.4 L100.6 1006.3 L101.7 1004.0 L102.7 1004.0 L103.7 1005.2 L104.7 1009.4 L105.7 1009.8 L106.7 1005.7 L107.7 1004.0 L108.7 1004.1 L109.7 1005.6 L110.7 1009.4 L111.7 1011.9 L112.7 1012.4 L113.7 1012.8 L114.7 1012.9 L115.7 1013.0 L116.7 1013.2 L117.7 1013.2 L118.7 1013.1 L119.7 1013.3 L120.7 1013.2 L121.7 1013.3 L122.7 1013.3 L123.7 1013.3 L124.7 1013.3 L125.7 1013.3 L126.7 1013.2 L127.7 1013.3 L128.7 1013.2 L129.7 1013.2 L130.7 1013.1 L131.7 1013.0 L132.7 1013.0 L133.7 1012.9 L134.7 1012.5 L135.7 1012.6 L136.7 1012.5 L137.7 1012.7 L138.7 1013.1 L139.7 1013.3 L140.7 1013.3 L141.7 1013.3 L142.7 1013.2 L143.7 1013.3 L144.7 1013.3 L145.7 1013.0 L146.7 1013.1 L147.7 1013.1 L148.7 1013.2 L148.7 1013.7Z" fill="#1b75bc"/>
<line x1="54.6" y1="1013.7" x2="148.7" y2="1013.7" stroke="#1b75bc" stroke-width="0.9"/>
<path d="M54.6 1033 L54.6 1032.7 L55.6 1032.7 L56.6 1032.7 L57.6 1032.8 L58.6 1032.7 L59.6 1032.6 L60.6 1032.7 L61.6 1032.4 L62.6 1032.2 L63.6 1032.2 L64.6 1032.3 L65.6 1032.6 L66.6 1032.8 L67.6 1032.7 L68.6 1032.7 L69.6 1032.7 L70.6 1032.7 L71.6 1032.8 L72.6 1032.7 L73.6 1032.8 L74.6 1032.7 L75.6 1032.7 L76.6 1032.5 L77.6 1032.4 L78.6 1032.3 L79.6 1032.5 L80.6 1032.6 L81.6 1032.7 L82.6 1032.7 L83.6 1032.7 L84.6 1032.7 L85.6 1032.7 L86.6 1032.7 L87.6 1032.7 L88.6 1032.7 L89.6 1032.7 L90.6 1032.7 L91.6 1032.7 L92.6 1032.7 L93.6 1032.7 L94.6 1032.6 L95.6 1032.3 L96.6 1032.0 L97.6 1032.1 L98.6 1032.0 L99.6 1031.7 L100.6 1028.4 L101.6 1026.0 L102.6 1026.0 L103.7 1027.4 L104.7 1031.4 L105.7 1031.2 L106.7 1026.3 L107.7 1024.1 L108.7 1024.6 L109.7 1026.6 L110.7 1031.2 L111.7 1032.8 L112.7 1032.8 L113.7 1032.7 L114.7 1032.8 L115.7 1032.7 L116.7 1032.8 L117.7 1032.7 L118.7 1032.7 L119.7 1032.7 L120.7 1032.7 L121.7 1032.7 L122.7 1032.7 L123.7 1032.7 L124.7 1032.6 L125.7 1032.6 L126.7 1032.6 L127.7 1032.5 L128.7 1032.6 L129.7 1032.6 L130.7 1032.7 L131.7 1032.7 L132.7 1032.7 L133.7 1032.7 L134.7 1032.8 L135.7 1032.7 L136.7 1032.7 L137.7 1032.5 L138.7 1032.3 L139.7 1032.4 L140.7 1032.5 L141.7 1032.5 L142.7 1032.3 L143.7 1032.3 L144.7 1032.4 L145.7 1032.5 L146.7 1032.6 L147.7 1032.6 L148.7 1032.4 L149.7 1032.2 L150.7 1032.2 L151.7 1032.6 L151.7 1033Z" fill="#6d6e71"/>
<line x1="54.6" y1="1033" x2="151.7" y2="1033" stroke="#6d6e71" stroke-width="0.9"/>
<path d="M54.6 1053 L54.6 1052.5 L55.6 1052.3 L56.6 1052.1 L57.6 1052.0 L58.6 1052.0 L59.6 1051.9 L60.6 1051.5 L61.6 1051.4 L62.6 1051.2 L63.6 1050.9 L64.6 1051.0 L65.6 1051.0 L66.6 1050.6 L67.6 1050.5 L68.6 1050.5 L69.6 1050.9 L70.6 1050.8 L71.6 1050.7 L72.6 1050.2 L73.6 1050.6 L74.6 1051.3 L75.6 1051.5 L76.6 1051.6 L77.6 1051.8 L78.6 1051.5 L79.6 1051.6 L80.6 1051.5 L81.6 1051.3 L82.6 1051.5 L83.6 1051.5 L84.6 1051.8 L85.6 1051.8 L86.6 1052.2 L87.6 1052.1 L88.6 1052.2 L89.6 1052.1 L90.6 1052.3 L91.6 1052.2 L92.6 1052.0 L93.6 1051.9 L94.6 1051.4 L95.6 1050.3 L96.6 1049.9 L97.6 1050.1 L98.6 1050.2 L99.6 1049.8 L100.6 1045.4 L101.6 1040.8 L102.6 1040.4 L103.7 1042.8 L104.7 1047.9 L105.7 1048.1 L106.7 1041.6 L107.7 1035.9 L108.7 1036.4 L109.7 1042.6 L110.7 1050.0 L111.7 1051.5 L112.7 1051.5 L113.7 1051.5 L114.7 1051.8 L115.7 1051.8 L116.7 1052.0 L117.7 1052.1 L118.7 1052.2 L119.7 1052.2 L120.7 1052.3 L121.7 1052.3 L122.7 1052.5 L123.7 1052.5 L124.7 1052.4 L125.7 1052.6 L126.7 1052.4 L127.7 1052.4 L128.7 1052.6 L129.7 1052.4 L130.7 1051.9 L131.7 1051.8 L132.7 1051.9 L133.7 1052.2 L134.7 1052.3 L135.7 1052.2 L136.7 1052.4 L137.7 1052.3 L138.7 1052.3 L139.7 1052.4 L140.7 1052.4 L141.7 1052.3 L142.7 1052.0 L143.7 1052.2 L144.7 1052.2 L145.7 1052.3 L146.7 1052.0 L147.7 1051.4 L148.7 1051.2 L149.7 1051.8 L150.7 1052.4 L151.7 1052.3 L151.7 1053Z" fill="#fcc030"/>
<line x1="54.6" y1="1053" x2="151.7" y2="1053" stroke="#fcc030" stroke-width="0.9"/>
<path d="M54.6 1073.5 L54.6 1073.1 L55.6 1073.1 L56.6 1073.0 L57.6 1072.8 L58.6 1072.6 L59.6 1072.5 L60.6 1072.5 L61.6 1072.6 L62.6 1072.8 L63.6 1072.9 L64.6 1073.1 L65.6 1073.1 L66.6 1073.1 L67.6 1073.2 L68.6 1073.3 L69.6 1073.2 L70.6 1073.2 L71.6 1073.2 L72.6 1073.2 L73.6 1073.2 L74.6 1073.2 L75.6 1073.2 L76.6 1073.3 L77.6 1073.2 L78.6 1073.2 L79.6 1073.3 L80.6 1073.2 L81.6 1073.2 L82.6 1073.2 L83.6 1073.2 L84.6 1073.0 L85.6 1072.9 L86.6 1072.9 L87.6 1073.1 L88.6 1073.2 L89.6 1073.2 L90.6 1073.3 L91.6 1073.2 L92.6 1073.2 L93.6 1073.1 L94.6 1072.7 L95.6 1072.1 L96.6 1071.4 L97.6 1071.4 L98.6 1071.7 L99.6 1071.7 L100.6 1070.7 L101.6 1070.0 L102.6 1069.9 L103.7 1070.2 L104.7 1071.4 L105.7 1071.6 L106.7 1068.8 L107.7 1066.6 L108.7 1066.6 L109.7 1068.5 L110.7 1071.5 L111.7 1072.5 L112.7 1072.9 L113.7 1073.0 L114.7 1073.0 L115.7 1072.9 L116.7 1072.8 L117.7 1072.7 L118.7 1072.5 L119.7 1072.3 L120.7 1072.1 L121.7 1072.0 L122.7 1072.0 L123.7 1072.3 L124.7 1072.6 L125.7 1072.6 L126.7 1072.6 L127.7 1072.5 L128.7 1072.5 L129.7 1072.8 L130.7 1073.0 L131.7 1073.1 L132.7 1073.2 L133.7 1073.3 L134.7 1073.2 L135.7 1073.2 L136.7 1072.9 L137.7 1072.7 L138.7 1072.6 L139.7 1072.8 L140.7 1072.9 L141.7 1072.8 L142.7 1072.7 L143.7 1072.8 L144.7 1073.1 L145.7 1073.1 L146.7 1072.9 L147.7 1073.2 L148.7 1073.3 L149.7 1073.2 L150.7 1073.3 L151.7 1073.2 L151.7 1073.5Z" fill="#6d6e71"/>
<line x1="54.6" y1="1073.5" x2="151.7" y2="1073.5" stroke="#6d6e71" stroke-width="0.9"/>
<path d="M54.6 1093.5 L54.6 1092.4 L55.6 1092.4 L56.6 1092.6 L57.6 1092.8 L58.6 1093.0 L59.6 1093.0 L60.6 1093.1 L61.6 1092.9 L62.6 1092.9 L63.6 1093.0 L64.6 1093.0 L65.6 1093.0 L66.6 1093.0 L67.6 1092.9 L68.6 1092.9 L69.6 1093.0 L70.6 1092.7 L71.6 1092.7 L72.6 1092.7 L73.6 1092.5 L74.6 1092.2 L75.6 1092.5 L76.6 1092.8 L77.6 1092.9 L78.6 1092.9 L79.6 1092.8 L80.6 1092.6 L81.6 1092.2 L82.6 1092.3 L83.6 1092.7 L84.6 1092.8 L85.6 1092.9 L86.6 1093.1 L87.6 1093.0 L88.6 1092.9 L89.6 1092.8 L90.6 1092.9 L91.6 1092.8 L92.6 1092.7 L93.6 1092.5 L94.6 1092.2 L95.6 1092.1 L96.6 1091.5 L97.6 1090.9 L98.6 1089.9 L99.6 1089.0 L100.6 1086.8 L101.6 1084.6 L102.6 1084.4 L103.7 1086.0 L104.7 1088.8 L105.7 1089.4 L106.7 1083.7 L107.7 1078.4 L108.7 1078.9 L109.7 1084.4 L110.7 1091.3 L111.7 1092.5 L112.7 1092.5 L113.7 1092.6 L114.7 1093.0 L115.7 1093.0 L116.7 1092.9 L117.7 1092.9 L118.7 1092.8 L119.7 1092.6 L120.7 1092.5 L121.7 1091.9 L122.7 1092.2 L123.7 1092.2 L124.7 1092.6 L125.7 1092.8 L126.7 1092.9 L127.7 1092.8 L128.7 1093.0 L129.7 1092.9 L130.7 1093.0 L131.7 1092.8 L132.7 1092.8 L133.7 1092.5 L134.7 1092.3 L135.7 1092.3 L136.7 1092.3 L137.7 1092.5 L138.7 1092.7 L139.7 1092.9 L140.7 1093.1 L141.7 1093.0 L142.7 1093.0 L143.7 1093.0 L144.7 1092.9 L145.7 1093.1 L146.7 1092.9 L147.7 1093.0 L148.7 1093.1 L149.7 1093.0 L150.7 1093.1 L151.7 1093.0 L151.7 1093.5Z" fill="#fcc030"/>
<line x1="54.6" y1="1093.5" x2="151.7" y2="1093.5" stroke="#fcc030" stroke-width="0.9"/>
<path d="M164.6 993.4 L164.6 993.1 L165.6 993.0 L166.6 993.2 L167.6 993.0 L168.6 993.1 L169.6 992.9 L170.6 992.8 L171.6 992.9 L172.6 992.9 L173.6 992.8 L174.6 992.5 L175.6 992.3 L176.6 992.7 L177.6 992.9 L178.6 992.9 L179.6 992.8 L180.6 992.3 L181.6 991.5 L182.6 990.7 L183.6 990.3 L184.6 990.5 L185.6 991.1 L186.7 991.7 L187.7 992.4 L188.7 992.5 L189.7 992.5 L190.7 992.5 L191.7 992.5 L192.7 992.6 L193.7 992.8 L194.7 992.8 L195.7 992.7 L196.7 992.5 L197.7 992.3 L198.7 992.1 L199.7 992.0 L200.7 991.7 L201.7 991.5 L202.7 991.4 L203.7 991.4 L204.7 991.6 L205.7 991.8 L206.7 991.9 L207.7 992.2 L208.7 992.5 L209.7 992.7 L210.7 992.8 L211.7 992.9 L212.7 993.0 L213.7 993.0 L214.7 993.0 L215.7 993.0 L216.7 993.0 L217.7 992.9 L218.7 992.5 L219.7 992.6 L220.7 992.9 L221.7 993.0 L222.7 993.0 L223.7 992.7 L224.7 992.3 L225.7 992.4 L226.7 992.9 L227.7 993.1 L228.7 993.0 L229.8 993.0 L230.8 992.9 L231.8 992.6 L232.8 992.1 L233.8 991.5 L234.8 991.0 L235.8 990.7 L236.8 990.6 L237.8 990.7 L238.8 990.9 L239.8 991.2 L240.8 991.7 L241.8 992.0 L242.8 992.1 L243.8 992.4 L244.8 992.6 L245.8 992.8 L246.8 992.5 L247.8 992.1 L248.8 992.6 L249.8 992.9 L250.8 992.6 L251.8 992.0 L252.8 991.7 L253.8 991.8 L254.8 992.5 L255.8 992.8 L256.8 993.1 L257.8 993.0 L258.8 993.0 L259.8 993.0 L260.8 993.1 L261.8 993.1 L262.8 993.1 L263.8 993.0 L264.8 993.1 L265.8 993.0 L266.8 993.1 L267.8 993.1 L268.8 993.1 L269.8 993.1 L270.8 993.1 L271.8 993.1 L272.8 992.7 L273.9 992.8 L274.9 993.1 L275.9 993.1 L276.9 993.1 L277.9 993.0 L278.9 993.0 L279.9 993.0 L280.9 993.1 L281.9 993.0 L282.9 993.0 L283.9 992.9 L284.9 992.8 L285.9 992.8 L286.9 992.8 L287.9 992.5 L288.9 992.2 L289.9 992.0 L290.9 992.1 L291.9 992.2 L292.9 992.3 L293.9 991.9 L294.9 991.6 L295.9 991.9 L296.9 992.2 L297.9 992.4 L298.9 992.5 L299.9 992.5 L300.9 992.3 L301.9 992.3 L302.9 992.3 L303.9 992.1 L304.9 992.0 L305.9 993.2 L306.9 993.3 L307.9 993.3 L308.9 993.3 L309.9 993.3 L310.9 993.3 L311.9 993.2 L312.9 993.3 L313.9 993.4 L314.9 993.4 L315.9 993.4 L317.0 993.4 L318.0 993.4 L319.0 993.4 L320.0 993.4 L321.0 993.3 L322.0 993.3 L323.0 993.3 L324.0 993.3 L325.0 993.3 L326.0 993.3 L327.0 993.3 L328.0 993.3 L329.0 993.3 L330.0 992.8 L331.0 992.9 L332.0 992.9 L333.0 992.6 L334.0 992.1 L335.0 991.5 L336.0 990.8 L337.0 990.4 L338.0 989.9 L339.0 990.0 L340.0 990.3 L341.0 990.2 L342.0 990.4 L343.0 990.6 L344.0 991.1 L345.0 991.2 L346.0 991.4 L347.0 991.4 L348.0 991.5 L349.0 991.7 L350.0 992.1 L351.0 992.5 L352.0 992.7 L353.0 992.9 L354.0 992.8 L355.0 992.7 L356.0 992.7 L357.0 992.8 L358.0 992.8 L359.0 992.5 L360.1 991.8 L361.1 991.2 L362.1 991.0 L363.1 991.0 L364.1 990.9 L365.1 990.8 L366.1 991.3 L367.1 992.1 L368.1 992.8 L369.1 993.1 L370.1 993.1 L371.1 993.0 L372.1 993.1 L373.1 992.9 L374.1 992.9 L375.1 992.8 L376.1 992.8 L377.1 992.8 L378.1 992.6 L379.1 992.4 L380.1 992.2 L381.1 992.0 L382.1 991.6 L383.1 991.1 L384.1 990.8 L385.1 990.8 L386.1 991.1 L387.1 991.5 L388.1 991.6 L389.1 991.5 L390.1 991.4 L391.1 991.3 L392.1 991.4 L393.1 991.6 L394.1 992.1 L395.1 992.5 L396.1 992.8 L397.1 992.9 L398.1 993.1 L399.1 993.0 L400.1 993.1 L401.1 992.9 L402.1 992.9 L403.1 992.5 L404.2 992.2 L405.2 991.9 L406.2 991.7 L407.2 991.7 L408.2 991.8 L409.2 991.9 L410.2 992.0 L411.2 992.4 L412.2 992.7 L413.2 992.9 L414.2 993.0 L415.2 992.7 L416.2 992.5 L417.2 991.8 L418.2 991.2 L419.2 990.6 L420.2 990.4 L421.2 990.9 L422.2 991.5 L423.2 992.2 L424.2 992.5 L425.2 992.8 L425.2 993.4Z" fill="#6d6e71"/>
<line x1="164.6" y1="993.4" x2="425.2" y2="993.4" stroke="#6d6e71" stroke-width="0.9"/>
<path d="M164.6 1013.7 L164.6 1012.6 L165.6 1012.4 L166.6 1012.2 L167.6 1012.2 L168.6 1012.0 L169.6 1011.9 L170.6 1011.6 L171.6 1011.4 L172.6 1011.2 L173.6 1011.1 L174.6 1010.2 L175.6 1009.5 L176.6 1010.3 L177.6 1010.3 L178.6 1010.2 L179.6 1010.1 L180.6 1009.9 L181.6 1009.8 L182.6 1009.7 L183.6 1009.7 L184.6 1009.7 L185.6 1009.7 L186.7 1009.9 L187.7 1009.9 L188.7 1009.9 L189.7 1010.0 L190.7 1010.1 L191.7 1009.5 L192.7 1008.6 L193.7 1008.6 L194.7 1008.6 L195.7 1008.0 L196.7 1007.2 L197.7 1006.7 L198.7 1005.7 L199.7 1005.4 L200.7 1005.8 L201.7 1006.7 L202.7 1008.1 L203.7 1008.9 L204.7 1009.1 L205.7 1009.1 L206.7 1008.9 L207.7 1008.7 L208.7 1008.6 L209.7 1008.3 L210.7 1007.8 L211.7 1007.8 L212.7 1007.6 L213.7 1007.4 L214.7 1007.5 L215.7 1007.2 L216.7 1007.2 L217.7 1007.2 L218.7 1007.0 L219.7 1007.4 L220.7 1007.4 L221.7 1007.0 L222.7 1006.8 L223.7 1007.5 L224.7 1007.9 L225.7 1007.9 L226.7 1007.7 L227.7 1007.7 L228.7 1007.3 L229.8 1007.2 L230.8 1007.4 L231.8 1007.5 L232.8 1008.0 L233.8 1008.0 L234.8 1008.0 L235.8 1008.2 L236.8 1007.7 L237.8 1006.4 L238.8 1005.4 L239.8 1004.6 L240.8 1004.1 L241.8 1004.8 L242.8 1006.1 L243.8 1007.9 L244.8 1009.3 L245.8 1009.8 L246.8 1009.0 L247.8 1008.0 L248.8 1009.5 L249.8 1010.1 L250.8 1009.9 L251.8 1009.8 L252.8 1009.8 L253.8 1009.5 L254.8 1009.8 L255.8 1010.3 L256.8 1010.7 L257.8 1010.8 L258.8 1011.0 L259.8 1010.9 L260.8 1010.1 L261.8 1009.2 L262.8 1009.3 L263.8 1009.9 L264.8 1010.8 L265.8 1011.7 L266.8 1012.4 L267.8 1012.3 L268.8 1011.7 L269.8 1010.9 L270.8 1011.1 L271.8 1011.6 L272.8 1011.5 L273.9 1011.2 L274.9 1011.1 L275.9 1011.2 L276.9 1011.4 L277.9 1011.2 L278.9 1010.7 L279.9 1010.5 L280.9 1010.6 L281.9 1010.5 L282.9 1010.8 L283.9 1010.9 L284.9 1010.9 L285.9 1011.1 L286.9 1011.4 L287.9 1011.6 L288.9 1011.5 L289.9 1011.6 L290.9 1011.8 L291.9 1012.0 L292.9 1011.9 L293.9 1012.0 L294.9 1012.0 L295.9 1012.3 L296.9 1012.5 L297.9 1012.4 L298.9 1012.6 L299.9 1012.5 L300.9 1012.8 L301.9 1012.6 L302.9 1012.7 L303.9 1012.8 L304.9 1012.7 L305.9 1013.6 L306.9 1013.5 L307.9 1013.5 L308.9 1013.5 L309.9 1013.4 L310.9 1013.4 L311.9 1013.5 L312.9 1013.5 L313.9 1013.6 L314.9 1013.6 L315.9 1013.6 L317.0 1013.5 L318.0 1013.5 L319.0 1013.5 L320.0 1013.6 L321.0 1013.5 L322.0 1013.4 L323.0 1013.4 L324.0 1013.4 L325.0 1013.5 L326.0 1013.5 L327.0 1013.6 L328.0 1013.6 L329.0 1013.6 L330.0 1012.3 L331.0 1011.7 L332.0 1010.8 L333.0 1010.3 L334.0 1009.8 L335.0 1009.3 L336.0 1007.9 L337.0 1007.3 L338.0 1007.9 L339.0 1008.4 L340.0 1009.3 L341.0 1009.9 L342.0 1010.7 L343.0 1010.8 L344.0 1010.8 L345.0 1009.9 L346.0 1009.0 L347.0 1008.4 L348.0 1009.0 L349.0 1009.0 L350.0 1008.5 L351.0 1007.8 L352.0 1007.3 L353.0 1007.8 L354.0 1008.7 L355.0 1009.6 L356.0 1010.2 L357.0 1010.8 L358.0 1010.9 L359.0 1011.2 L360.1 1011.1 L361.1 1011.1 L362.1 1010.7 L363.1 1010.8 L364.1 1011.1 L365.1 1010.9 L366.1 1010.5 L367.1 1010.2 L368.1 1009.5 L369.1 1009.0 L370.1 1009.1 L371.1 1009.1 L372.1 1008.9 L373.1 1008.9 L374.1 1009.2 L375.1 1009.4 L376.1 1009.8 L377.1 1010.1 L378.1 1010.2 L379.1 1010.5 L380.1 1010.7 L381.1 1010.9 L382.1 1010.8 L383.1 1010.7 L384.1 1010.8 L385.1 1010.7 L386.1 1010.5 L387.1 1010.0 L388.1 1009.6 L389.1 1009.0 L390.1 1008.3 L391.1 1007.6 L392.1 1008.4 L393.1 1009.4 L394.1 1009.6 L395.1 1009.6 L396.1 1009.8 L397.1 1009.9 L398.1 1010.2 L399.1 1010.4 L400.1 1010.3 L401.1 1010.6 L402.1 1010.8 L403.1 1010.6 L404.2 1010.7 L405.2 1010.7 L406.2 1010.6 L407.2 1010.7 L408.2 1010.4 L409.2 1010.4 L410.2 1010.0 L411.2 1009.9 L412.2 1010.0 L413.2 1009.8 L414.2 1009.1 L415.2 1008.8 L416.2 1009.3 L417.2 1009.7 L418.2 1009.1 L419.2 1007.5 L420.2 1006.3 L421.2 1006.2 L422.2 1007.4 L423.2 1008.9 L424.2 1010.0 L425.2 1011.0 L425.2 1013.7Z" fill="#1b75bc"/>
<line x1="164.6" y1="1013.7" x2="425.2" y2="1013.7" stroke="#1b75bc" stroke-width="0.9"/>
<path d="M164.6 1033 L164.6 1031.7 L165.6 1031.4 L166.6 1031.5 L167.6 1031.8 L168.6 1032.3 L169.6 1032.4 L170.6 1032.5 L171.6 1032.7 L172.6 1032.6 L173.6 1032.6 L174.6 1032.5 L175.6 1032.4 L176.6 1032.3 L177.6 1032.2 L178.6 1032.4 L179.6 1032.6 L180.6 1032.6 L181.6 1032.7 L182.6 1032.7 L183.6 1032.7 L184.6 1032.6 L185.6 1032.6 L186.7 1032.7 L187.7 1032.6 L188.7 1032.7 L189.7 1032.7 L190.7 1032.7 L191.7 1032.7 L192.7 1032.7 L193.7 1032.6 L194.7 1032.5 L195.7 1032.3 L196.7 1032.3 L197.7 1031.9 L198.7 1031.2 L199.7 1030.6 L200.7 1030.7 L201.7 1031.4 L202.7 1032.1 L203.7 1032.5 L204.7 1032.6 L205.7 1032.7 L206.7 1032.6 L207.7 1032.5 L208.7 1032.2 L209.7 1031.9 L210.7 1031.5 L211.7 1030.9 L212.7 1031.4 L213.7 1032.1 L214.7 1032.5 L215.7 1032.6 L216.7 1032.6 L217.7 1032.7 L218.7 1032.7 L219.7 1032.5 L220.7 1032.4 L221.7 1032.2 L222.7 1032.0 L223.7 1031.6 L224.7 1031.2 L225.7 1030.8 L226.7 1030.4 L227.7 1030.2 L228.7 1030.1 L229.8 1030.5 L230.8 1031.0 L231.8 1031.1 L232.8 1031.2 L233.8 1030.9 L234.8 1030.0 L235.8 1029.1 L236.8 1028.3 L237.8 1028.1 L238.8 1028.7 L239.8 1029.5 L240.8 1030.2 L241.8 1030.9 L242.8 1031.7 L243.8 1032.2 L244.8 1032.5 L245.8 1032.7 L246.8 1032.7 L247.8 1032.7 L248.8 1032.6 L249.8 1032.7 L250.8 1032.6 L251.8 1032.6 L252.8 1032.6 L253.8 1032.6 L254.8 1032.7 L255.8 1032.6 L256.8 1032.5 L257.8 1032.3 L258.8 1031.7 L259.8 1031.3 L260.8 1031.4 L261.8 1032.0 L262.8 1032.4 L263.8 1032.6 L264.8 1032.6 L265.8 1032.6 L266.8 1032.6 L267.8 1032.6 L268.8 1032.6 L269.8 1032.6 L270.8 1032.6 L271.8 1032.6 L272.8 1032.7 L273.9 1032.7 L274.9 1032.7 L275.9 1032.5 L276.9 1032.2 L277.9 1031.8 L278.9 1031.6 L279.9 1031.8 L280.9 1032.1 L281.9 1032.4 L282.9 1032.6 L283.9 1032.7 L284.9 1032.7 L285.9 1032.6 L286.9 1032.4 L287.9 1032.3 L288.9 1032.4 L289.9 1032.7 L290.9 1032.6 L291.9 1032.6 L292.9 1032.7 L293.9 1032.7 L294.9 1032.7 L295.9 1032.7 L296.9 1032.5 L297.9 1032.3 L298.9 1032.1 L299.9 1031.9 L300.9 1031.7 L301.9 1031.7 L302.9 1031.7 L303.9 1031.6 L304.9 1031.8 L305.9 1032.9 L306.9 1032.9 L307.9 1032.9 L308.9 1032.9 L309.9 1032.9 L310.9 1032.9 L311.9 1033.0 L312.9 1033.0 L313.9 1033.0 L314.9 1033.0 L315.9 1033.0 L317.0 1033.0 L318.0 1033.0 L319.0 1033.0 L320.0 1033.0 L321.0 1033.0 L322.0 1033.0 L323.0 1033.0 L324.0 1033.0 L325.0 1033.0 L326.0 1033.0 L327.0 1033.0 L328.0 1033.0 L329.0 1033.0 L330.0 1032.6 L331.0 1032.4 L332.0 1032.4 L333.0 1032.6 L334.0 1032.4 L335.0 1032.3 L336.0 1031.9 L337.0 1031.2 L338.0 1030.5 L339.0 1029.9 L340.0 1029.7 L341.0 1029.8 L342.0 1030.2 L343.0 1030.4 L344.0 1030.5 L345.0 1030.7 L346.0 1030.8 L347.0 1030.7 L348.0 1030.2 L349.0 1029.2 L350.0 1028.3 L351.0 1028.4 L352.0 1029.5 L353.0 1030.5 L354.0 1031.5 L355.0 1032.1 L356.0 1032.1 L357.0 1031.5 L358.0 1031.2 L359.0 1031.4 L360.1 1032.0 L361.1 1032.2 L362.1 1032.5 L363.1 1032.6 L364.1 1032.7 L365.1 1032.7 L366.1 1032.6 L367.1 1032.7 L368.1 1032.6 L369.1 1032.6 L370.1 1032.6 L371.1 1032.7 L372.1 1032.7 L373.1 1032.7 L374.1 1032.6 L375.1 1032.6 L376.1 1032.6 L377.1 1032.7 L378.1 1032.6 L379.1 1032.6 L380.1 1032.4 L381.1 1032.2 L382.1 1031.8 L383.1 1031.4 L384.1 1030.5 L385.1 1029.9 L386.1 1029.5 L387.1 1030.1 L388.1 1031.3 L389.1 1032.1 L390.1 1032.5 L391.1 1032.6 L392.1 1032.7 L393.1 1032.6 L394.1 1032.4 L395.1 1032.1 L396.1 1032.2 L397.1 1032.4 L398.1 1032.6 L399.1 1032.7 L400.1 1032.6 L401.1 1032.6 L402.1 1032.6 L403.1 1032.3 L404.2 1032.3 L405.2 1032.3 L406.2 1032.6 L407.2 1032.7 L408.2 1032.7 L409.2 1032.4 L410.2 1032.2 L411.2 1031.7 L412.2 1031.0 L413.2 1030.3 L414.2 1030.1 L415.2 1030.5 L416.2 1031.0 L417.2 1031.1 L418.2 1030.2 L419.2 1028.4 L420.2 1026.4 L421.2 1025.8 L422.2 1027.0 L423.2 1029.1 L424.2 1030.9 L425.2 1032.1 L425.2 1033Z" fill="#6d6e71"/>
<line x1="164.6" y1="1033" x2="425.2" y2="1033" stroke="#6d6e71" stroke-width="0.9"/>
<path d="M164.6 1053 L164.6 1050.6 L165.6 1050.5 L166.6 1050.2 L167.6 1050.6 L168.6 1050.8 L169.6 1050.6 L170.6 1050.3 L171.6 1050.2 L172.6 1049.6 L173.6 1049.2 L174.6 1049.1 L175.6 1049.1 L176.6 1048.6 L177.6 1047.2 L178.6 1047.3 L179.6 1048.4 L180.6 1049.0 L181.6 1049.1 L182.6 1049.2 L183.6 1049.3 L184.6 1049.3 L185.6 1049.0 L186.7 1049.7 L187.7 1049.9 L188.7 1049.9 L189.7 1049.9 L190.7 1050.1 L191.7 1050.0 L192.7 1050.3 L193.7 1050.1 L194.7 1049.1 L195.7 1048.0 L196.7 1046.6 L197.7 1044.0 L198.7 1041.6 L199.7 1040.5 L200.7 1041.8 L201.7 1043.8 L202.7 1046.3 L203.7 1047.7 L204.7 1048.3 L205.7 1048.4 L206.7 1048.6 L207.7 1048.2 L208.7 1047.9 L209.7 1047.3 L210.7 1047.0 L211.7 1046.3 L212.7 1045.8 L213.7 1045.3 L214.7 1044.8 L215.7 1045.1 L216.7 1045.7 L217.7 1046.1 L218.7 1046.1 L219.7 1045.7 L220.7 1045.4 L221.7 1045.4 L222.7 1045.4 L223.7 1045.7 L224.7 1046.3 L225.7 1046.4 L226.7 1046.6 L227.7 1046.4 L228.7 1046.1 L229.8 1045.9 L230.8 1045.4 L231.8 1045.7 L232.8 1045.5 L233.8 1045.9 L234.8 1046.2 L235.8 1046.0 L236.8 1044.9 L237.8 1042.3 L238.8 1039.0 L239.8 1036.7 L240.8 1038.3 L241.8 1042.2 L242.8 1046.2 L243.8 1049.1 L244.8 1050.2 L245.8 1050.1 L246.8 1049.6 L247.8 1048.1 L248.8 1046.5 L249.8 1046.2 L250.8 1047.6 L251.8 1047.8 L252.8 1047.7 L253.8 1047.8 L254.8 1048.0 L255.8 1048.3 L256.8 1049.5 L257.8 1050.4 L258.8 1050.9 L259.8 1051.5 L260.8 1051.6 L261.8 1051.8 L262.8 1051.8 L263.8 1052.0 L264.8 1052.0 L265.8 1051.9 L266.8 1051.7 L267.8 1051.9 L268.8 1051.4 L269.8 1051.1 L270.8 1050.7 L271.8 1050.6 L272.8 1050.1 L273.9 1049.4 L274.9 1049.1 L275.9 1049.3 L276.9 1049.7 L277.9 1050.2 L278.9 1050.1 L279.9 1050.2 L280.9 1050.0 L281.9 1050.1 L282.9 1049.7 L283.9 1049.8 L284.9 1049.7 L285.9 1049.3 L286.9 1049.4 L287.9 1049.0 L288.9 1048.8 L289.9 1048.9 L290.9 1048.5 L291.9 1049.0 L292.9 1049.0 L293.9 1048.5 L294.9 1048.5 L295.9 1048.4 L296.9 1048.7 L297.9 1049.5 L298.9 1049.3 L299.9 1049.1 L300.9 1048.5 L301.9 1047.6 L302.9 1047.4 L303.9 1048.2 L304.9 1049.4 L305.9 1052.7 L306.9 1052.8 L307.9 1052.7 L308.9 1052.6 L309.9 1052.5 L310.9 1052.5 L311.9 1052.6 L312.9 1052.7 L313.9 1052.8 L314.9 1052.9 L315.9 1052.9 L317.0 1052.9 L318.0 1052.9 L319.0 1052.9 L320.0 1052.9 L321.0 1052.9 L322.0 1052.9 L323.0 1052.9 L324.0 1052.9 L325.0 1052.8 L326.0 1052.9 L327.0 1052.9 L328.0 1052.8 L329.0 1052.8 L330.0 1051.6 L331.0 1051.4 L332.0 1051.3 L333.0 1050.9 L334.0 1049.7 L335.0 1048.2 L336.0 1046.2 L337.0 1043.6 L338.0 1042.2 L339.0 1042.1 L340.0 1042.8 L341.0 1044.5 L342.0 1046.4 L343.0 1047.6 L344.0 1048.6 L345.0 1048.5 L346.0 1048.5 L347.0 1047.7 L348.0 1046.6 L349.0 1045.5 L350.0 1045.0 L351.0 1045.6 L352.0 1046.5 L353.0 1047.4 L354.0 1047.6 L355.0 1048.0 L356.0 1048.6 L357.0 1049.6 L358.0 1050.0 L359.0 1049.9 L360.1 1049.4 L361.1 1049.5 L362.1 1049.6 L363.1 1049.7 L364.1 1049.7 L365.1 1049.7 L366.1 1049.8 L367.1 1050.0 L368.1 1050.1 L369.1 1049.6 L370.1 1049.4 L371.1 1048.4 L372.1 1047.5 L373.1 1046.5 L374.1 1045.7 L375.1 1045.5 L376.1 1045.3 L377.1 1045.5 L378.1 1045.9 L379.1 1046.4 L380.1 1047.2 L381.1 1048.0 L382.1 1048.8 L383.1 1049.4 L384.1 1049.8 L385.1 1049.7 L386.1 1049.5 L387.1 1049.3 L388.1 1049.1 L389.1 1048.6 L390.1 1047.4 L391.1 1046.4 L392.1 1047.0 L393.1 1047.7 L394.1 1047.3 L395.1 1047.8 L396.1 1048.1 L397.1 1048.5 L398.1 1048.8 L399.1 1048.9 L400.1 1049.4 L401.1 1049.1 L402.1 1049.4 L403.1 1049.0 L404.2 1049.3 L405.2 1048.9 L406.2 1048.6 L407.2 1048.3 L408.2 1047.8 L409.2 1047.7 L410.2 1047.7 L411.2 1047.9 L412.2 1048.4 L413.2 1048.5 L414.2 1048.1 L415.2 1047.0 L416.2 1046.5 L417.2 1046.4 L418.2 1046.0 L419.2 1045.3 L420.2 1044.6 L421.2 1044.7 L422.2 1045.7 L423.2 1047.4 L424.2 1048.8 L425.2 1050.2 L425.2 1053Z" fill="#fcc030"/>
<line x1="164.6" y1="1053" x2="425.2" y2="1053" stroke="#fcc030" stroke-width="0.9"/>
<path d="M164.6 1073.5 L164.6 1073.1 L165.6 1073.0 L166.6 1072.7 L167.6 1072.2 L168.6 1071.8 L169.6 1072.1 L170.6 1072.7 L171.6 1072.9 L172.6 1072.9 L173.6 1072.8 L174.6 1072.7 L175.6 1072.7 L176.6 1072.8 L177.6 1072.9 L178.6 1073.1 L179.6 1073.1 L180.6 1073.1 L181.6 1073.2 L182.6 1073.1 L183.6 1073.1 L184.6 1073.1 L185.6 1073.1 L186.7 1073.0 L187.7 1072.9 L188.7 1072.8 L189.7 1072.8 L190.7 1072.6 L191.7 1072.5 L192.7 1072.3 L193.7 1072.2 L194.7 1072.2 L195.7 1072.2 L196.7 1072.0 L197.7 1071.6 L198.7 1071.3 L199.7 1071.7 L200.7 1072.3 L201.7 1072.7 L202.7 1072.8 L203.7 1072.6 L204.7 1072.4 L205.7 1072.3 L206.7 1072.5 L207.7 1072.9 L208.7 1073.1 L209.7 1073.1 L210.7 1073.2 L211.7 1073.2 L212.7 1073.2 L213.7 1073.1 L214.7 1073.0 L215.7 1072.5 L216.7 1072.3 L217.7 1072.0 L218.7 1072.0 L219.7 1072.7 L220.7 1072.9 L221.7 1073.2 L222.7 1073.2 L223.7 1073.2 L224.7 1073.2 L225.7 1073.2 L226.7 1073.0 L227.7 1072.7 L228.7 1072.0 L229.8 1071.0 L230.8 1069.7 L231.8 1068.7 L232.8 1067.7 L233.8 1068.6 L234.8 1070.3 L235.8 1071.4 L236.8 1072.0 L237.8 1071.9 L238.8 1071.2 L239.8 1070.2 L240.8 1069.3 L241.8 1068.8 L242.8 1068.9 L243.8 1069.7 L244.8 1070.8 L245.8 1071.5 L246.8 1071.8 L247.8 1071.6 L248.8 1071.1 L249.8 1070.8 L250.8 1070.7 L251.8 1070.7 L252.8 1071.4 L253.8 1072.5 L254.8 1073.1 L255.8 1073.1 L256.8 1073.2 L257.8 1073.2 L258.8 1073.2 L259.8 1073.1 L260.8 1073.0 L261.8 1072.9 L262.8 1072.9 L263.8 1073.0 L264.8 1073.0 L265.8 1073.2 L266.8 1073.1 L267.8 1073.1 L268.8 1073.1 L269.8 1073.1 L270.8 1073.0 L271.8 1073.0 L272.8 1072.9 L273.9 1072.6 L274.9 1072.3 L275.9 1072.3 L276.9 1072.5 L277.9 1072.8 L278.9 1072.9 L279.9 1072.9 L280.9 1072.7 L281.9 1072.4 L282.9 1072.4 L283.9 1072.2 L284.9 1072.2 L285.9 1072.2 L286.9 1072.4 L287.9 1072.5 L288.9 1072.5 L289.9 1072.4 L290.9 1072.6 L291.9 1072.8 L292.9 1072.8 L293.9 1072.7 L294.9 1072.5 L295.9 1072.5 L296.9 1072.6 L297.9 1072.9 L298.9 1073.0 L299.9 1073.1 L300.9 1073.2 L301.9 1073.2 L302.9 1073.2 L303.9 1073.2 L304.9 1073.1 L305.9 1073.5 L306.9 1073.5 L307.9 1073.5 L308.9 1073.5 L309.9 1073.5 L310.9 1073.5 L311.9 1073.5 L312.9 1073.5 L313.9 1073.5 L314.9 1073.4 L315.9 1073.4 L317.0 1073.3 L318.0 1073.3 L319.0 1073.4 L320.0 1073.4 L321.0 1073.5 L322.0 1073.4 L323.0 1073.4 L324.0 1073.4 L325.0 1073.4 L326.0 1073.4 L327.0 1073.3 L328.0 1073.3 L329.0 1073.3 L330.0 1072.5 L331.0 1072.8 L332.0 1073.0 L333.0 1072.9 L334.0 1072.6 L335.0 1072.2 L336.0 1071.6 L337.0 1071.0 L338.0 1070.8 L339.0 1071.2 L340.0 1071.6 L341.0 1072.2 L342.0 1072.6 L343.0 1072.9 L344.0 1073.0 L345.0 1073.0 L346.0 1072.7 L347.0 1072.3 L348.0 1071.5 L349.0 1070.8 L350.0 1070.0 L351.0 1069.8 L352.0 1070.1 L353.0 1070.9 L354.0 1071.6 L355.0 1072.3 L356.0 1072.7 L357.0 1073.0 L358.0 1073.0 L359.0 1073.1 L360.1 1073.1 L361.1 1073.1 L362.1 1072.9 L363.1 1072.8 L364.1 1072.8 L365.1 1073.1 L366.1 1073.1 L367.1 1073.1 L368.1 1073.2 L369.1 1073.1 L370.1 1073.1 L371.1 1073.2 L372.1 1073.1 L373.1 1073.1 L374.1 1073.2 L375.1 1073.2 L376.1 1073.2 L377.1 1073.2 L378.1 1073.1 L379.1 1073.1 L380.1 1073.1 L381.1 1073.2 L382.1 1073.1 L383.1 1072.9 L384.1 1072.3 L385.1 1072.0 L386.1 1071.5 L387.1 1071.0 L388.1 1070.7 L389.1 1070.9 L390.1 1071.4 L391.1 1071.6 L392.1 1071.7 L393.1 1071.8 L394.1 1071.9 L395.1 1071.9 L396.1 1072.1 L397.1 1072.3 L398.1 1072.4 L399.1 1072.5 L400.1 1072.7 L401.1 1072.7 L402.1 1072.7 L403.1 1072.7 L404.2 1072.8 L405.2 1072.8 L406.2 1072.5 L407.2 1072.3 L408.2 1072.0 L409.2 1071.5 L410.2 1070.7 L411.2 1070.7 L412.2 1071.2 L413.2 1071.5 L414.2 1071.5 L415.2 1071.2 L416.2 1071.2 L417.2 1071.1 L418.2 1070.6 L419.2 1070.2 L420.2 1070.1 L421.2 1070.4 L422.2 1071.1 L423.2 1071.9 L424.2 1072.5 L425.2 1072.9 L425.2 1073.5Z" fill="#6d6e71"/>
<line x1="164.6" y1="1073.5" x2="425.2" y2="1073.5" stroke="#6d6e71" stroke-width="0.9"/>
<path d="M164.6 1093.5 L164.6 1092.5 L165.6 1091.9 L166.6 1091.3 L167.6 1091.1 L168.6 1090.6 L169.6 1090.1 L170.6 1090.4 L171.6 1090.5 L172.6 1090.9 L173.6 1090.9 L174.6 1090.7 L175.6 1090.6 L176.6 1090.2 L177.6 1089.9 L178.6 1089.4 L179.6 1089.2 L180.6 1089.1 L181.6 1089.4 L182.6 1089.7 L183.6 1090.2 L184.6 1089.9 L185.6 1089.9 L186.7 1090.7 L187.7 1090.8 L188.7 1090.8 L189.7 1090.6 L190.7 1090.3 L191.7 1090.6 L192.7 1089.7 L193.7 1089.3 L194.7 1090.2 L195.7 1090.8 L196.7 1090.1 L197.7 1088.7 L198.7 1086.8 L199.7 1085.3 L200.7 1084.9 L201.7 1085.6 L202.7 1087.1 L203.7 1088.6 L204.7 1089.6 L205.7 1089.7 L206.7 1089.3 L207.7 1088.7 L208.7 1087.7 L209.7 1087.5 L210.7 1087.5 L211.7 1088.1 L212.7 1088.4 L213.7 1088.8 L214.7 1088.9 L215.7 1089.1 L216.7 1088.8 L217.7 1089.0 L218.7 1089.1 L219.7 1089.4 L220.7 1089.7 L221.7 1089.9 L222.7 1090.0 L223.7 1090.0 L224.7 1090.0 L225.7 1090.0 L226.7 1089.7 L227.7 1089.3 L228.7 1088.9 L229.8 1088.8 L230.8 1088.8 L231.8 1088.6 L232.8 1088.6 L233.8 1088.7 L234.8 1088.5 L235.8 1088.3 L236.8 1088.2 L237.8 1088.3 L238.8 1088.8 L239.8 1089.7 L240.8 1089.5 L241.8 1089.5 L242.8 1089.1 L243.8 1089.2 L244.8 1089.0 L245.8 1089.1 L246.8 1089.2 L247.8 1089.4 L248.8 1088.9 L249.8 1089.1 L250.8 1090.0 L251.8 1090.5 L252.8 1090.0 L253.8 1089.5 L254.8 1089.4 L255.8 1089.7 L256.8 1090.6 L257.8 1091.0 L258.8 1091.5 L259.8 1091.9 L260.8 1092.0 L261.8 1092.0 L262.8 1092.2 L263.8 1091.9 L264.8 1091.3 L265.8 1091.0 L266.8 1091.1 L267.8 1092.0 L268.8 1092.4 L269.8 1092.4 L270.8 1092.5 L271.8 1092.6 L272.8 1092.4 L273.9 1092.2 L274.9 1092.0 L275.9 1091.5 L276.9 1091.1 L277.9 1090.9 L278.9 1090.8 L279.9 1091.0 L280.9 1090.5 L281.9 1090.2 L282.9 1090.3 L283.9 1090.7 L284.9 1091.1 L285.9 1091.3 L286.9 1091.3 L287.9 1091.6 L288.9 1091.9 L289.9 1091.8 L290.9 1092.0 L291.9 1092.3 L292.9 1092.5 L293.9 1092.3 L294.9 1092.4 L295.9 1092.4 L296.9 1092.4 L297.9 1092.7 L298.9 1092.5 L299.9 1092.8 L300.9 1092.2 L301.9 1091.6 L302.9 1090.7 L303.9 1091.5 L304.9 1092.1 L305.9 1093.4 L306.9 1093.4 L307.9 1093.4 L308.9 1093.4 L309.9 1093.4 L310.9 1093.4 L311.9 1093.4 L312.9 1093.4 L313.9 1093.4 L314.9 1093.4 L315.9 1093.3 L317.0 1093.2 L318.0 1093.3 L319.0 1093.4 L320.0 1093.4 L321.0 1093.4 L322.0 1093.3 L323.0 1093.1 L324.0 1093.2 L325.0 1093.4 L326.0 1093.4 L327.0 1093.4 L328.0 1093.4 L329.0 1093.4 L330.0 1092.5 L331.0 1092.5 L332.0 1092.3 L333.0 1092.3 L334.0 1092.2 L335.0 1092.2 L336.0 1091.7 L337.0 1090.3 L338.0 1087.9 L339.0 1084.5 L340.0 1082.0 L341.0 1081.7 L342.0 1083.1 L343.0 1085.5 L344.0 1088.0 L345.0 1089.6 L346.0 1090.4 L347.0 1090.7 L348.0 1090.0 L349.0 1088.9 L350.0 1087.9 L351.0 1087.1 L352.0 1086.5 L353.0 1086.7 L354.0 1087.2 L355.0 1087.4 L356.0 1087.9 L357.0 1087.8 L358.0 1087.7 L359.0 1087.2 L360.1 1087.0 L361.1 1087.3 L362.1 1088.1 L363.1 1088.2 L364.1 1088.7 L365.1 1088.8 L366.1 1089.3 L367.1 1090.0 L368.1 1090.0 L369.1 1089.4 L370.1 1088.9 L371.1 1088.6 L372.1 1088.6 L373.1 1088.8 L374.1 1089.6 L375.1 1090.3 L376.1 1090.5 L377.1 1090.8 L378.1 1090.9 L379.1 1090.9 L380.1 1090.2 L381.1 1090.0 L382.1 1090.0 L383.1 1089.9 L384.1 1089.7 L385.1 1089.4 L386.1 1089.1 L387.1 1089.0 L388.1 1088.7 L389.1 1088.9 L390.1 1089.0 L391.1 1089.4 L392.1 1089.7 L393.1 1089.6 L394.1 1089.6 L395.1 1089.7 L396.1 1090.1 L397.1 1090.4 L398.1 1090.8 L399.1 1090.8 L400.1 1090.4 L401.1 1090.2 L402.1 1090.6 L403.1 1090.9 L404.2 1091.3 L405.2 1091.8 L406.2 1091.8 L407.2 1091.8 L408.2 1091.9 L409.2 1091.9 L410.2 1091.7 L411.2 1091.1 L412.2 1090.3 L413.2 1088.9 L414.2 1086.9 L415.2 1085.8 L416.2 1085.2 L417.2 1085.0 L418.2 1087.8 L419.2 1090.0 L420.2 1090.8 L421.2 1090.8 L422.2 1089.9 L423.2 1088.5 L424.2 1088.1 L425.2 1089.4 L425.2 1093.5Z" fill="#fcc030"/>
<line x1="164.6" y1="1093.5" x2="425.2" y2="1093.5" stroke="#fcc030" stroke-width="0.9"/>
<text x="55.8" y="990.8" font-size="7.7" fill="#231f20">Control</text>
<text x="55.8" y="1009.6" font-size="7.7" fill="#231f20">+Abema</text>
<text x="55.8" y="1030.4" font-size="7.7" fill="#231f20">Control</text>
<text x="55.8" y="1049.3" font-size="7.7" fill="#231f20">+INX-315</text>
<text x="55.8" y="1069.3" font-size="7.7" fill="#231f20">Control</text>
<text x="55.8" y="1089.3" font-size="7.7" fill="#231f20">+INX-315</text>
<line x1="262.8" y1="1104.1" x2="424.6" y2="1104.1" stroke="#2b3990" stroke-width="1.2"/>
<rect x="262.8" y="1102" width="47.5" height="4.2" fill="#2b3990"/>
<rect x="340.6" y="1100.5" width="4.4" height="7.2" fill="#2b3990"/>
<rect x="393.6" y="1100.5" width="3.6" height="7.2" fill="#2b3990"/>
<rect x="413.7" y="1100.5" width="7.3" height="7.2" fill="#2b3990"/>
<line x1="374" y1="1115" x2="346" y2="1115" stroke="#000" stroke-width="1.2"/>
<path d="M339 1115L349.3 1111L346.9 1115L349.3 1119Z" fill="#000"/>
<text x="377.5" y="1117.7" font-size="7.6" fill="#231f20" font-style="italic">IGFBP3</text>
<rect x="205.2" y="1140" width="52.6" height="104" fill="#e8ebef"/>
<rect x="16.8" y="1140.8" width="33.5" height="29.7" fill="#e9ecef"/>
<text x="34.6" y="1158.35" font-size="7.6" fill="#231f20" text-anchor="middle">Parent</text>
<rect x="16.8" y="1172.8" width="33.5" height="28" fill="#e9ecef"/>
<text x="34.6" y="1184.9" font-size="7.6" fill="#231f20" text-anchor="middle">Abema-</text>
<text x="34.6" y="1194.1" font-size="7.6" fill="#231f20" text-anchor="middle">Res</text>
<rect x="16.8" y="1203" width="33.5" height="30.4" fill="#e9ecef"/>
<text x="34.6" y="1211.7" font-size="7.6" fill="#231f20" text-anchor="middle">Abema/</text>
<text x="34.6" y="1220.9" font-size="7.6" fill="#231f20" text-anchor="middle">Fulv-</text>
<text x="34.6" y="1230.1" font-size="7.6" fill="#231f20" text-anchor="middle">Res</text>
<line x1="51.3" y1="1133.5" x2="281" y2="1133.5" stroke="#000" stroke-width="1"/>
<line x1="51.4" y1="1129.3" x2="51.4" y2="1136.8" stroke="#000" stroke-width="1"/>
<line x1="280.9" y1="1129.3" x2="280.9" y2="1136.8" stroke="#000" stroke-width="1"/>
<text x="157" y="1128.6" font-size="7.7" fill="#231f20" text-anchor="middle">chr6:43,783,000-43,792,000</text>
<line x1="281.5" y1="1142" x2="281.5" y2="1154" stroke="#000" stroke-width="1"/>
<text x="284.6" y="1147" font-size="7.4" fill="#231f20">34</text>
<text x="286.8" y="1155.8" font-size="7.4" fill="#231f20">0</text>
<path d="M51.4 1153.7 L51.4 1153.5 L52.4 1153.5 L53.4 1153.5 L54.4 1153.4 L55.4 1153.4 L56.4 1153.3 L57.4 1153.4 L58.4 1153.3 L59.4 1153.4 L60.4 1153.4 L61.4 1153.4 L62.4 1153.4 L63.4 1153.4 L64.4 1153.3 L65.4 1153.3 L66.4 1153.3 L67.4 1153.3 L68.4 1153.4 L69.4 1153.4 L70.4 1153.5 L71.4 1153.5 L72.4 1153.5 L73.4 1153.4 L74.5 1153.3 L75.5 1153.3 L76.5 1153.3 L77.5 1153.4 L78.5 1153.5 L79.5 1153.4 L80.5 1153.5 L81.5 1153.5 L82.5 1153.5 L83.5 1153.4 L84.5 1153.4 L85.5 1153.4 L86.5 1153.4 L87.5 1153.4 L88.5 1153.5 L89.5 1153.5 L90.5 1153.5 L91.5 1153.5 L92.5 1153.5 L93.5 1153.5 L94.5 1153.5 L95.5 1153.5 L96.5 1153.5 L97.5 1153.5 L98.5 1153.5 L99.5 1153.5 L100.5 1153.5 L101.5 1153.5 L102.5 1153.5 L103.5 1153.5 L104.5 1153.5 L105.5 1153.5 L106.5 1153.5 L107.5 1153.5 L108.5 1153.5 L109.5 1153.5 L110.5 1153.2 L111.5 1153.2 L112.5 1153.4 L113.5 1153.4 L114.5 1153.3 L115.5 1153.1 L116.5 1153.2 L117.5 1153.3 L118.5 1153.3 L119.5 1153.4 L120.6 1153.4 L121.6 1153.5 L122.6 1153.5 L123.6 1153.5 L124.6 1153.5 L125.6 1153.5 L126.6 1153.5 L127.6 1153.4 L128.6 1153.4 L129.6 1153.3 L130.6 1153.2 L131.6 1153.3 L132.6 1153.2 L133.6 1153.2 L134.6 1153.2 L135.6 1153.3 L136.6 1153.4 L137.6 1153.4 L138.6 1153.5 L139.6 1153.5 L140.6 1153.4 L141.6 1153.5 L142.6 1153.4 L143.6 1153.3 L144.6 1153.4 L145.6 1153.4 L146.6 1153.4 L147.6 1153.3 L148.6 1153.3 L149.6 1153.4 L150.6 1153.4 L151.6 1153.4 L152.6 1153.1 L153.6 1153.2 L154.6 1153.2 L155.6 1153.2 L156.6 1153.2 L157.6 1153.3 L158.6 1153.3 L159.6 1153.3 L160.6 1153.4 L161.6 1153.4 L162.6 1153.5 L163.6 1153.5 L164.6 1153.5 L165.6 1153.5 L166.7 1153.4 L167.7 1153.4 L168.7 1153.4 L169.7 1153.4 L170.7 1153.5 L171.7 1153.5 L172.7 1153.5 L173.7 1153.4 L174.7 1153.3 L175.7 1153.3 L176.7 1153.4 L177.7 1153.5 L178.7 1153.5 L179.7 1153.4 L180.7 1153.4 L181.7 1153.5 L182.7 1153.4 L183.7 1153.4 L184.7 1153.4 L185.7 1153.4 L186.7 1153.4 L187.7 1153.4 L188.7 1153.5 L189.7 1153.5 L190.7 1153.5 L191.7 1153.5 L192.7 1153.5 L193.7 1153.5 L194.7 1153.5 L195.7 1153.5 L196.7 1153.5 L197.7 1153.5 L198.7 1153.5 L199.7 1153.5 L200.7 1153.5 L201.7 1153.5 L202.7 1153.5 L203.7 1153.5 L204.7 1153.5 L205.7 1153.5 L206.7 1153.5 L207.7 1153.5 L208.7 1153.5 L209.7 1153.5 L210.7 1153.5 L211.7 1153.5 L212.8 1153.5 L213.8 1153.5 L214.8 1153.5 L215.8 1153.4 L216.8 1153.5 L217.8 1153.5 L218.8 1153.5 L219.8 1153.4 L220.8 1153.5 L221.8 1153.5 L222.8 1153.5 L223.8 1153.4 L224.8 1153.4 L225.8 1153.2 L226.8 1152.7 L227.8 1151.4 L228.8 1150.2 L229.8 1150.4 L230.8 1151.2 L231.8 1151.6 L232.8 1151.5 L233.8 1151.4 L234.8 1151.4 L235.8 1151.5 L236.8 1151.6 L237.8 1151.6 L238.8 1151.5 L239.8 1151.6 L240.8 1151.7 L241.8 1152.1 L242.8 1152.6 L243.8 1153.0 L244.8 1153.2 L245.8 1153.3 L246.8 1153.2 L247.8 1153.1 L248.8 1153.0 L249.8 1153.0 L250.8 1153.1 L251.8 1153.2 L252.8 1153.3 L253.8 1153.4 L254.8 1153.5 L255.8 1153.5 L256.8 1153.5 L257.8 1153.5 L258.9 1153.5 L259.9 1153.5 L260.9 1153.5 L261.9 1153.5 L262.9 1153.5 L263.9 1153.5 L264.9 1153.5 L265.9 1153.5 L266.9 1153.5 L267.9 1153.5 L268.9 1153.4 L269.9 1153.4 L270.9 1153.5 L271.9 1153.5 L272.9 1153.5 L273.9 1153.5 L274.9 1153.5 L275.9 1153.5 L276.9 1153.5 L277.9 1153.5 L278.9 1153.5 L279.9 1153.5 L280.9 1153.5 L280.9 1153.7Z" fill="#6d6e71"/>
<line x1="51.4" y1="1153.7" x2="280.9" y2="1153.7" stroke="#6d6e71" stroke-width="0.9"/>
<path d="M51.4 1169.2 L51.4 1168.6 L52.4 1168.6 L53.4 1168.5 L54.4 1168.6 L55.4 1168.6 L56.4 1168.5 L57.4 1168.3 L58.4 1168.2 L59.4 1168.2 L60.4 1168.0 L61.4 1167.7 L62.4 1167.3 L63.4 1167.5 L64.4 1167.9 L65.4 1167.9 L66.4 1168.0 L67.4 1168.0 L68.4 1167.9 L69.4 1167.7 L70.4 1167.7 L71.4 1167.8 L72.4 1167.7 L73.4 1167.6 L74.5 1167.9 L75.5 1168.1 L76.5 1168.3 L77.5 1168.3 L78.5 1168.4 L79.5 1168.6 L80.5 1168.7 L81.5 1168.6 L82.5 1168.7 L83.5 1168.6 L84.5 1168.8 L85.5 1168.8 L86.5 1168.6 L87.5 1168.7 L88.5 1168.7 L89.5 1168.7 L90.5 1168.7 L91.5 1168.7 L92.5 1168.8 L93.5 1168.7 L94.5 1168.4 L95.5 1168.3 L96.5 1168.4 L97.5 1168.6 L98.5 1168.4 L99.5 1168.2 L100.5 1167.8 L101.5 1167.8 L102.5 1167.8 L103.5 1168.1 L104.5 1168.2 L105.5 1168.4 L106.5 1168.4 L107.5 1168.5 L108.5 1168.5 L109.5 1168.5 L110.5 1168.5 L111.5 1168.6 L112.5 1168.6 L113.5 1168.6 L114.5 1168.8 L115.5 1168.7 L116.5 1168.7 L117.5 1168.8 L118.5 1168.8 L119.5 1168.7 L120.6 1168.7 L121.6 1168.7 L122.6 1168.7 L123.6 1168.8 L124.6 1168.9 L125.6 1168.7 L126.6 1168.8 L127.6 1168.7 L128.6 1168.9 L129.6 1168.7 L130.6 1168.8 L131.6 1168.8 L132.6 1168.9 L133.6 1168.8 L134.6 1168.8 L135.6 1168.8 L136.6 1168.7 L137.6 1168.8 L138.6 1168.7 L139.6 1168.5 L140.6 1168.3 L141.6 1168.2 L142.6 1168.2 L143.6 1168.3 L144.6 1168.4 L145.6 1168.6 L146.6 1168.5 L147.6 1168.2 L148.6 1168.2 L149.6 1167.9 L150.6 1168.1 L151.6 1168.2 L152.6 1168.0 L153.6 1167.7 L154.6 1167.7 L155.6 1167.9 L156.6 1167.8 L157.6 1167.7 L158.6 1167.6 L159.6 1167.7 L160.6 1167.7 L161.6 1167.6 L162.6 1167.6 L163.6 1167.7 L164.6 1167.6 L165.6 1167.5 L166.7 1167.6 L167.7 1167.9 L168.7 1168.3 L169.7 1168.6 L170.7 1168.5 L171.7 1168.6 L172.7 1168.7 L173.7 1168.7 L174.7 1168.6 L175.7 1168.3 L176.7 1168.2 L177.7 1168.0 L178.7 1168.1 L179.7 1168.1 L180.7 1168.3 L181.7 1168.6 L182.7 1168.7 L183.7 1168.7 L184.7 1168.8 L185.7 1168.7 L186.7 1168.3 L187.7 1168.3 L188.7 1168.7 L189.7 1168.8 L190.7 1168.7 L191.7 1168.6 L192.7 1168.7 L193.7 1168.5 L194.7 1168.4 L195.7 1168.3 L196.7 1168.1 L197.7 1167.9 L198.7 1167.9 L199.7 1167.7 L200.7 1167.9 L201.7 1168.0 L202.7 1168.1 L203.7 1168.2 L204.7 1168.3 L205.7 1168.6 L206.7 1168.6 L207.7 1168.6 L208.7 1168.8 L209.7 1168.7 L210.7 1168.8 L211.7 1168.8 L212.8 1168.8 L213.8 1168.6 L214.8 1168.7 L215.8 1168.6 L216.8 1168.6 L217.8 1168.7 L218.8 1168.7 L219.8 1168.6 L220.8 1168.6 L221.8 1168.6 L222.8 1168.2 L223.8 1168.0 L224.8 1167.7 L225.8 1167.1 L226.8 1165.5 L227.8 1161.2 L228.8 1156.8 L229.8 1158.3 L230.8 1162.3 L231.8 1164.4 L232.8 1165.0 L233.8 1165.2 L234.8 1165.4 L235.8 1165.9 L236.8 1166.1 L237.8 1166.1 L238.8 1166.2 L239.8 1166.1 L240.8 1166.5 L241.8 1167.0 L242.8 1167.6 L243.8 1168.2 L244.8 1168.6 L245.8 1168.6 L246.8 1168.6 L247.8 1168.5 L248.8 1168.4 L249.8 1168.6 L250.8 1168.7 L251.8 1168.8 L252.8 1168.6 L253.8 1168.1 L254.8 1168.3 L255.8 1168.6 L256.8 1168.8 L257.8 1168.8 L258.9 1168.8 L259.9 1168.9 L260.9 1168.8 L261.9 1168.8 L262.9 1168.8 L263.9 1168.7 L264.9 1168.8 L265.9 1168.8 L266.9 1168.6 L267.9 1168.5 L268.9 1168.3 L269.9 1168.1 L270.9 1168.1 L271.9 1168.1 L272.9 1168.0 L273.9 1168.0 L274.9 1168.0 L275.9 1168.0 L276.9 1168.1 L277.9 1168.3 L278.9 1168.6 L279.9 1168.6 L280.9 1168.6 L280.9 1169.2Z" fill="#1b75bc"/>
<line x1="51.4" y1="1169.2" x2="280.9" y2="1169.2" stroke="#1b75bc" stroke-width="0.9"/>
<path d="M51.4 1185.8 L51.4 1185.5 L52.4 1185.4 L53.4 1185.4 L54.4 1185.1 L55.4 1185.1 L56.4 1185.3 L57.4 1185.4 L58.4 1185.5 L59.4 1185.6 L60.4 1185.6 L61.4 1185.6 L62.4 1185.5 L63.4 1185.5 L64.4 1185.4 L65.4 1185.4 L66.4 1185.5 L67.4 1185.5 L68.4 1185.6 L69.4 1185.6 L70.4 1185.6 L71.4 1185.6 L72.4 1185.6 L73.4 1185.6 L74.5 1185.6 L75.5 1185.6 L76.5 1185.6 L77.5 1185.6 L78.5 1185.6 L79.5 1185.6 L80.5 1185.6 L81.5 1185.5 L82.5 1185.5 L83.5 1185.5 L84.5 1185.5 L85.5 1185.6 L86.5 1185.6 L87.5 1185.5 L88.5 1185.5 L89.5 1185.4 L90.5 1185.4 L91.5 1185.4 L92.5 1185.5 L93.5 1185.5 L94.5 1185.6 L95.5 1185.5 L96.5 1185.5 L97.5 1185.5 L98.5 1185.4 L99.5 1185.4 L100.5 1185.4 L101.5 1185.5 L102.5 1185.5 L103.5 1185.6 L104.5 1185.6 L105.5 1185.5 L106.5 1185.3 L107.5 1185.3 L108.5 1185.5 L109.5 1185.6 L110.5 1185.6 L111.5 1185.5 L112.5 1185.5 L113.5 1185.4 L114.5 1185.3 L115.5 1185.2 L116.5 1185.3 L117.5 1185.3 L118.5 1185.3 L119.5 1185.4 L120.6 1185.5 L121.6 1185.5 L122.6 1185.6 L123.6 1185.5 L124.6 1185.6 L125.6 1185.6 L126.6 1185.6 L127.6 1185.6 L128.6 1185.5 L129.6 1185.6 L130.6 1185.6 L131.6 1185.6 L132.6 1185.5 L133.6 1185.6 L134.6 1185.2 L135.6 1185.1 L136.6 1185.2 L137.6 1185.4 L138.6 1185.5 L139.6 1185.6 L140.6 1185.5 L141.6 1185.3 L142.6 1185.3 L143.6 1185.5 L144.6 1185.6 L145.6 1185.6 L146.6 1185.6 L147.6 1185.6 L148.6 1185.6 L149.6 1185.5 L150.6 1185.6 L151.6 1185.6 L152.6 1185.6 L153.6 1185.6 L154.6 1185.6 L155.6 1185.5 L156.6 1185.6 L157.6 1185.5 L158.6 1185.6 L159.6 1185.6 L160.6 1185.6 L161.6 1185.6 L162.6 1185.6 L163.6 1185.5 L164.6 1185.6 L165.6 1185.5 L166.7 1185.5 L167.7 1185.5 L168.7 1185.5 L169.7 1185.5 L170.7 1185.5 L171.7 1185.5 L172.7 1185.6 L173.7 1185.6 L174.7 1185.6 L175.7 1185.6 L176.7 1185.6 L177.7 1185.6 L178.7 1185.4 L179.7 1185.5 L180.7 1185.6 L181.7 1185.6 L182.7 1185.6 L183.7 1185.6 L184.7 1185.6 L185.7 1185.5 L186.7 1185.4 L187.7 1185.4 L188.7 1185.3 L189.7 1185.4 L190.7 1185.4 L191.7 1185.4 L192.7 1185.5 L193.7 1185.5 L194.7 1185.5 L195.7 1185.6 L196.7 1185.6 L197.7 1185.6 L198.7 1185.6 L199.7 1185.6 L200.7 1185.6 L201.7 1185.6 L202.7 1185.6 L203.7 1185.6 L204.7 1185.6 L205.7 1185.6 L206.7 1185.6 L207.7 1185.6 L208.7 1185.6 L209.7 1185.6 L210.7 1185.6 L211.7 1185.6 L212.8 1185.6 L213.8 1185.6 L214.8 1185.6 L215.8 1185.6 L216.8 1185.6 L217.8 1185.5 L218.8 1185.5 L219.8 1185.4 L220.8 1185.4 L221.8 1185.3 L222.8 1185.3 L223.8 1185.3 L224.8 1185.2 L225.8 1185.0 L226.8 1184.0 L227.8 1181.4 L228.8 1178.6 L229.8 1179.4 L230.8 1181.8 L231.8 1182.8 L232.8 1182.9 L233.8 1183.0 L234.8 1183.3 L235.8 1183.6 L236.8 1184.0 L237.8 1184.3 L238.8 1184.6 L239.8 1184.7 L240.8 1184.6 L241.8 1184.4 L242.8 1184.6 L243.8 1185.1 L244.8 1185.4 L245.8 1185.5 L246.8 1185.5 L247.8 1185.3 L248.8 1185.2 L249.8 1185.1 L250.8 1185.0 L251.8 1185.1 L252.8 1185.2 L253.8 1185.3 L254.8 1185.4 L255.8 1185.5 L256.8 1185.6 L257.8 1185.6 L258.9 1185.6 L259.9 1185.6 L260.9 1185.6 L261.9 1185.6 L262.9 1185.6 L263.9 1185.6 L264.9 1185.6 L265.9 1185.5 L266.9 1185.6 L267.9 1185.6 L268.9 1185.6 L269.9 1185.6 L270.9 1185.6 L271.9 1185.6 L272.9 1185.6 L273.9 1185.6 L274.9 1185.6 L275.9 1185.6 L276.9 1185.6 L277.9 1185.3 L278.9 1185.5 L279.9 1185.5 L280.9 1185.6 L280.9 1185.8Z" fill="#6d6e71"/>
<line x1="51.4" y1="1185.8" x2="280.9" y2="1185.8" stroke="#6d6e71" stroke-width="0.9"/>
<path d="M51.4 1201.6 L51.4 1201.2 L52.4 1201.1 L53.4 1201.1 L54.4 1201.3 L55.4 1201.2 L56.4 1201.2 L57.4 1201.2 L58.4 1201.1 L59.4 1201.2 L60.4 1201.2 L61.4 1200.8 L62.4 1200.5 L63.4 1200.6 L64.4 1200.9 L65.4 1200.9 L66.4 1200.6 L67.4 1200.4 L68.4 1200.4 L69.4 1200.2 L70.4 1200.0 L71.4 1200.0 L72.4 1200.4 L73.4 1200.6 L74.5 1200.7 L75.5 1200.5 L76.5 1200.5 L77.5 1200.3 L78.5 1200.3 L79.5 1200.4 L80.5 1200.3 L81.5 1200.3 L82.5 1200.4 L83.5 1200.5 L84.5 1200.4 L85.5 1200.6 L86.5 1200.6 L87.5 1200.9 L88.5 1200.8 L89.5 1201.0 L90.5 1201.0 L91.5 1201.0 L92.5 1201.2 L93.5 1201.2 L94.5 1201.0 L95.5 1200.8 L96.5 1200.5 L97.5 1200.6 L98.5 1200.7 L99.5 1201.1 L100.5 1201.1 L101.5 1201.3 L102.5 1201.0 L103.5 1200.6 L104.5 1200.8 L105.5 1201.1 L106.5 1201.2 L107.5 1201.1 L108.5 1201.1 L109.5 1201.2 L110.5 1201.1 L111.5 1201.1 L112.5 1201.2 L113.5 1201.2 L114.5 1201.1 L115.5 1201.2 L116.5 1201.2 L117.5 1201.2 L118.5 1201.2 L119.5 1201.2 L120.6 1201.1 L121.6 1201.1 L122.6 1201.1 L123.6 1201.2 L124.6 1201.0 L125.6 1201.0 L126.6 1201.1 L127.6 1201.1 L128.6 1201.1 L129.6 1201.1 L130.6 1201.1 L131.6 1201.3 L132.6 1201.3 L133.6 1201.1 L134.6 1201.3 L135.6 1201.2 L136.6 1201.2 L137.6 1201.2 L138.6 1201.3 L139.6 1201.2 L140.6 1201.2 L141.6 1201.3 L142.6 1201.1 L143.6 1200.9 L144.6 1201.0 L145.6 1200.9 L146.6 1200.8 L147.6 1200.7 L148.6 1200.6 L149.6 1200.7 L150.6 1200.9 L151.6 1201.1 L152.6 1201.1 L153.6 1201.2 L154.6 1201.1 L155.6 1201.2 L156.6 1201.2 L157.6 1201.1 L158.6 1201.1 L159.6 1201.1 L160.6 1200.8 L161.6 1200.8 L162.6 1200.8 L163.6 1200.6 L164.6 1200.5 L165.6 1200.4 L166.7 1200.4 L167.7 1200.2 L168.7 1200.0 L169.7 1199.9 L170.7 1199.9 L171.7 1200.0 L172.7 1200.3 L173.7 1200.4 L174.7 1200.4 L175.7 1200.5 L176.7 1200.8 L177.7 1200.9 L178.7 1200.9 L179.7 1200.7 L180.7 1200.5 L181.7 1200.6 L182.7 1200.8 L183.7 1201.0 L184.7 1201.0 L185.7 1200.9 L186.7 1201.0 L187.7 1200.9 L188.7 1200.9 L189.7 1201.0 L190.7 1200.9 L191.7 1200.8 L192.7 1200.6 L193.7 1200.7 L194.7 1200.7 L195.7 1200.6 L196.7 1200.5 L197.7 1200.3 L198.7 1200.1 L199.7 1200.3 L200.7 1200.4 L201.7 1200.4 L202.7 1200.8 L203.7 1200.8 L204.7 1201.1 L205.7 1201.2 L206.7 1201.2 L207.7 1201.1 L208.7 1201.2 L209.7 1201.1 L210.7 1200.9 L211.7 1200.7 L212.8 1200.6 L213.8 1200.6 L214.8 1200.8 L215.8 1200.8 L216.8 1200.6 L217.8 1201.0 L218.8 1201.1 L219.8 1201.0 L220.8 1201.0 L221.8 1200.6 L222.8 1200.5 L223.8 1200.3 L224.8 1200.1 L225.8 1199.6 L226.8 1198.2 L227.8 1194.2 L228.8 1189.6 L229.8 1190.9 L230.8 1195.1 L231.8 1196.5 L232.8 1196.9 L233.8 1197.4 L234.8 1197.6 L235.8 1198.0 L236.8 1198.3 L237.8 1198.5 L238.8 1198.7 L239.8 1199.2 L240.8 1199.4 L241.8 1199.7 L242.8 1200.0 L243.8 1200.2 L244.8 1200.5 L245.8 1200.7 L246.8 1200.9 L247.8 1201.0 L248.8 1201.3 L249.8 1201.3 L250.8 1201.3 L251.8 1201.2 L252.8 1201.1 L253.8 1201.1 L254.8 1201.2 L255.8 1201.1 L256.8 1201.1 L257.8 1201.2 L258.9 1201.2 L259.9 1201.1 L260.9 1201.0 L261.9 1200.9 L262.9 1200.8 L263.9 1200.7 L264.9 1200.8 L265.9 1200.9 L266.9 1201.2 L267.9 1201.1 L268.9 1201.2 L269.9 1201.1 L270.9 1201.3 L271.9 1201.1 L272.9 1201.2 L273.9 1201.2 L274.9 1201.2 L275.9 1201.3 L276.9 1201.1 L277.9 1201.1 L278.9 1201.1 L279.9 1201.1 L280.9 1201.0 L280.9 1201.6Z" fill="#fcc030"/>
<line x1="51.4" y1="1201.6" x2="280.9" y2="1201.6" stroke="#fcc030" stroke-width="0.9"/>
<path d="M51.4 1217.5 L51.4 1217.3 L52.4 1217.3 L53.4 1217.3 L54.4 1217.3 L55.4 1217.3 L56.4 1217.3 L57.4 1217.3 L58.4 1217.3 L59.4 1217.3 L60.4 1217.3 L61.4 1217.3 L62.4 1217.3 L63.4 1217.3 L64.4 1217.3 L65.4 1217.3 L66.4 1217.3 L67.4 1217.3 L68.4 1217.3 L69.4 1217.3 L70.4 1217.3 L71.4 1217.2 L72.4 1217.2 L73.4 1217.2 L74.5 1217.3 L75.5 1217.3 L76.5 1217.3 L77.5 1217.3 L78.5 1217.3 L79.5 1217.3 L80.5 1217.3 L81.5 1217.3 L82.5 1217.3 L83.5 1217.3 L84.5 1217.3 L85.5 1217.3 L86.5 1217.3 L87.5 1217.3 L88.5 1217.3 L89.5 1217.2 L90.5 1217.3 L91.5 1217.2 L92.5 1217.2 L93.5 1217.0 L94.5 1216.8 L95.5 1216.9 L96.5 1217.1 L97.5 1217.2 L98.5 1217.2 L99.5 1217.3 L100.5 1217.3 L101.5 1217.3 L102.5 1217.3 L103.5 1217.3 L104.5 1217.3 L105.5 1217.3 L106.5 1217.2 L107.5 1217.3 L108.5 1217.3 L109.5 1217.3 L110.5 1217.2 L111.5 1217.2 L112.5 1217.1 L113.5 1216.9 L114.5 1216.9 L115.5 1216.9 L116.5 1217.0 L117.5 1217.1 L118.5 1217.2 L119.5 1217.3 L120.6 1217.3 L121.6 1217.3 L122.6 1217.3 L123.6 1217.2 L124.6 1217.2 L125.6 1217.1 L126.6 1217.1 L127.6 1217.1 L128.6 1217.2 L129.6 1217.2 L130.6 1217.3 L131.6 1217.3 L132.6 1217.3 L133.6 1217.3 L134.6 1217.3 L135.6 1217.3 L136.6 1217.3 L137.6 1217.2 L138.6 1217.2 L139.6 1217.2 L140.6 1217.2 L141.6 1217.2 L142.6 1217.3 L143.6 1217.2 L144.6 1217.3 L145.6 1217.3 L146.6 1217.3 L147.6 1217.3 L148.6 1217.2 L149.6 1217.1 L150.6 1217.0 L151.6 1217.0 L152.6 1217.2 L153.6 1217.2 L154.6 1217.2 L155.6 1217.2 L156.6 1217.2 L157.6 1217.2 L158.6 1217.2 L159.6 1217.2 L160.6 1217.2 L161.6 1217.2 L162.6 1216.9 L163.6 1217.0 L164.6 1217.2 L165.6 1217.2 L166.7 1217.2 L167.7 1217.3 L168.7 1217.2 L169.7 1217.1 L170.7 1217.0 L171.7 1217.1 L172.7 1217.1 L173.7 1217.1 L174.7 1217.2 L175.7 1217.2 L176.7 1217.2 L177.7 1217.2 L178.7 1217.2 L179.7 1217.1 L180.7 1217.1 L181.7 1217.1 L182.7 1217.2 L183.7 1217.3 L184.7 1217.3 L185.7 1217.3 L186.7 1217.3 L187.7 1217.3 L188.7 1217.3 L189.7 1217.3 L190.7 1217.3 L191.7 1217.3 L192.7 1217.3 L193.7 1217.3 L194.7 1217.3 L195.7 1217.3 L196.7 1217.3 L197.7 1217.3 L198.7 1217.2 L199.7 1216.9 L200.7 1216.8 L201.7 1216.9 L202.7 1216.8 L203.7 1216.8 L204.7 1216.9 L205.7 1217.1 L206.7 1217.2 L207.7 1217.2 L208.7 1217.2 L209.7 1216.9 L210.7 1217.0 L211.7 1217.0 L212.8 1217.0 L213.8 1216.9 L214.8 1216.9 L215.8 1217.0 L216.8 1217.1 L217.8 1217.3 L218.8 1217.2 L219.8 1217.3 L220.8 1217.2 L221.8 1217.1 L222.8 1216.9 L223.8 1216.7 L224.8 1216.4 L225.8 1215.8 L226.8 1214.5 L227.8 1211.6 L228.8 1208.7 L229.8 1209.7 L230.8 1212.6 L231.8 1214.0 L232.8 1214.3 L233.8 1214.2 L234.8 1213.6 L235.8 1213.5 L236.8 1214.3 L237.8 1215.5 L238.8 1216.3 L239.8 1216.8 L240.8 1217.0 L241.8 1217.1 L242.8 1217.2 L243.8 1217.3 L244.8 1217.2 L245.8 1217.3 L246.8 1217.2 L247.8 1217.1 L248.8 1217.1 L249.8 1217.1 L250.8 1217.1 L251.8 1217.2 L252.8 1217.2 L253.8 1217.2 L254.8 1217.2 L255.8 1217.3 L256.8 1217.3 L257.8 1217.3 L258.9 1217.3 L259.9 1217.3 L260.9 1217.3 L261.9 1217.3 L262.9 1217.3 L263.9 1217.3 L264.9 1217.3 L265.9 1217.2 L266.9 1217.2 L267.9 1217.0 L268.9 1216.9 L269.9 1217.0 L270.9 1217.1 L271.9 1217.2 L272.9 1217.2 L273.9 1217.3 L274.9 1217.3 L275.9 1217.3 L276.9 1217.3 L277.9 1217.3 L278.9 1217.3 L279.9 1217.3 L280.9 1217.3 L280.9 1217.5Z" fill="#6d6e71"/>
<line x1="51.4" y1="1217.5" x2="280.9" y2="1217.5" stroke="#6d6e71" stroke-width="0.9"/>
<path d="M51.4 1232.6 L51.4 1231.8 L52.4 1231.8 L53.4 1231.9 L54.4 1231.9 L55.4 1232.1 L56.4 1232.2 L57.4 1232.1 L58.4 1232.2 L59.4 1232.2 L60.4 1232.1 L61.4 1232.2 L62.4 1232.2 L63.4 1232.2 L64.4 1232.2 L65.4 1232.1 L66.4 1232.0 L67.4 1231.6 L68.4 1231.5 L69.4 1231.4 L70.4 1231.7 L71.4 1231.7 L72.4 1231.8 L73.4 1231.6 L74.5 1231.1 L75.5 1230.8 L76.5 1231.4 L77.5 1231.7 L78.5 1231.2 L79.5 1230.9 L80.5 1231.2 L81.5 1231.4 L82.5 1231.2 L83.5 1231.2 L84.5 1231.3 L85.5 1231.2 L86.5 1230.9 L87.5 1231.0 L88.5 1230.9 L89.5 1230.9 L90.5 1231.4 L91.5 1231.7 L92.5 1231.9 L93.5 1232.0 L94.5 1231.9 L95.5 1232.0 L96.5 1232.1 L97.5 1232.2 L98.5 1232.1 L99.5 1232.1 L100.5 1232.1 L101.5 1232.2 L102.5 1232.2 L103.5 1232.1 L104.5 1232.1 L105.5 1232.3 L106.5 1232.2 L107.5 1232.3 L108.5 1232.2 L109.5 1232.1 L110.5 1232.2 L111.5 1232.1 L112.5 1232.2 L113.5 1232.1 L114.5 1232.2 L115.5 1232.3 L116.5 1232.1 L117.5 1232.2 L118.5 1232.1 L119.5 1232.1 L120.6 1232.1 L121.6 1232.2 L122.6 1232.1 L123.6 1232.0 L124.6 1231.5 L125.6 1231.8 L126.6 1232.1 L127.6 1232.3 L128.6 1232.3 L129.6 1232.2 L130.6 1232.3 L131.6 1232.3 L132.6 1231.9 L133.6 1231.3 L134.6 1231.5 L135.6 1231.7 L136.6 1231.7 L137.6 1231.5 L138.6 1231.6 L139.6 1231.7 L140.6 1231.9 L141.6 1231.9 L142.6 1231.9 L143.6 1231.9 L144.6 1231.8 L145.6 1232.0 L146.6 1231.9 L147.6 1232.0 L148.6 1231.9 L149.6 1231.9 L150.6 1232.1 L151.6 1232.0 L152.6 1232.0 L153.6 1231.9 L154.6 1231.5 L155.6 1231.5 L156.6 1231.1 L157.6 1230.9 L158.6 1231.5 L159.6 1231.5 L160.6 1231.6 L161.6 1231.6 L162.6 1231.4 L163.6 1231.4 L164.6 1231.2 L165.6 1231.2 L166.7 1231.1 L167.7 1231.0 L168.7 1231.0 L169.7 1230.9 L170.7 1230.8 L171.7 1231.0 L172.7 1231.1 L173.7 1231.2 L174.7 1231.2 L175.7 1231.4 L176.7 1231.4 L177.7 1231.5 L178.7 1231.6 L179.7 1231.8 L180.7 1231.7 L181.7 1231.9 L182.7 1231.9 L183.7 1231.8 L184.7 1231.9 L185.7 1231.7 L186.7 1231.5 L187.7 1231.3 L188.7 1231.2 L189.7 1231.3 L190.7 1231.5 L191.7 1231.9 L192.7 1232.1 L193.7 1232.2 L194.7 1232.2 L195.7 1232.2 L196.7 1232.2 L197.7 1232.2 L198.7 1232.2 L199.7 1232.1 L200.7 1232.2 L201.7 1232.3 L202.7 1232.1 L203.7 1232.2 L204.7 1232.1 L205.7 1232.2 L206.7 1232.0 L207.7 1231.9 L208.7 1231.4 L209.7 1231.6 L210.7 1232.0 L211.7 1232.3 L212.8 1232.1 L213.8 1232.1 L214.8 1232.0 L215.8 1232.2 L216.8 1232.0 L217.8 1231.8 L218.8 1231.8 L219.8 1231.5 L220.8 1231.2 L221.8 1230.9 L222.8 1230.3 L223.8 1229.4 L224.8 1228.5 L225.8 1228.1 L226.8 1226.8 L227.8 1224.6 L228.8 1222.9 L229.8 1223.3 L230.8 1225.0 L231.8 1226.8 L232.8 1227.5 L233.8 1228.3 L234.8 1228.7 L235.8 1229.2 L236.8 1229.3 L237.8 1229.5 L238.8 1229.4 L239.8 1229.6 L240.8 1229.9 L241.8 1230.3 L242.8 1230.8 L243.8 1231.3 L244.8 1231.7 L245.8 1232.0 L246.8 1232.0 L247.8 1232.2 L248.8 1232.1 L249.8 1232.2 L250.8 1232.2 L251.8 1232.1 L252.8 1232.0 L253.8 1231.8 L254.8 1231.7 L255.8 1231.4 L256.8 1231.7 L257.8 1231.7 L258.9 1231.9 L259.9 1231.9 L260.9 1232.1 L261.9 1232.0 L262.9 1232.0 L263.9 1231.5 L264.9 1231.2 L265.9 1231.4 L266.9 1231.5 L267.9 1231.4 L268.9 1231.5 L269.9 1231.9 L270.9 1231.9 L271.9 1231.9 L272.9 1232.1 L273.9 1232.1 L274.9 1232.0 L275.9 1231.9 L276.9 1231.7 L277.9 1231.8 L278.9 1231.8 L279.9 1232.1 L280.9 1232.3 L280.9 1232.6Z" fill="#fcc030"/>
<line x1="51.4" y1="1232.6" x2="280.9" y2="1232.6" stroke="#fcc030" stroke-width="0.9"/>
<text x="53.5" y="1150.5" font-size="7.7" fill="#231f20">Control</text>
<text x="53.5" y="1166" font-size="7.7" fill="#231f20">+Abema</text>
<text x="53.5" y="1182.6" font-size="7.7" fill="#231f20">Control</text>
<text x="53.5" y="1198.4" font-size="7.7" fill="#231f20">+INX-315</text>
<text x="53.5" y="1214.3" font-size="7.7" fill="#231f20">Control</text>
<text x="53.5" y="1229.4" font-size="7.7" fill="#231f20">+INX-315</text>
<line x1="53.5" y1="1240.6" x2="143" y2="1240.6" stroke="#2b3990" stroke-width="1.2"/>
<rect x="92.3" y="1239" width="50.7" height="3.4" fill="#2b3990"/>
<rect x="92" y="1237.6" width="2.8" height="6.2" fill="#2b3990"/>
<line x1="53.5" y1="1252.2" x2="83" y2="1252.2" stroke="#000" stroke-width="1.2"/>
<path d="M90.8 1252.2L80.3 1248L82.8 1252.2L80.3 1256.4Z" fill="#000"/>
<text x="93.5" y="1254.9" font-size="7.6" fill="#231f20" font-style="italic">VEGFA</text>
<rect x="308.3" y="1157" width="10.4" height="10.4" fill="#a7a9ac"/>
<text x="323" y="1165" font-size="7.5" fill="#231f20">Control</text>
<rect x="308.3" y="1179" width="10.4" height="10.4" fill="#1b75bc"/>
<text x="323" y="1187" font-size="7.5" fill="#231f20">Abema</text>
<rect x="308.3" y="1200.8" width="10.4" height="10.4" fill="#fcbe3b"/>
<text x="323" y="1208.8" font-size="7.5" fill="#231f20">INX-315</text>
</svg>
</body></html>
